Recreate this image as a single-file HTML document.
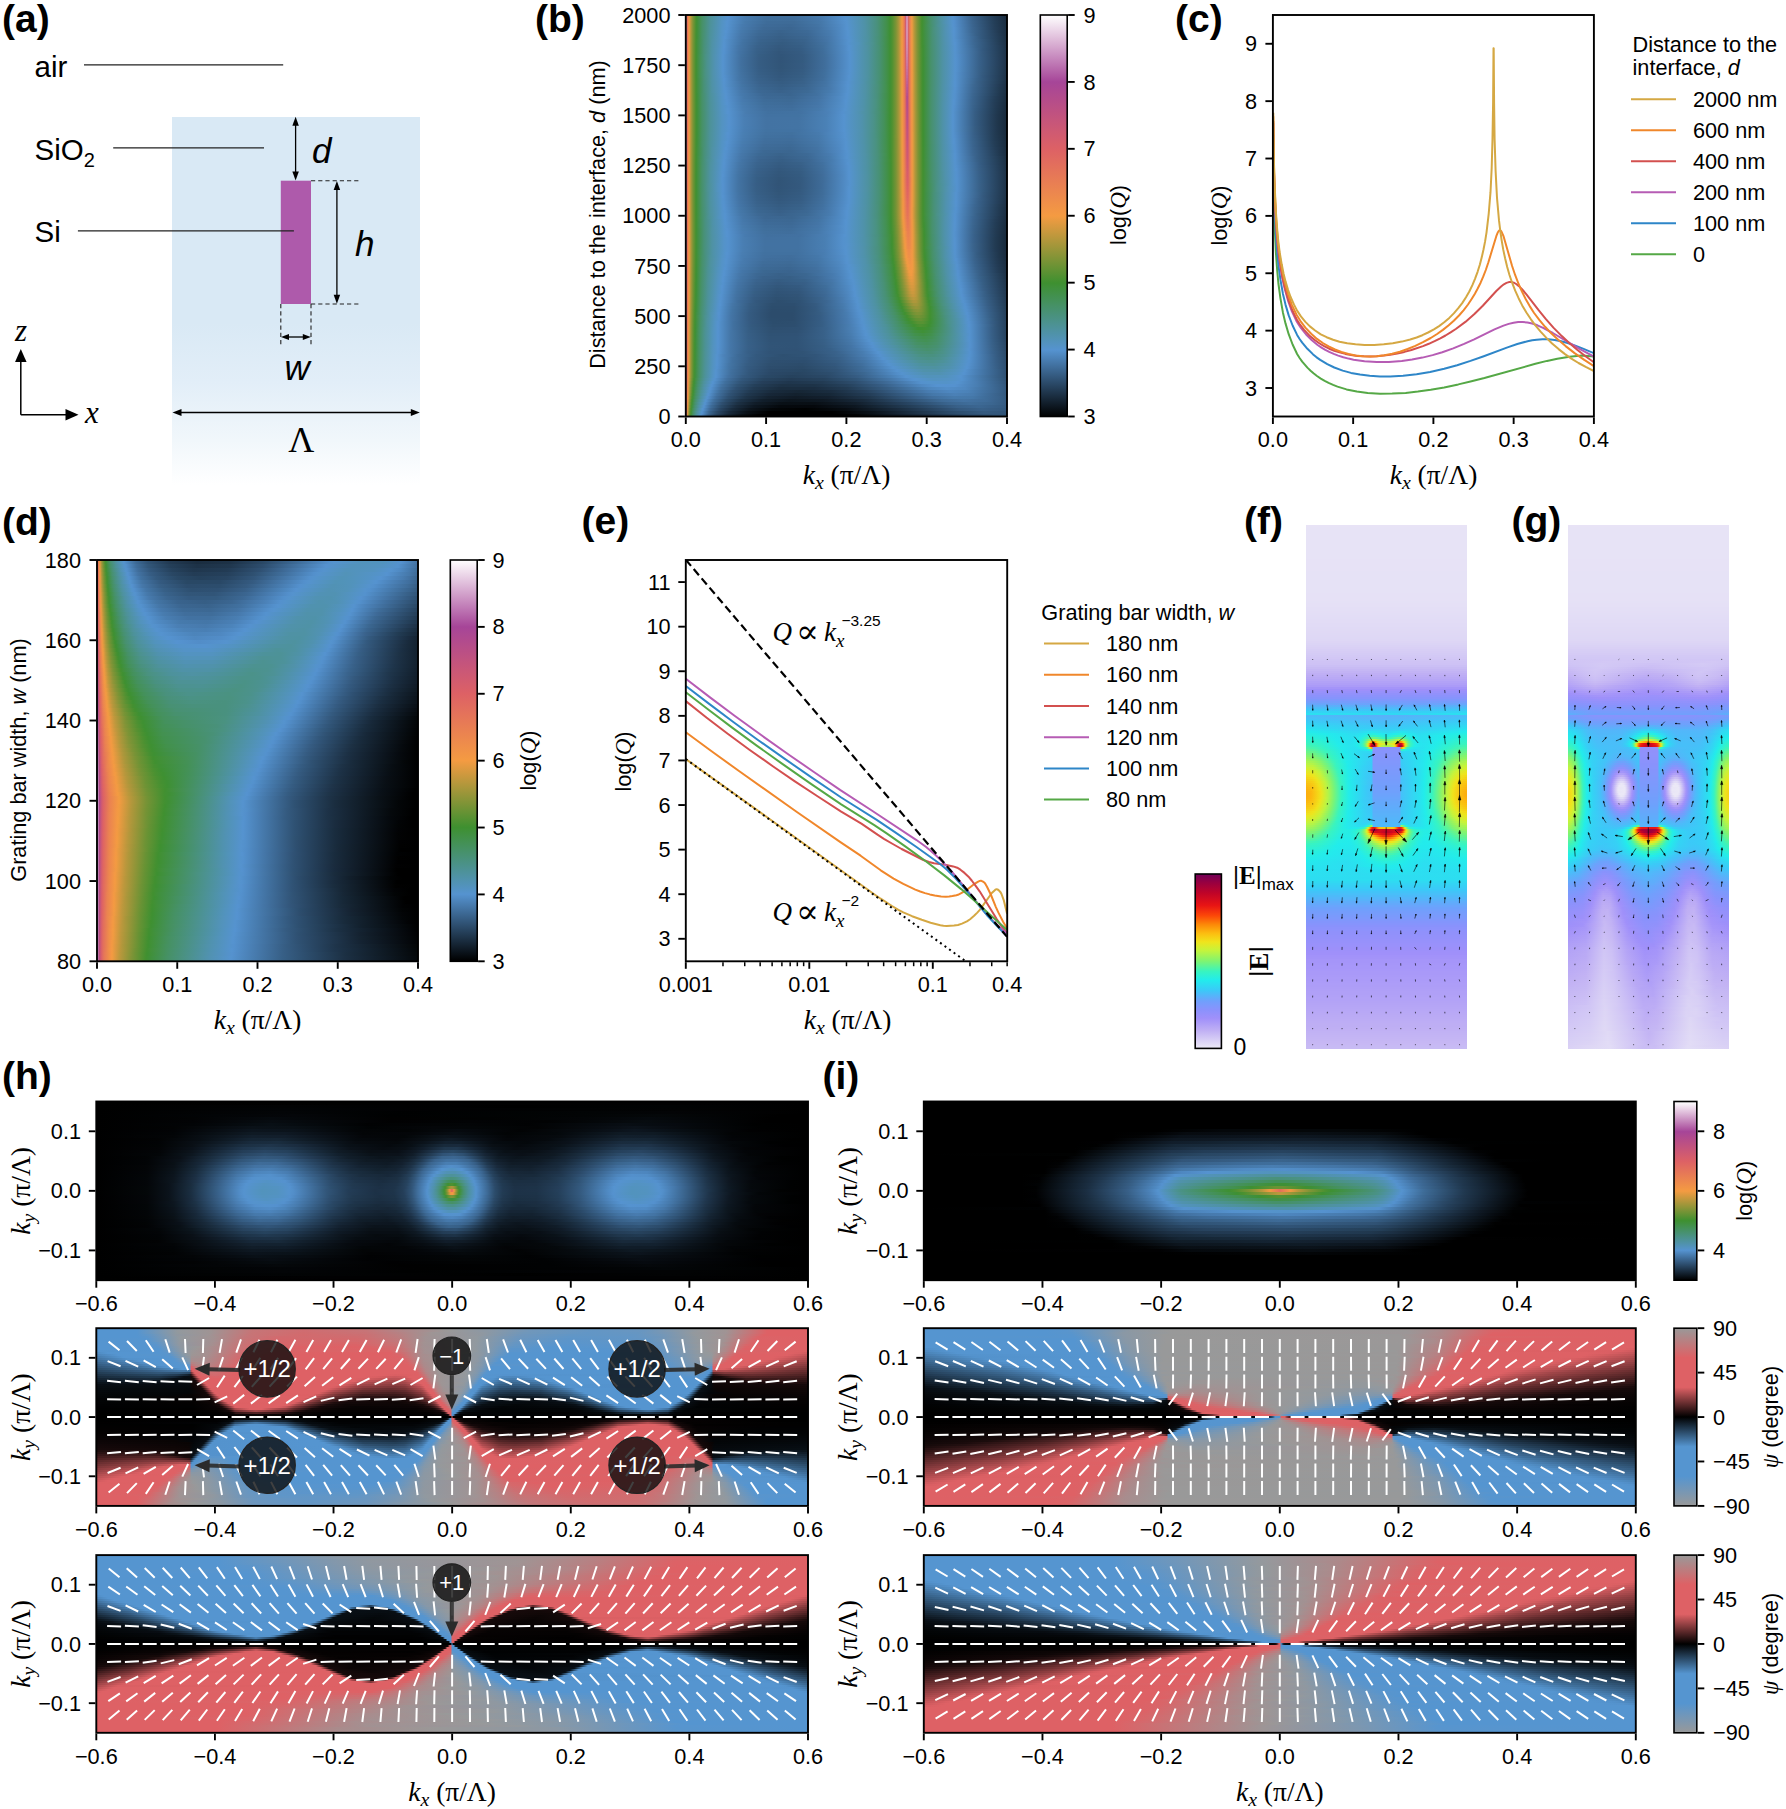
<!DOCTYPE html>
<html><head><meta charset="utf-8"><title>figure</title><style>html,body{margin:0;padding:0;background:#fff}
#p{position:relative;width:1786px;height:1809px;overflow:hidden;background:#fff;font-family:"Liberation Sans",sans-serif}
.hm,.cb{position:absolute}
.hm i{display:block}
svg{position:absolute;left:0;top:0}
</style></head><body><div id="p">
<div style="position:absolute;left:172.3px;top:116.6px;width:247.6px;height:368px;background:linear-gradient(180deg,#d9e9f5 0,#d9e9f5 56%,#e2eef8 72%,#f1f7fb 88%,#fff 100%)"></div>
<div class="hm" style="left:685.8px;top:15px;width:321px"><i style="height:3px;background:linear-gradient(90deg,#dbb3d5 0,#dd6165 1px,#eb8350 2px,#f39744 3px,#b0973b 5px,#7c9436 7px,#479131 10px,#3f9035 11px,#469165 16px,#4d9297 24px,#5393c2 36px,#5593d0 42px,#477bae 60px,#406f9d 82px,#406f9d 109px,#477bae 136px,#5491ce 158px,#5493ca 163px,#4e92a0 181px,#489174 193px,#419048 201px,#3e9033 204px,#599233 207px,#8d9538 211px,#c5983d 214px,#f39943 216px,#e97e53 218px,#e06861 219px,#bf5281 220px,#e1c0dc 221px,#cf5a72 222px,#e3715b 223px,#f19247 225px,#ed9b41 226px,#b9973c 228px,#819437 231px,#4c9131 235px,#409030 236px,#46916b 244px,#4f92a7 256px,#5493cc 266px,#5593d0 267px,#3b6690 285px,#243f59 307px,#192c3e 321px)"></i><i style="height:3px;background:linear-gradient(90deg,#dbb3d5 0,#dd6165 1px,#eb8350 2px,#f39844 3px,#b0973b 5px,#7c9436 7px,#469031 10px,#3f9035 11px,#469166 16px,#4d9298 24px,#5393c2 36px,#5592cf 42px,#487db1 57px,#406f9c 79px,#3f6d9a 106px,#4577a9 133px,#5593cf 160px,#4f92a9 178px,#4a9281 190px,#42914f 200px,#3e9033 204px,#4e9132 206px,#7e9436 210px,#b0973b 213px,#f39943 216px,#e97e53 218px,#e06960 219px,#c05280 220px,#e2c3de 221px,#cf5a72 222px,#e3715b 223px,#f09247 225px,#ee9b41 226px,#b9973c 228px,#819437 231px,#4c9131 235px,#419030 236px,#46916a 244px,#4e929e 254px,#5493cc 266px,#5491cd 268px,#3a648e 286px,#243e58 308px,#1a2c3f 321px)"></i><i style="height:3px;background:linear-gradient(90deg,#dab3d5 0,#dd6165 1px,#eb8350 2px,#f39844 3px,#af973b 5px,#7c9436 7px,#469031 10px,#3f9036 11px,#469166 16px,#4d9298 24px,#5393c3 36px,#5593cf 41px,#467aac 59px,#3e6c99 81px,#3e6b97 108px,#4578a9 135px,#538fca 157px,#5593ce 161px,#4f92a6 179px,#49917d 191px,#429049 201px,#3e9033 204px,#4e9132 206px,#7e9436 210px,#b0973b 213px,#f39943 216px,#e97e53 218px,#e06960 219px,#c0527f 220px,#e3c5df 221px,#ce5973 222px,#e3715c 223px,#f09248 225px,#ee9b41 226px,#ba973c 228px,#829437 231px,#4c9131 235px,#419030 236px,#489176 246px,#5092af 258px,#5493cb 266px,#5491ce 268px,#3b658f 286px,#243f59 308px,#1a2d40 321px)"></i><i style="height:3px;background:linear-gradient(90deg,#dab2d5 0,#dd6165 1px,#eb8350 2px,#f39844 3px,#af973b 5px,#7b9436 7px,#459031 10px,#3f9036 11px,#469167 16px,#4d9299 24px,#5393c4 36px,#5593cf 41px,#477baf 56px,#3e6b98 78px,#3c6894 105px,#4374a4 132px,#508ac3 154px,#5593cf 161px,#4f92a7 179px,#49917d 191px,#429049 201px,#3e9033 204px,#4e9132 206px,#7e9436 210px,#b0973b 213px,#f39943 216px,#e97f53 218px,#e06960 219px,#c1537f 220px,#e4c6df 221px,#ce5973 222px,#e3705c 223px,#f09248 225px,#ef9b41 226px,#ba983c 228px,#829437 231px,#4c9131 235px,#419030 236px,#44915d 242px,#4c9295 252px,#5593ce 267px,#538fcb 269px,#3a648e 287px,#243e58 309px,#1a2e41 321px)"></i><i style="height:3px;background:linear-gradient(90deg,#dab2d4 0,#dd6165 1px,#eb8450 2px,#f39844 3px,#af973b 5px,#7b9436 7px,#459031 10px,#3f9036 11px,#469167 16px,#4d929a 24px,#5393c5 36px,#5492ce 41px,#477aad 56px,#3d6995 78px,#3b6691 105px,#4272a2 132px,#4f89c2 154px,#5593d0 161px,#4f92a7 179px,#49917d 191px,#429049 201px,#3e9033 204px,#4e9132 206px,#7e9436 210px,#af973b 213px,#f39943 216px,#e97f53 218px,#e06a60 219px,#c2537e 220px,#e4c6e0 221px,#cd5974 222px,#e3705c 223px,#f09248 225px,#ef9b42 226px,#bb983c 228px,#829437 231px,#4d9131 235px,#429030 236px,#42914e 240px,#4a9280 248px,#5192b5 260px,#5593cf 268px,#3c6792 286px,#25405b 308px,#1b2e42 321px)"></i><i style="height:3px;background:linear-gradient(90deg,#dab2d4 0,#dd6165 1px,#eb8450 2px,#f39844 3px,#ae973b 5px,#7b9436 7px,#459031 10px,#3f9037 11px,#469167 16px,#4d929a 24px,#5493c6 36px,#5593d0 40px,#467aac 55px,#3d6a96 73px,#39638c 95px,#3d6a96 122px,#487caf 144px,#5593cf 162px,#4f92a5 180px,#499179 192px,#43914f 200px,#3e9033 204px,#4d9132 206px,#7d9436 210px,#af973b 213px,#f39943 216px,#e97f53 218px,#e16a60 219px,#c2547e 220px,#e4c6e0 221px,#cd5974 222px,#e3705c 223px,#f09148 225px,#f09b42 226px,#bb983c 228px,#839437 231px,#4d9131 235px,#429030 236px,#419046 239px,#49917b 247px,#5192b1 259px,#5593cd 267px,#5593d0 268px,#3c6893 286px,#223a52 313px,#1b2f43 321px)"></i><i style="height:3px;background:linear-gradient(90deg,#dab2d4 0,#dd6165 1px,#eb8450 2px,#f39844 3px,#ae973b 5px,#7a9436 7px,#449031 10px,#3f9037 11px,#469168 16px,#4d929b 24px,#5493c7 36px,#5492ce 40px,#4678aa 55px,#3c6893 73px,#386189 95px,#3c6894 122px,#477bae 144px,#5593cf 162px,#4f92a5 180px,#49917a 192px,#43914f 200px,#3e9033 204px,#4d9132 206px,#7d9436 210px,#af973b 213px,#f39943 216px,#e97f53 218px,#e16a5f 219px,#c3547d 220px,#e3c5df 221px,#cc5875 222px,#e36f5c 223px,#f09148 225px,#f09b42 226px,#bb983c 228px,#839437 231px,#4d9132 235px,#429030 236px,#40903e 238px,#489175 246px,#5092ad 258px,#5593cf 268px,#386189 290px,#1f354b 317px,#1c3044 321px)"></i><i style="height:3px;background:linear-gradient(90deg,#dab1d4 0,#dd6165 1px,#eb8450 2px,#f39844 3px,#ae973b 5px,#7a9436 7px,#449031 10px,#3f9037 11px,#469168 16px,#4d929c 24px,#5493c8 36px,#5593d0 39px,#4678aa 54px,#3b6691 72px,#375f86 94px,#3b6690 121px,#4678aa 143px,#5491ce 161px,#5493cc 164px,#4e929f 182px,#479170 194px,#419042 202px,#3e9033 204px,#4d9132 206px,#7d9436 210px,#af973b 213px,#f39943 216px,#e97f53 218px,#e16b5f 219px,#c4547c 220px,#e2c3de 221px,#cc5875 222px,#e36f5c 223px,#f09148 225px,#f19b42 226px,#bc983c 228px,#839437 231px,#4e9132 235px,#439030 236px,#40903e 238px,#489174 246px,#5092ac 258px,#5593ce 268px,#4e87bf 273px,#33597e 295px,#1c3044 321px)"></i><i style="height:3px;background:linear-gradient(90deg,#dab1d4 0,#dd6165 1px,#eb8450 2px,#f39844 3px,#ae973b 5px,#7a9436 7px,#439031 10px,#419043 12px,#489178 18px,#4f92a5 26px,#5593ce 38px,#518cc5 42px,#4273a3 57px,#39638c 75px,#365d83 97px,#39638c 119px,#4475a6 141px,#5593cf 163px,#4e92a3 181px,#489175 193px,#429049 201px,#3f9034 204px,#4d9131 206px,#7d9436 210px,#af973b 213px,#f39a43 216px,#e98053 218px,#e16b5f 219px,#c5557c 220px,#e1c0dc 221px,#cb5875 222px,#e26f5d 223px,#f09148 225px,#f19b42 226px,#bc983c 228px,#849437 231px,#4e9132 235px,#439030 236px,#40903d 238px,#489174 246px,#5092ac 258px,#5593ce 268px,#5390cb 270px,#3c6792 288px,#213a51 315px,#1c3145 321px)"></i><i style="height:3px;background:linear-gradient(90deg,#dab1d4 0,#dd6165 1px,#eb8450 2px,#f39844 3px,#ad973b 5px,#799436 7px,#439031 10px,#419044 12px,#489178 18px,#4f92a6 26px,#5593cf 38px,#4273a3 56px,#38628a 74px,#345b80 96px,#386189 118px,#4273a2 140px,#5492ce 162px,#5293bc 172px,#4c928e 187px,#459161 197px,#3f9034 204px,#4d9131 206px,#7d9436 210px,#ae973b 213px,#f39a43 216px,#e98052 218px,#e16b5f 219px,#c5557b 220px,#dfbcda 221px,#cb5876 222px,#e26f5d 223px,#f09148 225px,#f29b42 226px,#bd983d 228px,#849437 231px,#4e9132 235px,#439031 236px,#40903d 238px,#489174 246px,#5092ab 258px,#5593cd 268px,#5593d0 269px,#3d6a96 287px,#233c55 314px,#1d3246 321px)"></i><i style="height:3px;background:linear-gradient(90deg,#d9b1d4 0,#dd6165 1px,#eb8450 2px,#f39844 3px,#ad973b 5px,#799436 7px,#439030 10px,#419044 12px,#489179 18px,#4f92a6 26px,#5593d0 38px,#4476a7 53px,#39628b 71px,#34597e 93px,#365e85 115px,#406f9c 137px,#518cc6 159px,#5593d0 163px,#4f92a3 181px,#489176 193px,#429049 201px,#3f9034 204px,#4d9131 206px,#7d9436 210px,#ae973b 213px,#f49a43 216px,#e98052 218px,#e16b5f 219px,#c6557a 220px,#ddb8d8 221px,#ca5876 222px,#e26e5d 223px,#f09048 225px,#f29b42 226px,#bd983d 228px,#849437 231px,#4f9132 235px,#439031 236px,#3f9034 237px,#47916e 245px,#4f92a7 257px,#5593cf 269px,#39638c 291px,#1d3247 321px)"></i><i style="height:3px;background:linear-gradient(90deg,#d9b0d3 0,#dd6165 1px,#eb8450 2px,#f39844 3px,#ad973b 5px,#799436 7px,#429030 10px,#419044 12px,#499179 18px,#4f92a7 26px,#5493cb 36px,#5592cf 38px,#4475a6 53px,#386189 71px,#33587c 93px,#355c83 115px,#3f6e9b 137px,#518cc6 159px,#5593d0 163px,#4f92a3 181px,#489176 193px,#42904a 201px,#3f9034 204px,#4d9131 206px,#7c9436 210px,#ae973b 213px,#f49a43 216px,#e98052 218px,#e16c5e 219px,#c6567a 220px,#dbb3d5 221px,#ca5777 222px,#e26e5d 223px,#f09048 225px,#f29b42 226px,#bd983d 228px,#859437 231px,#4f9132 235px,#3f9034 237px,#47916d 245px,#4f92a7 257px,#5593cf 269px,#345a80 296px,#1d3348 321px)"></i><i style="height:3px;background:linear-gradient(90deg,#d9b0d3 0,#dd6265 1px,#eb8450 2px,#f39844 3px,#ad973b 5px,#799436 7px,#429030 10px,#419044 12px,#499179 18px,#4f92a7 26px,#5493cb 36px,#5492cf 38px,#4374a5 53px,#376088 71px,#32567a 93px,#355b81 115px,#3f6d9a 137px,#5593cf 164px,#4e92a0 182px,#479171 194px,#419043 202px,#3f9034 204px,#4d9131 206px,#7c9436 210px,#ae973b 213px,#f49a43 216px,#e98052 218px,#e16c5e 219px,#c75679 220px,#d8aed2 221px,#ca5777 222px,#e26e5d 223px,#f09049 225px,#f39b42 226px,#be983d 228px,#859437 231px,#4f9132 235px,#3f9034 237px,#47916d 245px,#4f92a6 257px,#5593ce 269px,#355b81 296px,#1d3348 321px)"></i><i style="height:3px;background:linear-gradient(90deg,#d9b0d3 0,#dd6265 1px,#eb8450 2px,#f39944 3px,#ac973b 5px,#789436 7px,#429030 10px,#42914f 13px,#4a9281 19px,#5092ac 27px,#5593cf 37px,#4171a0 55px,#365e84 73px,#315579 95px,#355b81 117px,#406f9c 139px,#528eca 161px,#5593cf 164px,#4e92a0 182px,#479171 194px,#419043 202px,#3f9034 204px,#4d9131 206px,#7c9436 210px,#ae973b 213px,#f49a43 216px,#ea8152 218px,#e26c5e 219px,#c85679 220px,#d5a8cf 221px,#c95777 222px,#e26d5e 223px,#f09049 225px,#f39b42 226px,#be983d 228px,#859437 231px,#4f9132 235px,#3f9034 237px,#47916d 245px,#4f92a6 257px,#5593ce 269px,#528dc8 272px,#375f86 294px,#1e3348 321px)"></i><i style="height:3px;background:linear-gradient(90deg,#d9b0d3 0,#dd6265 1px,#eb8450 2px,#f39943 3px,#ac973b 5px,#789436 7px,#429030 10px,#43914f 13px,#4a9281 19px,#5092ac 27px,#5593cf 37px,#41709f 55px,#365d84 73px,#315578 95px,#355b81 117px,#406e9c 139px,#528ec9 161px,#5593cf 164px,#4e92a0 182px,#479171 194px,#419043 202px,#3f9034 204px,#4c9131 206px,#7c9436 210px,#ad973b 213px,#f49a43 216px,#ea8152 218px,#e26d5e 219px,#c85778 220px,#d2a2cb 221px,#c95778 222px,#e26d5e 223px,#f09049 225px,#f49b42 226px,#be983d 228px,#859437 231px,#509132 235px,#3e9033 237px,#47916d 245px,#4f92a6 257px,#5593ce 269px,#5390cb 271px,#386189 293px,#1e3349 321px)"></i><i style="height:3px;background:linear-gradient(90deg,#d9b0d3 0,#dd6265 1px,#eb8450 2px,#f39943 3px,#ac973b 5px,#789436 7px,#429030 10px,#449159 14px,#4b928e 21px,#5192b4 29px,#5593cf 37px,#41709f 55px,#365d83 73px,#315478 95px,#345b80 117px,#406e9c 139px,#528ec9 161px,#5593cf 164px,#4e92a0 182px,#479171 194px,#419043 202px,#3f9034 204px,#4c9131 206px,#7c9436 210px,#ad973b 213px,#f49a42 216px,#ea8152 218px,#e26d5e 219px,#c95777 220px,#cf9bc8 221px,#c85678 222px,#e26d5e 223px,#ef9049 225px,#f49b42 226px,#bf983d 228px,#869437 231px,#509132 235px,#3e9033 237px,#47916d 245px,#4f92a6 257px,#5593ce 269px,#5390cc 271px,#38618a 293px,#1e3349 321px)"></i><i style="height:3px;background:linear-gradient(90deg,#d9b0d3 0,#dd6265 1px,#eb8450 2px,#f39943 3px,#ac973b 5px,#789436 7px,#429030 10px,#449159 14px,#4b928e 21px,#5192b4 29px,#5593cf 37px,#41709f 55px,#365d83 73px,#315578 95px,#355b81 117px,#406e9c 139px,#528ec9 161px,#5593cf 164px,#4e92a0 182px,#479171 194px,#419043 202px,#3f9034 204px,#4c9131 206px,#7c9436 210px,#ad973b 213px,#f49a42 216px,#ea8152 218px,#e26d5e 219px,#ca5777 220px,#cc94c4 221px,#c85679 222px,#e26d5e 223px,#ef8f49 225px,#f49b42 226px,#bf983d 228px,#869437 231px,#509132 235px,#3e9033 237px,#47916d 245px,#4f92a6 257px,#5593ce 269px,#5390cc 271px,#38618a 293px,#1e3349 321px)"></i><i style="height:3px;background:linear-gradient(90deg,#d9b0d3 0,#dd6265 1px,#eb8450 2px,#f39943 3px,#ac973b 5px,#789436 7px,#429030 10px,#449159 14px,#4b928e 21px,#5192b4 29px,#5593cf 37px,#41719f 55px,#365d84 73px,#315578 95px,#355b81 117px,#406e9c 139px,#528ec9 161px,#5593cf 164px,#4e92a0 182px,#479171 194px,#419043 202px,#3f9034 204px,#4c9131 206px,#7c9436 210px,#ad973b 213px,#f49a42 216px,#ea8151 218px,#e26e5d 219px,#ca5876 220px,#c98dc0 221px,#c85679 222px,#e16c5e 223px,#ef8f49 225px,#f49b42 226px,#bf983d 228px,#869437 231px,#509132 235px,#3e9033 237px,#47916c 245px,#4f92a6 257px,#5593ce 269px,#5390cb 271px,#386189 293px,#1e3348 321px)"></i><i style="height:3px;background:linear-gradient(90deg,#d9b0d3 0,#dd6265 1px,#eb8450 2px,#f39943 3px,#ac973b 5px,#789436 7px,#429030 10px,#43914f 13px,#4a9281 19px,#5092ac 27px,#5593cf 37px,#4171a0 55px,#365e85 73px,#325679 95px,#355c82 117px,#406f9d 139px,#528fca 161px,#5593cf 164px,#4e92a0 182px,#479171 194px,#419043 202px,#3f9034 204px,#4c9131 206px,#7c9436 210px,#ad973b 213px,#d9993f 215px,#f49b42 216px,#ea8251 218px,#e26e5d 219px,#cb5876 220px,#c586bc 221px,#c75679 222px,#e16c5e 223px,#ef8f49 225px,#f49a42 226px,#c0983d 228px,#869437 231px,#509132 235px,#3e9033 237px,#47916c 245px,#4f92a6 257px,#5593ce 269px,#5390cb 271px,#386189 293px,#1d3348 321px)"></i><i style="height:3px;background:linear-gradient(90deg,#d9b0d3 0,#dd6265 1px,#eb8450 2px,#f39943 3px,#ac973b 5px,#789436 7px,#429030 10px,#42914f 13px,#4a9281 19px,#5092ac 27px,#5593ce 37px,#4272a1 55px,#375f86 73px,#32577b 95px,#365d83 117px,#40709e 139px,#538fca 161px,#5593ce 164px,#4e92a0 182px,#479171 194px,#419043 202px,#3f9034 204px,#4c9131 206px,#7c9436 210px,#ad973b 213px,#d9993f 215px,#f49b42 216px,#ea8251 218px,#e26e5d 219px,#cc5875 220px,#c27fb8 221px,#c7567a 222px,#e16c5f 223px,#ef8f49 225px,#f49a42 226px,#ab973b 229px,#779336 232px,#459031 236px,#3e9033 237px,#47916c 245px,#4f92a6 257px,#5593ce 269px,#508ac4 273px,#365d83 295px,#1d3348 321px)"></i><i style="height:3px;background:linear-gradient(90deg,#d9b0d3 0,#dd6265 1px,#eb8450 2px,#f39943 3px,#ac973b 5px,#789436 7px,#429030 10px,#42914f 13px,#4a9280 19px,#5092ab 27px,#5593ce 37px,#5390cc 39px,#4374a4 54px,#386189 72px,#33587d 94px,#365e84 116px,#406f9d 138px,#528ec9 160px,#5593d0 163px,#4f92a3 181px,#489176 193px,#42904a 201px,#3f9034 204px,#4c9131 206px,#7c9436 210px,#ad973b 213px,#d9993f 215px,#f49b42 216px,#ea8251 218px,#e26f5d 219px,#cc5974 220px,#be78b4 221px,#c6567a 222px,#e16b5f 223px,#ef8f49 225px,#f49a42 226px,#ab973b 229px,#789336 232px,#459031 236px,#3e9033 237px,#47916c 245px,#4f92a6 257px,#5593cf 269px,#345a80 296px,#1d3247 321px)"></i><i style="height:3px;background:linear-gradient(90deg,#d9b0d3 0,#dd6265 1px,#eb8450 2px,#f39844 3px,#ad973b 5px,#799436 7px,#429030 10px,#419044 12px,#499179 18px,#4f92a7 26px,#5593d0 38px,#4476a7 53px,#39638c 71px,#345a7f 93px,#375f86 115px,#406f9d 137px,#518dc7 159px,#5593cf 163px,#4e92a3 181px,#489176 193px,#42904a 201px,#3f9034 204px,#4c9131 206px,#7c9436 210px,#ac973b 213px,#d9993f 215px,#f49b42 216px,#ea8251 218px,#e26f5d 219px,#cd5974 220px,#bb71b0 221px,#c6557a 222px,#e16b5f 223px,#ef8f49 225px,#f49a43 226px,#ab973b 229px,#789336 232px,#469031 236px,#3e9033 237px,#47916c 245px,#4f92a6 257px,#5593cf 269px,#39638c 291px,#1d3246 321px)"></i><i style="height:3px;background:linear-gradient(90deg,#d9b0d3 0,#dd6265 1px,#eb8450 2px,#f39844 3px,#ad973b 5px,#799436 7px,#439030 10px,#419044 12px,#489179 18px,#4f92a6 26px,#5593cf 38px,#4373a3 56px,#39628b 74px,#355c82 96px,#39628a 118px,#4374a4 140px,#5592cf 162px,#5092ae 177px,#4a9286 189px,#439156 199px,#3f9034 204px,#4c9131 206px,#7c9436 210px,#ac973b 213px,#d8993f 215px,#f49b42 216px,#ea8251 218px,#e36f5c 219px,#ce5973 220px,#b86aac 221px,#c6557a 222px,#e16b5f 223px,#ef8e4a 225px,#f49a43 226px,#ab973b 229px,#789436 232px,#469031 236px,#3e9032 237px,#47916c 245px,#4f92a6 257px,#5593d0 269px,#39628a 291px,#1c3145 321px)"></i><i style="height:3px;background:linear-gradient(90deg,#d9b0d3 0,#dd6165 1px,#eb8450 2px,#f39844 3px,#ad973b 5px,#799436 7px,#439030 10px,#419044 12px,#489178 18px,#4f92a6 26px,#5593ce 38px,#4375a5 56px,#3a648e 74px,#365e85 96px,#3a648d 118px,#4475a5 140px,#5593d0 162px,#4f92a5 180px,#49917a 192px,#439150 200px,#3f9034 204px,#4c9131 206px,#7c9436 210px,#ac973b 213px,#d8993f 215px,#f49b42 216px,#ea8251 218px,#e36f5c 219px,#ce5973 220px,#b462a8 221px,#c6557b 222px,#e16b5f 223px,#ef8e4a 225px,#f49a43 226px,#ac973b 229px,#789436 232px,#469031 236px,#3e9032 237px,#47916c 245px,#4f92a7 257px,#5593d0 269px,#3d6994 287px,#223a53 314px,#1c3044 321px)"></i><i style="height:3px;background:linear-gradient(90deg,#d9b1d4 0,#dd6165 1px,#eb8450 2px,#f39844 3px,#ad973b 5px,#799436 7px,#439031 10px,#419044 12px,#489178 18px,#4f92a5 26px,#5593cd 38px,#5491cd 40px,#4577a9 55px,#3b6791 73px,#376088 95px,#3c6893 122px,#477aad 144px,#5593cf 162px,#4f92a5 180px,#499179 192px,#439150 200px,#3f9034 204px,#4c9131 206px,#7c9436 210px,#ac973b 213px,#d8993f 215px,#f49b42 216px,#ea8351 218px,#e3705c 219px,#cf5a72 220px,#b15ba4 221px,#c5557b 222px,#e16a5f 223px,#ef8e4a 225px,#f39a43 226px,#ac973b 229px,#789436 232px,#469031 236px,#3e9032 237px,#47916d 245px,#4f92a7 257px,#5592cf 269px,#3c6893 287px,#213a51 314px,#1c3043 321px)"></i><i style="height:3px;background:linear-gradient(90deg,#dab1d4 0,#dd6165 1px,#eb8450 2px,#f39844 3px,#ad973b 5px,#7a9436 7px,#439031 10px,#419043 12px,#489178 18px,#4f92a5 26px,#5493cd 38px,#5492ce 40px,#4679ab 55px,#3c6894 73px,#39628b 95px,#3d6a95 122px,#477caf 144px,#5593cf 162px,#4f92a4 180px,#499179 192px,#439150 200px,#3f9034 204px,#4d9131 206px,#7c9436 210px,#ac973b 213px,#d8993f 215px,#f39b42 216px,#ea8351 218px,#e3705c 219px,#d05a71 220px,#ad54a0 221px,#c5557b 222px,#e16a5f 223px,#e97f53 224px,#f39a43 226px,#ac973b 229px,#789436 232px,#469031 236px,#3e9032 237px,#47916d 245px,#4f92a7 257px,#5493cb 267px,#5492ce 269px,#3c6792 287px,#213950 314px,#1b2f42 321px)"></i><i style="height:3px;background:linear-gradient(90deg,#dab1d4 0,#dd6165 1px,#eb8450 2px,#f39844 3px,#ae973b 5px,#7a9436 7px,#449031 10px,#3f9038 11px,#469168 16px,#4d929b 24px,#5493c6 36px,#5593cf 40px,#467aad 55px,#3c6894 77px,#3a658f 104px,#4171a0 131px,#4e88c0 153px,#5593d0 161px,#4f92a7 179px,#49917d 191px,#429049 201px,#3f9034 204px,#4d9131 206px,#7b9436 210px,#ac973b 213px,#d8993f 215px,#f39b42 216px,#ea8350 218px,#e3705c 219px,#d05b71 220px,#aa4d9c 221px,#c5557b 222px,#e16a60 223px,#e97f53 224px,#f39943 226px,#ac973b 229px,#799436 232px,#469031 236px,#3e9032 237px,#47916d 245px,#4f92a8 257px,#5493cc 267px,#5491cd 269px,#3b6690 287px,#20384f 314px,#1b2e41 321px)"></i><i style="height:3px;background:linear-gradient(90deg,#dab1d4 0,#dd6165 1px,#eb8450 2px,#f39844 3px,#ae973b 5px,#7a9436 7px,#449031 10px,#3f9037 11px,#469168 16px,#4d929a 24px,#5393c5 36px,#5593d0 40px,#4578aa 58px,#3d6995 80px,#3c6893 107px,#4475a6 134px,#5593cf 161px,#4f92a7 179px,#49917d 191px,#429049 201px,#3f9034 204px,#4d9131 206px,#7b9436 210px,#ac973b 213px,#d7993f 215px,#f39b42 216px,#eb8350 218px,#e3715b 219px,#d15b70 220px,#a64699 221px,#c5557b 222px,#e06a60 223px,#e97f53 224px,#f39943 226px,#ad973b 229px,#799436 232px,#469031 236px,#3e9032 237px,#47916d 245px,#4f92a8 257px,#5493cc 267px,#5491cd 269px,#3a658f 287px,#243e58 309px,#1a2d40 321px)"></i><i style="height:3px;background:linear-gradient(90deg,#dab1d4 0,#dd6165 1px,#eb8450 2px,#f39844 3px,#ae973b 5px,#7a9436 7px,#449031 10px,#3f9037 11px,#469168 16px,#4d929a 24px,#5393c5 36px,#5592cf 41px,#477baf 56px,#3e6c99 78px,#3d6a95 105px,#4475a6 132px,#508bc4 154px,#5593d0 160px,#4f92a9 178px,#4a9281 190px,#42914f 200px,#3f9034 204px,#4d9131 206px,#7b9436 210px,#ac973b 213px,#d7993f 215px,#f29b42 216px,#eb8350 218px,#e3715b 219px,#d25b70 220px,#a84696 221px,#e06a60 223px,#e97f53 224px,#f39943 226px,#ad973b 229px,#799436 232px,#469031 236px,#3e9032 237px,#47916d 245px,#4f92a8 257px,#5593cd 267px,#5593d0 268px,#3b6691 286px,#243f59 308px,#1a2d3f 321px)"></i><i style="height:3px;background:linear-gradient(90deg,#dab1d4 0,#dd6165 1px,#eb8450 2px,#f39844 3px,#ae973b 5px,#7b9436 7px,#459031 10px,#3f9037 11px,#469167 16px,#4d9299 24px,#5393c4 36px,#5593d0 41px,#487db0 56px,#3f6e9b 78px,#3e6b98 105px,#4476a8 132px,#518cc5 154px,#5593cf 160px,#4f92a9 178px,#4a9281 190px,#42914f 200px,#3f9034 204px,#4d9131 206px,#7b9436 210px,#ac973b 213px,#d7993f 215px,#f29b42 216px,#eb8450 218px,#e4715b 219px,#d25c6f 220px,#aa4794 221px,#c5557b 222px,#e06960 223px,#e97e53 224px,#f39943 226px,#ad973b 229px,#799436 232px,#469131 236px,#3e9032 237px,#47916d 245px,#4f92a9 257px,#5593cd 267px,#5593cf 268px,#3b6690 286px,#243e58 308px,#192c3e 321px)"></i><i style="height:3px;background:linear-gradient(90deg,#dab1d4 0,#dd6165 1px,#eb8450 2px,#f39844 3px,#ae973b 5px,#7b9436 7px,#459031 10px,#3f9037 11px,#469167 16px,#4d9299 24px,#5393c3 36px,#5492ce 42px,#487db1 57px,#406f9d 79px,#3f6d9b 106px,#4678aa 133px,#5593ce 160px,#4f92a8 178px,#4a9281 190px,#42914f 200px,#3f9034 204px,#4d9131 206px,#7b9436 210px,#ab973b 213px,#d7993f 215px,#f29b42 216px,#eb8450 218px,#e4725b 219px,#d35c6e 220px,#ac4893 221px,#c5557b 222px,#e06960 223px,#ef8d4a 225px,#f39943 226px,#ad973b 229px,#799436 232px,#469131 236px,#3e9032 237px,#47916d 245px,#4f92a9 257px,#5593ce 267px,#538fcb 269px,#39638c 287px,#233c55 309px,#192b3d 321px)"></i><i style="height:3px;background:linear-gradient(90deg,#dab2d4 0,#dd6165 1px,#eb8450 2px,#f39844 3px,#af973b 5px,#7b9436 7px,#459031 10px,#3f9036 11px,#469167 16px,#4d9299 24px,#5393c3 36px,#5593cf 42px,#497eb2 57px,#41709f 79px,#406f9d 106px,#467aac 133px,#528ec9 155px,#5593cf 159px,#5092ab 177px,#4a9284 189px,#439155 199px,#3e9033 204px,#4d9131 206px,#7b9436 210px,#ab973b 213px,#d6993f 215px,#f29b42 216px,#eb8450 218px,#e4725b 219px,#d45c6e 220px,#ae4991 221px,#c5557b 222px,#e06960 223px,#ef8d4a 225px,#f39943 226px,#ae973b 229px,#799436 232px,#479131 236px,#3e9032 237px,#47916d 245px,#4f92a9 257px,#5593ce 267px,#518cc6 270px,#376088 288px,#213a52 310px,#192b3d 321px)"></i><i style="height:3px;background:linear-gradient(90deg,#dab2d4 0,#dd6165 1px,#eb8450 2px,#f39844 3px,#af973b 5px,#7b9436 7px,#459031 10px,#3f9036 11px,#469166 16px,#4d9298 24px,#5393c2 36px,#5593d0 42px,#487caf 60px,#4171a0 82px,#4272a2 115px,#4b81b7 142px,#5491ce 157px,#5493c8 163px,#4e929f 181px,#489174 193px,#429049 201px,#3e9033 204px,#4d9131 206px,#7b9436 210px,#ab973b 213px,#d6993f 215px,#f19b42 216px,#eb8450 218px,#e4725a 219px,#d45d6d 220px,#b04a8f 221px,#c5557b 222px,#e06960 223px,#ee8d4a 225px,#f39943 226px,#9b9639 230px,#5e9233 234px,#3e9032 237px,#47916d 245px,#4f92a9 257px,#5593ce 267px,#365d84 289px,#20384f 311px,#192a3c 321px)"></i><i style="height:3px;background:linear-gradient(90deg,#dab2d4 0,#dd6165 1px,#eb8450 2px,#f39844 3px,#af973b 5px,#7b9436 7px,#459031 10px,#3f9036 11px,#469166 16px,#4d9298 24px,#5393c2 36px,#5492ce 43px,#497eb3 58px,#4272a2 80px,#4273a2 113px,#4a80b5 140px,#5593d0 158px,#5092ad 176px,#4b9288 188px,#44915b 198px,#3e9033 204px,#4d9131 206px,#7b9436 210px,#ab973b 213px,#d6993f 215px,#f19b42 216px,#eb8450 218px,#e4735a 219px,#d55d6c 220px,#b24b8d 221px,#c6557b 222px,#e06960 223px,#ee8d4b 225px,#f39943 226px,#9b9639 230px,#5e9233 234px,#3e9032 237px,#47916d 245px,#4f92a9 257px,#5593cf 267px,#365d83 289px,#20374e 311px,#182a3c 321px)"></i><i style="height:3px;background:linear-gradient(90deg,#dab2d4 0,#dd6165 1px,#eb8450 2px,#f39844 3px,#af973b 5px,#7b9436 7px,#459031 10px,#3f9036 11px,#469166 16px,#4d9298 24px,#5393c1 36px,#5492cf 43px,#497fb4 58px,#4373a3 80px,#4373a3 113px,#4a81b6 140px,#5593d0 158px,#5092ad 176px,#4b9288 188px,#44915b 198px,#3e9033 204px,#4d9131 206px,#7b9436 210px,#ab973b 213px,#d6993f 215px,#f19b42 216px,#eb854f 218px,#e4735a 219px,#d65d6c 220px,#b44c8b 221px,#c6557a 222px,#e06960 223px,#ee8d4b 225px,#f39844 226px,#9b9639 230px,#5f9233 234px,#3e9032 237px,#47916d 245px,#4f92a9 257px,#5593cf 267px,#365d83 289px,#20374e 311px,#182a3b 321px)"></i><i style="height:3px;background:linear-gradient(90deg,#dab2d4 0,#dd6165 1px,#eb8450 2px,#f39844 3px,#af973b 5px,#7b9436 7px,#459031 10px,#3f9036 11px,#469166 16px,#4d9298 24px,#5393c1 36px,#5592cf 43px,#4a7fb4 58px,#4373a3 80px,#4374a4 113px,#4a81b6 140px,#5593cf 158px,#5092ac 176px,#4b9288 188px,#44915b 198px,#3e9033 204px,#4d9131 206px,#7b9436 210px,#ab973b 213px,#d5993f 215px,#f09b42 216px,#eb854f 218px,#e4745a 219px,#d75e6b 220px,#b64d89 221px,#c6557a 222px,#e06960 223px,#ee8d4b 225px,#f39844 226px,#9b9639 230px,#5f9233 234px,#3e9031 237px,#47916d 245px,#4f92a9 257px,#5593cf 267px,#355c83 289px,#20374d 311px,#182a3b 321px)"></i><i style="height:3px;background:linear-gradient(90deg,#dab2d4 0,#dd6165 1px,#eb8450 2px,#f39844 3px,#af973b 5px,#7b9436 7px,#459031 10px,#3f9036 11px,#469166 16px,#4d9298 24px,#5393c1 36px,#5592cf 43px,#4a7fb4 58px,#4373a3 80px,#4374a4 113px,#4a81b6 140px,#5593cf 158px,#5092ac 176px,#4b9288 188px,#44915b 198px,#3e9033 204px,#4d9131 206px,#7b9436 210px,#aa973b 213px,#d5993f 215px,#f09b42 216px,#eb854f 218px,#e5745a 219px,#d75e6a 220px,#b84e88 221px,#c7567a 222px,#e06960 223px,#ee8d4b 225px,#f39844 226px,#9c9639 230px,#5f9233 234px,#3e9031 237px,#47916d 245px,#4f92a9 257px,#5593cf 267px,#355c83 289px,#20374d 311px,#182a3b 321px)"></i><i style="height:3px;background:linear-gradient(90deg,#dab2d4 0,#dd6165 1px,#eb8450 2px,#f39844 3px,#af973b 5px,#7b9436 7px,#459031 10px,#3f9036 11px,#469166 16px,#4d9298 24px,#5393c2 36px,#5492cf 43px,#497fb4 58px,#4373a3 80px,#4374a4 113px,#4a81b6 140px,#5593cf 158px,#5092ac 176px,#4b9288 188px,#44915b 198px,#3f9034 204px,#4d9131 206px,#7b9436 210px,#aa973b 213px,#d5993f 215px,#ef9b42 216px,#f19247 217px,#e57459 219px,#d85f69 220px,#ba4f86 221px,#c75679 222px,#e06960 223px,#ee8c4b 225px,#f39844 226px,#9c9639 230px,#5f9233 234px,#3e9031 237px,#47916d 245px,#4f92a9 257px,#5593cf 267px,#365d83 289px,#20374e 311px,#182a3b 321px)"></i><i style="height:3px;background:linear-gradient(90deg,#dab1d4 0,#dd6165 1px,#eb8450 2px,#f39844 3px,#ae973b 5px,#7b9436 7px,#459031 10px,#3f9036 11px,#469166 16px,#4d9298 24px,#5393c2 36px,#5492ce 43px,#497eb3 58px,#4273a2 80px,#4273a3 113px,#4a80b6 140px,#5593d0 158px,#5092ad 176px,#4b9288 188px,#44915b 198px,#3f9034 204px,#4c9131 206px,#7b9436 210px,#aa973b 213px,#d5993f 215px,#ef9b42 216px,#f19247 217px,#e57559 219px,#d95f69 220px,#bc5084 221px,#c85679 222px,#e06960 223px,#ee8c4b 225px,#f39844 226px,#9c9639 230px,#5f9233 234px,#3e9031 237px,#47916c 245px,#4f92a9 257px,#5593ce 267px,#365d83 289px,#20374e 311px,#182a3b 321px)"></i><i style="height:3px;background:linear-gradient(90deg,#dab1d4 0,#dd6165 1px,#eb8450 2px,#f39844 3px,#ae973b 5px,#7b9436 7px,#459031 10px,#3f9036 11px,#469167 16px,#4d9299 24px,#5393c2 36px,#5593d0 42px,#497fb3 57px,#4272a1 79px,#41719f 106px,#477bae 133px,#538fca 155px,#5593cf 159px,#5092aa 177px,#4a9284 189px,#439155 199px,#3f9034 204px,#4c9131 206px,#7b9436 210px,#aa973b 213px,#d4993f 215px,#ef9b41 216px,#f19347 217px,#e57559 219px,#da5f68 220px,#bd5182 221px,#c85778 222px,#e06960 223px,#ee8c4b 225px,#f39844 226px,#df9a40 227px,#b0973b 229px,#7b9436 232px,#489131 236px,#3e9031 237px,#47916c 245px,#4f92a9 257px,#5593ce 267px,#518cc6 270px,#375f87 288px,#213950 310px,#182a3c 321px)"></i><i style="height:3px;background:linear-gradient(90deg,#dab1d4 0,#dd6165 1px,#eb8450 2px,#f39844 3px,#ae973b 5px,#7b9436 7px,#459031 10px,#3f9037 11px,#469167 16px,#4d9299 24px,#5393c3 36px,#5592cf 42px,#497eb2 57px,#41719f 79px,#406f9e 106px,#467aac 133px,#528fca 155px,#5593cf 159px,#5092aa 177px,#4a9284 189px,#439155 199px,#3f9034 204px,#4c9131 206px,#899537 211px,#bd983d 214px,#ee9b41 216px,#f19347 217px,#e57659 219px,#db6067 220px,#bf5281 221px,#c95777 222px,#e06960 223px,#ee8c4b 225px,#f39844 226px,#e09a40 227px,#b0973b 229px,#7c9436 232px,#489131 236px,#3e9030 237px,#47916c 245px,#4f92a8 257px,#5593ce 267px,#538fcb 269px,#39628b 287px,#223b53 309px,#192b3c 321px)"></i><i style="height:3px;background:linear-gradient(90deg,#dab1d4 0,#dd6165 1px,#eb8450 2px,#f39844 3px,#ae973b 5px,#7a9436 7px,#449031 10px,#3f9037 11px,#469167 16px,#4d9299 24px,#5393c3 36px,#5492ce 42px,#487db1 57px,#406f9d 79px,#406e9b 106px,#4679ab 133px,#528ec9 155px,#5593ce 160px,#4f92a8 178px,#4a9281 190px,#42914f 200px,#3f9034 204px,#4c9131 206px,#889437 211px,#bd983d 214px,#ee9b41 216px,#f19347 217px,#e57658 219px,#db6066 220px,#c1537f 221px,#ca5777 222px,#e06960 223px,#ee8c4b 225px,#f39844 226px,#e09a40 227px,#b0973b 229px,#7c9436 232px,#3e9030 237px,#47916c 245px,#4f92a8 257px,#5593cd 267px,#5593cf 268px,#3a658f 286px,#233d56 308px,#192b3d 321px)"></i><i style="height:3px;background:linear-gradient(90deg,#dab1d4 0,#dd6165 1px,#eb8450 2px,#f39844 3px,#ae973b 5px,#7a9436 7px,#449031 10px,#3f9037 11px,#469168 16px,#4d929a 24px,#5393c4 36px,#5593d0 41px,#487db0 56px,#406e9c 78px,#3e6c99 105px,#4577a8 132px,#518cc6 154px,#5593cf 160px,#4f92a8 178px,#4a9281 190px,#42914f 200px,#3f9034 204px,#4c9131 206px,#889437 211px,#bd983d 214px,#ed9b41 216px,#f19347 217px,#e67658 219px,#dc6166 220px,#c3547d 221px,#cb5876 222px,#e06960 223px,#ee8c4b 225px,#f39844 226px,#e09a40 227px,#b1973b 229px,#7c9436 232px,#3e9030 237px,#47916b 245px,#4f92a8 257px,#5593cd 267px,#5593d0 268px,#3b6690 286px,#243e57 308px,#192c3e 321px)"></i><i style="height:3px;background:linear-gradient(90deg,#d9b0d4 0,#dd6165 1px,#eb8450 2px,#f39844 3px,#ad973b 5px,#7a9436 7px,#449031 10px,#3f9038 11px,#469168 16px,#4d929a 24px,#5393c5 36px,#5492cf 41px,#477baf 56px,#3f6c99 78px,#3d6a96 105px,#4476a6 132px,#508bc5 154px,#5593cf 160px,#4f92a9 178px,#4a9281 190px,#43914f 200px,#3f9034 204px,#4c9131 206px,#889437 211px,#bc983d 214px,#ed9b41 216px,#f19347 217px,#e67758 219px,#dd6165 220px,#c5557b 221px,#cc5875 222px,#e06960 223px,#ee8c4b 225px,#f39844 226px,#e19a40 227px,#b1973b 229px,#7c9436 232px,#3e9030 237px,#46916b 245px,#4f92a7 257px,#5493cc 267px,#5491cd 269px,#3a648e 287px,#233d56 309px,#1a2c3e 321px)"></i><i style="height:3px;background:linear-gradient(90deg,#d9b0d3 0,#dd6265 1px,#eb8450 2px,#f39844 3px,#ad973b 5px,#799436 7px,#439031 10px,#419043 12px,#489177 18px,#4f92a4 26px,#5493cb 38px,#5593d0 40px,#477bae 55px,#3e6b97 77px,#3c6893 104px,#4373a3 131px,#4f89c2 153px,#5593d0 160px,#4f92a9 178px,#4a9281 190px,#439150 200px,#3f9034 204px,#4c9131 206px,#889437 211px,#bc983c 214px,#ec9b41 216px,#f19447 217px,#e67757 219px,#dd6264 220px,#c7567a 221px,#cd5974 222px,#e06960 223px,#ee8c4b 225px,#f39744 226px,#e19a40 227px,#b1973b 229px,#7d9436 232px,#3f9030 237px,#46916b 245px,#4f92a7 257px,#5493cb 267px,#5491ce 269px,#3b658f 287px,#243e58 309px,#1a2d3f 321px)"></i><i style="height:3px;background:linear-gradient(90deg,#d9b0d3 0,#dd6265 1px,#eb8450 2px,#f39844 3px,#ad973b 5px,#799436 7px,#439030 10px,#419044 12px,#489178 18px,#4f92a5 26px,#5493cc 38px,#5390cc 41px,#4679ab 56px,#3c6893 78px,#3b6690 105px,#4273a2 132px,#5089c3 154px,#5593cf 161px,#4f92a6 179px,#49917d 191px,#429049 201px,#3f9034 204px,#429030 205px,#7a9436 210px,#a8963b 213px,#d2993f 215px,#ec9b41 216px,#f19446 217px,#e67857 219px,#de6364 220px,#c95778 221px,#ce5973 222px,#e06960 223px,#ee8c4b 225px,#f39744 226px,#e19a40 227px,#b2973b 229px,#7d9436 232px,#3f9030 237px,#46916a 245px,#4f92a6 257px,#5492cf 269px,#3b6691 287px,#20374e 314px,#1a2d40 321px)"></i><i style="height:3px;background:linear-gradient(90deg,#d9b0d3 0,#dd6265 1px,#eb8450 2px,#f39943 3px,#ac973b 5px,#799436 7px,#429030 10px,#419044 12px,#489178 18px,#4f92a5 26px,#5593cd 38px,#5491cd 40px,#4678aa 55px,#3c6994 73px,#39638b 95px,#3d6a96 122px,#487cb0 144px,#5390cc 159px,#5593ce 162px,#4f92a4 180px,#499179 192px,#439150 200px,#3f9034 204px,#429030 205px,#799436 210px,#a8963a 213px,#d2993f 215px,#eb9a41 216px,#f19446 217px,#e67857 219px,#de6463 220px,#cb5876 221px,#cf5a72 222px,#e06a60 223px,#ee8c4b 225px,#f39744 226px,#e19a40 227px,#b2973b 229px,#7d9436 232px,#3f9030 237px,#46916a 245px,#4f92a6 257px,#5593d0 269px,#3c6792 287px,#20384f 314px,#1b2e41 321px)"></i><i style="height:3px;background:linear-gradient(90deg,#d9afd3 0,#dd6265 1px,#eb8450 2px,#f39943 3px,#ac973b 5px,#789436 7px,#429030 10px,#42914f 13px,#499180 19px,#5092aa 27px,#5493cb 37px,#5592cf 39px,#4678aa 54px,#3c6792 72px,#386088 94px,#3c6893 121px,#467aac 143px,#5593cf 161px,#4f92a7 179px,#49917e 191px,#42904a 201px,#3f9035 204px,#429030 205px,#799436 210px,#a8963a 213px,#d1993f 215px,#eb9a41 216px,#f19446 217px,#e67957 219px,#df6563 220px,#cc5974 221px,#d05a71 222px,#e16a60 223px,#ee8c4b 225px,#f39744 226px,#e29a40 227px,#b2973b 229px,#7d9436 232px,#3f9030 237px,#46916a 245px,#4f92a5 257px,#5593d0 269px,#386088 291px,#1b2f42 321px)"></i><i style="height:3px;background:linear-gradient(90deg,#d9afd3 0,#dd6264 1px,#eb8550 2px,#f39943 3px,#ac973b 5px,#789336 7px,#429030 10px,#459162 15px,#4c9293 22px,#5293bd 32px,#5593cf 38px,#4374a5 56px,#3a648e 74px,#365e85 96px,#3c6792 123px,#477bae 145px,#5390cc 160px,#5593cd 163px,#4e92a2 181px,#489175 193px,#42904a 201px,#429030 205px,#799436 210px,#a8963a 213px,#d1993f 215px,#ea9a41 216px,#f19446 217px,#e77956 219px,#df6662 220px,#ce5973 221px,#d15b70 222px,#e16a5f 223px,#ee8c4b 225px,#f39744 226px,#e29a40 227px,#b2973c 229px,#7e9436 232px,#409030 237px,#46916a 245px,#4f92a5 257px,#5593cf 269px,#386189 291px,#1b3043 321px)"></i><i style="height:3px;background:linear-gradient(90deg,#d9afd3 0,#dd6264 1px,#eb854f 2px,#f39943 3px,#ab973b 5px,#789336 7px,#419030 10px,#46916b 16px,#4e929e 24px,#5493ca 36px,#5593d0 38px,#4577a8 53px,#3a648e 71px,#355c82 93px,#386189 115px,#4171a0 137px,#528ec9 159px,#5593d0 162px,#4f92a5 180px,#49917a 192px,#419043 202px,#419030 205px,#799436 210px,#a7963a 213px,#d0993e 215px,#ea9a41 216px,#f19546 217px,#e77a56 219px,#df6761 220px,#d05a71 221px,#d35c6f 222px,#e16b5f 223px,#ee8c4b 225px,#f29744 226px,#e29a40 227px,#b3973c 229px,#7e9436 232px,#409030 237px,#469169 245px,#4f92a4 257px,#5593ce 269px,#518dc7 272px,#355c83 294px,#1c3044 321px)"></i><i style="height:3px;background:linear-gradient(90deg,#d9afd2 0,#dd6264 1px,#eb854f 2px,#f39943 3px,#ab973b 5px,#779336 7px,#419030 10px,#47916b 16px,#4e929f 24px,#5493cb 36px,#5592cf 38px,#4476a7 53px,#39638c 71px,#345a80 93px,#375f87 115px,#41709e 137px,#528dc8 159px,#5593cf 163px,#4e92a2 181px,#489175 193px,#42904a 201px,#419030 205px,#799436 210px,#a7963a 213px,#d0993e 215px,#e99a41 216px,#f29546 217px,#e77b56 219px,#e06861 220px,#d25b6f 221px,#d45c6d 222px,#e87d54 224px,#f29744 226px,#e29a40 227px,#b3973c 229px,#7e9436 232px,#409030 237px,#469169 245px,#4f92a4 257px,#5593ce 269px,#5390cc 271px,#375f87 293px,#1c3145 321px)"></i><i style="height:3px;background:linear-gradient(90deg,#d8aed2 0,#dd6264 1px,#eb854f 2px,#f39943 3px,#ab973b 5px,#779336 7px,#419030 10px,#47916c 16px,#4e929f 24px,#5493cc 36px,#5492ce 38px,#4475a5 53px,#38618a 71px,#33587d 93px,#365e84 115px,#406f9d 137px,#518dc7 159px,#5593cf 163px,#4e92a2 181px,#489175 193px,#42904a 201px,#419030 205px,#789436 210px,#a7963a 213px,#d0993e 215px,#e99a41 216px,#f29546 217px,#e77b55 219px,#d45c6e 221px,#d55d6c 222px,#e87e54 224px,#f29744 226px,#e29a40 227px,#b3973c 229px,#7e9436 232px,#419030 237px,#469169 245px,#4f92a4 257px,#5593cd 269px,#5593d0 270px,#39628a 292px,#1c3146 321px)"></i><i style="height:3px;background:linear-gradient(90deg,#d8aed2 0,#dd6264 1px,#eb854f 2px,#f39943 3px,#ab973b 5px,#779336 7px,#409030 10px,#47916c 16px,#4e92a0 24px,#5593cd 36px,#5491cd 38px,#4374a4 53px,#386088 71px,#32577b 93px,#355c82 115px,#406e9c 137px,#518cc6 159px,#5593d0 163px,#4e92a3 181px,#489176 193px,#42904a 201px,#419030 205px,#789436 210px,#a6963a 213px,#cf993e 215px,#e89a41 216px,#f29545 217px,#e87c55 219px,#d65d6c 221px,#d75e6b 222px,#ee8c4b 225px,#f29744 226px,#e29a40 227px,#b3973c 229px,#7f9436 232px,#419030 237px,#489174 247px,#5092ab 259px,#5493cc 269px,#5491cd 271px,#386089 293px,#1d3246 321px)"></i><i style="height:3px;background:linear-gradient(90deg,#d8aed2 0,#dd6264 1px,#eb854f 2px,#f39943 3px,#aa973b 5px,#769336 7px,#409030 10px,#47916c 16px,#4e92a0 24px,#5593cd 36px,#5593d0 37px,#4375a5 52px,#376088 70px,#32567a 92px,#345b80 114px,#3f6c99 136px,#508ac3 158px,#5593d0 163px,#4f92a3 181px,#489176 193px,#42904a 201px,#419030 205px,#789436 210px,#a6963a 213px,#cf993e 215px,#e79a41 216px,#f29645 217px,#e16b5f 220px,#d75e6a 221px,#d85f69 222px,#ee8c4b 225px,#f29744 226px,#e39a40 227px,#b3973c 229px,#7f9436 232px,#419030 237px,#489174 247px,#5092ab 259px,#5493cc 269px,#5491ce 271px,#386189 293px,#1d3247 321px)"></i><i style="height:3px;background:linear-gradient(90deg,#d8aed2 0,#dd6264 1px,#eb854f 2px,#f39943 3px,#aa973b 5px,#769336 7px,#409030 10px,#47916c 16px,#4e92a0 24px,#5593ce 36px,#5390cc 38px,#4273a2 53px,#365e85 71px,#315578 93px,#345a80 115px,#3f6d9a 137px,#518cc5 159px,#5593d0 163px,#4f92a3 181px,#489176 193px,#42904a 201px,#419030 205px,#789336 210px,#a6963a 213px,#ce993e 215px,#e79a41 216px,#f29645 217px,#d95f68 221px,#da5f68 222px,#f29744 226px,#e39a40 227px,#b3973c 229px,#7f9436 232px,#419030 237px,#489174 247px,#5092aa 259px,#5493cc 269px,#5492ce 271px,#38618a 293px,#1d3247 321px)"></i><i style="height:3px;background:linear-gradient(90deg,#d8aed2 0,#de6264 1px,#eb854f 2px,#f39943 3px,#aa973b 5px,#769336 7px,#409030 10px,#47916c 16px,#4e92a0 24px,#5593ce 36px,#5390cc 38px,#4272a2 53px,#365e85 71px,#315477 93px,#345a7f 115px,#3f6c99 137px,#518bc5 159px,#5593ce 164px,#4e92a0 182px,#479171 194px,#419044 202px,#419030 205px,#789336 210px,#a5963a 213px,#e69a41 216px,#f29645 217px,#db6067 221px,#db6067 222px,#f29744 226px,#e39a40 227px,#a0963a 230px,#649234 234px,#419030 237px,#459162 244px,#4d9296 254px,#5493cc 269px,#5492ce 271px,#38628a 293px,#1d3247 321px)"></i><i style="height:3px;background:linear-gradient(90deg,#d8aed2 0,#de6264 1px,#eb854f 2px,#f39943 3px,#aa973b 5px,#769336 7px,#409030 10px,#459164 15px,#4d9295 22px,#5393c1 32px,#5592cf 37px,#4374a4 52px,#375e86 70px,#315477 92px,#34597e 114px,#3e6b98 136px,#508ac3 158px,#5593ce 164px,#4e92a0 182px,#479171 194px,#419044 202px,#419030 205px,#779336 210px,#a5963a 213px,#e59a41 216px,#f29745 217px,#dd6165 221px,#dd6165 222px,#f39744 226px,#e39a40 227px,#a0963a 230px,#649234 234px,#419030 237px,#439154 242px,#4b928d 252px,#5393c5 267px,#5492ce 271px,#39628a 293px,#1d3247 321px)"></i><i style="height:3px;background:linear-gradient(90deg,#d8aed2 0,#de6264 1px,#eb854f 2px,#f39943 3px,#aa973b 5px,#769336 7px,#409030 10px,#459164 15px,#4d9295 22px,#5393c1 32px,#5592cf 37px,#4374a4 52px,#375f86 70px,#315478 92px,#34597e 114px,#3e6b98 136px,#508ac3 158px,#5593cf 163px,#4f92a3 181px,#489176 193px,#42904b 201px,#409030 205px,#779336 210px,#a5963a 213px,#e59a40 216px,#f29745 217px,#de6364 221px,#de6364 222px,#f39744 226px,#e29a40 227px,#a0963a 230px,#649234 234px,#429030 237px,#42914d 241px,#4b9288 251px,#5293b8 263px,#5492ce 271px,#39628a 293px,#1d3247 321px)"></i><i style="height:3px;background:linear-gradient(90deg,#d8aed2 0,#de6264 1px,#eb854f 2px,#f39943 3px,#aa973b 5px,#769336 7px,#409030 10px,#459164 15px,#4d9295 22px,#5393c1 32px,#5592cf 37px,#4374a4 52px,#375f86 70px,#315578 92px,#345a7f 114px,#3e6c98 136px,#508ac3 158px,#5593d0 163px,#4f92a3 181px,#489176 193px,#42904b 201px,#409030 205px,#779336 210px,#a4963a 213px,#e49a40 216px,#f29744 217px,#df6563 221px,#de6463 222px,#f39744 226px,#e29a40 227px,#a0963a 230px,#649234 234px,#429030 237px,#42914d 241px,#4b9288 251px,#5293b8 263px,#5492ce 271px,#38628a 293px,#1d3247 321px)"></i><i style="height:3px;background:linear-gradient(90deg,#d8aed2 0,#de6264 1px,#eb854f 2px,#f39943 3px,#aa973b 5px,#769336 7px,#409030 10px,#47916c 16px,#4e92a0 24px,#5593cd 36px,#5390cc 38px,#4273a3 53px,#375f86 71px,#325679 93px,#355b81 115px,#3f6d9a 137px,#518cc6 159px,#5593d0 163px,#4e92a3 181px,#489176 193px,#42904b 201px,#409030 205px,#779336 210px,#a4963a 213px,#e39a40 216px,#f39744 217px,#df6762 221px,#df6662 222px,#f39844 226px,#e29a40 227px,#a1963a 230px,#649234 234px,#429030 237px,#419046 240px,#489179 248px,#5092ae 260px,#5593cf 270px,#345a7f 297px,#1d3247 321px)"></i><i style="height:3px;background:linear-gradient(90deg,#d8aed2 0,#de6264 1px,#eb854f 2px,#f39943 3px,#aa973b 5px,#769336 7px,#409030 10px,#47916c 16px,#4e92a0 24px,#5593cd 36px,#5593d0 37px,#4475a6 52px,#386189 70px,#32577b 92px,#355c82 114px,#3f6d9a 136px,#508bc4 158px,#5593d0 163px,#4e92a3 181px,#489176 193px,#42904b 201px,#409030 205px,#779336 210px,#a4963a 213px,#e29a40 216px,#f39844 217px,#e06960 221px,#e06861 222px,#f39844 226px,#e29a40 227px,#a1963a 230px,#649234 234px,#429030 237px,#419046 240px,#489179 248px,#5092ae 260px,#5593cf 270px,#34597e 297px,#1d3246 321px)"></i><i style="height:3px;background:linear-gradient(90deg,#d8aed2 0,#de6264 1px,#eb854f 2px,#f39943 3px,#aa973b 5px,#769336 7px,#409030 10px,#47916c 16px,#4e92a0 24px,#5493cc 36px,#5491cd 38px,#4374a5 53px,#386189 71px,#33587d 93px,#365d84 115px,#406f9d 137px,#518dc7 159px,#5593cf 163px,#4e92a2 181px,#489176 193px,#42904b 201px,#409030 205px,#769336 210px,#a3963a 213px,#f39844 217px,#e16b5f 221px,#e16a60 222px,#f39844 226px,#e29a40 227px,#a0963a 230px,#649234 234px,#429030 237px,#419046 240px,#489179 248px,#5092ae 260px,#5593cf 270px,#39628b 292px,#1c3145 321px)"></i><i style="height:3px;background:linear-gradient(90deg,#d8aed2 0,#dd6264 1px,#eb854f 2px,#f39943 3px,#aa973b 5px,#779336 7px,#409030 10px,#47916c 16px,#4e929f 24px,#5493cc 36px,#5492ce 38px,#4475a6 53px,#39628b 71px,#345a7f 93px,#375f86 115px,#41709e 137px,#528dc8 159px,#5593cf 163px,#4e92a2 181px,#489175 193px,#42904b 201px,#409030 205px,#769336 210px,#a3963a 213px,#f39943 217px,#e26d5e 221px,#e16c5f 222px,#f39844 226px,#e19a40 227px,#a0963a 230px,#649234 234px,#429030 237px,#419046 240px,#489179 248px,#5092af 260px,#5593d0 270px,#38618a 292px,#1c3045 321px)"></i><i style="height:3px;background:linear-gradient(90deg,#d8aed2 0,#dd6264 1px,#eb854f 2px,#f39943 3px,#ab973b 5px,#779336 7px,#409030 10px,#47916b 16px,#4e929f 24px,#5493cb 36px,#5592cf 38px,#4476a8 53px,#3a648d 71px,#355c82 93px,#386189 115px,#4171a0 137px,#528ec9 159px,#5593d0 162px,#4f92a5 180px,#49917a 192px,#419044 202px,#409030 205px,#769336 210px,#a2963a 213px,#f39943 217px,#e26e5d 221px,#e26e5d 222px,#f39844 226px,#e19a40 227px,#a0963a 230px,#649234 234px,#429030 237px,#419046 240px,#499179 248px,#5092af 260px,#5593cf 270px,#3c6894 288px,#213950 315px,#1c3044 321px)"></i><i style="height:3px;background:linear-gradient(90deg,#d8aed2 0,#dd6264 1px,#eb854f 2px,#f39943 3px,#ab973b 5px,#779336 7px,#419030 10px,#46916b 16px,#4e929e 24px,#5493ca 36px,#5593d0 38px,#4578a9 53px,#3b6690 71px,#365e85 93px,#39638b 115px,#4272a2 137px,#538fca 159px,#5593cf 162px,#4f92a4 180px,#49917a 192px,#419044 202px,#409030 205px,#769336 210px,#a2963a 213px,#f39943 217px,#e3705c 221px,#e36f5c 222px,#f39943 226px,#a0963a 230px,#649234 234px,#429030 237px,#419046 240px,#499179 248px,#5092af 260px,#5492cf 270px,#3c6792 288px,#20384f 315px,#1b2f43 321px)"></i><i style="height:3px;background:linear-gradient(90deg,#d8aed2 0,#dd6264 1px,#eb854f 2px,#f39943 3px,#ab973b 5px,#779336 7px,#419030 10px,#46916b 16px,#4e929e 24px,#5493c9 36px,#5492ce 39px,#4578a9 54px,#3b6791 72px,#386088 94px,#3c6893 121px,#477aad 143px,#5593d0 161px,#4f92a7 179px,#49917e 191px,#42904a 201px,#409030 205px,#769335 210px,#b3973c 214px,#f49a43 217px,#e4725b 221px,#e3715b 222px,#f39943 226px,#a0963a 230px,#649234 234px,#429030 237px,#419046 240px,#499179 248px,#5092b0 260px,#5493cb 268px,#5492ce 270px,#3b6791 288px,#20374e 315px,#1b2e42 321px)"></i><i style="height:3px;background:linear-gradient(90deg,#d9afd2 0,#dd6264 1px,#eb854f 2px,#f39943 3px,#ab973b 5px,#789336 7px,#419030 10px,#46916a 16px,#4e929d 24px,#5493c9 36px,#5593cf 39px,#4679ab 54px,#3d6994 72px,#39628b 94px,#3d6a95 121px,#477bae 143px,#5593d0 161px,#4f92a7 179px,#49917d 191px,#42904a 201px,#409030 205px,#759335 210px,#b3973c 214px,#f49a42 217px,#e57459 221px,#e4735a 222px,#f39943 226px,#a0963a 230px,#649234 234px,#429030 237px,#42914d 241px,#4b9289 251px,#5393c6 266px,#5593cf 269px,#376087 291px,#1d3247 318px,#1a2e41 321px)"></i><i style="height:3px;background:linear-gradient(90deg,#d9afd3 0,#dd6264 1px,#eb854f 2px,#f39943 3px,#ab973b 5px,#789336 7px,#429030 10px,#459162 15px,#4c9292 22px,#5293bc 32px,#5593d0 39px,#4577a8 57px,#3c6792 79px,#3b6690 106px,#4373a3 133px,#508bc5 155px,#5593cf 161px,#4f92a7 179px,#49917e 191px,#42914b 201px,#3f9030 205px,#749335 210px,#b1973b 214px,#f39b42 217px,#e67758 221px,#e57559 222px,#f39943 226px,#a1963a 230px,#659234 234px,#429030 237px,#40903e 239px,#489174 247px,#5092ac 259px,#5593d0 269px,#3b6792 287px,#20374e 314px,#1a2d40 321px)"></i><i style="height:3px;background:linear-gradient(90deg,#d9afd3 0,#dd6264 1px,#eb854f 2px,#f39943 3px,#ac973b 5px,#789336 7px,#429030 10px,#42914f 13px,#499180 19px,#4f92a9 27px,#5593cf 39px,#4578aa 57px,#3d6995 79px,#3c6893 106px,#4375a5 133px,#518cc6 155px,#5593d0 160px,#4f92a9 178px,#4a9282 190px,#439152 200px,#3e9030 205px,#739335 210px,#ae973b 214px,#ee9b41 217px,#f19446 218px,#e77957 221px,#e67758 222px,#eb854f 224px,#f39844 226px,#e29a40 227px,#a2963a 230px,#669234 234px,#439031 237px,#40903d 239px,#489173 247px,#5092ac 259px,#5593d0 269px,#3b6691 287px,#243e58 309px,#1a2c3f 321px)"></i><i style="height:3px;background:linear-gradient(90deg,#d9afd3 0,#dd6264 1px,#eb8550 2px,#f39943 3px,#ac973b 5px,#789436 7px,#429030 10px,#42914f 13px,#49917f 19px,#4f92a9 27px,#5593ce 39px,#5491cd 41px,#477aad 56px,#3e6b98 78px,#3d6995 105px,#4475a6 132px,#508bc5 154px,#5593d0 160px,#4f92a9 178px,#4a9282 190px,#439152 200px,#3e9031 205px,#719335 210px,#ac973b 214px,#ea9a41 217px,#f29645 218px,#e87c55 221px,#e67957 222px,#eb854f 224px,#f39844 226px,#e49a40 227px,#a4963a 230px,#679234 234px,#449031 237px,#3f9034 238px,#47916d 246px,#4f92a8 258px,#5593cd 268px,#5593d0 269px,#3b6690 287px,#233d57 309px,#192c3e 321px)"></i><i style="height:3px;background:linear-gradient(90deg,#d9afd3 0,#dd6264 1px,#eb8550 2px,#f39943 3px,#ac973b 5px,#789436 7px,#429030 10px,#42914f 13px,#49917f 19px,#4f92a8 27px,#5593cd 39px,#5390cb 42px,#477bad 57px,#3f6d9a 79px,#3e6b98 106px,#4577a9 133px,#5593cf 160px,#4f92a9 178px,#4a9283 190px,#439153 200px,#3e9032 205px,#649234 209px,#989539 213px,#cf993e 216px,#e69a41 217px,#f39744 218px,#e97e53 221px,#e77b56 222px,#eb854f 224px,#f39744 226px,#e59a41 227px,#a5963a 230px,#689334 234px,#459031 237px,#3e9033 238px,#47916d 246px,#4f92a8 258px,#5593cd 268px,#5593cf 269px,#3a658f 287px,#233d56 309px,#192b3d 321px)"></i><i style="height:3px;background:linear-gradient(90deg,#d9afd3 0,#dd6264 1px,#eb8550 2px,#f39943 3px,#ac973b 5px,#789436 7px,#429030 10px,#419044 12px,#489178 18px,#4f92a4 26px,#5493ca 38px,#5592cf 41px,#487db0 56px,#406f9c 78px,#3f6d9a 105px,#4578a9 132px,#518cc6 154px,#5593cf 160px,#4f92a9 178px,#4a9283 190px,#439154 200px,#3e9033 205px,#579233 208px,#879437 212px,#b8973c 215px,#f39943 218px,#e98052 221px,#e97f53 223px,#f29744 226px,#e79a41 227px,#a7963a 230px,#699334 234px,#3e9032 238px,#47916c 246px,#4f92a8 258px,#5593cd 268px,#5592cf 269px,#3a648e 287px,#233c55 309px,#192b3d 321px)"></i><i style="height:3px;background:linear-gradient(90deg,#d9afd3 0,#dd6264 1px,#eb8550 2px,#f39943 3px,#ac973b 5px,#789436 7px,#429030 10px,#419044 12px,#489178 18px,#4f92a4 26px,#5493ca 38px,#5593d0 41px,#497db2 56px,#41709e 78px,#406e9c 105px,#4679ab 132px,#518cc7 154px,#5593ce 160px,#4f92a9 178px,#4a9283 190px,#439154 200px,#3f9033 205px,#4c9131 207px,#859437 212px,#b5973c 215px,#f49b42 218px,#e97f53 222px,#ec864f 224px,#f29745 226px,#e89a41 227px,#a8963b 230px,#6b9334 234px,#3e9031 238px,#47916c 246px,#4f92a8 258px,#5593cd 268px,#538fcb 270px,#39628a 288px,#223a52 310px,#192b3c 321px)"></i><i style="height:3px;background:linear-gradient(90deg,#d9afd3 0,#dd6264 1px,#eb8550 2px,#f39943 3px,#ac973b 5px,#789436 7px,#439030 10px,#419044 12px,#489178 18px,#4f92a3 26px,#5493c9 38px,#5593d0 41px,#477baf 59px,#41709f 81px,#4271a1 114px,#4a80b5 141px,#5593d0 159px,#5092ac 177px,#49917c 192px,#429049 202px,#429030 206px,#769336 211px,#b2973b 215px,#f09b42 218px,#ea8152 222px,#ec874e 224px,#f29745 226px,#e99a41 227px,#aa973b 230px,#6c9335 234px,#3e9030 238px,#46916b 246px,#4f92a8 258px,#5593cd 268px,#538fcb 270px,#38618a 288px,#213a52 310px,#182a3c 321px)"></i><i style="height:3px;background:linear-gradient(90deg,#d9afd3 0,#dd6264 1px,#eb8550 2px,#f39943 3px,#ac973b 5px,#789436 7px,#439030 10px,#419044 12px,#489178 18px,#4f92a3 26px,#5493c9 38px,#5492ce 42px,#497eb2 57px,#4271a1 79px,#4272a1 112px,#497fb3 139px,#5491cd 157px,#5493cc 161px,#4f92a7 179px,#4a9280 191px,#439150 201px,#409030 206px,#749335 211px,#af973b 215px,#eb9a41 218px,#f29645 219px,#eb8350 222px,#ec884e 224px,#f29745 226px,#ea9a41 227px,#ab973b 230px,#6d9335 234px,#3f9030 238px,#46916a 246px,#4f92a7 258px,#5593cd 268px,#5592cf 269px,#3a638d 287px,#223b53 309px,#182a3c 321px)"></i><i style="height:3px;background:linear-gradient(90deg,#d9afd3 0,#dd6264 1px,#eb8550 2px,#f39943 3px,#ac973b 5px,#789436 7px,#439030 10px,#419044 12px,#489177 18px,#4f92a3 26px,#5493c9 38px,#5492ce 42px,#497eb2 57px,#4272a1 79px,#4272a2 112px,#497fb3 139px,#5491cd 157px,#5493cc 161px,#4f92a7 179px,#4a9281 191px,#439151 201px,#3f9030 206px,#739335 211px,#ac973b 215px,#e69a41 218px,#f39844 219px,#ec864f 222px,#ed894d 224px,#f29745 226px,#ea9a41 227px,#ac973b 230px,#6e9335 234px,#409030 238px,#46916a 246px,#4f92a7 258px,#5593cd 268px,#5593cf 269px,#39638d 287px,#223b53 309px,#182a3b 321px)"></i><i style="height:3px;background:linear-gradient(90deg,#d9afd3 0,#dd6264 1px,#eb8550 2px,#f39943 3px,#ac973b 5px,#789436 7px,#429030 10px,#419044 12px,#489178 18px,#4f92a3 26px,#5493c9 38px,#5492ce 42px,#497eb3 57px,#4272a2 79px,#4272a2 112px,#497fb3 139px,#5491cd 157px,#5593cd 161px,#4f92a8 179px,#4a9281 191px,#439151 201px,#3e9030 206px,#719335 211px,#a9963b 215px,#f49a43 219px,#ec884e 222px,#ed8a4c 224px,#f29745 226px,#eb9a41 227px,#ad973b 230px,#6f9335 234px,#419030 238px,#489175 248px,#5092af 260px,#5593cd 268px,#5593d0 269px,#3a648d 287px,#223b53 309px,#182a3b 321px)"></i><i style="height:3px;background:linear-gradient(90deg,#d9afd3 0,#dd6264 1px,#eb854f 2px,#f39943 3px,#ac973b 5px,#789436 7px,#429030 10px,#419044 12px,#489178 18px,#4f92a3 26px,#5493c9 38px,#5492ce 42px,#497eb2 57px,#4272a1 79px,#4272a2 112px,#497fb3 139px,#5491cc 157px,#5593ce 160px,#5092aa 178px,#49917a 193px,#419046 203px,#3e9031 206px,#6f9335 211px,#a6963a 215px,#f29b42 219px,#ed8a4c 222px,#ee8b4c 224px,#f29744 226px,#eb9a41 227px,#9d9639 231px,#639234 235px,#429030 238px,#42914e 242px,#4b928a 252px,#5493c9 267px,#5593d0 269px,#3a648d 287px,#223b53 309px,#182a3c 321px)"></i><i style="height:3px;background:linear-gradient(90deg,#d8aed2 0,#dd6264 1px,#eb854f 2px,#f39943 3px,#ac973b 5px,#789436 7px,#429030 10px,#42914f 13px,#49917f 19px,#4f92a8 27px,#5493cb 39px,#5492ce 42px,#497eb2 57px,#4272a1 79px,#4272a1 112px,#497eb3 139px,#5390cc 157px,#5593cf 160px,#5092ab 178px,#49917a 193px,#419047 203px,#3e9032 206px,#579232 209px,#949538 214px,#d8993f 218px,#ed9b41 219px,#f29744 220px,#ee8b4c 223px,#f39744 226px,#ea9a41 227px,#9e9639 231px,#649234 235px,#429030 238px,#40903d 240px,#489174 248px,#5092ae 260px,#5493cc 268px,#5593cf 269px,#3a648e 287px,#223b54 309px,#192a3c 321px)"></i><i style="height:3px;background:linear-gradient(90deg,#d8aed2 0,#dd6264 1px,#eb854f 2px,#f39943 3px,#ab973b 5px,#789336 7px,#429030 10px,#42914f 13px,#49917f 19px,#4f92a8 27px,#5493cc 39px,#5593d0 41px,#497eb2 56px,#4171a0 78px,#4171a0 111px,#487db1 138px,#5593cf 160px,#5092ab 178px,#49917b 193px,#419048 203px,#3f9033 206px,#4c9131 208px,#839437 213px,#c1983d 217px,#e79a41 219px,#f39943 220px,#ee8d4b 223px,#f39844 226px,#ea9a41 227px,#9e963a 231px,#599233 236px,#439031 238px,#3f9034 239px,#47916d 247px,#4f92a9 259px,#5593cf 269px,#355c82 291px,#1f364c 313px,#192b3c 321px)"></i><i style="height:3px;background:linear-gradient(90deg,#d8aed2 0,#dd6264 1px,#eb854f 2px,#f39943 3px,#ab973b 5px,#779336 7px,#429030 10px,#46916a 16px,#4d929c 24px,#5393c5 36px,#5592cf 41px,#487db1 56px,#41709f 78px,#406e9c 105px,#4578aa 132px,#518bc5 154px,#5593ce 161px,#4f92a9 179px,#4a9283 191px,#439155 201px,#419030 207px,#749335 212px,#ac973b 216px,#f49b42 220px,#ef8f49 223px,#f39844 226px,#ea9a41 227px,#a0963a 231px,#5b9233 236px,#459031 238px,#3e9033 239px,#47916c 247px,#4f92a9 259px,#5593ce 269px,#518cc6 272px,#375f86 290px,#20384f 312px,#192b3d 321px)"></i><i style="height:3px;background:linear-gradient(90deg,#d8aed2 0,#de6264 1px,#eb854f 2px,#f39943 3px,#ab973b 5px,#779336 7px,#419030 10px,#46916a 16px,#4e929c 24px,#5493c6 36px,#5593cf 40px,#477aad 58px,#406e9c 80px,#3f6d9b 107px,#4578aa 134px,#518dc7 156px,#5593cf 161px,#5092ab 179px,#489179 194px,#419045 204px,#3e9030 207px,#709335 212px,#a6963a 216px,#eb9a41 220px,#f39944 221px,#f09148 224px,#f39844 226px,#ec9a41 227px,#939538 232px,#529132 237px,#3e9031 239px,#46916b 247px,#4f92a7 259px,#5593cd 269px,#5593d0 270px,#3a648e 288px,#233c55 310px,#192c3e 321px)"></i><i style="height:3px;background:linear-gradient(90deg,#d8add2 0,#de6264 1px,#eb854f 2px,#f39943 3px,#aa973b 5px,#779336 7px,#419030 10px,#46916b 16px,#4e929d 24px,#5493c7 36px,#5593cf 40px,#487cb0 55px,#3f6d9a 77px,#3e6b97 104px,#4375a5 131px,#4f88c0 153px,#5592cf 161px,#5092ac 179px,#49917a 194px,#419047 204px,#3e9033 207px,#569132 210px,#919538 215px,#f29b42 221px,#f19347 224px,#f39844 226px,#ed9b41 227px,#889437 233px,#4a9131 238px,#409030 239px,#489175 249px,#5092ae 261px,#5493cb 269px,#5491cd 271px,#39638d 289px,#223b54 311px,#1a2d40 321px)"></i><i style="height:3px;background:linear-gradient(90deg,#d8add1 0,#de6364 1px,#eb854f 2px,#f39943 3px,#aa973b 5px,#769336 7px,#409030 10px,#47916b 16px,#4e929e 24px,#5493c8 36px,#5492ce 40px,#477bae 55px,#3e6b98 77px,#3d6994 104px,#4273a3 131px,#4e87bf 153px,#5593cf 163px,#4f92a8 181px,#4a9280 193px,#439150 203px,#409030 208px,#7f9436 214px,#c8983e 219px,#e99a41 221px,#f49a43 222px,#f29645 225px,#f39943 226px,#ed9b41 227px,#8b9538 233px,#4d9131 238px,#429030 239px,#40903d 241px,#489173 249px,#5092ac 261px,#5593cf 271px,#3a658f 289px,#233c56 311px,#1b2e41 321px)"></i><i style="height:3px;background:linear-gradient(90deg,#d7acd1 0,#de6364 1px,#eb854f 2px,#f39a43 3px,#a9963b 5px,#759335 7px,#3f9030 10px,#459164 15px,#4c9294 22px,#5293bd 32px,#5593d0 39px,#477aad 54px,#3d6a95 76px,#3b6691 103px,#41709f 130px,#4c84bb 152px,#5492ce 162px,#5493c9 167px,#4e929d 185px,#479171 197px,#419046 205px,#3e9031 208px,#6e9335 213px,#b1973b 218px,#ef9b41 222px,#f29744 224px,#f39943 226px,#ed9b41 227px,#809437 234px,#459031 239px,#3e9033 240px,#47916b 248px,#4f92a7 260px,#5493cc 270px,#5491cd 272px,#3a648e 290px,#233c55 312px,#1b2f42 321px)"></i><i style="height:3px;background:linear-gradient(90deg,#d7acd1 0,#de6364 1px,#eb864f 2px,#f49a43 3px,#a9963b 5px,#759335 7px,#3f9030 10px,#469164 15px,#4c9295 22px,#5293be 32px,#5593cf 38px,#4476a8 56px,#3b6791 78px,#3a648e 105px,#41709e 132px,#4d85bc 154px,#5593cf 164px,#4f92a7 182px,#49917f 194px,#42914e 204px,#3f9034 208px,#4b9131 210px,#819437 215px,#f19b42 223px,#f49b42 226px,#de9a40 228px,#759335 235px,#3e9030 240px,#46916a 248px,#4f92a5 260px,#5592cf 272px,#3b6690 290px,#233d57 312px,#1c3044 321px)"></i><i style="height:3px;background:linear-gradient(90deg,#d7abd1 0,#de6364 1px,#ec864f 2px,#f49a43 3px,#cb993e 4px,#a8963a 5px,#749335 7px,#3e9030 10px,#469165 15px,#4d9295 22px,#5393bf 32px,#5593d0 38px,#4678aa 53px,#3c6893 71px,#386189 93px,#3b6791 120px,#477baf 147px,#5593cf 165px,#4f92a6 183px,#49917d 195px,#42904a 205px,#3f9030 209px,#7c9436 215px,#e99a41 223px,#f49b42 225px,#e99a41 227px,#789436 235px,#409030 240px,#489174 250px,#5092ac 262px,#5593cf 272px,#375f86 294px,#1c3145 321px)"></i><i style="height:3px;background:linear-gradient(90deg,#d7abd0 0,#de6364 1px,#ec864f 2px,#f49a43 3px,#ca983e 4px,#a8963a 5px,#749335 7px,#3e9030 10px,#469165 15px,#4d9296 22px,#5393c0 32px,#5593cf 37px,#4374a5 55px,#39628b 77px,#375f86 104px,#3e6b98 131px,#4b81b7 153px,#5593d0 165px,#4f92a7 183px,#49917e 195px,#42914d 205px,#3e9032 209px,#6c9335 214px,#b9973c 220px,#e09a40 223px,#ed9b41 225px,#e69a41 227px,#c1983d 230px,#6e9335 236px,#429030 240px,#40903d 242px,#479172 250px,#5092aa 262px,#5593cd 272px,#5390cb 274px,#3a658e 292px,#1f354b 319px,#1d3247 321px)"></i><i style="height:3px;background:linear-gradient(90deg,#d7aad0 0,#de6364 1px,#ec864f 2px,#f49a42 3px,#ca983e 4px,#a7963a 5px,#739335 7px,#3e9031 10px,#469166 15px,#4d9297 22px,#5393c1 32px,#5593d0 37px,#4577a8 52px,#3a648e 70px,#355c82 92px,#38628a 119px,#4577a9 146px,#5390cb 164px,#5593ce 167px,#4e92a3 185px,#489177 197px,#419042 207px,#419030 210px,#7e9436 216px,#d8993f 223px,#e69a41 225px,#e39a40 227px,#c2983d 230px,#659234 237px,#459031 240px,#3e9033 241px,#46916a 249px,#4f92a5 261px,#5593cf 273px,#376088 295px,#1e3348 321px)"></i><i style="height:3px;background:linear-gradient(90deg,#d6aad0 0,#de6363 1px,#ec864f 2px,#f49a42 3px,#c9983e 4px,#a6963a 5px,#739335 7px,#4c9131 9px,#3e9031 10px,#469167 15px,#4d9298 22px,#5393c2 32px,#5492ce 37px,#4475a6 52px,#39628b 70px,#34597f 92px,#375f87 119px,#4476a6 146px,#528fca 164px,#5593cd 168px,#4e92a1 186px,#489175 198px,#40903e 208px,#3e9030 210px,#799436 216px,#d0993e 223px,#df9a40 225px,#de9a40 227px,#c2983d 230px,#5c9233 238px,#3e9031 241px,#469169 249px,#4f92a3 261px,#5593cd 273px,#5390cc 275px,#365e84 297px,#1e344a 321px)"></i><i style="height:3px;background:linear-gradient(90deg,#d6a9d0 0,#de6463 1px,#ec864e 2px,#f49b42 3px,#c9983e 4px,#a6963a 5px,#729335 7px,#4c9131 9px,#3e9032 10px,#469167 15px,#4d9298 22px,#5393c3 32px,#5593d0 36px,#4475a6 51px,#386189 69px,#32577b 91px,#345a80 113px,#3f6e9b 140px,#508ac3 162px,#5593cf 168px,#4e92a2 186px,#489176 198px,#409041 208px,#3e9033 210px,#4c9131 212px,#8b9538 218px,#d1993f 224px,#da993f 226px,#d4993f 228px,#a7963a 232px,#539132 239px,#3f9030 241px,#489172 251px,#4f92a9 263px,#5493cc 273px,#5491ce 275px,#375f86 297px,#1f354b 321px)"></i><i style="height:3px;background:linear-gradient(90deg,#d6a9cf 0,#de6463 1px,#ec864e 2px,#f49b42 3px,#c8983e 4px,#a5963a 5px,#729335 7px,#4b9131 9px,#3e9032 10px,#469168 15px,#4d9299 22px,#5393c4 32px,#5592cf 36px,#4374a4 51px,#375f87 69px,#315578 91px,#33587d 113px,#3e6c99 140px,#4f89c2 162px,#5593d0 168px,#4f92a4 186px,#489178 198px,#419043 208px,#3f9030 211px,#859437 218px,#c9983e 224px,#d4993f 226px,#d0993e 228px,#b4973c 231px,#559132 239px,#419030 241px,#469165 249px,#4e92a0 261px,#5493ca 273px,#5593d0 275px,#386088 297px,#1f364d 321px)"></i><i style="height:3px;background:linear-gradient(90deg,#d6a9cf 0,#de6463 1px,#ec874e 2px,#f49b42 3px,#c8983e 4px,#a5963a 5px,#719335 7px,#4b9131 9px,#3e9033 10px,#469168 15px,#4d929a 22px,#5393c5 32px,#5492ce 36px,#4273a2 51px,#365e84 69px,#305376 91px,#32567a 113px,#3e6b97 140px,#4f88c0 162px,#5593cf 169px,#4e92a2 187px,#489176 199px,#409040 209px,#3e9032 211px,#6a9334 216px,#c1983d 224px,#cd993e 226px,#cb993e 228px,#b3973c 231px,#579132 239px,#439031 241px,#40903b 243px,#49917a 253px,#5092ae 265px,#5593cf 275px,#33587c 302px,#20374e 321px)"></i><i style="height:3px;background:linear-gradient(90deg,#d5a8cf 0,#de6463 1px,#ec874e 2px,#f49b42 3px,#c7983e 4px,#a5963a 5px,#719335 7px,#4a9131 9px,#3e9033 10px,#469169 15px,#4d929a 22px,#5493c6 32px,#5593cf 35px,#4373a3 50px,#365d84 68px,#2f5274 90px,#315477 112px,#3c6894 139px,#4d85bc 161px,#5593d0 169px,#4f92a3 187px,#489177 199px,#419042 209px,#419030 212px,#859437 219px,#b9973c 224px,#c8983e 227px,#bb983c 230px,#4e9132 240px,#3e9032 242px,#469168 250px,#4e92a1 262px,#5493cb 274px,#5592cf 276px,#386189 298px,#20384f 321px)"></i><i style="height:3px;background:linear-gradient(90deg,#d5a7ce 0,#de6463 1px,#ec874e 2px,#f39b42 3px,#c6983d 4px,#a3963a 5px,#6f9335 7px,#499131 9px,#3f9034 10px,#46916a 15px,#4d929b 22px,#5493c7 32px,#5592cf 35px,#4272a1 50px,#355b81 68px,#2e5071 90px,#305375 112px,#39628a 134px,#487caf 156px,#5390cb 168px,#5593ce 171px,#4e929f 189px,#479172 201px,#419030 213px,#b2973b 225px,#bc983c 228px,#af973b 231px,#4a9131 241px,#419030 242px,#49917a 254px,#5092ad 266px,#5593ce 276px,#5390cb 278px,#375f86 300px,#213951 321px)"></i><i style="height:3px;background:linear-gradient(90deg,#d4a6ce 0,#df6563 1px,#ec884e 2px,#f29b42 3px,#c5983d 4px,#a2963a 5px,#6e9335 7px,#489131 9px,#3f9036 10px,#47916b 15px,#4e929d 22px,#5493c8 32px,#5593cf 34px,#3f6d9b 52px,#33587d 70px,#2d4e6e 92px,#2f5274 114px,#3c6792 141px,#4d85bd 163px,#5593cf 171px,#4e92a2 189px,#489176 201px,#419042 211px,#409030 214px,#9a9639 224px,#ad973b 227px,#ae973b 230px,#939538 234px,#469031 242px,#3e9031 243px,#479171 253px,#4f92a6 265px,#5593ce 277px,#5390cb 279px,#375f86 301px,#223a53 321px)"></i><i style="height:3px;background:linear-gradient(90deg,#d4a4cd 0,#df6562 1px,#ec884e 2px,#f09b42 3px,#c3983d 4px,#a1963a 5px,#6d9335 7px,#469131 9px,#3f9037 10px,#47916c 15px,#4e929e 22px,#5493ca 32px,#5593d0 34px,#4577a8 46px,#365d83 64px,#2d4e6e 86px,#2d4e6f 108px,#355b81 130px,#477bae 157px,#5593cf 172px,#4e92a1 190px,#489176 202px,#419042 212px,#3f9030 215px,#929538 225px,#a2963a 228px,#a1963a 231px,#899537 235px,#429030 243px,#429049 247px,#4a9281 257px,#5293bc 272px,#5492cf 279px,#386088 301px,#223c54 321px)"></i><i style="height:3px;background:linear-gradient(90deg,#d3a3cc 0,#df6662 1px,#ed884d 2px,#ef9b42 3px,#c2983d 4px,#a0963a 5px,#6c9335 7px,#459031 9px,#3f9038 10px,#47916e 15px,#4e929f 22px,#5493cb 32px,#5492ce 34px,#4476a6 46px,#355c82 64px,#2c4d6d 86px,#2d4d6d 108px,#345a80 130px,#467aac 157px,#5592cf 172px,#4f92a4 190px,#47916d 205px,#3f9037 215px,#3e9031 216px,#899537 226px,#989539 230px,#919538 233px,#679234 239px,#3e9031 244px,#47916e 254px,#4f92a4 266px,#5493cc 278px,#5492ce 280px,#386088 302px,#233d56 321px)"></i><i style="height:3px;background:linear-gradient(90deg,#d3a2cc 0,#df6662 1px,#ed894d 2px,#ee9b41 3px,#c1983d 4px,#9e963a 5px,#6a9334 7px,#449031 9px,#3f9039 10px,#47916f 15px,#4e92a0 22px,#5493cc 32px,#5491cd 34px,#4375a5 46px,#355b81 64px,#2c4c6c 86px,#2c4d6d 108px,#345a7f 130px,#4678aa 157px,#5491cd 172px,#5593ce 174px,#4e92a1 192px,#469168 207px,#3e9033 217px,#669234 223px,#849437 228px,#8b9538 232px,#7b9436 236px,#409030 244px,#489175 256px,#5192b3 271px,#5493cc 279px,#5491cd 281px,#375f87 303px,#243e57 321px)"></i><i style="height:3px;background:linear-gradient(90deg,#d2a1cb 0,#df6662 1px,#ed894d 2px,#ed9b41 3px,#c0983d 4px,#9d9639 5px,#699334 7px,#439030 9px,#419047 11px,#489178 16px,#5092ac 24px,#5593cd 32px,#5593d0 33px,#4476a7 45px,#355b81 63px,#2c4c6c 85px,#2c4c6c 107px,#365d83 134px,#487db1 161px,#5491ce 173px,#5493cc 176px,#4e929d 194px,#469164 209px,#3f9030 219px,#719335 227px,#7f9436 231px,#799436 235px,#579132 241px,#419030 244px,#4a9281 259px,#5293ba 274px,#5593d0 281px,#386189 303px,#243f59 321px)"></i><i style="height:3px;background:linear-gradient(90deg,#d1a0ca 0,#df6762 1px,#ed894d 2px,#ec9b41 3px,#bf983d 4px,#9c9639 5px,#689334 7px,#429030 9px,#45915e 13px,#4c928f 19px,#5293bb 27px,#5592cf 33px,#4475a6 45px,#355b81 63px,#2c4c6c 85px,#2c4c6c 107px,#355c83 134px,#487cb0 161px,#5390cc 173px,#5593cd 176px,#4e92a0 194px,#46916a 209px,#419030 221px,#6c9335 229px,#739335 233px,#659234 238px,#419030 244px,#49917e 259px,#5293b8 274px,#5592cf 282px,#376087 304px,#253f5a 321px)"></i><i style="height:3px;background:linear-gradient(90deg,#d19fca 0,#df6761 1px,#ed8a4c 2px,#eb9a41 3px,#be983d 4px,#9b9639 5px,#679234 7px,#419030 9px,#469168 14px,#4e929d 21px,#5393c3 29px,#5492ce 33px,#4475a6 45px,#355b81 63px,#2c4d6d 85px,#2c4c6c 107px,#355c83 134px,#477baf 161px,#5593cf 176px,#4f92a3 194px,#47916f 209px,#3f9037 221px,#419030 223px,#619233 230px,#669234 235px,#509132 241px,#3f9030 244px,#4b9289 262px,#5493c9 280px,#5593cf 282px,#32577a 309px,#25405b 321px)"></i><i style="height:3px;background:linear-gradient(90deg,#d09ec9 0,#e06761 1px,#ed8a4c 2px,#ea9a41 3px,#bd983d 4px,#9a9639 5px,#669234 7px,#409030 9px,#469169 14px,#4e929e 21px,#5393c4 29px,#5593cf 32px,#4171a0 47px,#34597f 65px,#2c4d6d 87px,#2d4e6e 109px,#365e85 136px,#497db2 163px,#5491cd 175px,#5493cc 178px,#4e92a0 196px,#47916c 211px,#3f9037 223px,#449031 226px,#589233 232px,#589233 237px,#3e9032 244px,#4b9288 262px,#5493c8 280px,#5592cf 283px,#375f87 305px,#25415c 321px)"></i><i style="height:3px;background:linear-gradient(90deg,#d09cc8 0,#e06861 1px,#ed8a4c 2px,#e99a41 3px,#bc983c 4px,#999639 5px,#659234 7px,#3f9030 9px,#46916a 14px,#4e929e 21px,#5393c5 29px,#5593cf 32px,#4171a0 47px,#345a7f 65px,#2d4e6e 87px,#2d4e6f 109px,#365e85 136px,#487db0 163px,#538fcb 175px,#5593ce 178px,#4d9298 200px,#439156 218px,#409030 228px,#4e9132 234px,#469031 240px,#3e9032 243px,#4c9293 265px,#5593d0 283px,#325679 310px,#26415c 321px)"></i><i style="height:3px;background:linear-gradient(90deg,#cf9bc8 0,#e06861 1px,#ee8b4c 2px,#e89a41 3px,#bb983c 4px,#989539 5px,#649234 7px,#3e9030 9px,#459161 13px,#4c9292 19px,#5293bd 27px,#5593cf 32px,#4271a0 47px,#345b80 65px,#2e4f70 87px,#2f5173 114px,#39638c 141px,#4c83b9 168px,#5593d0 178px,#4d929c 200px,#42914f 222px,#3e9030 232px,#419030 238px,#3f9039 243px,#4f92a5 270px,#5493cc 282px,#5491cd 284px,#365e85 306px,#26425d 321px)"></i><i style="height:3px;background:linear-gradient(90deg,#cf9ac7 0,#e06861 1px,#ee8b4c 2px,#e79a41 3px,#ba973c 4px,#979539 5px,#639234 7px,#3e9031 9px,#459162 13px,#4c9293 19px,#5293be 27px,#5593d0 32px,#4577a8 44px,#365e85 62px,#2f5172 84px,#2f5173 111px,#386189 138px,#497eb2 165px,#5390cb 177px,#5593ce 180px,#4d929a 202px,#419042 229px,#3f9037 237px,#419046 245px,#5092ac 272px,#5493cc 282px,#5492ce 284px,#375e86 306px,#26425d 321px)"></i><i style="height:3px;background:linear-gradient(90deg,#ce99c7 0,#e06960 1px,#ee8b4b 2px,#e69a41 3px,#b9973c 4px,#969539 5px,#629234 7px,#3e9032 9px,#459163 13px,#4c9294 19px,#5293be 27px,#5593d0 32px,#4577a8 44px,#375f86 62px,#2f5274 84px,#305275 111px,#386189 138px,#487db0 165px,#5593d0 180px,#4e929e 202px,#42914d 229px,#419042 237px,#42914d 245px,#5393bf 278px,#5492ce 284px,#375f86 306px,#26425e 321px)"></i><i style="height:3px;background:linear-gradient(90deg,#ce99c6 0,#e06960 1px,#ee8c4b 2px,#e59a41 3px,#b8973c 4px,#969539 5px,#629234 7px,#3e9032 9px,#459163 13px,#4c9294 19px,#5293be 27px,#5593d0 32px,#4577a8 44px,#375f87 62px,#305375 84px,#305376 111px,#386189 138px,#477bae 165px,#5491cd 180px,#5493cb 184px,#4d9298 206px,#44915a 228px,#42914c 238px,#439156 246px,#4c9291 264px,#5493cb 282px,#5492cf 284px,#375f87 306px,#27435f 321px)"></i><i style="height:3px;background:linear-gradient(90deg,#ce98c6 0,#e06960 1px,#ee8c4b 2px,#e59a40 3px,#b8973c 4px,#959539 5px,#619234 7px,#3e9033 9px,#459163 13px,#4c9294 19px,#5293be 27px,#5593d0 32px,#4577a8 44px,#376087 62px,#305376 84px,#305376 111px,#376087 138px,#4679ab 165px,#5593cf 183px,#4e92a1 205px,#44915b 232px,#439154 240px,#469165 250px,#5593ce 283px,#5390cb 285px,#365e85 307px,#274461 321px)"></i><i style="height:3px;background:linear-gradient(90deg,#ce98c6 0,#e06960 1px,#ee8c4b 2px,#e49a40 3px,#b8973c 4px,#959539 5px,#619233 7px,#4d9131 8px,#3e9033 9px,#459163 13px,#4c9294 19px,#5293be 27px,#5593d0 32px,#4577a9 44px,#376088 62px,#305477 84px,#305376 111px,#375f86 138px,#4577a8 165px,#538fcb 183px,#5593cf 186px,#4c9292 213px,#469165 231px,#44915d 241px,#47916c 251px,#5592cf 284px,#386189 306px,#284663 321px)"></i><i style="height:3px;background:linear-gradient(90deg,#ce98c6 0,#e06960 1px,#ee8c4b 2px,#e49a40 3px,#b7973c 4px,#959539 5px,#619233 7px,#4d9131 8px,#3e9033 9px,#459164 13px,#4c9294 19px,#5393bf 27px,#5593cf 32px,#4577a9 44px,#386088 62px,#315477 84px,#305376 111px,#365e84 138px,#4374a5 165px,#5592cf 187px,#4e92a2 209px,#47916e 231px,#469165 241px,#479171 251px,#5592cf 284px,#39628a 306px,#294764 321px)"></i><i style="height:3px;background:linear-gradient(90deg,#cd97c6 0,#e06960 1px,#ee8c4b 2px,#e49a40 3px,#b7973c 4px,#949539 5px,#619233 7px,#4c9131 8px,#3e9033 9px,#459164 13px,#4c9295 19px,#5393bf 27px,#5592cf 32px,#4577a8 44px,#376088 62px,#305477 84px,#305275 111px,#376088 144px,#4679ab 171px,#5492cf 189px,#5092ad 207px,#49917b 229px,#47916d 241px,#489177 251px,#5192b2 273px,#5593ce 283px,#528dc8 286px,#375f86 308px,#2a4866 321px)"></i><i style="height:3px;background:linear-gradient(90deg,#cd97c5 0,#e06960 1px,#ee8c4b 2px,#e39a40 3px,#b7973c 4px,#949539 5px,#609233 7px,#4c9131 8px,#3f9034 9px,#469164 13px,#4d9295 19px,#5393bf 27px,#5492cf 32px,#4577a8 44px,#375f87 62px,#305376 84px,#305375 117px,#39628b 150px,#487db1 177px,#5593d0 192px,#49917d 233px,#489176 245px,#4b9289 257px,#5492cf 284px,#39638d 306px,#2b4a68 321px)"></i><i style="height:3px;background:linear-gradient(90deg,#cd97c5 0,#e06a60 1px,#ee8c4b 2px,#e39a40 3px,#b6973c 4px,#949538 5px,#609233 7px,#4b9131 8px,#3f9034 9px,#469165 13px,#4d9295 19px,#5393c0 27px,#5593ce 31px,#4d84bb 37px,#3d6a96 52px,#33597e 70px,#2e5071 97px,#315579 130px,#3b6690 157px,#4c83ba 184px,#5592cf 194px,#4a9283 235px,#499180 247px,#4c9292 259px,#5493ca 281px,#5492ce 284px,#355b81 311px,#2b4b6a 321px)"></i><i style="height:3px;background:linear-gradient(90deg,#cd96c5 0,#e06a60 1px,#ee8c4b 2px,#e29a40 3px,#b6973c 4px,#939538 5px,#5f9233 7px,#4b9131 8px,#3f9034 9px,#469165 13px,#4d9296 19px,#5393c0 27px,#5593cf 31px,#4272a1 46px,#355c83 64px,#2f5172 86px,#2e5072 119px,#375f87 152px,#4679ac 179px,#5593cf 197px,#4c9292 230px,#4a9287 242px,#4c928e 254px,#5393bf 276px,#5593d0 283px,#365e85 310px,#2c4c6c 321px)"></i><i style="height:3px;background:linear-gradient(90deg,#cd96c5 0,#e16a60 1px,#ee8d4b 2px,#e29a40 3px,#b5973c 4px,#939538 5px,#5f9233 7px,#4a9131 8px,#3f9035 9px,#469166 13px,#4d9296 19px,#5393c1 27px,#5593cf 31px,#4171a0 46px,#355b81 64px,#2e4f70 86px,#2d4e6f 119px,#365d83 152px,#4476a7 179px,#528ec9 197px,#5593ce 201px,#4d9295 234px,#4c928f 246px,#4d929b 258px,#5493ca 280px,#5492cf 283px,#375e86 310px,#2d4d6d 321px)"></i><i style="height:3px;background:linear-gradient(90deg,#cc95c4 0,#e16a60 1px,#ee8d4b 2px,#e19a40 3px,#b5973c 4px,#929538 5px,#5e9233 7px,#4a9131 8px,#3f9035 9px,#469166 13px,#4d9297 19px,#5393c1 27px,#5593d0 31px,#4476a6 43px,#365d83 61px,#2e4f6f 83px,#2c4c6b 116px,#33587d 149px,#406f9d 176px,#5593cf 203px,#4d929c 236px,#4d9297 248px,#4f92a9 263px,#5593ce 281px,#5491cd 283px,#375f87 310px,#2d4e6f 321px)"></i><i style="height:3px;background:linear-gradient(90deg,#cc94c4 0,#e16a5f 1px,#ee8d4b 2px,#e19a40 3px,#b4973c 4px,#919538 5px,#5e9233 7px,#499131 8px,#3f9036 9px,#469167 13px,#4d9298 19px,#5393c2 27px,#5492cf 31px,#4375a5 43px,#355b81 61px,#2d4d6d 83px,#2b4a68 116px,#325679 149px,#3e6c98 176px,#528ec8 203px,#5593cf 207px,#4f92a6 234px,#4e92a0 249px,#5092af 264px,#5493cc 279px,#5593d0 281px,#34597e 314px,#2e4f70 321px)"></i><i style="height:3px;background:linear-gradient(90deg,#cc94c4 0,#e16a5f 1px,#ee8d4a 2px,#e09a40 3px,#b3973c 4px,#919538 5px,#5d9233 7px,#489131 8px,#3f9037 9px,#469167 13px,#4d9298 19px,#5393c3 27px,#5593ce 30px,#41709e 45px,#33587d 63px,#2b4a69 85px,#294865 118px,#315477 151px,#4171a0 184px,#5593cf 211px,#5092ab 238px,#4f92a9 253px,#5393c0 271px,#5593cf 279px,#497fb4 291px,#2e5071 321px)"></i><i style="height:3px;background:linear-gradient(90deg,#cb93c3 0,#e16b5f 1px,#ef8d4a 2px,#e09a40 3px,#b3973c 4px,#909538 5px,#5c9233 7px,#489131 8px,#3f9037 9px,#469168 13px,#4d9299 19px,#5393c4 27px,#5593cf 30px,#406f9d 45px,#32577b 63px,#2a4867 85px,#284561 112px,#2d4e6e 145px,#3b6791 178px,#528ec9 211px,#5593ce 216px,#5192b4 238px,#5192b1 253px,#5393c4 271px,#5593d0 278px,#2e5072 321px)"></i><i style="height:3px;background:linear-gradient(90deg,#cb92c3 0,#e16b5f 1px,#ef8e4a 2px,#df9a40 3px,#b2973b 4px,#8f9538 5px,#5b9233 7px,#479131 8px,#3f9038 9px,#469169 13px,#4d929a 19px,#5393c5 27px,#5593d0 30px,#4373a3 42px,#355b81 57px,#2a4967 79px,#26425d 106px,#2a4866 139px,#365d84 172px,#4a81b6 205px,#5593cf 220px,#5293ba 242px,#5293bd 260px,#5593cf 275px,#2f5172 321px)"></i><i style="height:3px;background:linear-gradient(90deg,#c88cc0 0,#e26d5e 1px,#ef8f49 2px,#d9993f 3px,#ac973b 4px,#899537 5px,#559132 7px,#419030 8px,#47916e 13px,#4e929f 19px,#5493ca 27px,#5491cd 29px,#41709f 41px,#32577b 56px,#274460 78px,#233c55 105px,#26425d 138px,#315679 171px,#4577a8 204px,#5491cd 226px,#5593ce 230px,#5393c0 248px,#5493c6 266px,#5492ce 276px,#305375 321px)"></i><i style="height:3px;background:linear-gradient(90deg,#c586bc 0,#e26f5d 1px,#f09148 2px,#d3993f 3px,#a6963a 4px,#839437 5px,#4f9132 7px,#3e9033 8px,#469169 12px,#4e929e 18px,#5493cc 26px,#5593d0 27px,#40709e 39px,#315578 54px,#253f5a 76px,#1f364d 103px,#223b53 136px,#2d4d6d 169px,#3f6c99 202px,#5491cd 235px,#5493cc 242px,#5493c8 260px,#5593cf 272px,#4a7fb4 290px,#315578 321px)"></i><i style="height:3px;background:linear-gradient(90deg,#c280b9 0,#e3705c 1px,#f19347 2px,#cd993e 3px,#a0963a 4px,#7d9436 5px,#4a9131 7px,#3f9038 8px,#47916e 12px,#4f92a3 18px,#5593cd 25px,#5492cf 26px,#4272a1 36px,#305476 51px,#243f59 69px,#1d3246 96px,#1d3348 129px,#26425d 162px,#365d84 195px,#4f89c2 236px,#5593d0 251px,#5592cf 269px,#497eb2 291px,#32577b 321px)"></i><i style="height:3px;background:linear-gradient(90deg,#c07bb6 0,#e4725b 1px,#f29546 2px,#9a9639 4px,#789336 5px,#449031 7px,#40903d 8px,#489173 12px,#4f92a8 18px,#5593cd 24px,#5491ce 25px,#41709e 35px,#2e5072 50px,#223b53 68px,#1a2d3f 95px,#1a2d40 128px,#223b53 161px,#365d83 202px,#4d86bd 243px,#528ec9 261px,#4f88c0 279px,#3e6b97 306px,#33587d 321px)"></i><i style="height:3px;background:linear-gradient(90deg,#bd75b2 0,#e57459 1px,#f29745 2px,#959539 4px,#729335 5px,#3e9030 7px,#459160 10px,#4d9296 15px,#5493c7 22px,#5491cd 24px,#3f6e9b 34px,#305274 46px,#213a52 64px,#192b3d 86px,#162635 113px,#1a2d40 146px,#26415c 179px,#487cb0 242px,#4e87c0 264px,#4b82b8 282px,#3c6792 309px,#33597e 321px)"></i><i style="height:3px;background:linear-gradient(90deg,#ba6faf 0,#e57658 1px,#f39943 2px,#bc983c 3px,#8f9538 4px,#6c9335 5px,#509132 6px,#3f9035 7px,#469165 10px,#4d929b 15px,#5593cd 22px,#5491cd 23px,#4272a1 31px,#305376 43px,#20384f 61px,#172738 83px,#13212e 110px,#162737 143px,#243e58 184px,#4578aa 247px,#4b81b7 269px,#477bae 287px,#34597e 321px)"></i><i style="height:3px;background:linear-gradient(90deg,#b768ab 0,#e67857 1px,#f49b42 2px,#b5973c 3px,#889437 4px,#659234 5px,#499131 6px,#40903b 7px,#47916b 10px,#4e92a1 15px,#5593cd 21px,#5490cc 22px,#406f9e 30px,#2e5071 42px,#1e3449 60px,#142230 82px,#101b26 109px,#13202e 142px,#20374d 183px,#406e9c 246px,#467aac 268px,#4578a9 286px,#39628b 313px,#345a7f 321px)"></i><i style="height:3px;background:linear-gradient(90deg,#b25fa6 0,#e77b55 1px,#ec9a41 2px,#ac973b 3px,#7f9436 4px,#5c9233 5px,#409030 6px,#469165 9px,#4d9296 13px,#5493c8 19px,#5593ce 20px,#406f9d 28px,#2c4d6d 40px,#1d3348 55px,#111e2b 77px,#0c151d 104px,#0e1822 137px,#192b3d 178px,#3e6b97 256px,#4373a3 278px,#3f6c99 300px,#355b81 321px)"></i><i style="height:3px;background:linear-gradient(90deg,#ae56a1 0,#e87e54 1px,#e39a40 2px,#a3963a 3px,#769336 4px,#549132 5px,#3f9036 6px,#47916d 9px,#4e929e 13px,#5593d0 19px,#406f9e 26px,#2e4f70 36px,#1d3246 51px,#111d29 69px,#091016 96px,#090f15 129px,#121f2c 170px,#274461 221px,#3a658f 262px,#3f6d9a 284px,#3b6690 306px,#355b81 321px)"></i><i style="height:3px;background:linear-gradient(90deg,#aa4d9d 0,#e98052 1px,#da993f 2px,#9b9639 3px,#6e9335 4px,#4b9131 5px,#40903d 6px,#489174 9px,#4f92a6 13px,#5592cf 18px,#3e6c99 25px,#2b4b6a 35px,#1a2c3e 50px,#0d1721 68px,#05090d 95px,#05080c 128px,#0d1721 169px,#223b53 220px,#386088 271px,#3b6691 293px,#345a80 321px)"></i><i style="height:3px;background:linear-gradient(90deg,#a64598 0,#eb8350 1px,#d2993f 2px,#929538 3px,#659234 4px,#429030 5px,#47916c 8px,#4f92a3 12px,#5493c9 16px,#5492cf 17px,#3d6995 24px,#294664 34px,#192c3e 46px,#0c141c 64px,#030608 86px,#000101 119px,#070c11 160px,#192b3d 211px,#34597e 274px,#386088 296px,#33587d 321px)"></i><i style="height:3px;background:linear-gradient(90deg,#a94695 0,#ec864f 1px,#c9983e 2px,#899537 3px,#5c9233 4px,#3f9034 5px,#459162 7px,#4c9292 10px,#5493c8 15px,#5592cf 16px,#3b6791 23px,#2a4866 31px,#182a3c 43px,#091017 61px,#000 83px,#000 146px,#0b131b 187px,#2b4b6a 265px,#345a7f 298px,#315579 321px)"></i><i style="height:2.5px;background:linear-gradient(90deg,#ab4893 0,#ed894d 1px,#c1983d 2px,#819437 3px,#549132 4px,#40903b 5px,#469169 7px,#4d9299 10px,#5593d0 15px,#3b658f 22px,#2a4866 29px,#172838 41px,#091016 56px,#000 74px,#000 152px,#020405 170px,#1a2c3f 233px,#2d4e6f 284px,#315578 311px,#305375 321px)"></i></div>
<div class="hm" style="left:97px;top:560px;width:321px"><i style="height:4px;background:linear-gradient(90deg,#ca91c2 0,#e06960 1px,#ee8c4b 2px,#e49a40 3px,#b7973c 4px,#949539 5px,#5f9233 7px,#4a9131 8px,#3f9036 9px,#469169 13px,#4e929e 19px,#5593ce 27px,#3d6a96 39px,#2f5274 51px,#223a52 73px,#1a2d40 100px,#1d3247 133px,#2a4866 166px,#3d6a96 199px,#5390cc 232px,#5593ce 237px,#5293bc 264px,#5293be 286px,#5592cf 304px,#4272a1 321px)"></i><i style="height:4px;background:linear-gradient(90deg,#ce98c6 0,#e06861 1px,#ed8a4c 2px,#ea9a41 3px,#bc983c 4px,#999639 5px,#649234 7px,#3e9031 9px,#459164 13px,#4d9299 19px,#5493c9 27px,#5491cd 29px,#406f9d 39px,#32577a 51px,#243f59 73px,#1d3247 100px,#20374e 133px,#2d4d6e 166px,#4d85bc 217px,#5592cf 229px,#5293bc 256px,#5393c0 283px,#5492ce 301px,#4373a3 319px,#406f9d 321px)"></i><i style="height:4px;background:linear-gradient(90deg,#d19eca 0,#df6662 1px,#ed884d 2px,#ef9b41 3px,#c2983d 4px,#9f963a 5px,#6a9334 7px,#429030 9px,#419048 11px,#49917c 16px,#5192b4 24px,#5593cd 29px,#528ec8 31px,#406e9c 41px,#33587d 53px,#26425d 75px,#20374e 97px,#223b54 130px,#2f5072 163px,#487cb0 204px,#5390cc 222px,#5593cd 227px,#5293bb 249px,#5393c0 276px,#5593cf 294px,#4f89c2 304px,#3e6c99 321px)"></i><i style="height:4px;background:linear-gradient(90deg,#d4a5cd 0,#de6463 1px,#ec874e 2px,#f49b42 3px,#c7983e 4px,#a4963a 5px,#6f9335 7px,#489131 9px,#3f9036 10px,#47916e 15px,#4e92a2 22px,#5593cd 30px,#5592cf 31px,#4373a3 41px,#365d84 53px,#294764 75px,#233c55 97px,#25405b 130px,#2f5172 157px,#4272a1 190px,#5390cc 217px,#5593cd 222px,#5293b8 249px,#5493c9 282px,#5593d0 290px,#4679ab 312px,#3d6994 321px)"></i><i style="height:4px;background:linear-gradient(90deg,#d7acd1 0,#de6264 1px,#eb854f 2px,#f39943 3px,#a9963b 5px,#759335 7px,#3e9031 10px,#469169 15px,#4e929d 22px,#5493c8 30px,#5593d0 32px,#4171a0 44px,#345a7f 59px,#294865 81px,#25415c 103px,#284562 130px,#32567a 157px,#4b81b6 198px,#5491cd 213px,#5493cc 218px,#5193b7 245px,#5393c5 272px,#5593d0 284px,#487cb0 306px,#3b658f 321px)"></i><i style="height:4px;background:linear-gradient(90deg,#dab2d5 0,#dd6165 1px,#eb8350 2px,#f39844 3px,#af973b 5px,#7a9436 7px,#439030 10px,#419045 12px,#49917d 18px,#5092af 26px,#5593ce 33px,#4374a4 45px,#345a80 63px,#294865 90px,#294866 123px,#355b81 156px,#5390cc 207px,#5593cd 212px,#5193b6 239px,#5293bc 257px,#5593d0 279px,#406f9e 312px,#38618a 321px)"></i><i style="height:4px;background:linear-gradient(90deg,#deb9d8 0,#db6067 1px,#ea8251 2px,#f29645 3px,#d7993f 4px,#b4973c 5px,#809436 7px,#489131 10px,#3f9034 11px,#469167 16px,#4e929f 24px,#5593cd 34px,#5592cf 35px,#4678aa 45px,#375f86 63px,#2c4c6c 90px,#2c4d6d 123px,#355b81 150px,#4c84bb 191px,#5491ce 203px,#5493cb 209px,#5192b4 236px,#5293bb 254px,#5593cd 272px,#5390cc 277px,#3f6d9a 310px,#365d84 321px)"></i><i style="height:4px;background:linear-gradient(90deg,#e1c0dc 0,#d95f68 1px,#e98052 2px,#f19446 3px,#dc9a40 4px,#b9973c 5px,#859437 7px,#4e9132 10px,#3f9030 11px,#46916b 17px,#4e92a0 25px,#5493cc 35px,#5491cd 37px,#4476a7 49px,#376087 67px,#2e5071 94px,#2f5173 121px,#375f87 148px,#4e88c0 189px,#5592cf 199px,#5192b3 232px,#5293b9 250px,#5593cd 268px,#5390cc 273px,#39638c 314px,#34597e 321px)"></i><i style="height:4px;background:linear-gradient(90deg,#e4c6e0 0,#d85e6a 1px,#e97e53 2px,#f19347 3px,#e29a40 4px,#bf983d 5px,#8b9538 7px,#539132 10px,#449031 11px,#3f9036 12px,#47916d 18px,#4e92a0 26px,#5493ca 36px,#5593cf 38px,#4679ab 50px,#39638c 68px,#325679 90px,#315578 117px,#3b6691 150px,#538fcb 191px,#5593ce 196px,#5192b5 223px,#5192b2 238px,#5493c7 260px,#5492ce 268px,#315578 321px)"></i><i style="height:4px;background:linear-gradient(90deg,#e7cde3 0,#d65e6b 1px,#e87d54 2px,#f09148 3px,#e79a41 4px,#c4983d 5px,#909538 7px,#599233 10px,#3e9031 12px,#469168 18px,#4f92a5 28px,#5493cb 38px,#5492ce 40px,#477aad 52px,#3b6690 70px,#345a80 92px,#345b80 119px,#3c6894 146px,#5390cc 187px,#5593cd 192px,#5192b3 219px,#5092b0 234px,#5393c0 252px,#5592cf 264px,#2e5072 321px)"></i><i style="height:4px;background:linear-gradient(90deg,#ead4e7 0,#d55d6d 1px,#e77b55 2px,#ef8f49 3px,#ec9b41 4px,#ca983e 5px,#959539 7px,#5e9233 10px,#429030 12px,#42904b 15px,#4a9284 23px,#5092ad 31px,#5593cf 41px,#4476a6 59px,#39638d 81px,#365e85 108px,#3b6691 135px,#4b81b7 168px,#5491cd 183px,#5493cb 189px,#5092ae 222px,#5192b4 240px,#5493cc 258px,#5491cd 262px,#406f9e 289px,#2c4c6b 321px)"></i><i style="height:4px;background:linear-gradient(90deg,#eedaeb 0,#d35c6e 1px,#e77956 2px,#ef8e4a 3px,#f29b42 4px,#cf993e 5px,#9b9639 7px,#649234 10px,#489131 12px,#3e9032 13px,#469165 19px,#4e92a0 29px,#5493ca 41px,#5492ce 44px,#4577a8 62px,#3b6691 84px,#39638c 111px,#4171a0 144px,#5390cc 177px,#5593cf 181px,#5092af 214px,#5092ae 229px,#5393c0 247px,#5593cf 257px,#4d85bd 267px,#375f86 300px,#294764 321px)"></i><i style="height:4px;background:linear-gradient(90deg,#f1e1ee 0,#d15b70 1px,#e67857 2px,#f49a43 4px,#b8973c 6px,#7a9436 9px,#419030 13px,#47916d 21px,#4d929a 29px,#5393c5 41px,#5592cf 46px,#4679ac 64px,#3d6a96 86px,#3c6893 113px,#4373a3 140px,#5491cd 173px,#5593ce 177px,#5092ae 210px,#5092ac 225px,#5293be 243px,#5593d0 255px,#3f6d9a 282px,#26425e 321px)"></i><i style="height:4px;background:linear-gradient(90deg,#f4e8f2 0,#d05a71 1px,#e57658 2px,#f39844 4px,#a6963a 7px,#6f9335 10px,#479131 13px,#3e9032 14px,#469168 21px,#4d9295 29px,#5393c0 41px,#5593d0 48px,#487caf 66px,#406e9c 88px,#3f6d9a 115px,#477aad 142px,#5492cf 169px,#5092ab 210px,#5092ac 225px,#5493c7 247px,#5593cf 253px,#3e6a97 280px,#243e57 321px)"></i><i style="height:4px;background:linear-gradient(90deg,#f7eef6 0,#ce5973 1px,#e57459 2px,#f29745 4px,#df9a40 5px,#ab973b 7px,#749335 10px,#419030 14px,#489176 24px,#4e929d 32px,#5393c2 44px,#5593d0 51px,#497eb2 69px,#4272a2 91px,#4272a1 113px,#497eb2 140px,#5390cc 162px,#5593ce 167px,#5092ad 200px,#4f92a9 218px,#5193b6 233px,#5493cc 248px,#5492ce 251px,#3c6893 278px,#213951 321px)"></i><i style="height:4px;background:linear-gradient(90deg,#faf5fa 0,#cc5974 1px,#e4735a 2px,#f29546 4px,#e49a40 5px,#b1973b 7px,#7a9436 10px,#479131 14px,#3e9032 15px,#46916b 23px,#4c9294 31px,#5293bb 43px,#5593ce 53px,#508ac3 61px,#467aac 83px,#4476a7 110px,#4a80b6 137px,#5592cf 159px,#5092aa 200px,#4f92a7 215px,#5192b4 230px,#5592cf 248px,#3c6792 275px,#1e354b 321px)"></i><i style="height:4px;background:linear-gradient(90deg,#fdfcfd 0,#cb5876 1px,#e3715b 2px,#f19347 4px,#ea9a41 5px,#b6973c 7px,#7f9436 10px,#4c9131 14px,#429030 15px,#419044 18px,#4a9281 28px,#5092ae 40px,#5593cd 55px,#5491cd 59px,#4a7fb4 81px,#477aad 108px,#4c84bb 135px,#5592cf 153px,#5092aa 194px,#4f92a6 212px,#5192b3 227px,#5593d0 245px,#3b6791 272px,#213850 313px,#1c3044 321px)"></i><i style="height:4px;background:linear-gradient(90deg,#fff 0,#c95777 1px,#e36f5c 2px,#f09248 4px,#ef9b42 5px,#bb983c 7px,#859437 10px,#529132 14px,#3e9030 16px,#479172 26px,#4e929c 36px,#5293bb 48px,#5593cf 60px,#4b82b7 87px,#497fb4 109px,#508ac3 136px,#5593d0 148px,#5092aa 189px,#4f92a4 207px,#5192b3 225px,#5592cf 243px,#3a658f 270px,#1f364c 311px,#192c3e 321px)"></i><i style="height:4px;background:linear-gradient(90deg,#fff 0,#c85679 1px,#e26e5d 2px,#f09049 4px,#f49b42 5px,#c1983d 7px,#8b9538 10px,#589233 14px,#449031 16px,#3e9033 17px,#479172 27px,#4d929b 37px,#5293be 52px,#5593cf 64px,#4c84ba 97px,#4f88c1 124px,#5593d0 142px,#4f92a4 193px,#4f92a4 208px,#5192b3 223px,#5493cc 238px,#5491ce 241px,#3a638d 268px,#223c54 301px,#172839 321px)"></i><i style="height:4px;background:linear-gradient(90deg,#fff 0,#c6557a 1px,#e16c5e 2px,#ef8e4a 4px,#f39943 5px,#b2973b 8px,#829437 11px,#499131 16px,#409030 17px,#489177 29px,#4e92a2 41px,#5393c4 59px,#5593d0 71px,#4f88c0 98px,#528dc8 125px,#5593cf 137px,#4f92a4 188px,#4e92a2 203px,#5092af 218px,#5593cd 236px,#5490cc 239px,#345a7f 272px,#192b3e 313px,#152433 321px)"></i><i style="height:4px;background:linear-gradient(90deg,#fff 0,#c4547c 1px,#e16a60 2px,#e97e53 3px,#f39744 5px,#e39a40 6px,#a6963a 9px,#6e9335 13px,#3e9030 18px,#47916d 28px,#4d9299 40px,#5293bd 58px,#5593d0 80px,#528dc8 102px,#5593ce 129px,#4f92a5 180px,#4e929f 198px,#5092b0 216px,#5593ce 234px,#5390cb 237px,#33597e 270px,#192b3d 311px,#142230 321px)"></i><i style="height:4px;background:linear-gradient(90deg,#fff 0,#c2537e 1px,#e06861 2px,#e87c54 3px,#f29645 5px,#e99a41 6px,#ac973b 9px,#759335 13px,#459031 18px,#3e9031 19px,#47916b 29px,#4d9296 41px,#5293b8 59px,#5493ca 81px,#5593cf 108px,#5393c2 135px,#4e92a1 176px,#4e929d 194px,#5092ae 212px,#5493cb 230px,#5592cf 233px,#365d83 266px,#1b2e41 307px,#13222f 321px)"></i><i style="height:4px;background:linear-gradient(90deg,#fff 0,#c1537f 1px,#df6662 2px,#e77b56 3px,#f19446 5px,#ef9b42 6px,#b2973b 9px,#7b9436 13px,#439031 19px,#3e9032 20px,#46916a 30px,#4c9292 42px,#5192b3 60px,#5493c7 87px,#5493c7 114px,#5192b1 147px,#4d9299 180px,#4e92a0 198px,#5492ce 231px,#365d84 264px,#1b2f43 305px,#13212f 321px)"></i><i style="height:4px;background:linear-gradient(90deg,#fff 0,#bf5281 1px,#de6463 2px,#e67957 3px,#f49b42 6px,#b8973c 9px,#819437 13px,#4a9131 19px,#3e9032 21px,#469168 31px,#4c928e 43px,#5092ae 61px,#5393c1 88px,#5393c0 115px,#4d929b 166px,#4d9297 184px,#4f92a7 202px,#5493c9 224px,#5593d0 228px,#376087 261px,#1d3246 302px,#13212f 321px)"></i><i style="height:4px;background:linear-gradient(90deg,#fff 0,#bd5183 1px,#de6364 2px,#e67758 3px,#f39943 6px,#ae973b 10px,#7c9436 14px,#429030 21px,#3f9039 23px,#459162 31px,#4b9288 43px,#4f92a7 61px,#5293bb 88px,#5293b9 115px,#4d9295 166px,#4d9297 184px,#5092ab 202px,#5593cd 224px,#5491cd 227px,#375f87 260px,#1d3247 301px,#13212f 321px)"></i><i style="height:4px;background:linear-gradient(90deg,#fff 0,#bb5085 1px,#dd6165 2px,#eb8350 4px,#f29745 6px,#ea9a41 7px,#b5973c 10px,#839437 14px,#499131 21px,#3e9033 23px,#44915c 31px,#4a9282 43px,#4e92a1 61px,#5192b5 88px,#5192b2 115px,#4c9291 166px,#4d929b 188px,#5493cb 221px,#5491cd 225px,#386088 258px,#1e3348 299px,#13212e 321px)"></i><i style="height:4px;background:linear-gradient(90deg,#fff 0,#b94f86 1px,#db6067 2px,#ea8152 4px,#f29546 6px,#f09b42 7px,#bb983c 10px,#899537 14px,#4f9132 21px,#3e9033 24px,#44915a 32px,#49917e 44px,#4e929c 62px,#5092af 89px,#5092ab 116px,#4c9290 157px,#4c9292 175px,#5092aa 197px,#5493cc 219px,#5491cd 223px,#386189 256px,#1e344a 297px,#13202d 321px)"></i><i style="height:4px;background:linear-gradient(90deg,#fff 0,#b74e88 1px,#d95f69 2px,#e97f53 4px,#f49a42 7px,#b3973c 11px,#7c9436 16px,#429030 24px,#419042 28px,#47916e 40px,#4c9291 58px,#4f92a8 85px,#4f92a7 112px,#4b928d 153px,#4c9290 171px,#4f92a8 193px,#5592cf 220px,#39638c 253px,#1f364c 294px,#121f2c 321px)"></i><i style="height:4px;background:linear-gradient(90deg,#fff 0,#b54d8a 1px,#d75e6a 2px,#e87d54 4px,#f39844 7px,#e89a41 8px,#b9973c 11px,#839437 16px,#489131 24px,#3e9032 26px,#44915c 36px,#4a9280 51px,#4d929b 73px,#4f92a4 95px,#4d929b 122px,#4b9289 155px,#4d9296 177px,#5492cf 218px,#39638c 251px,#1f364c 292px,#111e2b 321px)"></i><i style="height:4px;background:linear-gradient(90deg,#fff 0,#b34c8c 1px,#d65d6c 2px,#e26d5d 3px,#ef8f49 6px,#f29745 7px,#ee9b41 8px,#bf983d 11px,#899537 16px,#429030 26px,#3f9036 28px,#459162 40px,#4a9285 58px,#4e929d 85px,#4d929a 112px,#4b9289 145px,#4b928c 163px,#5092aa 190px,#5493cb 212px,#5492ce 216px,#34597e 257px,#1b2f43 298px,#111d29 321px)"></i><i style="height:4px;background:linear-gradient(90deg,#fff 0,#b24b8d 1px,#d45c6e 2px,#e16c5f 3px,#ef8d4a 6px,#f49b42 8px,#c5983d 11px,#909538 16px,#499131 26px,#3e9030 28px,#44915c 40px,#499180 58px,#4d9295 80px,#4d9297 107px,#4a9286 148px,#4c9294 170px,#5593cd 211px,#5491ce 214px,#34597e 255px,#1b2f43 296px,#101b27 321px)"></i><i style="height:4px;background:linear-gradient(90deg,#fff 0,#b04a8f 1px,#d25b6f 2px,#e06a60 3px,#ee8b4b 6px,#f39943 8px,#a9963b 14px,#719335 21px,#3f9030 29px,#449158 41px,#49917b 59px,#4c9290 81px,#4c9293 103px,#4a9284 144px,#4c9292 166px,#5493cb 207px,#5592cf 211px,#345a80 252px,#1c3044 293px,#0f1924 321px)"></i><i style="height:4px;background:linear-gradient(90deg,#fff 0,#ae4991 1px,#d05a71 2px,#e06861 3px,#ed8a4d 6px,#f29744 8px,#ef9b41 9px,#ba973c 13px,#8c9538 18px,#4b9131 28px,#3e9032 31px,#449158 43px,#489178 61px,#4b928c 83px,#4b928d 105px,#4a9282 138px,#4c928e 160px,#5393c5 201px,#5492ce 209px,#345a80 250px,#1b2f43 291px,#0e1821 321px)"></i><i style="height:4px;background:linear-gradient(90deg,#fff 0,#ac4893 1px,#ce5a73 2px,#df6662 3px,#ec884e 6px,#f49b42 9px,#b5973c 14px,#7e9436 21px,#4d9131 29px,#3e9030 32px,#44915b 47px,#49917d 69px,#4b928a 91px,#4a9281 132px,#4b928b 154px,#5393c0 195px,#5593cf 205px,#2e5072 256px,#172838 297px,#0c151e 321px)"></i><i style="height:4px;background:linear-gradient(90deg,#fff 0,#aa4794 1px,#cd5974 2px,#de6463 3px,#ec864f 6px,#f39943 9px,#ec9b41 10px,#bb983c 14px,#849437 21px,#539132 29px,#3e9031 34px,#44915a 49px,#49917a 71px,#4a9285 93px,#4a9280 134px,#4c928f 156px,#5493c6 197px,#5492cf 204px,#345a80 245px,#1b2f42 286px,#0b131b 321px)"></i><i style="height:4px;background:linear-gradient(90deg,#fff 0,#a84696 1px,#cb5876 2px,#dd6264 3px,#eb8450 6px,#f29b42 10px,#c2983d 14px,#8b9538 21px,#5a9233 29px,#3e9032 36px,#449158 51px,#489177 73px,#4a9281 95px,#49917e 128px,#4b928b 150px,#5393c1 191px,#5593d0 201px,#355b81 242px,#1b2f43 283px,#0a1118 321px)"></i><i style="height:4px;background:linear-gradient(90deg,#fff 0,#a64598 1px,#c95778 2px,#dc6166 3px,#ea8251 6px,#f49a43 10px,#b6973c 16px,#719335 26px,#439030 36px,#3f9038 40px,#44915a 55px,#489173 73px,#49917c 95px,#49917e 128px,#4c928e 150px,#5393c5 191px,#5492cf 199px,#345a80 240px,#1b2e41 281px,#080e14 321px)"></i><i style="height:4px;background:linear-gradient(90deg,#fff 0,#a94a9b 1px,#c75679 2px,#db6067 3px,#e98052 6px,#f39844 10px,#f09b42 11px,#bc983c 16px,#6d9335 28px,#429030 38px,#40903b 43px,#45915f 61px,#489173 79px,#49917f 130px,#4d9299 157px,#5493c7 190px,#5491ce 197px,#345a7f 238px,#1a2d40 279px,#070b10 321px)"></i><i style="height:4px;background:linear-gradient(90deg,#fff 0,#ac519e 1px,#c5557b 2px,#d95f69 3px,#e97e53 6px,#f49a42 11px,#ba983c 17px,#799436 27px,#4d9131 37px,#3e9032 42px,#449159 60px,#47916e 78px,#49917f 129px,#4e92a2 162px,#5493c9 189px,#5492cf 194px,#345a7f 235px,#1a2d40 276px,#05090c 321px)"></i><i style="height:4px;background:linear-gradient(90deg,#fff 0,#af57a2 1px,#c4547c 2px,#d75e6a 3px,#e4745a 5px,#f19446 10px,#f09b42 12px,#c1983d 17px,#759335 29px,#459031 41px,#3e9032 44px,#45915e 66px,#47916f 88px,#4a9280 129px,#5192b1 170px,#5493cc 188px,#5491ce 192px,#34597e 233px,#192c3e 274px,#030608 321px)"></i><i style="height:4px;background:linear-gradient(90deg,#fff 0,#b15da5 1px,#c2537e 2px,#d55d6c 3px,#e4725b 5px,#f09247 10px,#f49a42 12px,#bf983d 18px,#809437 28px,#4e9132 40px,#3e9032 46px,#44915d 68px,#47916e 95px,#4a9281 128px,#5192b3 169px,#5593ce 187px,#518cc6 193px,#315578 234px,#172839 275px,#020405 321px)"></i><i style="height:4px;background:linear-gradient(90deg,#fff 0,#b461a8 1px,#c1537f 2px,#d45c6d 3px,#df6662 4px,#ec874e 8px,#f39943 12px,#ef9b42 13px,#c3983d 18px,#849437 28px,#529132 40px,#3e9032 47px,#439156 65px,#469168 87px,#49917a 120px,#5092ac 161px,#5493cc 183px,#5491cd 187px,#33597e 228px,#192c3e 269px,#020304 321px)"></i><i style="height:4px;background:linear-gradient(90deg,#fff 0,#b666aa 1px,#bf5281 2px,#d35c6f 3px,#de6463 4px,#eb854f 8px,#f39b42 13px,#c8983e 18px,#889537 28px,#579132 40px,#3e9031 48px,#439154 66px,#469167 93px,#4a9281 126px,#5493c7 177px,#5592cf 183px,#345b80 224px,#1a2e41 265px,#010203 321px)"></i><i style="height:4px;background:linear-gradient(90deg,#fff 0,#b86bad 1px,#be5182 2px,#d15b70 3px,#de6364 4px,#eb8450 8px,#f49a43 13px,#b7973c 21px,#7e9436 31px,#479131 46px,#3e9032 50px,#439150 65px,#489177 116px,#5293bc 167px,#5593cf 179px,#4f89c2 187px,#305375 228px,#172839 269px,#010202 321px)"></i><i style="height:4px;background:linear-gradient(90deg,#fff 0,#ba70b0 1px,#bc5083 2px,#d05a71 3px,#dd6165 4px,#ea8251 8px,#f29b42 14px,#bb983c 21px,#839437 31px,#4b9131 46px,#3e9031 51px,#42914e 66px,#47916e 107px,#5192b2 158px,#5593ce 176px,#528ec9 181px,#32577b 222px,#192c3e 263px,#010101 321px)"></i><i style="height:4px;background:linear-gradient(90deg,#fff 0,#bd74b2 1px,#bb5085 2px,#ce5a73 3px,#dc6066 4px,#ea8152 8px,#f49a42 14px,#ac973b 24px,#829437 32px,#4c9131 47px,#3e9033 53px,#42914d 68px,#479170 109px,#5493cc 172px,#5491ce 176px,#345a80 217px,#1b2f42 258px,#05080b 309px,#000001 321px)"></i><i style="height:4px;background:linear-gradient(90deg,#fff 0,#bf79b5 1px,#b94f86 2px,#cd5974 3px,#da6067 4px,#e97f53 8px,#f39943 14px,#f19b42 15px,#b7973c 23px,#8b9538 31px,#539132 46px,#3e9032 54px,#42914b 69px,#469168 102px,#5393c4 165px,#5592cf 173px,#355b81 214px,#1c3043 255px,#05090d 306px,#000 321px)"></i><i style="height:4px;background:linear-gradient(90deg,#fff 0,#c17eb7 1px,#b84e87 2px,#cc5875 3px,#d95f69 4px,#e87e54 8px,#f49b42 15px,#af973b 25px,#7e9436 35px,#4a9131 50px,#3e9032 55px,#429049 70px,#469169 103px,#5493ca 166px,#5492ce 171px,#355b81 212px,#1c3044 253px,#060a0e 304px,#000 321px)"></i><i style="height:4px;background:linear-gradient(90deg,#fff 0,#c382ba 1px,#b74d89 2px,#ca5777 3px,#d85e6a 4px,#e57658 7px,#f29645 14px,#f09b42 16px,#ad973b 26px,#779336 38px,#459031 53px,#3e9033 57px,#419047 72px,#459163 99px,#5493c7 162px,#5492ce 169px,#355b81 210px,#1c3044 251px,#060a0f 302px,#000 321px)"></i><i style="height:4px;background:linear-gradient(90deg,#fff 0,#c687bd 1px,#b54d8a 2px,#d65e6b 4px,#e26d5e 6px,#ef8e4a 12px,#f49b42 16px,#b1973b 26px,#7b9436 38px,#419030 56px,#459160 97px,#5493c7 160px,#5593d0 166px,#355c82 207px,#1d3146 248px,#070c11 299px,#000 321px)"></i><i style="height:4px;background:linear-gradient(90deg,#fff 0,#c88cbf 1px,#b44c8b 2px,#d55d6d 4px,#e16c5e 6px,#ee8c4b 12px,#f39943 16px,#e99a41 18px,#aa973b 28px,#6c9335 43px,#409030 58px,#449157 91px,#5393c0 154px,#5593d0 164px,#2f5172 215px,#182a3b 256px,#040709 307px,#000 321px)"></i><i style="height:4px;background:linear-gradient(90deg,#fff 0,#ca91c2 1px,#b24b8d 2px,#d35c6e 4px,#dd6265 5px,#ea8351 10px,#f49b42 17px,#b4973c 27px,#739335 42px,#469031 57px,#3f9034 63px,#439155 90px,#5393c1 153px,#5492cf 163px,#355c82 204px,#1d3246 245px,#070d12 296px,#000 321px)"></i><i style="height:4px;background:linear-gradient(90deg,#fff 0,#cc95c4 1px,#b14b8e 2px,#d25b6f 4px,#dc6166 5px,#ea8152 10px,#f39943 17px,#ea9a41 19px,#ae973b 29px,#709335 44px,#4c9131 56px,#3e9032 64px,#449157 91px,#5493c6 154px,#5592cf 161px,#355c82 202px,#1d3247 243px,#080e13 294px,#000 321px)"></i><i style="height:4px;background:linear-gradient(90deg,#fff 0,#cf9ac7 1px,#b04a8f 2px,#d15b71 4px,#e06861 6px,#ed884d 12px,#f49b42 18px,#b7973c 28px,#779336 43px,#4a9131 58px,#3e9032 66px,#44915b 93px,#5493cc 156px,#5491cd 160px,#355b81 201px,#1d3247 242px,#080e14 293px,#000 321px)"></i><i style="height:4px;background:linear-gradient(90deg,#fff 0,#d19fca 1px,#ae4990 2px,#cf5a72 4px,#df6662 6px,#ec874e 12px,#f29b42 19px,#b6973c 29px,#6d9335 47px,#4c9131 59px,#3e9031 67px,#45915e 94px,#5293bd 145px,#5593d0 157px,#355c83 198px,#1e3348 239px,#090f15 290px,#000 321px)"></i><i style="height:4px;background:linear-gradient(90deg,#fff 0,#d3a3cc 1px,#ad4892 2px,#ce5973 4px,#de6563 6px,#eb864f 12px,#f49a42 19px,#b0973b 31px,#6a9334 49px,#459031 64px,#3e9033 70px,#5393c5 148px,#5492ce 156px,#355c81 197px,#1d3348 238px,#090f15 289px,#000 321px)"></i><i style="height:4px;background:linear-gradient(90deg,#fff 0,#d5a8cf 1px,#ab4893 2px,#cc5974 4px,#de6364 6px,#eb8450 12px,#f39b42 20px,#b9973c 30px,#709335 48px,#499131 63px,#3e9032 70px,#5092ae 133px,#5493cc 151px,#5492cf 154px,#355c82 195px,#1e3348 236px,#091016 287px,#000 321px)"></i><i style="height:4px;background:linear-gradient(90deg,#fff 0,#d8add1 1px,#aa4794 2px,#cb5876 4px,#dd6265 6px,#ea8351 12px,#f49a43 20px,#b4973c 32px,#6d9335 50px,#419030 68px,#469165 95px,#5493c7 146px,#5592cf 152px,#355c82 193px,#1e3349 234px,#091017 285px,#000 318px,#000 321px)"></i><i style="height:4px;background:linear-gradient(90deg,#fff 0,#dab1d4 1px,#a84696 2px,#ca5777 4px,#dc6166 6px,#ea8151 12px,#f39943 20px,#f49b42 21px,#bc983c 31px,#739335 49px,#439031 67px,#3f9035 72px,#5193b7 135px,#5593d0 150px,#355c82 191px,#1e3449 232px,#0a1118 283px,#000 316px,#000 321px)"></i><i style="height:4px;background:linear-gradient(90deg,#fff 0,#dcb6d7 1px,#a74697 2px,#c85678 4px,#db6067 6px,#e98052 12px,#f19b42 22px,#bc983c 32px,#739335 50px,#419030 68px,#419047 80px,#5192b3 131px,#5593cd 146px,#5492ce 149px,#355b81 190px,#1e3348 231px,#0a1117 282px,#000 315px,#000 321px)"></i><i style="height:4px;background:linear-gradient(90deg,#fff 0,#ddb9d8 1px,#a64598 2px,#c75679 4px,#da6068 6px,#eb8350 13px,#f39943 21px,#f49b42 22px,#b5973c 34px,#789336 49px,#439031 67px,#3f9034 71px,#5293ba 134px,#5593cf 146px,#2f5274 197px,#1a2d3f 238px,#030608 301px,#000 319px,#000 321px)"></i><i style="height:4px;background:linear-gradient(90deg,#fff 0,#ddb7d7 1px,#a74597 2px,#c85679 4px,#db6067 6px,#eb8450 13px,#f39943 21px,#ec9b41 23px,#af973b 35px,#739335 50px,#3f9030 68px,#5192b5 131px,#5593cf 146px,#2f5274 197px,#1a2d3f 238px,#030608 301px,#000 319px,#000 321px)"></i><i style="height:4px;background:linear-gradient(90deg,#fff 0,#dcb6d7 1px,#a74697 2px,#c85678 4px,#db6067 6px,#e98052 12px,#f39844 20px,#f19b42 22px,#b2973b 34px,#759335 49px,#409030 67px,#5192b3 130px,#5593cd 145px,#5390cb 149px,#345a7f 190px,#1d3247 231px,#05090c 294px,#000 316px,#000 321px)"></i><i style="height:4px;background:linear-gradient(90deg,#fff 0,#dbb4d6 1px,#a74697 2px,#c95778 4px,#db6066 6px,#ea8152 12px,#f39844 20px,#f09b42 22px,#b1973b 34px,#749335 49px,#3f9030 67px,#5192b4 130px,#5593ce 145px,#538fcb 149px,#345a7f 190px,#1d3247 231px,#05090c 294px,#000 316px,#000 321px)"></i><i style="height:4px;background:linear-gradient(90deg,#fff 0,#dbb3d5 1px,#a84696 2px,#c95777 4px,#dc6066 6px,#ea8152 12px,#f39943 20px,#f49b42 21px,#b4973c 33px,#6c9335 51px,#409030 66px,#5192b2 129px,#5492cf 147px,#355c82 188px,#1e3449 229px,#05090d 292px,#000 314px,#000 321px)"></i><i style="height:4px;background:linear-gradient(90deg,#fff 0,#dab1d4 1px,#a84696 2px,#ca5777 4px,#dc6166 6px,#ea8251 12px,#f39943 20px,#f49b42 21px,#bc983c 31px,#719335 49px,#449031 64px,#3f9034 68px,#5193b6 131px,#5593d0 146px,#2f5274 197px,#1a2c3f 238px,#020406 301px,#000 316px,#000 321px)"></i><i style="height:4px;background:linear-gradient(90deg,#fff 0,#d9b0d3 1px,#a94695 2px,#ca5777 4px,#dd6165 6px,#ea8251 12px,#f39943 20px,#ec9b41 22px,#ad973b 34px,#669234 52px,#439030 64px,#3f9035 68px,#5193b6 131px,#5593d0 146px,#2f5274 197px,#1a2c3f 238px,#020405 301px,#000 316px,#000 321px)"></i><i style="height:4px;background:linear-gradient(90deg,#fff 0,#d8aed2 1px,#a94795 2px,#ca5876 4px,#dd6165 6px,#ea8251 12px,#f49a43 20px,#a8963a 35px,#6b9334 50px,#3f9030 65px,#5192b1 128px,#5593d0 146px,#2f5274 197px,#192c3e 238px,#020305 301px,#000 319px,#000 321px)"></i><i style="height:4px;background:linear-gradient(90deg,#fff 0,#d8add2 1px,#aa4795 2px,#cb5876 4px,#dd6265 6px,#ea8351 12px,#f49a42 20px,#b4973c 32px,#6a9334 50px,#3e9031 65px,#5192b2 128px,#5593d0 146px,#2f5274 197px,#192c3e 238px,#020304 301px,#000 319px,#000 321px)"></i><i style="height:4px;background:linear-gradient(90deg,#fff 0,#d7acd1 1px,#aa4794 2px,#cb5875 4px,#dd6264 6px,#eb8350 12px,#f49b42 20px,#b3973c 32px,#699334 50px,#3e9032 65px,#5192b2 128px,#5593d0 146px,#2f5273 197px,#192c3e 238px,#020304 301px,#000 321px)"></i><i style="height:4px;background:linear-gradient(90deg,#fff 0,#d6aad0 1px,#ab4794 2px,#cc5875 4px,#de6364 6px,#eb8450 12px,#f49b42 20px,#bb983c 30px,#6e9335 48px,#409030 63px,#5092af 126px,#5593cd 144px,#5390cb 148px,#2e4f70 199px,#182a3c 240px,#010102 303px,#000 321px)"></i><i style="height:4px;background:linear-gradient(90deg,#fff 0,#d6a9cf 1px,#ab4893 2px,#cc5875 4px,#de6364 6px,#eb8450 12px,#f29b42 20px,#b9973c 30px,#6d9335 48px,#3e9030 63px,#5092af 126px,#5593ce 144px,#5390cb 148px,#2e4f70 199px,#182a3b 240px,#010101 303px,#000 321px)"></i><i style="height:4px;background:linear-gradient(90deg,#fff 0,#d5a7ce 1px,#ab4893 2px,#cd5974 4px,#de6463 6px,#eb854f 12px,#f39a43 19px,#de9a40 23px,#a1963a 35px,#5b9233 53px,#3e9031 63px,#5092af 126px,#5593ce 144px,#528ec9 149px,#2d4e6f 200px,#18293a 241px,#000 304px,#000 321px)"></i><i style="height:4px;background:linear-gradient(90deg,#fff 0,#d4a6cd 1px,#ac4893 2px,#cd5974 4px,#de6463 6px,#eb854f 12px,#f49a43 19px,#b2973b 31px,#679234 49px,#419030 61px,#439154 79px,#5193b7 130px,#5593d0 145px,#305275 196px,#192c3e 237px,#010203 300px,#000 321px)"></i><i style="height:4px;background:linear-gradient(90deg,#fff 0,#d3a4cd 1px,#ac4892 2px,#cd5973 4px,#de6463 6px,#eb864f 12px,#f49b42 19px,#b1973b 31px,#669234 49px,#409030 61px,#5092ac 124px,#5493cb 142px,#5492ce 146px,#2f5173 197px,#192b3d 238px,#010101 301px,#000 321px)"></i><i style="height:4px;background:linear-gradient(90deg,#fff 0,#d3a3cc 1px,#ad4892 2px,#ce5973 4px,#df6563 6px,#ec864f 12px,#f49b42 19px,#b9973c 29px,#6c9335 47px,#449031 59px,#3e9032 62px,#5092af 125px,#5593cd 143px,#5491ce 146px,#2f5173 197px,#192b3d 238px,#000001 301px,#000 321px)"></i><i style="height:4px;background:linear-gradient(90deg,#fff 0,#d2a1cb 1px,#ad4991 2px,#ce5a73 4px,#df6562 6px,#ec864e 12px,#f39b42 19px,#b8973c 29px,#6a9334 47px,#439030 59px,#3f9036 63px,#5192b1 126px,#5593cf 144px,#305376 195px,#1a2c3f 236px,#010102 299px,#000 321px)"></i><i style="height:4px;background:linear-gradient(90deg,#fff 0,#d1a0ca 1px,#ae4991 2px,#cf5a72 4px,#df6662 6px,#ec874e 12px,#f19b42 19px,#b7973c 29px,#699334 47px,#419030 59px,#42914e 74px,#5393c4 137px,#5592cf 145px,#2f5274 196px,#192b3e 237px,#000 300px,#000 321px)"></i><i style="height:4px;background:linear-gradient(90deg,#fff 0,#d19ec9 1px,#ae4990 2px,#cf5a72 4px,#df6662 6px,#ec874e 12px,#f49a43 18px,#b1973b 30px,#649234 48px,#3e9031 60px,#4a9283 101px,#5493cc 142px,#5491cd 146px,#2f5172 197px,#192b3c 238px,#000 301px,#000 321px)"></i><i style="height:4px;background:linear-gradient(90deg,#fff 0,#d09dc9 1px,#af4990 2px,#d05a71 4px,#df6762 6px,#ec884e 12px,#f49a42 18px,#b9973c 28px,#6a9334 46px,#419030 58px,#419045 68px,#5293bb 131px,#5593ce 143px,#508bc5 150px,#2c4c6c 201px,#121f2c 252px,#020405 293px,#000 305px,#000 321px)"></i><i style="height:4px;background:linear-gradient(90deg,#fff 0,#cf9bc8 1px,#af4a90 2px,#d05a71 4px,#df6761 6px,#ed884d 12px,#f49b42 18px,#b8973c 28px,#699334 46px,#409030 58px,#4c9293 109px,#5593cd 142px,#5492ce 145px,#2f5274 196px,#192b3d 237px,#000 300px,#000 321px)"></i><i style="height:4px;background:linear-gradient(90deg,#fff 0,#cf9ac7 1px,#af4a8f 2px,#d15b71 4px,#e06861 6px,#ed894d 12px,#f39b42 18px,#c1983d 26px,#6f9335 44px,#449031 56px,#3e9032 59px,#46916a 86px,#5493c6 137px,#5592cf 144px,#305376 195px,#1a2d3f 236px,#010101 299px,#000 321px)"></i><i style="height:4px;background:linear-gradient(90deg,#fff 0,#ce99c6 1px,#b04a8f 2px,#d15b70 4px,#e06861 6px,#ed894d 12px,#f29b42 18px,#bf983d 26px,#6e9335 44px,#439030 56px,#3f9036 60px,#489178 93px,#5393c2 134px,#5492ce 144px,#305376 195px,#162635 246px,#020305 297px,#000 312px,#000 321px)"></i><i style="height:4px;background:linear-gradient(90deg,#fff 0,#cd97c6 1px,#b04a8f 2px,#d15b70 4px,#dc6066 5px,#ea8152 10px,#f39a43 17px,#e29a40 20px,#aa973b 30px,#5d9233 48px,#419030 56px,#40903f 63px,#5193b6 126px,#5593cd 141px,#5390cc 145px,#305375 196px,#162635 247px,#020405 298px,#000 313px,#000 321px)"></i><i style="height:4px;background:linear-gradient(90deg,#fff 0,#cd96c5 1px,#b14a8e 2px,#d25b6f 4px,#dc6166 5px,#ea8151 10px,#f49a43 17px,#ad973b 29px,#5f9233 47px,#3e9031 57px,#459161 79px,#5293bd 130px,#5593d0 142px,#32567a 193px,#172939 244px,#000 307px,#000 321px)"></i><i style="height:4px;background:linear-gradient(90deg,#fff 0,#cc95c4 1px,#b14b8e 2px,#d25b6f 4px,#dd6165 5px,#ea8251 10px,#f49a42 17px,#b6973c 27px,#669234 45px,#429030 55px,#40903f 62px,#4e92a1 113px,#5593cd 140px,#5390cc 144px,#315477 195px,#172838 246px,#000 309px,#000 321px)"></i><i style="height:4px;background:linear-gradient(90deg,#fff 0,#cb93c3 1px,#b14b8d 2px,#d35c6f 4px,#dd6165 5px,#ea8251 10px,#f49b42 17px,#bf983d 25px,#6c9335 43px,#409030 55px,#469169 82px,#5393c4 133px,#5593d0 141px,#33577c 192px,#192b3c 243px,#010203 306px,#000 321px)"></i><i style="height:4px;background:linear-gradient(90deg,#fff 0,#cb92c3 1px,#b24b8d 2px,#d35c6e 4px,#dd6165 5px,#ea8351 10px,#f39b42 17px,#be983d 25px,#6b9334 43px,#3f9030 55px,#459161 77px,#5293bd 128px,#5593cf 140px,#2c4d6d 203px,#152332 254px,#020405 305px,#000 321px)"></i><i style="height:4px;background:linear-gradient(90deg,#fff 0,#ca91c2 1px,#b24b8d 2px,#d35c6e 4px,#dd6264 5px,#eb8350 10px,#f19b42 17px,#bd983d 25px,#699334 43px,#3e9031 55px,#459163 77px,#5293be 128px,#5593d0 140px,#2d4d6d 203px,#152433 254px,#030507 305px,#000 321px)"></i><i style="height:4px;background:linear-gradient(90deg,#fff 0,#ca8fc1 1px,#b34b8c 2px,#d45c6e 4px,#de6264 5px,#eb8450 10px,#f39a43 16px,#e19a40 19px,#a6963a 29px,#589233 47px,#3e9032 55px,#469164 77px,#5393bf 128px,#5593d0 140px,#33597e 191px,#1a2e40 242px,#030608 305px,#000 321px)"></i><i style="height:4px;background:linear-gradient(90deg,#fff 0,#c98ec0 1px,#b34c8c 2px,#d45d6d 4px,#e16c5f 6px,#ee8d4b 12px,#f49a43 16px,#b4973c 26px,#629234 44px,#3e9030 54px,#44915c 72px,#5293b8 123px,#5593ce 138px,#508bc4 146px,#305376 197px,#182a3b 248px,#020305 311px,#000 321px)"></i><i style="height:4px;background:linear-gradient(90deg,#fff 0,#c88dc0 1px,#b34c8c 2px,#d55d6d 4px,#e16c5e 6px,#ee8d4a 12px,#f49a42 16px,#be983d 24px,#699334 42px,#3e9032 54px,#45915d 72px,#5293b9 123px,#5593cf 138px,#2e5071 201px,#12202d 264px,#000 321px)"></i><i style="height:4px;background:linear-gradient(90deg,#fff 0,#c88bbf 1px,#b44c8b 2px,#d55d6c 4px,#e26c5e 6px,#ef8e4a 12px,#f49b42 16px,#bd983d 24px,#689334 42px,#419030 52px,#40903c 57px,#47916c 79px,#5393c5 130px,#5593d0 138px,#355b81 189px,#1c3145 240px,#000001 321px)"></i><i style="height:4px;background:linear-gradient(90deg,#fff 0,#c78abe 1px,#b44c8b 2px,#d55d6c 4px,#e26d5e 6px,#ef8e4a 12px,#f39b42 16px,#bb983c 24px,#669234 42px,#409030 52px,#459164 74px,#5293be 125px,#5593cf 137px,#2f5173 200px,#142230 263px,#010102 321px)"></i><i style="height:4px;background:linear-gradient(90deg,#fff 0,#c689be 1px,#b54c8a 2px,#d65d6c 4px,#e26d5e 6px,#ef8e4a 12px,#f29b42 16px,#ba973c 24px,#659234 42px,#3e9030 52px,#45915e 70px,#5293b9 121px,#5593cf 136px,#305275 199px,#152432 262px,#010203 321px)"></i><i style="height:4px;background:linear-gradient(90deg,#fff 0,#c687bd 1px,#b54d8a 2px,#d65e6b 4px,#e26e5d 6px,#ef8f49 12px,#f39943 15px,#e89a41 17px,#b3973c 25px,#5f9233 43px,#409030 51px,#469165 73px,#5092af 114px,#5593d0 136px,#305375 199px,#152434 262px,#020305 321px)"></i><i style="height:4px;background:linear-gradient(90deg,#fff 0,#c586bc 1px,#b54d8a 2px,#d75e6b 4px,#e26e5d 6px,#ef8f49 12px,#f39a43 15px,#b1973b 25px,#5e9233 43px,#3f9030 51px,#45915e 69px,#5092aa 110px,#5493cb 132px,#5491ce 137px,#365d83 188px,#1e344a 239px,#030506 321px)"></i><i style="height:4px;background:linear-gradient(90deg,#fff 0,#c585bb 1px,#b64d89 2px,#d75e6a 4px,#e26f5d 6px,#f09049 12px,#f49a43 15px,#bc983c 23px,#729335 38px,#419030 50px,#469166 72px,#5092b0 113px,#5593d0 135px,#375f86 186px,#1f364d 237px,#030608 321px)"></i><i style="height:4px;background:linear-gradient(90deg,#fff 0,#c484bb 1px,#b64d89 2px,#d75e6a 4px,#e67758 7px,#f39744 14px,#f49b42 15px,#ba983c 23px,#709335 38px,#3f9030 50px,#469167 72px,#5192b1 113px,#5592cf 135px,#375f86 186px,#1b2f42 249px,#040709 321px)"></i><i style="height:4px;background:linear-gradient(90deg,#fff 0,#c382ba 1px,#b74d89 2px,#d85e6a 4px,#e67758 7px,#f39844 14px,#f49b42 15px,#bf983d 22px,#819437 34px,#429030 49px,#3f903a 53px,#469167 71px,#5192b1 112px,#5593cf 134px,#376087 185px,#1c3044 248px,#04080b 321px)"></i><i style="height:1.3px;background:linear-gradient(90deg,#fff 0,#c381b9 1px,#b74e88 2px,#d85f69 4px,#e67758 7px,#f39844 14px,#f39b42 15px,#be983d 22px,#809437 34px,#419030 49px,#469167 71px,#5192b2 112px,#5492cf 134px,#376087 185px,#1c3145 248px,#05080c 321px)"></i></div>
<div class="hm" style="left:96.3px;top:1101.5px;width:712px"><i style="height:3px;background:linear-gradient(90deg,#000 0,#010101 235px,#010102 601px,#000 712px)"></i><i style="height:3px;background:linear-gradient(90deg,#000 0,#020304 188px,#000 423px,#010304 574px,#000 712px)"></i><i style="height:3px;background:linear-gradient(90deg,#000 0,#020406 188px,#010102 339px,#010203 490px,#020304 587px,#000 712px)"></i><i style="height:3px;background:linear-gradient(90deg,#000 0,#030507 188px,#000101 309px,#020405 497px,#030406 575px,#000 712px)"></i><i style="height:3px;background:linear-gradient(90deg,#000 0,#020406 121px,#040609 199px,#000101 296px,#020405 484px,#040709 562px,#000 683px,#000 712px)"></i><i style="height:3px;background:linear-gradient(90deg,#000 0,#020304 97px,#05090d 175px,#010101 296px,#010202 393px,#030507 490px,#05090d 553px,#000 674px,#000 712px)"></i><i style="height:3px;background:linear-gradient(90deg,#000 0,#020305 97px,#070c11 175px,#010102 296px,#020305 374px,#010203 452px,#070c10 549px,#000 670px,#000 712px)"></i><i style="height:3px;background:linear-gradient(90deg,#000 0,#020406 97px,#080f15 175px,#010203 272px,#030507 369px,#010203 432px,#080e14 529px,#060a0f 580px,#000101 658px,#000 712px)"></i><i style="height:3px;background:linear-gradient(90deg,#000 0,#020304 78px,#0a1118 156px,#091016 197px,#010304 275px,#040609 338px,#030608 379px,#020304 442px,#0b121a 539px,#05080b 602px,#000101 665px,#000 712px)"></i><i style="height:3px;background:linear-gradient(90deg,#000 0,#020305 78px,#0c151e 156px,#0b131b 197px,#030507 260px,#020405 311px,#060a0f 362px,#020304 425px,#070c11 488px,#0d1620 539px,#070d12 590px,#010102 653px,#000 712px)"></i><i style="height:3px;background:linear-gradient(90deg,#000 0,#020406 78px,#0f1a24 156px,#0f1924 189px,#030507 267px,#040609 318px,#080e14 359px,#020405 410px,#04080b 461px,#0f1a24 524px,#0f1a24 557px,#020405 635px,#000 712px)"></i><i style="height:3px;background:linear-gradient(90deg,#000 0,#030507 78px,#121f2c 156px,#121e2b 189px,#040609 267px,#030608 308px,#0b131b 349px,#091017 371px,#030507 412px,#060a0e 463px,#121f2c 526px,#111e2b 559px,#020406 637px,#000 712px)"></i><i style="height:3px;background:linear-gradient(90deg,#000 0,#020304 63px,#080e14 104px,#152534 155px,#162635 182px,#05090d 260px,#040609 301px,#090f15 328px,#0f1a25 355px,#0b121a 377px,#040609 410px,#05090d 451px,#162635 529px,#152534 556px,#030508 634px,#000 697px,#000 712px)"></i><i style="height:3px;background:linear-gradient(90deg,#000 0,#020305 63px,#0a1118 104px,#192b3d 155px,#1a2d3f 182px,#070b10 260px,#05080b 301px,#0b131b 328px,#13212f 350px,#12202d 365px,#060b10 398px,#04080b 431px,#0b121a 472px,#192b3d 523px,#1a2d3f 550px,#121f2b 583px,#060a0e 624px,#000101 675px,#000 712px)"></i><i style="height:3px;background:linear-gradient(90deg,#000 0,#020405 63px,#090f15 96px,#1b2f42 147px,#1f354b 174px,#1a2c3f 201px,#091017 252px,#05090d 293px,#080f15 315px,#182a3b 348px,#192a3c 363px,#090f15 396px,#05090d 423px,#0a1219 464px,#1e3349 527px,#1e3349 554px,#101c27 595px,#04070a 636px,#000001 687px,#000 712px)"></i><i style="height:3px;background:linear-gradient(90deg,#000 0,#030406 63px,#0a1119 96px,#1f364d 147px,#243e57 169px,#213950 191px,#0b121a 254px,#070b10 287px,#090f15 309px,#111d2a 327px,#20374d 349px,#20384f 361px,#152434 379px,#0a121a 397px,#070b10 419px,#091017 452px,#162737 493px,#223b53 526px,#233d56 548px,#1b2f43 575px,#0a1118 616px,#030406 649px,#000 712px)"></i><i style="height:3px;background:linear-gradient(90deg,#000 0,#030507 63px,#0c141c 96px,#243e58 147px,#294664 169px,#25415c 191px,#101c27 242px,#090f15 275px,#090f16 302px,#101b27 320px,#27435f 347px,#294865 357px,#243e57 369px,#101c28 391px,#091016 409px,#090f15 436px,#101b27 469px,#25405b 520px,#294664 542px,#243e58 564px,#0c141d 615px,#030508 648px,#000 712px)"></i><i style="height:3px;background:linear-gradient(90deg,#000 0,#030608 63px,#0d1720 96px,#294663 147px,#2e5071 169px,#2a4968 191px,#12202d 242px,#0a1219 275px,#0b121a 302px,#111d29 317px,#20374d 332px,#305376 347px,#34597e 357px,#2e5071 367px,#162535 389px,#0c151e 404px,#0a1017 426px,#0f1a24 459px,#1d3246 492px,#2c4c6b 525px,#2e4f70 547px,#27435f 569px,#0b141c 620px,#030507 653px,#000 712px)"></i><i style="height:3px;background:linear-gradient(90deg,#000 0,#020405 51px,#0a1017 84px,#1b2f42 117px,#2f5173 150px,#34597e 168px,#315579 186px,#213850 219px,#111e2a 252px,#0b141c 285px,#0e1923 307px,#162636 319px,#294765 334px,#39638c 346px,#3c6792 358px,#375f87 368px,#192b3c 390px,#0f1b26 402px,#0b141c 420px,#0f1a25 453px,#1a2c3f 480px,#305275 521px,#34597f 539px,#315477 557px,#223b54 584px,#0e1822 617px,#05080c 644px,#000101 685px,#000 712px)"></i><i style="height:3px;background:linear-gradient(90deg,#000 0,#020406 51px,#0b121a 84px,#1a2d3f 111px,#315578 144px,#38628a 162px,#38628a 180px,#2f5173 202px,#172838 243px,#0f1a24 270px,#0e1822 297px,#142230 312px,#20384f 324px,#3a648e 339px,#4272a1 351px,#4271a1 361px,#3a648d 373px,#20374e 388px,#13212f 400px,#0e1822 415px,#0f1a24 442px,#172839 469px,#345b80 520px,#39638c 538px,#375e86 556px,#2a4967 578px,#0f1924 619px,#05080c 646px,#000101 687px,#000 712px)"></i><i style="height:3px;background:linear-gradient(90deg,#000 0,#020406 51px,#091016 78px,#18293b 105px,#375f87 146px,#3f6c99 164px,#3e6a97 182px,#32577b 204px,#1d3146 237px,#121f2c 264px,#0f1a25 291px,#13202e 306px,#1d3246 318px,#2d4e6f 328px,#3b6690 335px,#497eb2 350px,#497fb3 360px,#406f9d 372px,#375f87 379px,#20384f 391px,#162535 401px,#101b26 416px,#111d2a 443px,#1a2d40 470px,#3a658e 521px,#3f6d9a 539px,#3c6792 557px,#2e4f70 579px,#142332 612px,#070d12 639px,#010203 672px,#000 712px)"></i><i style="height:3px;background:linear-gradient(90deg,#000 0,#030507 51px,#0a1118 78px,#162737 100px,#38628a 141px,#4373a3 159px,#4476a7 177px,#3d6995 195px,#20374e 236px,#142332 263px,#111e2a 290px,#152433 305px,#1d3247 315px,#2d4f6f 325px,#3c6893 332px,#4e87c0 347px,#538fca 355px,#508ac3 363px,#3b658f 381px,#25405b 391px,#192a3c 401px,#12202d 413px,#121f2c 435px,#192b3d 462px,#294664 489px,#406e9c 522px,#4577a8 540px,#406f9e 558px,#315578 580px,#152535 613px,#091017 635px,#030406 662px,#000 712px)"></i><i style="height:3px;background:linear-gradient(90deg,#000 0,#030507 51px,#0b131a 78px,#182a3b 100px,#3d6995 141px,#487cb0 159px,#4a80b5 174px,#4375a5 192px,#243f59 233px,#192b3d 255px,#13222f 282px,#152433 300px,#1d3246 312px,#294663 320px,#3b6691 328px,#5593cf 346px,#5393c3 356px,#5593d0 366px,#3a658f 384px,#284562 392px,#1c3146 400px,#152433 412px,#142230 434px,#1b2e41 461px,#2b4b6a 488px,#4476a7 521px,#4a80b5 539px,#477caf 554px,#3c6792 572px,#172839 613px,#0a1219 635px,#030507 662px,#000 712px)"></i><i style="height:3px;background:linear-gradient(90deg,#000 0,#030508 51px,#0b141c 78px,#1a2d3f 100px,#41719f 141px,#4d85bc 159px,#4f89c1 174px,#487cb0 192px,#27435f 233px,#1b2f42 255px,#152534 282px,#172839 300px,#1e3348 310px,#294764 318px,#3c6792 326px,#5593cf 341px,#5192b4 351px,#5192b1 359px,#5493c9 369px,#5593d0 371px,#3b6691 386px,#284663 394px,#1d3348 402px,#172737 414px,#162636 436px,#1e3349 463px,#2c4b6b 485px,#477aad 518px,#4f88c1 536px,#4d86be 551px,#4373a3 569px,#1b2f43 610px,#0c151e 632px,#030608 659px,#000 712px)"></i><i style="height:3px;background:linear-gradient(90deg,#000 0,#030608 51px,#0c151e 78px,#1b2f43 100px,#4577a8 141px,#518dc7 159px,#5491cc 174px,#4e87bf 189px,#386088 216px,#233c55 243px,#1a2d3f 265px,#172839 292px,#1b2f43 304px,#25415b 314px,#365e84 322px,#3f6d9a 326px,#528ec9 336px,#5593ce 338px,#4e92a1 350px,#4d9298 356px,#4f92a5 363px,#5493cb 373px,#5593cf 374px,#386189 389px,#26435e 397px,#1d3247 405px,#18293a 417px,#182a3b 439px,#213951 466px,#315477 488px,#4d85bc 521px,#5390cc 536px,#528ec8 551px,#467aac 569px,#1d3246 610px,#0d1720 632px,#040609 659px,#000 712px)"></i><i style="height:3px;background:linear-gradient(90deg,#000 0,#030609 51px,#0d161f 78px,#1d3146 100px,#487db0 141px,#5491cd 156px,#5593cd 163px,#5491cd 185px,#4374a3 207px,#2b4a68 234px,#1e344a 256px,#192b3d 283px,#1c3043 301px,#243e57 311px,#32577b 319px,#3f6c99 324px,#528fca 334px,#5593cf 335px,#4b9288 350px,#49917b 355px,#4a9282 360px,#5493c9 375px,#5491ce 377px,#406e9c 387px,#375f86 391px,#26425d 399px,#1c3145 409px,#192b3d 424px,#1d3246 451px,#274460 473px,#3e6c98 500px,#518cc7 522px,#5593cf 530px,#5593cd 548px,#5491ce 555px,#4679ab 573px,#1b2e41 614px,#0c141c 636px,#030508 663px,#000 712px)"></i><i style="height:3px;background:linear-gradient(90deg,#000 0,#040609 51px,#0d1720 78px,#1e3349 100px,#4b81b7 141px,#5593d0 153px,#5393c5 171px,#5592cf 189px,#3c6893 216px,#294765 238px,#1e344a 260px,#1a2d40 287px,#1e3348 302px,#274460 312px,#355c82 319px,#3f6d9b 323px,#4f89c1 331px,#5491cd 333px,#5493c9 335px,#4b928d 345px,#45915f 352px,#439155 356px,#459161 360px,#5393c0 375px,#5593cf 378px,#3d6995 390px,#2c4b6b 397px,#213950 405px,#1b2f42 417px,#1b2f43 439px,#223b53 461px,#305476 483px,#508ac3 516px,#5593cf 524px,#5393c5 542px,#5491ce 560px,#4374a4 578px,#1e344a 611px,#0e1721 633px,#05080c 655px,#000101 696px,#000 712px)"></i><i style="height:3px;background:linear-gradient(90deg,#000 0,#040609 51px,#0b131b 73px,#1a2d3f 95px,#375f87 122px,#508ac3 144px,#5593d0 150px,#5393c0 168px,#5493c9 186px,#5491ce 193px,#2d4e6f 234px,#213950 256px,#1b2f43 283px,#1e344a 301px,#274460 311px,#355b81 318px,#3f6d9b 322px,#4f89c2 330px,#5492ce 332px,#5092b1 338px,#49917b 345px,#3f9035 352px,#499131 354px,#4f9132 356px,#3f9030 359px,#4c928f 369px,#5393c4 377px,#5593ce 379px,#518cc6 381px,#3c6994 391px,#2c4b6b 398px,#213a52 406px,#1c3044 418px,#1d3146 440px,#233d57 462px,#33587c 484px,#538fca 517px,#5593cf 521px,#5393c0 539px,#5493c6 554px,#5593cf 562px,#3e6b98 584px,#1f364c 611px,#0e1822 633px,#05090c 655px,#000101 696px,#000 712px)"></i><i style="height:3px;background:linear-gradient(90deg,#000 0,#040709 51px,#0b131b 73px,#1a2e40 95px,#386189 122px,#518cc7 144px,#5593cf 149px,#5293be 167px,#5393c2 182px,#5592cf 194px,#2d4f6f 235px,#213951 257px,#1c3045 284px,#1e344a 299px,#26415c 309px,#315579 316px,#406f9d 322px,#518cc6 330px,#5593ce 332px,#4f92a3 339px,#47916c 345px,#3f9035 349px,#4b9131 350px,#9c9639 354px,#a9963b 355px,#ac973b 356px,#a6963a 357px,#839437 359px,#459031 362px,#3f903a 363px,#47916f 367px,#4f92a5 373px,#5593cf 380px,#3b6691 392px,#2b4a69 399px,#213a52 407px,#1d3146 419px,#1d3348 441px,#253f5a 463px,#345b80 485px,#5593d0 518px,#5293be 536px,#5393c1 551px,#5593cf 563px,#4679ac 578px,#20374e 611px,#0e1923 633px,#05090c 655px,#000101 696px,#000 712px)"></i><i style="height:3px;background:linear-gradient(90deg,#000 0,#040709 51px,#0b131b 73px,#1b2e41 95px,#38628a 122px,#528ec8 144px,#5593cf 148px,#5293bc 166px,#5393c0 181px,#5593ce 193px,#538fca 197px,#32567a 230px,#233d57 252px,#1d3146 279px,#1e3449 297px,#243e58 307px,#305375 315px,#41709e 322px,#528dc8 330px,#5492cf 331px,#5092af 337px,#49917b 343px,#419047 347px,#3f9036 348px,#4d9131 349px,#849437 351px,#a8963a 352px,#d5993f 353px,#f09248 354px,#e67857 355px,#e06960 356px,#f39844 358px,#9c9639 360px,#5e9233 362px,#469031 363px,#40903b 364px,#489174 368px,#4e92a2 373px,#5593ce 380px,#518cc6 382px,#3c6792 392px,#2b4b6a 399px,#223a53 407px,#1d3247 419px,#1e3349 441px,#25405b 463px,#355b81 485px,#508bc4 512px,#5593cf 518px,#5293bd 536px,#5393c0 551px,#5593ce 563px,#538fca 567px,#233d56 608px,#101c28 630px,#060a0f 652px,#010202 685px,#000 712px)"></i><i style="height:3px;background:linear-gradient(90deg,#000 0,#040709 51px,#0b131b 73px,#1a2e41 95px,#38618a 122px,#528dc8 144px,#5593cf 148px,#5293bd 166px,#5393c0 181px,#5593ce 193px,#528dc8 198px,#315578 231px,#233c55 253px,#1c3146 280px,#1e344a 298px,#253f5a 308px,#32567a 316px,#41709e 322px,#518dc7 330px,#5492ce 331px,#5393c2 334px,#4c9290 341px,#449159 346px,#40903a 348px,#479131 349px,#789336 351px,#b8973c 353px,#dd9a40 354px,#f39844 355px,#f19446 356px,#f49b42 357px,#8d9538 360px,#569132 362px,#409030 363px,#46916a 367px,#4d929b 372px,#5493c9 379px,#5593ce 380px,#4e87bf 383px,#3e6c99 391px,#2d4e6e 398px,#223c54 406px,#1d3247 418px,#1d3348 440px,#243f59 462px,#345a7f 484px,#5592cf 517px,#5293bd 535px,#5393bf 550px,#5492ce 565px,#365d83 592px,#1d3247 614px,#0d161f 636px,#030608 663px,#000 712px)"></i><i style="height:3px;background:linear-gradient(90deg,#000 0,#040609 51px,#0b131b 73px,#1a2d40 95px,#386088 122px,#518cc5 144px,#5593d0 149px,#5393bf 167px,#5393c3 182px,#5491ce 194px,#2d4e6e 235px,#213950 257px,#1c3044 284px,#1e3449 299px,#25405b 309px,#315578 316px,#406e9c 322px,#5593cf 332px,#4e929e 340px,#469167 346px,#3f9034 350px,#679334 353px,#7b9436 355px,#7d9436 356px,#709335 358px,#449031 361px,#3f9038 362px,#489175 367px,#4f92a8 373px,#5593cf 380px,#4373a3 388px,#3b658f 392px,#2b4a68 399px,#213951 407px,#1c3145 419px,#1d3247 441px,#243f59 463px,#345a7f 485px,#5492ce 518px,#5293be 540px,#5493c6 555px,#5593d0 563px,#3d6a96 585px,#1f354b 612px,#0e1721 634px,#05080c 656px,#000101 697px,#000 712px)"></i><i style="height:3px;background:linear-gradient(90deg,#000 0,#040609 51px,#0b131a 73px,#1a2c3f 95px,#375e85 122px,#4f89c1 144px,#5593cf 152px,#5393c2 170px,#5593cd 188px,#5491cd 192px,#2e4f70 233px,#213950 255px,#1b2f42 282px,#1d3348 300px,#25405b 310px,#325679 317px,#406f9d 323px,#5593cf 333px,#4e92a1 341px,#419042 353px,#3f903a 356px,#419044 359px,#4e92a3 371px,#5593d0 379px,#4374a4 387px,#3b6792 391px,#2b4a69 398px,#213950 406px,#1b3043 418px,#1c3145 440px,#233d56 462px,#32577b 484px,#528dc8 517px,#5593cf 522px,#5393c2 540px,#5491cd 562px,#3d6a96 584px,#1f354c 611px,#0e1822 633px,#05090c 655px,#000101 696px,#000 712px)"></i><i style="height:3px;background:linear-gradient(90deg,#000 0,#040609 51px,#0d1620 78px,#1d3348 100px,#4a7fb4 141px,#5491cd 153px,#5593cd 158px,#5493c8 176px,#5491ce 188px,#4171a0 210px,#294765 237px,#1e344a 259px,#1a2c3f 286px,#1c3146 301px,#25405a 311px,#345a7f 319px,#3e6c98 323px,#528eca 333px,#5593d0 334px,#4d929b 344px,#47916f 352px,#469167 356px,#489174 361px,#5493c9 376px,#5491ce 378px,#3f6e9b 388px,#294764 398px,#1f364d 406px,#1a2d40 418px,#1b2e42 440px,#223a53 462px,#315477 484px,#4f89c2 517px,#5593d0 525px,#5493c7 543px,#5491ce 558px,#4476a7 576px,#20374e 609px,#0f1924 631px,#05090d 653px,#000101 694px,#000 712px)"></i><i style="height:3px;background:linear-gradient(90deg,#000 0,#030608 51px,#0c161f 78px,#1c3145 100px,#477aad 141px,#5490cc 159px,#5593ce 169px,#5491ce 181px,#497eb2 199px,#2b4b6a 232px,#1e354a 254px,#182a3b 281px,#1a2d3f 299px,#20384f 309px,#2c4d6d 317px,#3f6d9a 325px,#538fca 335px,#5593d0 336px,#4c9290 351px,#4b9289 357px,#4e929c 364px,#5492ce 376px,#406f9d 386px,#386088 390px,#26435e 398px,#1c3145 408px,#182a3b 423px,#1c3044 450px,#26415c 472px,#3c6893 499px,#4f89c1 521px,#5593d0 533px,#5492ce 551px,#487db1 569px,#1e3348 610px,#0d1721 632px,#040609 659px,#000 712px)"></i><i style="height:3px;background:linear-gradient(90deg,#000 0,#030608 51px,#0c141d 78px,#1b2e41 100px,#4374a5 141px,#4f89c2 159px,#528dc8 174px,#4c84ba 189px,#365e85 216px,#223b53 243px,#192b3d 265px,#172737 292px,#1a2d40 304px,#243e58 314px,#345a80 322px,#3e6b97 326px,#5491cd 338px,#5493cb 340px,#4f92a6 352px,#4f92a5 359px,#5393c1 369px,#5593d0 373px,#39628b 388px,#27435f 396px,#1d3247 404px,#172839 416px,#172839 438px,#20374e 465px,#2f5172 487px,#4b81b6 520px,#518cc7 535px,#508bc5 550px,#4678aa 568px,#1d3247 609px,#0d1720 631px,#040609 658px,#000 712px)"></i><i style="height:3px;background:linear-gradient(90deg,#000 0,#030507 51px,#0b131b 78px,#192b3d 100px,#3f6d9b 141px,#4b81b7 159px,#4d85bc 174px,#4679ab 192px,#26415d 233px,#1a2d40 255px,#152332 282px,#162737 300px,#1e354b 312px,#2b4a69 320px,#3d6a96 328px,#518cc6 340px,#5593cf 343px,#5293ba 353px,#5293bd 361px,#5593cf 369px,#3d6995 384px,#27435f 394px,#1c3145 402px,#162535 414px,#152534 436px,#1d3247 463px,#2a4968 485px,#4577a9 518px,#4d85bc 536px,#4b82b8 551px,#41709e 569px,#1a2e41 610px,#0c151d 632px,#030608 659px,#000 712px)"></i><i style="height:3px;background:linear-gradient(90deg,#000 0,#030507 51px,#0a1219 78px,#172839 100px,#3b6690 141px,#4679ab 159px,#487caf 174px,#4171a0 192px,#233d56 233px,#162737 260px,#12202d 287px,#162636 305px,#1f354c 315px,#2c4d6d 323px,#3c6893 330px,#5491ce 348px,#5593cd 360px,#5491cd 364px,#3c6792 382px,#26425d 392px,#192c3e 402px,#132230 414px,#13212f 436px,#1b2e41 463px,#2b4b6a 490px,#4374a4 523px,#487cb0 541px,#4374a4 559px,#32577b 581px,#162635 614px,#091017 636px,#030406 663px,#000 712px)"></i><i style="height:3px;background:linear-gradient(90deg,#000 0,#030506 51px,#0a1117 78px,#192c3e 105px,#3a648e 146px,#4272a1 164px,#41709e 182px,#355b81 204px,#1e344a 237px,#13212f 264px,#101c28 291px,#142331 306px,#1c3146 316px,#2d4e6e 326px,#3b6791 333px,#4c83b9 348px,#4f88c1 356px,#4a80b5 366px,#3c6893 378px,#355c82 382px,#223a52 392px,#162737 402px,#111d29 417px,#12202d 444px,#1c3145 471px,#3e6a97 522px,#4273a2 540px,#3e6c98 558px,#2f5274 580px,#152433 613px,#070d12 640px,#010203 673px,#000 712px)"></i><i style="height:3px;background:linear-gradient(90deg,#000 0,#020406 51px,#090f15 78px,#172838 105px,#355c82 146px,#3c6893 164px,#3b6691 182px,#305476 204px,#1b2f43 237px,#111e2a 264px,#0e1923 291px,#13212f 309px,#1f354c 321px,#3a648e 336px,#4679ab 351px,#4678aa 361px,#3a648d 376px,#233c55 388px,#172737 398px,#101c27 410px,#0f1924 432px,#142332 459px,#223b53 486px,#375f86 519px,#3d6994 537px,#3a648e 555px,#2d4e6f 577px,#101c27 618px,#05090d 645px,#010101 686px,#000 712px)"></i><i style="height:3px;background:linear-gradient(90deg,#000 0,#020405 51px,#0a1119 84px,#192b3c 111px,#2f5173 144px,#365d84 162px,#365d84 180px,#2d4e6e 202px,#162636 243px,#0e1822 270px,#0d1620 297px,#12202d 312px,#1e344a 324px,#3a648e 342px,#3f6e9b 354px,#3c6894 366px,#376087 372px,#1b2f43 390px,#111d29 402px,#0c151e 420px,#0f1a25 447px,#182a3b 474px,#345a80 525px,#375f86 543px,#32577b 561px,#121f2b 612px,#060b0f 639px,#010102 680px,#000 712px)"></i><i style="height:3px;background:linear-gradient(90deg,#000 0,#020305 51px,#091016 84px,#1a2d3f 117px,#2d4d6d 150px,#315579 172px,#2c4c6c 194px,#13202e 245px,#0b131b 278px,#0b141c 300px,#111e2a 315px,#1d3246 327px,#345a7f 345px,#39638c 353px,#376087 363px,#2a4866 375px,#172838 390px,#0d1720 405px,#0b121a 427px,#101c28 460px,#1f364d 493px,#2f5173 526px,#315578 544px,#2b4a69 566px,#0d1721 617px,#05080b 644px,#000001 695px,#000 712px)"></i><i style="height:3px;background:linear-gradient(90deg,#000 0,#030608 63px,#0c161e 96px,#27435e 147px,#2c4c6b 169px,#284662 191px,#111e2b 242px,#0a1117 275px,#0a1118 302px,#101b26 317px,#20384f 335px,#2e4f70 350px,#2e5071 360px,#25415b 372px,#13212e 390px,#0b131b 405px,#091016 432px,#101b27 465px,#27435e 516px,#2c4c6b 538px,#284663 560px,#0a1117 623px,#020405 656px,#000 712px)"></i><i style="height:3px;background:linear-gradient(90deg,#000 0,#030507 63px,#0b131b 96px,#223b53 147px,#26435e 169px,#233d57 191px,#0f1a25 242px,#080e14 275px,#080e14 302px,#0e1923 320px,#233d56 347px,#25405b 359px,#1f354b 371px,#0e1822 393px,#080e14 411px,#090f16 444px,#121f2b 477px,#233c55 518px,#27435e 540px,#233c55 562px,#080e13 625px,#010203 666px,#000 712px)"></i><i style="height:3px;background:linear-gradient(90deg,#000 0,#020406 63px,#0a1017 96px,#1d3348 147px,#213a52 169px,#1d3348 196px,#0c141c 247px,#060b0f 280px,#070d12 307px,#0e1923 325px,#1c3044 347px,#1d3348 359px,#142332 377px,#090f16 399px,#060a0f 426px,#0a1219 459px,#1f364c 522px,#213a52 544px,#1b2f43 571px,#080d13 622px,#010203 663px,#000 712px)"></i><i style="height:3px;background:linear-gradient(90deg,#000 0,#020405 63px,#0b121a 104px,#1b2f43 155px,#1c3145 182px,#070d12 260px,#05090d 301px,#0a1219 323px,#162636 350px,#152534 365px,#070d12 398px,#05080c 425px,#0a1119 466px,#1c3145 529px,#1b2f43 556px,#070d12 619px,#010203 660px,#000 712px)"></i><i style="height:3px;background:linear-gradient(90deg,#000 0,#020304 63px,#091016 104px,#172839 155px,#182a3b 182px,#060a0f 260px,#04070a 301px,#0a1118 328px,#111d2a 350px,#101b26 368px,#05090d 401px,#04070a 434px,#0a121a 475px,#18293a 526px,#18293a 553px,#04070a 631px,#000 694px,#000 712px)"></i><i style="height:3px;background:linear-gradient(90deg,#000 0,#030507 78px,#142230 156px,#132230 189px,#060a0f 252px,#030507 293px,#070c11 326px,#0d1720 353px,#0a1118 375px,#030608 408px,#05080b 449px,#142331 527px,#13212f 560px,#05080b 623px,#000101 674px,#000 712px)"></i><i style="height:3px;background:linear-gradient(90deg,#000 0,#020406 78px,#111d29 156px,#101c28 189px,#030608 267px,#030507 308px,#0a1118 359px,#030406 410px,#05090c 461px,#101c28 524px,#101c28 557px,#020406 635px,#000 712px)"></i><i style="height:3px;background:linear-gradient(90deg,#000 0,#020405 78px,#0e1822 156px,#0d1721 189px,#030506 267px,#030508 318px,#070d12 359px,#020304 422px,#060a0e 473px,#0e1923 536px,#0b131a 577px,#020304 640px,#000 712px)"></i><i style="height:3px;background:linear-gradient(90deg,#000 0,#020304 78px,#0b131c 156px,#0a1219 197px,#020304 275px,#030508 326px,#05090c 367px,#020304 430px,#070d12 493px,#0c141d 544px,#010203 641px,#000 712px)"></i><i style="height:3px;background:linear-gradient(90deg,#000 0,#030507 97px,#091017 160px,#070c11 211px,#010203 274px,#030608 371px,#010203 434px,#091017 531px,#070b10 582px,#000101 660px,#000 712px)"></i><i style="height:3px;background:linear-gradient(90deg,#000 0,#020406 97px,#080d13 175px,#010203 272px,#030506 369px,#010203 447px,#080d13 544px,#000001 665px,#000 712px)"></i><i style="height:3px;background:linear-gradient(90deg,#000 0,#020304 97px,#060b0f 175px,#010102 296px,#020304 374px,#010203 452px,#060a0f 549px,#000 670px,#000 712px)"></i><i style="height:3px;background:linear-gradient(90deg,#000 0,#030507 121px,#05080b 184px,#010101 305px,#010203 456px,#05080b 553px,#000 674px,#000 712px)"></i><i style="height:3px;background:linear-gradient(90deg,#000 0,#020405 121px,#030508 199px,#010101 320px,#010203 471px,#030608 568px,#000 712px)"></i><i style="height:3px;background:linear-gradient(90deg,#000 0,#030507 188px,#000101 309px,#020305 497px,#020304 594px,#000 712px)"></i><i style="height:3px;background:linear-gradient(90deg,#000 0,#020405 188px,#000 423px,#020304 574px,#000 712px)"></i><i style="height:3px;background:linear-gradient(90deg,#000 0,#010102 235px,#010102 601px,#000 712px)"></i><i style="height:1.7px;background:linear-gradient(90deg,#000 0,#010101 235px,#000 712px)"></i></div>
<div class="hm" style="left:923.8px;top:1101.5px;width:712px"><i style="height:3px;background:linear-gradient(90deg,#000 0,#000 712px)"></i><i style="height:3px;background:linear-gradient(90deg,#000 0,#000 712px)"></i><i style="height:3px;background:linear-gradient(90deg,#000 0,#000 712px)"></i><i style="height:3px;background:linear-gradient(90deg,#000 0,#000 712px)"></i><i style="height:3px;background:linear-gradient(90deg,#000 0,#000 712px)"></i><i style="height:3px;background:linear-gradient(90deg,#000 0,#000 712px)"></i><i style="height:3px;background:linear-gradient(90deg,#000 0,#000 712px)"></i><i style="height:3px;background:linear-gradient(90deg,#000 0,#000 712px)"></i><i style="height:3px;background:linear-gradient(90deg,#000 0,#000 712px)"></i><i style="height:3px;background:linear-gradient(90deg,#000 0,#000 235px,#04070a 298px,#040709 419px,#000 497px,#000 712px)"></i><i style="height:3px;background:linear-gradient(90deg,#000 0,#000 188px,#010203 229px,#070b10 262px,#090f15 383px,#060a0d 461px,#000 494px,#000 712px)"></i><i style="height:3px;background:linear-gradient(90deg,#000 0,#000 188px,#020304 215px,#0a1119 256px,#0d1620 377px,#0a1219 455px,#000 506px,#000 712px)"></i><i style="height:3px;background:linear-gradient(90deg,#000 0,#000 188px,#0e1721 251px,#121e2b 372px,#0f1a24 450px,#010204 513px,#000 546px,#000 712px)"></i><i style="height:3px;background:linear-gradient(90deg,#000 0,#000 151px,#010102 184px,#111d2a 247px,#152534 310px,#162636 388px,#13212f 451px,#000101 529px,#000 712px)"></i><i style="height:3px;background:linear-gradient(90deg,#000 0,#000 151px,#000101 173px,#162737 251px,#1c3044 348px,#182a3c 445px,#13212f 472px,#020304 535px,#000 562px,#000 712px)"></i><i style="height:3px;background:linear-gradient(90deg,#000 0,#000 151px,#010202 166px,#192b3d 244px,#1e3348 271px,#213951 368px,#1d3347 446px,#172839 473px,#000 551px,#000 712px)"></i><i style="height:3px;background:linear-gradient(90deg,#000 0,#000 151px,#0a1118 184px,#1f354c 247px,#233d57 280px,#27435f 358px,#213a52 455px,#020304 552px,#000 574px,#000 712px)"></i><i style="height:3px;background:linear-gradient(90deg,#000 0,#010202 151px,#243f58 248px,#294764 281px,#2d4e6e 359px,#26425e 456px,#040609 553px,#000 568px,#000 712px)"></i><i style="height:3px;background:linear-gradient(90deg,#000 0,#000 121px,#000 143px,#26415c 240px,#2d4d6d 262px,#33587d 359px,#2c4c6b 456px,#060a0f 553px,#000 571px,#000 712px)"></i><i style="height:3px;background:linear-gradient(90deg,#000 0,#000 121px,#010101 139px,#284662 236px,#32567a 258px,#3a648d 355px,#32577a 452px,#294765 474px,#010203 571px,#000 622px,#000 712px)"></i><i style="height:3px;background:linear-gradient(90deg,#000 0,#000 121px,#010203 136px,#2b4b6a 233px,#375f86 255px,#3e6c99 318px,#406f9d 369px,#39628b 447px,#33597d 465px,#152433 528px,#000 579px,#000 712px)"></i><i style="height:3px;background:linear-gradient(90deg,#000 0,#000 121px,#020304 133px,#25405a 211px,#3c6792 252px,#4273a3 285px,#497eb2 348px,#4476a7 411px,#3f6c99 452px,#365d84 470px,#1b2f42 521px,#000 584px,#000 712px)"></i><i style="height:3px;background:linear-gradient(90deg,#000 0,#000 121px,#080d13 143px,#26425d 206px,#3a648d 239px,#4578a9 257px,#508ac3 320px,#538fca 361px,#497eb2 439px,#4273a2 461px,#2d4d6d 494px,#0d1620 557px,#000 590px,#000 712px)"></i><i style="height:3px;background:linear-gradient(90deg,#000 0,#000 121px,#1e3449 184px,#3d6a95 235px,#4e87c0 257px,#5593d0 284px,#5293bd 347px,#5393c3 388px,#5593d0 429px,#4e87be 456px,#355b81 489px,#121f2b 552px,#000 593px,#000 712px)"></i><i style="height:3px;background:linear-gradient(90deg,#000 0,#000 97px,#010202 119px,#20374e 182px,#3a658f 223px,#4a80b5 241px,#5492cf 251px,#5293b8 284px,#4e929d 347px,#4e92a0 374px,#5493c6 452px,#5593cf 460px,#3c6792 487px,#1b2f43 538px,#030507 589px,#000 599px,#000 712px)"></i><i style="height:3px;background:linear-gradient(90deg,#000 0,#000 97px,#000001 115px,#20374e 178px,#3b6791 219px,#4c83b9 237px,#5593cf 245px,#5193b7 257px,#4e929f 290px,#49917a 353px,#4b9288 386px,#5192b1 449px,#5393c2 461px,#5593cf 467px,#4272a2 485px,#25405a 526px,#091017 577px,#000 599px,#000 712px)"></i><i style="height:3px;background:linear-gradient(90deg,#000 0,#000 97px,#010202 115px,#1a2d40 166px,#355c82 207px,#4c84bb 234px,#5593d0 241px,#5092ab 256px,#4b928c 289px,#44915a 352px,#459161 370px,#4e92a1 448px,#5192b3 460px,#5593cd 470px,#5491cd 472px,#41709f 490px,#233d56 531px,#080e13 582px,#000 600px,#000 712px)"></i><i style="height:3px;background:linear-gradient(90deg,#000 0,#000 97px,#010304 115px,#1b2f43 166px,#375f86 207px,#4f89c2 234px,#5592cf 238px,#4e929f 256px,#49917f 283px,#439154 324px,#3f9036 351px,#3f9036 361px,#49917a 424px,#4d9297 451px,#5092b1 463px,#5593ce 473px,#528ec8 476px,#3c6894 498px,#1f364d 539px,#05080c 590px,#000 602px,#000 712px)"></i><i style="height:3px;background:linear-gradient(90deg,#000 0,#000 97px,#000101 112px,#1a2d40 163px,#365d84 204px,#4e88c0 231px,#5593ce 237px,#4d9298 255px,#479171 282px,#439151 309px,#3e9033 327px,#489131 334px,#6a9334 352px,#6b9334 359px,#429030 381px,#3f9037 387px,#459160 414px,#4a9286 447px,#4e929d 459px,#5493cc 474px,#5492cf 476px,#3e6b97 498px,#20384f 539px,#05090d 590px,#000 602px,#000 712px)"></i><i style="height:3px;background:linear-gradient(90deg,#000 0,#000 97px,#010202 112px,#1b2f43 163px,#386088 204px,#4c83ba 226px,#5593cf 234px,#4a9287 256px,#449157 283px,#3e9033 305px,#4b9131 311px,#7f9436 326px,#ba973c 338px,#e69a41 344px,#f39943 346px,#e3705c 356px,#f39943 366px,#e69a41 368px,#ba973c 374px,#7f9436 386px,#4b9131 401px,#3e9033 407px,#489176 448px,#4c9293 460px,#5593cf 478px,#3e6c98 500px,#20374e 541px,#05080c 592px,#000 604px,#000 712px)"></i><i style="height:3px;background:linear-gradient(90deg,#000 0,#000 97px,#010102 112px,#1b2e42 163px,#375f86 204px,#4b81b7 226px,#5491cd 234px,#5593cd 236px,#4b9288 258px,#449158 291px,#3e9033 313px,#4c9131 320px,#8f9538 342px,#ba983c 354px,#ba983c 358px,#6f9335 380px,#3e9031 398px,#449156 420px,#4a9286 453px,#4f92a9 465px,#5593d0 477px,#3e6c98 499px,#20384f 540px,#05090c 591px,#000 603px,#000 712px)"></i><i style="height:3px;background:linear-gradient(90deg,#000 0,#000 97px,#000101 112px,#1a2d40 163px,#355c82 204px,#4e86be 231px,#5593d0 237px,#4d929b 255px,#489177 282px,#439151 315px,#3e9032 337px,#569132 355px,#499131 367px,#3e9032 375px,#469169 416px,#4b928e 449px,#4f92a6 461px,#5493cb 473px,#5593d0 475px,#3e6b98 497px,#213850 538px,#05090d 589px,#000 604px,#000 712px)"></i><i style="height:3px;background:linear-gradient(90deg,#000 0,#000 97px,#010203 115px,#1b2f42 166px,#365d84 207px,#4e87bf 234px,#5592cf 239px,#4e92a2 257px,#4a9281 290px,#419045 353px,#42914d 368px,#4d9297 446px,#4f92a8 458px,#5592cf 473px,#4171a0 491px,#233d56 532px,#080d13 583px,#000 601px,#000 712px)"></i><i style="height:3px;background:linear-gradient(90deg,#000 0,#000 97px,#010102 115px,#213950 178px,#3d6a96 219px,#4e87bf 237px,#5593ce 243px,#5092ae 258px,#4b928e 299px,#469169 350px,#46916b 365px,#4e92a3 443px,#5192b4 458px,#5492cf 470px,#4476a6 485px,#2b4a69 518px,#0e1822 569px,#010203 596px,#000 712px)"></i><i style="height:3px;background:linear-gradient(90deg,#000 0,#000 97px,#000 115px,#1f364c 178px,#3a648e 219px,#4e87bf 241px,#5593d0 247px,#5293bc 259px,#4d9296 322px,#4b9288 355px,#4f92a6 418px,#5293ba 451px,#5493cc 463px,#5593d0 465px,#4272a1 483px,#25405b 524px,#0a1118 575px,#000 597px,#000 712px)"></i><i style="height:3px;background:linear-gradient(90deg,#000 0,#010203 121px,#20374e 184px,#39638c 225px,#518cc6 252px,#5593cf 260px,#5092ae 338px,#5092ab 365px,#5493c9 443px,#5492ce 455px,#4577a8 473px,#2d4e6e 506px,#111d29 557px,#020304 590px,#000 608px,#000 712px)"></i><i style="height:3px;background:linear-gradient(90deg,#000 0,#000 121px,#1c3146 184px,#3a658e 235px,#4a80b5 257px,#5491cd 308px,#5593cd 326px,#5493c9 367px,#5592cf 400px,#4b82b8 451px,#4374a4 466px,#305375 493px,#0f1924 556px,#000101 589px,#000 712px)"></i><i style="height:3px;background:linear-gradient(90deg,#000 0,#000 121px,#030507 133px,#27435f 211px,#406e9c 252px,#4679ac 279px,#4e87c0 357px,#4679ab 435px,#41719f 457px,#233d57 508px,#060a0f 571px,#000 589px,#000 712px)"></i><i style="height:3px;background:linear-gradient(90deg,#000 0,#000 121px,#010203 133px,#233d56 211px,#39638c 252px,#3f6d9b 285px,#4577a9 363px,#3e6a97 441px,#386088 463px,#1d3247 514px,#020304 577px,#000 592px,#000 712px)"></i><i style="height:3px;background:linear-gradient(90deg,#000 0,#000 121px,#020304 139px,#2b4a69 236px,#355c82 258px,#3e6b97 355px,#355c82 452px,#2e5071 470px,#04070a 567px,#000 579px,#000 712px)"></i><i style="height:3px;background:linear-gradient(90deg,#000 0,#000 121px,#010203 143px,#284662 240px,#2f5274 258px,#375f86 355px,#305274 452px,#274460 474px,#010101 571px,#000 712px)"></i><i style="height:3px;background:linear-gradient(90deg,#000 0,#000 121px,#010203 148px,#26415c 245px,#2b4a69 267px,#305376 364px,#2b4b6a 442px,#27435f 464px,#020405 561px,#000 573px,#000 712px)"></i><i style="height:3px;background:linear-gradient(90deg,#000 0,#000 151px,#223b53 248px,#27435f 281px,#2a4967 359px,#243f58 456px,#030506 553px,#000 568px,#000 712px)"></i><i style="height:3px;background:linear-gradient(90deg,#000 0,#000 151px,#020406 166px,#1c3044 244px,#213850 271px,#243e58 368px,#20384f 446px,#1c3044 468px,#020406 546px,#000 561px,#000 712px)"></i><i style="height:3px;background:linear-gradient(90deg,#000 0,#000 151px,#010102 169px,#182a3b 247px,#1c3145 288px,#1f354b 366px,#1b2f43 444px,#162636 471px,#000 549px,#000 712px)"></i><i style="height:3px;background:linear-gradient(90deg,#000 0,#000 151px,#010101 178px,#152534 256px,#192c3e 353px,#162636 450px,#0a1118 501px,#010101 534px,#000 712px)"></i><i style="height:3px;background:linear-gradient(90deg,#000 0,#000101 188px,#101c27 251px,#142332 348px,#121e2b 445px,#0c141d 478px,#000 529px,#000 712px)"></i><i style="height:3px;background:linear-gradient(90deg,#000 0,#000 188px,#020304 206px,#0d161f 257px,#0f1b26 378px,#0c151e 456px,#000 519px,#000 712px)"></i><i style="height:3px;background:linear-gradient(90deg,#000 0,#000 188px,#020304 221px,#090f15 262px,#0b131b 383px,#080d13 461px,#000 502px,#000 712px)"></i><i style="height:3px;background:linear-gradient(90deg,#000 0,#010102 235px,#05090d 268px,#070c11 389px,#030507 467px,#000 489px,#000 712px)"></i><i style="height:3px;background:linear-gradient(90deg,#000 0,#000 235px,#030507 386px,#000 507px,#000 712px)"></i><i style="height:3px;background:linear-gradient(90deg,#000 0,#000 712px)"></i><i style="height:3px;background:linear-gradient(90deg,#000 0,#000 712px)"></i><i style="height:3px;background:linear-gradient(90deg,#000 0,#000 712px)"></i><i style="height:3px;background:linear-gradient(90deg,#000 0,#000 712px)"></i><i style="height:3px;background:linear-gradient(90deg,#000 0,#000 712px)"></i><i style="height:3px;background:linear-gradient(90deg,#000 0,#000 712px)"></i><i style="height:3px;background:linear-gradient(90deg,#000 0,#000 712px)"></i><i style="height:3px;background:linear-gradient(90deg,#000 0,#000 712px)"></i><i style="height:1.7px;background:linear-gradient(90deg,#000 0,#000 712px)"></i></div>
<div class="hm" style="left:96.3px;top:1328.2px;width:712px"><i style="height:2px;background:linear-gradient(90deg,#5595d0 0,#5895ce 41px,#8b98a4 74px,#999 96px,#a58f90 123px,#c47678 156px,#cf6d71 207px,#c47678 270px,#9b9898 348px,#8798a8 399px,#6c96be 450px,#6696c3 528px,#7297b8 561px,#92999e 594px,#9d9696 627px,#b28586 645px,#dd6165 672px,#de6165 712px)"></i><i style="height:2px;background:linear-gradient(90deg,#5595d0 0,#5595d0 41px,#93999e 82px,#9f9494 115px,#c67577 156px,#d06c70 207px,#c77477 270px,#ae888a 311px,#9a9898 352px,#8b98a5 393px,#7097bb 434px,#6396c5 497px,#6996c0 548px,#8498aa 581px,#96999c 603px,#a09494 630px,#de6165 671px,#de6165 712px)"></i><i style="height:2px;background:linear-gradient(90deg,#5595d0 0,#5595d0 41px,#92999e 82px,#9f9494 115px,#c77476 156px,#d16b6e 207px,#c97275 270px,#b68183 303px,#9e9595 336px,#8f98a1 387px,#7097ba 428px,#6296c6 491px,#6696c2 542px,#7c97b1 575px,#93999e 597px,#a09394 630px,#de6165 671px,#de6165 712px)"></i><i style="height:2px;background:linear-gradient(90deg,#5595d0 0,#5595d0 41px,#6196c6 53px,#8f98a1 80px,#9f9495 113px,#c77476 154px,#d36a6d 205px,#cc6f72 268px,#bb7e80 301px,#9f9494 334px,#9098a0 385px,#6e96bc 426px,#6196c6 477px,#6496c4 540px,#7397b8 567px,#94999d 600px,#9e9595 627px,#de6165 668px,#de6165 712px)"></i><i style="height:2px;background:linear-gradient(90deg,#5595d0 0,#5595d0 41px,#5b95cb 51px,#93999e 84px,#a29292 117px,#c57578 150px,#d26a6e 183px,#d06c6f 261px,#bc7d7f 302px,#a19293 329px,#92999f 380px,#6e96bc 421px,#5f96c8 472px,#6296c6 535px,#6d96bc 562px,#95999c 603px,#a29293 630px,#dc6367 663px,#de6165 712px)"></i><i style="height:2px;background:linear-gradient(90deg,#5595d0 0,#5795ce 51px,#93999e 84px,#a39192 117px,#c77476 150px,#d4696d 183px,#d36a6d 261px,#bf7b7d 302px,#a19293 329px,#92999f 380px,#6b96be 421px,#5d95c9 472px,#6496c4 550px,#8298ac 583px,#96999b 605px,#9f9495 627px,#db6468 660px,#de6165 712px)"></i><i style="height:2px;background:linear-gradient(90deg,#5595d0 0,#5595d0 51px,#7c97b0 73px,#93999e 85px,#a49091 118px,#c97275 151px,#d7676a 192px,#d4696d 270px,#c0797c 303px,#a19293 330px,#91999f 381px,#6896c1 422px,#5b95cb 473px,#6296c5 551px,#8298ac 584px,#96999b 606px,#a19393 628px,#d7676a 655px,#de6165 665px,#de6165 712px)"></i><i style="height:2px;background:linear-gradient(90deg,#5595d0 0,#5595d0 51px,#5f96c8 61px,#9098a1 83px,#a49091 116px,#c97275 149px,#d7676b 182px,#d86669 260px,#c67577 301px,#a29292 328px,#92999f 379px,#7b97b1 401px,#6696c2 419px,#5a95cc 460px,#5e96c9 538px,#6b96be 565px,#9098a0 598px,#9f9494 625px,#c37779 643px,#de6165 658px,#de6165 712px)"></i><i style="height:2px;background:linear-gradient(90deg,#5595d0 0,#5595d0 51px,#5b95cc 61px,#8e98a2 83px,#a59090 116px,#cb7073 149px,#d86669 182px,#db6367 260px,#c97275 301px,#a29192 328px,#92999f 379px,#7f97ae 397px,#6396c5 419px,#5895ce 460px,#5d95ca 538px,#6a96bf 565px,#96999c 606px,#a39191 628px,#d7676a 650px,#de6165 658px,#de6165 712px)"></i><i style="height:2px;background:linear-gradient(90deg,#5595d0 0,#5595d0 51px,#5a95cc 63px,#8f98a1 85px,#9c9797 103px,#b28587 125px,#cf6d70 152px,#dd6266 203px,#de6165 266px,#cf6d70 299px,#a49091 326px,#93999e 377px,#8598a9 392px,#6296c5 414px,#5595d0 455px,#5e96c9 552px,#7697b5 579px,#95999c 606px,#a09394 624px,#b08687 632px,#dc6366 650px,#de6165 712px)"></i><i style="height:2px;background:linear-gradient(90deg,#5595d0 0,#5595d0 63px,#8c98a3 85px,#9b9797 100px,#af8789 122px,#ce6e71 149px,#db6367 182px,#dd6266 279px,#d06c6f 301px,#a39192 328px,#92999f 379px,#8098ad 394px,#5c95ca 416px,#5595d0 457px,#5995cd 535px,#6496c4 562px,#93999e 603px,#9e9595 621px,#b18687 631px,#de6165 649px,#de6165 712px)"></i><i style="height:2px;background:linear-gradient(90deg,#5493cd 0,#5595d0 63px,#5c95ca 69px,#8898a7 84px,#9b9798 96px,#a68e8f 114px,#cf6d71 147px,#db6367 174px,#db6467 295px,#b68283 317px,#a39192 329px,#91999f 380px,#8298ac 392px,#5a95cc 414px,#5595d0 455px,#5795cf 533px,#6196c7 560px,#7e97af 587px,#95999c 609px,#9d9696 619px,#ad898a 629px,#da6468 644px,#db6063 712px)"></i><i style="height:2px;background:linear-gradient(90deg,#4f8bc2 0,#5595d0 12px,#5595d0 63px,#5b95cb 71px,#8898a7 86px,#9c9797 96px,#a88d8e 114px,#d06c6f 147px,#dd6266 174px,#de6165 295px,#c77376 310px,#a49091 328px,#96999b 369px,#8a98a5 387px,#5695cf 414px,#5595d0 535px,#6096c7 562px,#7f97ae 589px,#94999d 607px,#96999b 615px,#b68283 630px,#dc6367 642px,#de6165 693px,#d85f62 705px,#cf5a5e 712px)"></i><i style="height:2px;background:linear-gradient(90deg,#4b83b7 0,#5595d0 22px,#5895cd 73px,#8198ac 85px,#92999f 93px,#93999e 94px,#9d9696 95px,#a59090 110px,#cf6d70 143px,#de6165 170px,#de6165 291px,#da6468 303px,#a98c8d 325px,#9a9898 352px,#8d98a3 385px,#5595d0 412px,#5595d0 533px,#5d95ca 560px,#7a97b2 587px,#93999e 609px,#95999c 616px,#9f9494 618px,#bc7d7f 630px,#de6165 640px,#de6165 691px,#c35559 712px)"></i><i style="height:2px;background:linear-gradient(90deg,#467bac 0,#5595d0 27px,#5595d0 68px,#5995cd 76px,#7997b3 84px,#9098a0 94px,#a09394 95px,#a68e8f 110px,#d16b6f 143px,#de6165 165px,#de6165 286px,#dd6266 304px,#a88d8e 326px,#9a9999 353px,#9098a0 380px,#8098ad 390px,#5595d0 408px,#5595d0 529px,#5895cd 556px,#7297b8 583px,#9199a0 605px,#92999e 615px,#92999e 616px,#a09394 617px,#be7b7d 629px,#de6165 637px,#de6165 678px,#d85e62 688px,#b75053 712px)"></i><i style="height:2px;background:linear-gradient(90deg,#4273a1 0,#5392cc 33px,#5595d0 74px,#5a95cc 79px,#7397b8 85px,#8998a6 93px,#8c98a4 94px,#a49091 95px,#a98c8d 110px,#d36a6d 143px,#de6165 165px,#de6165 286px,#da6468 308px,#a98c8d 326px,#9a9999 353px,#9098a1 380px,#7d97af 390px,#5695cf 405px,#5695cf 556px,#7097ba 583px,#8f98a1 605px,#8f98a1 615px,#8f98a1 616px,#a59090 617px,#c77476 629px,#de6165 635px,#de6165 676px,#ab4b4e 712px)"></i><i style="height:2px;background:linear-gradient(90deg,#3d6b96 0,#4d88bd 33px,#5595d0 45px,#5595d0 78px,#5d95ca 82px,#8498aa 94px,#ab8b8c 95px,#a68e8f 107px,#d36a6d 140px,#de6165 162px,#de6165 283px,#db6367 310px,#a88d8e 328px,#999 355px,#8d98a3 382px,#7497b7 392px,#5595d0 404px,#5595d0 555px,#6c96bd 582px,#8b98a5 604px,#8998a6 616px,#ac8a8b 617px,#de6165 632px,#de6165 665px,#d05b5f 675px,#a04649 712px)"></i><i style="height:2px;background:linear-gradient(90deg,#39638b 0,#4c86bb 41px,#5595d0 53px,#5595d0 80px,#5d95ca 86px,#7997b3 94px,#b68283 95px,#a98c8d 105px,#da6468 146px,#de6165 297px,#dc6367 312px,#ab8a8b 327px,#9b9797 345px,#9098a0 378px,#7d97af 388px,#5695cf 400px,#5595d0 551px,#5f96c8 573px,#8998a6 606px,#7f97ae 616px,#b78182 617px,#de6165 629px,#de6165 656px,#d45d60 664px,#a3474a 697px,#944143 712px)"></i><i style="height:2px;background:linear-gradient(90deg,#345b80 0,#467aaa 41px,#5595d0 63px,#5695cf 90px,#6696c2 94px,#c77476 95px,#b38485 100px,#af8788 108px,#d86669 141px,#de6165 168px,#de6165 289px,#de6165 311px,#d6686b 316px,#ab8a8b 328px,#9b9797 346px,#94999d 373px,#8498aa 385px,#5995cd 397px,#5595d0 548px,#5a95cc 570px,#8298ab 603px,#8098ad 611px,#7097ba 616px,#c97275 617px,#de6165 623px,#de6165 650px,#ad4c4f 677px,#883b3e 712px)"></i><i style="height:2px;background:linear-gradient(90deg,#305375 0,#3f6f9a 41px,#5290c9 68px,#5595d0 74px,#5595d0 92px,#5595d0 94px,#de6165 95px,#be7b7d 100px,#b28586 107px,#da6468 140px,#de6165 291px,#de6165 313px,#d5686c 318px,#ae8889 328px,#9c9697 343px,#9098a0 376px,#7e97af 386px,#5595d0 396px,#5595d0 547px,#5795cf 569px,#7c97b0 602px,#7d97b0 608px,#6a96bf 614px,#5995cd 616px,#de6165 617px,#de6165 639px,#a3474a 672px,#7c3638 712px)"></i><i style="height:2px;background:linear-gradient(90deg,#2b4c69 0,#3d6c96 51px,#4f8ac0 78px,#5595d0 86px,#5595d0 94px,#de6165 95px,#dd6266 98px,#c47679 102px,#ba7e80 108px,#dd6265 141px,#de6165 292px,#de6165 314px,#d96569 319px,#af8789 329px,#9c9797 344px,#94999d 371px,#8398ab 383px,#5595d0 395px,#5595d0 546px,#5795ce 573px,#7597b6 600px,#7797b5 607px,#6496c4 612px,#5595d0 614px,#5595d0 616px,#de6165 617px,#da5f63 629px,#b04d50 651px,#873b3d 684px,#703133 712px)"></i><i style="height:2px;background:linear-gradient(90deg,#27445e 0,#365e84 51px,#4375a3 84px,#4173a0 94px,#ae4c4f 95px,#d05b5f 96px,#de6165 97px,#da6468 101px,#c2777a 106px,#ce6e71 124px,#de6165 142px,#de6165 293px,#dd6266 320px,#b08788 330px,#9d9696 342px,#9098a1 375px,#7897b4 385px,#5595d0 392px,#5595d0 543px,#5895ce 576px,#6e96bc 598px,#6f97bb 606px,#5595d0 612px,#5595d0 615px,#4c85b9 616px,#aa4a4d 617px,#ae4c4f 629px,#723234 692px,#652c2e 712px)"></i><i style="height:2px;background:linear-gradient(90deg,#223c53 0,#325779 63px,#305576 85px,#2a4966 93px,#284763 94px,#6b2f31 95px,#d05b5f 98px,#de6165 99px,#de6165 103px,#cb7073 107px,#d06c70 122px,#de6165 140px,#de6165 291px,#de6165 318px,#dc6266 322px,#b48385 330px,#9e9596 342px,#95999c 369px,#8198ad 381px,#5a95cc 389px,#5595d0 393px,#5595d0 544px,#5695d0 577px,#6896c0 599px,#6396c4 606px,#5595d0 610px,#5595d0 613px,#4c85ba 614px,#32587b 616px,#672d2f 617px,#81383b 629px,#7d3739 656px,#592728 712px)"></i><i style="height:2px;background:linear-gradient(90deg,#1e3448 0,#284762 63px,#223b52 81px,#152634 91px,#101b26 94px,#271112 95px,#b24e51 99px,#d15b5f 100px,#de6165 101px,#d86669 107px,#d16b6f 119px,#de6165 137px,#de6165 288px,#da5f63 300px,#de6165 322px,#d5686c 325px,#b28586 332px,#9c9696 344px,#93999e 371px,#7c97b0 381px,#5695cf 388px,#5493ce 410px,#5493cd 418px,#5595d0 569px,#5a95cc 584px,#6196c6 599px,#5595d0 609px,#5595d0 611px,#4d86bb 612px,#192c3d 616px,#241011 617px,#4f2324 627px,#662c2e 642px,#672d2f 657px,#4d2223 712px)"></i><i style="height:2px;background:linear-gradient(90deg,#192c3d 0,#1f374c 51px,#1f364b 63px,#152534 78px,#080f15 88px,#080e13 94px,#150909 95px,#160a0a 96px,#301516 97px,#b44f52 101px,#d15c5f 102px,#de6165 103px,#d96569 121px,#de6165 148px,#de6165 269px,#d95f62 281px,#ca585c 299px,#d35c60 309px,#de6165 313px,#de6165 325px,#b38486 333px,#9e9595 343px,#93999e 370px,#7b97b2 380px,#5595d0 387px,#5595d0 399px,#4f8ac1 407px,#4d87bd 417px,#5595d0 439px,#5595d0 560px,#5895ce 587px,#5a95cc 597px,#5595d0 609px,#4d87bc 610px,#1c3144 614px,#0e1923 615px,#080e14 616px,#150909 617px,#170a0a 625px,#3b1a1b 635px,#522425 650px,#411c1e 712px)"></i><i style="height:2px;background:linear-gradient(90deg,#142432 0,#18293a 51px,#152634 63px,#080f15 78px,#070d12 93px,#070d11 94px,#130808 95px,#160a0a 98px,#b64f53 103px,#d25c5f 104px,#de6165 105px,#de6165 256px,#da5f63 266px,#bb5255 293px,#bd5256 303px,#c7575b 310px,#de6165 317px,#de6165 327px,#b48385 334px,#9d9696 344px,#9098a0 371px,#7997b3 379px,#5595d0 385px,#5392cc 397px,#4981b4 405px,#477cad 417px,#5595d0 450px,#5595d0 601px,#5595d0 607px,#4274a2 609px,#111f2b 613px,#080f14 614px,#070d12 616px,#130808 617px,#170a0a 635px,#3a191a 650px,#3b1a1b 691px,#351718 712px)"></i><i style="height:2px;background:linear-gradient(90deg,#101c27 0,#111e2a 41px,#0f1a25 59px,#080f14 69px,#070c10 91px,#060b10 94px,#110708 95px,#15090a 99px,#1e0d0e 100px,#b75053 105px,#d25c60 106px,#de6165 107px,#de6165 258px,#c15458 270px,#a8494c 297px,#b34e51 309px,#db6064 319px,#dc6367 329px,#b58284 335px,#9f9494 343px,#9199a0 370px,#7797b5 378px,#5595d0 383px,#5392cc 393px,#4477a7 403px,#41729f 418px,#4b84b9 445px,#5595d0 455px,#5595d0 576px,#5595d0 603px,#5595d0 605px,#4375a4 607px,#080f15 612px,#070c10 616px,#110708 617px,#160a0a 644px,#281112 654px,#2c1314 695px,#2a1213 712px)"></i><i style="height:2px;background:linear-gradient(90deg,#0b141c 0,#0a121a 41px,#060a0e 92px,#060a0e 94px,#0f0707 95px,#15090a 101px,#261111 102px,#b95154 107px,#d35c60 108px,#de6165 109px,#de6165 230px,#dc6064 252px,#b14d51 267px,#994346 294px,#a3474a 309px,#de6165 324px,#de6165 330px,#b28486 337px,#9e9595 345px,#94999d 367px,#7f97ae 375px,#5595d0 382px,#5392cc 389px,#3d6c96 404px,#3a668e 416px,#4376a4 443px,#5595d0 461px,#5595d0 582px,#5595d0 600px,#5595d0 603px,#4477a6 605px,#0b131a 610px,#070c11 613px,#060a0f 616px,#0f0607 617px,#1f0d0e 695px,#1e0d0e 712px)"></i><i style="height:2px;background:linear-gradient(90deg,#080e14 0,#060a0f 78px,#05090d 93px,#05090c 94px,#0e0606 96px,#160a0a 103px,#4c2122 105px,#d35c60 110px,#de6165 111px,#de6165 232px,#de6165 244px,#a04649 266px,#893c3e 299px,#934043 309px,#cd5a5d 324px,#de6165 327px,#de6165 332px,#b48385 338px,#9e9595 346px,#91999f 368px,#7897b4 375px,#5595d0 380px,#5494cf 385px,#40709c 397px,#376086 405px,#345c80 417px,#3c6993 444px,#5493cd 466px,#5595d0 587px,#5595d0 599px,#5595d0 601px,#4477a7 603px,#0e1822 608px,#080e14 609px,#05090d 616px,#0d0606 618px,#15090a 712px)"></i><i style="height:2px;background:linear-gradient(90deg,#070d11 0,#05090d 78px,#04080b 93px,#0e0606 98px,#160a0a 105px,#a14649 110px,#d35c60 112px,#de6165 113px,#de6165 234px,#da5f63 239px,#8d3d40 266px,#793537 299px,#83393b 309px,#ba5155 324px,#cc595d 327px,#de6165 329px,#d96568 334px,#b08687 340px,#9f9495 347px,#8c98a3 369px,#6f97bb 375px,#5795cf 378px,#5595d0 383px,#4a82b5 386px,#315678 404px,#2e5172 419px,#365f84 446px,#5493ce 473px,#5595d0 594px,#5595d0 599px,#4478a8 601px,#111d29 606px,#080f14 607px,#05090c 615px,#0c0505 619px,#130808 712px)"></i><i style="height:2px;background:linear-gradient(90deg,#060b0f 0,#05080b 78px,#04070a 93px,#0d0606 99px,#15090a 106px,#1d0d0d 107px,#d35c60 114px,#de6165 115px,#de6165 212px,#de6165 230px,#d85e62 234px,#ad4b4f 246px,#773436 268px,#682d2f 295px,#763335 310px,#ab4b4e 325px,#c35559 328px,#db6063 330px,#de6165 335px,#b18587 341px,#a09393 347px,#91999f 365px,#7f97ae 371px,#5595d0 377px,#5595d0 381px,#4375a3 386px,#2b4b69 404px,#284662 419px,#2f5272 446px,#4b83b7 473px,#5595d0 480px,#5595d0 577px,#5595d0 595px,#5595d0 597px,#4579a8 599px,#080f15 605px,#04070a 615px,#0a0505 621px,#100707 712px)"></i><i style="height:2px;background:linear-gradient(90deg,#05090d 0,#04070a 78px,#030608 93px,#0e0607 103px,#15090a 108px,#220f10 109px,#d35c60 116px,#de6165 117px,#de6165 214px,#de6165 226px,#d85e62 229px,#ab4b4e 239px,#662d2e 266px,#592729 299px,#622b2d 309px,#944144 324px,#a4484b 327px,#de6165 332px,#da6468 337px,#b38486 342px,#a19293 348px,#8d98a3 366px,#7897b4 371px,#5595d0 375px,#5492cc 380px,#3e6c97 385px,#25415b 403px,#223b53 418px,#26435e 445px,#41719e 472px,#5595d0 484px,#5595d0 581px,#5595d0 593px,#5595d0 595px,#3c6993 598px,#0a1118 603px,#040609 615px,#090404 623px,#0e0606 712px)"></i><i style="height:2px;background:linear-gradient(90deg,#05080b 0,#030608 78px,#030507 93px,#120808 108px,#15090a 110px,#271112 111px,#d45c60 118px,#de6165 119px,#de6165 216px,#dd6164 223px,#964244 238px,#542526 265px,#482021 298px,#552527 310px,#853a3d 325px,#a3474a 329px,#de6165 334px,#de6165 338px,#af8789 344px,#97999a 356px,#8998a6 366px,#7597b6 370px,#5595d0 374px,#5595d0 378px,#3d6b96 383px,#33597c 387px,#20384f 402px,#1b3043 417px,#1f364b 444px,#376085 471px,#4980b3 483px,#5595d0 489px,#5595d0 586px,#5595d0 593px,#3c6a94 596px,#0c151d 601px,#070d12 603px,#030508 615px,#090404 637px,#0c0505 712px)"></i><i style="height:2px;background:linear-gradient(90deg,#040709 0,#030507 78px,#070303 96px,#140909 111px,#160a0a 112px,#bb5255 119px,#de6165 121px,#dd6064 218px,#924042 233px,#6c2f31 245px,#3d1b1c 267px,#3a191a 300px,#451e1f 310px,#723234 325px,#8d3e40 329px,#c7575b 334px,#d75e62 335px,#de6165 337px,#db6467 340px,#b68183 344px,#9f9494 352px,#8a98a5 364px,#7397b8 369px,#5595d0 372px,#5595d0 376px,#38638a 382px,#2d4e6d 386px,#182b3c 404px,#162635 422px,#172939 444px,#2e506f 471px,#3f6f9a 483px,#5391cb 493px,#5595d0 498px,#5595d0 576px,#5392cc 591px,#3d6b95 594px,#0d1821 599px,#080e14 600px,#060303 618px,#0a0405 712px)"></i><i style="height:2px;background:linear-gradient(90deg,#030608 0,#060303 97px,#120808 112px,#160a0a 114px,#8e3e41 119px,#d65d61 123px,#de6165 124px,#de6165 202px,#de6165 212px,#853a3c 230px,#612a2c 240px,#2a1213 267px,#2a1213 300px,#39191a 312px,#692e30 327px,#9e4548 333px,#dc6064 337px,#de6165 341px,#ba7e80 345px,#a09394 353px,#9d9696 355px,#94999d 357px,#8198ad 365px,#6696c2 369px,#5595d0 371px,#5595d0 374px,#5290c8 375px,#3b6891 379px,#274560 385px,#13212e 403px,#0f1a25 421px,#101c27 443px,#243e57 470px,#335a7e 482px,#508dc5 497px,#5595d0 500px,#5595d0 578px,#5595d0 588px,#345c80 593px,#0f1b25 597px,#080e14 598px,#050202 620px,#080404 712px)"></i><i style="height:2px;background:linear-gradient(90deg,#030406 0,#050202 97px,#140909 115px,#1a0b0c 116px,#612a2c 119px,#de6165 126px,#de6165 204px,#dd6064 208px,#893c3e 223px,#4e2224 238px,#1a0b0c 265px,#180a0b 298px,#241010 310px,#4c2123 325px,#713133 331px,#a94a4d 336px,#de6165 339px,#db6467 343px,#b97f81 347px,#9f9494 355px,#94999d 356px,#7d97b0 364px,#6196c6 368px,#5595d0 369px,#5493cd 373px,#3f6f9b 376px,#2a4a68 381px,#1d3347 387px,#0c151d 405px,#090f15 423px,#091016 445px,#1c3246 472px,#325779 487px,#508dc4 502px,#5595d0 505px,#5595d0 583px,#5392cc 586px,#233e56 593px,#080f14 596px,#020405 611px,#070303 712px)"></i><i style="height:2px;background:linear-gradient(90deg,#020405 0,#040202 97px,#100707 115px,#140909 117px,#1e0d0e 118px,#d25c60 128px,#de6165 129px,#de6165 192px,#de6165 202px,#c8575b 206px,#763436 221px,#3c1a1b 236px,#180a0b 254px,#120808 287px,#150909 309px,#361819 324px,#522425 330px,#7e3739 335px,#a8494c 338px,#d05b5f 340px,#de6165 341px,#de6165 344px,#b38486 350px,#a29292 355px,#92999f 356px,#7997b3 363px,#5595d0 368px,#5595d0 371px,#3e6d98 374px,#2b4b69 378px,#182a3b 385px,#091016 400px,#070c11 441px,#0a1118 459px,#192b3c 477px,#355d82 495px,#508cc3 507px,#5595d0 509px,#5595d0 572px,#5595d0 582px,#5595cf 583px,#1e354a 591px,#121f2c 593px,#090f16 594px,#030406 606px,#050202 657px,#050202 712px)"></i><i style="height:2px;background:linear-gradient(90deg,#020304 0,#030101 97px,#0c0505 115px,#160a0a 120px,#dd6064 132px,#de6165 195px,#dc6064 198px,#994346 208px,#512425 223px,#1f0d0e 238px,#130809 250px,#0e0606 301px,#170a0a 319px,#361819 329px,#602a2c 335px,#924043 339px,#bb5255 341px,#d65d61 342px,#de6165 343px,#de6165 346px,#b18587 352px,#a68f8f 355px,#8e98a1 356px,#7497b7 362px,#5595d0 366px,#5595d0 369px,#365f85 373px,#243e57 377px,#12202d 384px,#080e14 394px,#05090d 435px,#080e14 468px,#101d28 478px,#2b4c6a 496px,#4c86bb 511px,#5595d0 514px,#5595d0 577px,#5391ca 580px,#2d4e6d 586px,#0c161e 591px,#080e14 592px,#020406 604px,#040202 712px)"></i><i style="height:2px;background:linear-gradient(90deg,#010203 0,#020101 97px,#090404 115px,#160a0a 123px,#964244 131px,#d75e62 135px,#de6165 137px,#de6165 188px,#dc6064 193px,#9e4548 201px,#512425 216px,#1a0b0c 231px,#0e0606 249px,#0d0606 312px,#190b0b 327px,#3b1a1b 334px,#5e292b 338px,#8b3d3f 341px,#bc5256 343px,#de6165 344px,#de6165 348px,#b58284 353px,#ab8a8b 355px,#8a98a5 356px,#6e96bc 361px,#5595d0 364px,#5595d0 367px,#518ec6 368px,#3b6790 370px,#274560 373px,#162635 378px,#080f14 386px,#040709 419px,#060b0f 470px,#091017 480px,#233e56 498px,#4274a3 513px,#5595d0 519px,#5595d0 570px,#5595d0 576px,#192d3e 586px,#080e14 589px,#020304 604px,#030101 712px)"></i><i style="height:2px;background:linear-gradient(90deg,#010102 0,#010101 97px,#0a0405 119px,#160a0a 126px,#ae4c4f 136px,#de6165 139px,#de6165 180px,#d75e62 185px,#c7575a 190px,#893c3e 198px,#3f1c1d 213px,#15090a 225px,#080404 258px,#0c0506 321px,#1a0b0c 333px,#3a191a 338px,#5c282a 341px,#81383b 343px,#ba5154 345px,#de6165 346px,#de6165 350px,#b38485 355px,#8398ab 356px,#5595d0 362px,#5595d0 365px,#518dc5 366px,#386289 368px,#274560 370px,#152534 374px,#080e14 380px,#030507 407px,#04080b 470px,#090f16 488px,#25415a 506px,#3a668f 516px,#4d87bc 522px,#5595d0 530px,#5595d0 571px,#5594cf 573px,#233d56 581px,#080e14 586px,#010304 601px,#020101 712px)"></i><i style="height:2px;background:linear-gradient(90deg,#000101 0,#010000 97px,#0b0505 124px,#150909 129px,#291213 131px,#a6484b 139px,#b44f52 142px,#de6165 154px,#de6165 166px,#a3474a 184px,#934043 190px,#5f2a2b 198px,#16090a 216px,#070303 243px,#080304 321px,#130808 336px,#1b0c0c 339px,#381819 342px,#572628 344px,#8d3e40 346px,#b14d51 347px,#de6165 348px,#dd6266 352px,#bf7a7c 355px,#7997b3 356px,#5595d0 360px,#5595d0 363px,#508bc3 364px,#32587c 366px,#1f374c 368px,#101c27 371px,#080e14 374px,#020406 396px,#030507 474px,#080f15 496px,#25415b 514px,#39648c 522px,#4d86bc 540px,#5595d0 546px,#5595d0 558px,#4578a8 570px,#4274a2 572px,#091016 582px,#030506 592px,#010101 655px,#010101 712px)"></i><i style="height:2px;background:linear-gradient(90deg,#000001 0,#040202 121px,#140909 133px,#2a1313 135px,#692e30 139px,#743335 142px,#a84a4d 160px,#763436 178px,#602a2c 190px,#2e1415 200px,#120808 210px,#050202 237px,#030202 315px,#0b0505 337px,#16090a 344px,#3c1a1b 346px,#793537 348px,#a4484b 349px,#de6165 350px,#dc6367 354px,#d06d70 355px,#6a96bf 356px,#5595d0 358px,#5595d0 361px,#4e88be 362px,#39658c 363px,#2a4a67 364px,#142432 366px,#0c161e 367px,#080e14 368px,#020405 386px,#020406 483px,#091016 505px,#1a2e41 517px,#26425d 523px,#386289 545px,#40709d 552px,#2c4e6c 570px,#2b4b68 572px,#091016 578px,#020405 588px,#010000 685px,#010000 712px)"></i><i style="height:2px;background:linear-gradient(90deg,#000 0,#020101 121px,#090404 133px,#130809 137px,#321617 140px,#502324 158px,#532426 161px,#2f1415 188px,#1f0d0e 193px,#0e0606 201px,#020101 234px,#030101 331px,#0e0606 346px,#15090a 348px,#2f1516 349px,#562527 350px,#8c3d40 351px,#de6165 352px,#de6165 355px,#5595d0 356px,#5595d0 359px,#4a82b5 360px,#2f5272 361px,#1c3144 362px,#0e1923 363px,#080d13 364px,#020406 372px,#010102 469px,#05090d 510px,#0b131a 518px,#121f2b 523px,#1f374c 550px,#1e3448 555px,#142331 570px,#13212f 572px,#091016 574px,#030507 580px,#000 631px,#000 712px)"></i><i style="height:2px;background:linear-gradient(90deg,#000 0,#000 121px,#0d0606 162px,#000 240px,#010001 337px,#060303 349px,#150909 352px,#522425 353px,#de6165 354px,#de6165 355px,#5595d0 356px,#5595d0 357px,#40709c 358px,#162736 359px,#070c11 360px,#010203 365px,#020305 516px,#05080b 557px,#000 598px,#000 712px)"></i><i style="height:2px;background:linear-gradient(90deg,#000 0,#000 293px,#000 344px,#000001 354px,#010203 355px,#de6165 356px,#020101 357px,#000 712px)"></i><i style="height:2px;background:linear-gradient(90deg,#000 0,#000001 121px,#020304 136px,#05090d 148px,#060a0e 175px,#000101 226px,#020405 347px,#070c10 351px,#121f2b 352px,#305374 353px,#5595d0 354px,#5595d0 355px,#de6165 356px,#de6165 358px,#5f2a2b 359px,#1e0d0e 360px,#100707 361px,#030101 368px,#010001 489px,#120808 552px,#070303 574px,#000 607px,#000 712px)"></i><i style="height:2px;background:linear-gradient(90deg,#000 0,#010102 121px,#040709 133px,#090f15 137px,#142331 139px,#192c3d 144px,#243f58 159px,#162635 186px,#121f2c 191px,#070d12 199px,#010203 226px,#010202 323px,#05090c 345px,#070d12 347px,#0d1720 348px,#192b3d 349px,#294764 350px,#5595d0 352px,#5595d0 355px,#da6468 356px,#de6165 360px,#913f42 361px,#5c282a 362px,#371819 363px,#1a0b0c 364px,#0b0505 368px,#010101 401px,#070303 498px,#130809 513px,#361819 523px,#532426 545px,#602a2c 552px,#3e1b1c 570px,#3b1a1b 572px,#150909 575px,#060203 583px,#000 680px,#000 712px)"></i><i style="height:2px;background:linear-gradient(90deg,#010000 0,#020305 121px,#090f15 133px,#2c4c6b 139px,#32587a 144px,#4477a6 159px,#4477a7 161px,#305475 179px,#294763 189px,#12202d 201px,#070c11 211px,#020304 244px,#020305 322px,#060b0f 340px,#080e14 343px,#0c141c 344px,#1c3044 346px,#345b7f 348px,#5595d0 350px,#5595d0 353px,#6696c2 355px,#c67577 356px,#dc6366 358px,#de6165 362px,#a7494c 363px,#7c3639 364px,#411c1d 366px,#1a0c0c 368px,#0b0505 376px,#030101 427px,#0a0404 490px,#140909 502px,#3d1b1c 514px,#692e30 522px,#8f3e41 540px,#b44f52 552px,#7d3739 570px,#793537 572px,#15090a 579px,#050202 591px,#000101 712px)"></i><i style="height:2px;background:linear-gradient(90deg,#010101 0,#000101 97px,#04080b 124px,#090f15 129px,#365e84 137px,#4375a4 139px,#4b83b8 144px,#5595d0 152px,#5595d0 167px,#528fc8 171px,#3d6a95 189px,#213a51 201px,#0a1118 216px,#030608 238px,#030507 316px,#070c10 334px,#0a1219 338px,#182b3b 342px,#25415b 344px,#3b6790 346px,#5595d0 348px,#5995cd 352px,#7697b6 355px,#b88082 356px,#de6165 360px,#de6165 364px,#b34e51 365px,#733234 367px,#4a2021 369px,#271112 372px,#15090a 375px,#070303 397px,#090404 475px,#140909 493px,#2e1415 501px,#733234 516px,#9d4547 522px,#de6165 544px,#de6165 559px,#d15b5f 564px,#b65053 572px,#200e0e 582px,#130809 584px,#030101 599px,#010101 712px)"></i><i style="height:2px;background:linear-gradient(90deg,#020101 0,#010101 97px,#04070a 119px,#080e13 125px,#0b131b 126px,#467bab 136px,#5392cc 138px,#5595d0 153px,#5494cf 186px,#4f8bc2 190px,#376086 198px,#1a2e40 213px,#090f15 225px,#030608 258px,#05090c 321px,#080f14 331px,#152533 337px,#26425d 341px,#355c81 343px,#5595d0 346px,#5895ce 350px,#8198ad 355px,#ae8889 356px,#d36a6d 361px,#de6165 362px,#de6165 366px,#9c4447 368px,#6f3032 370px,#461f20 373px,#210f0f 378px,#130809 383px,#070303 416px,#0b0505 467px,#150909 485px,#3d1b1c 497px,#853a3c 512px,#bf5357 520px,#d15b5f 522px,#de6165 528px,#de6165 569px,#de6165 573px,#c35559 575px,#291213 585px,#180a0b 586px,#060203 598px,#010102 676px,#010102 712px)"></i><i style="height:2px;background:linear-gradient(90deg,#030101 0,#010102 97px,#040609 115px,#080e13 122px,#0b131b 123px,#3d6a94 131px,#5595d0 135px,#5595d0 186px,#5392cc 194px,#386289 204px,#172939 222px,#080f14 234px,#04070a 285px,#060b10 318px,#091117 326px,#182a3b 334px,#2b4c6a 339px,#41719e 342px,#5595d0 344px,#5695cf 348px,#7f97ae 353px,#8898a7 355px,#a88d8e 356px,#c2777a 361px,#de6165 364px,#dd6165 368px,#a2474a 370px,#6d2f31 373px,#3d1b1c 378px,#180a0b 386px,#0b0505 413px,#0f0707 464px,#190b0b 479px,#5c282a 497px,#ad4b4f 512px,#dc6064 518px,#de6165 569px,#da5f63 577px,#5c282a 585px,#180a0b 589px,#060303 601px,#010203 664px,#010203 712px)"></i><i style="height:2px;background:linear-gradient(90deg,#040202 0,#010203 97px,#05080c 115px,#0b131a 120px,#4b84b8 130px,#5595d0 132px,#5595d0 195px,#5492cc 199px,#365f85 211px,#182a3b 229px,#0b131a 241px,#060a0e 263px,#070d12 314px,#0f1a24 324px,#1a2e40 331px,#2a4a68 336px,#3a668f 339px,#4a82b6 341px,#5595d0 342px,#5595d0 346px,#7d97af 351px,#8d98a3 355px,#a39191 356px,#bd7c7e 362px,#de6165 366px,#de6165 369px,#d55d61 370px,#a5484b 372px,#773436 375px,#492021 380px,#281212 387px,#140909 397px,#0e0606 438px,#15090a 465px,#2c1314 477px,#713133 495px,#c6565a 510px,#dd6064 513px,#de6165 576px,#de6165 580px,#8f3f41 585px,#180a0b 592px,#070303 602px,#010203 635px,#020304 712px)"></i><i style="height:2px;background:linear-gradient(90deg,#050202 0,#010304 97px,#060b0f 115px,#080e14 117px,#4d86bc 127px,#5492cc 128px,#5595d0 191px,#5595d0 203px,#2f5273 221px,#152534 239px,#080f15 257px,#080e14 308px,#182a3b 326px,#2a4966 333px,#3c6993 337px,#5290c9 340px,#5595d0 342px,#5595d0 344px,#7c97b0 349px,#9199a0 355px,#a09394 356px,#b88082 363px,#de6165 368px,#de6165 371px,#984245 375px,#622b2d 380px,#3e1b1c 386px,#180a0b 401px,#120808 442px,#1a0b0c 457px,#3e1b1c 475px,#853a3d 493px,#c8575b 505px,#dd6064 508px,#de6165 571px,#de6165 583px,#d65d61 584px,#562527 591px,#361718 593px,#1e0d0e 594px,#120808 596px,#010203 618px,#020405 712px)"></i><i style="height:2px;background:linear-gradient(90deg,#070303 0,#020304 97px,#080e13 115px,#0d161f 116px,#284661 119px,#518ec6 125px,#5595d0 126px,#5595d0 204px,#5493cd 209px,#345c80 224px,#1e354b 239px,#0a121a 266px,#0a121a 299px,#101b26 311px,#20374d 326px,#305476 332px,#4375a3 336px,#5595d0 339px,#5595d0 342px,#7b97b1 347px,#93999e 355px,#9e9595 356px,#b48385 364px,#cf6d70 368px,#dc6367 369px,#de6165 373px,#9c4447 377px,#6a2e30 382px,#4e2224 387px,#210f0f 405px,#190b0c 423px,#1a0b0c 445px,#4e2223 472px,#853a3d 487px,#d65e62 502px,#de6165 505px,#de6165 583px,#de6165 586px,#632b2d 593px,#190b0c 596px,#0a0405 604px,#020304 626px,#030506 712px)"></i><i style="height:2px;background:linear-gradient(90deg,#080404 0,#020406 97px,#070c11 112px,#0b131b 114px,#39648b 119px,#5594cf 123px,#5595d0 201px,#5595d0 213px,#33597c 231px,#243f58 243px,#13202d 265px,#101d28 298px,#152533 310px,#26425c 325px,#32587b 330px,#497fb2 335px,#5595d0 337px,#5595d0 341px,#7a97b2 345px,#92999e 353px,#a98c8d 363px,#c1787b 368px,#de6165 371px,#db6064 375px,#9f4548 379px,#6a2e30 385px,#341717 403px,#2a1213 421px,#2d1414 443px,#552527 465px,#763336 477px,#ba5155 492px,#dd6165 498px,#de6165 576px,#de6165 588px,#d75e62 589px,#903f41 593px,#160a0a 598px,#070303 613px,#030406 640px,#030608 712px)"></i><i style="height:2px;background:linear-gradient(90deg,#0a0405 0,#030507 97px,#091016 112px,#4274a2 118px,#518ec7 120px,#5595d0 121px,#5595d0 218px,#345c80 236px,#1b3043 263px,#182a3a 275px,#162736 297px,#1a2e40 309px,#2b4c6a 324px,#345b7f 328px,#487fb1 333px,#5493ce 335px,#5595d0 339px,#8298ac 345px,#a09494 360px,#b78183 368px,#dc6367 372px,#de6165 376px,#d65e62 377px,#a14649 381px,#783436 386px,#421d1e 404px,#3a191a 419px,#431d1e 446px,#80383a 473px,#c15558 488px,#de6165 494px,#de6165 591px,#a6494c 594px,#16090a 600px,#020406 618px,#04070a 712px)"></i><i style="height:2px;background:linear-gradient(90deg,#0c0506 0,#090404 78px,#030508 96px,#070c11 108px,#080f15 110px,#5493cd 118px,#5595d0 215px,#5595d0 223px,#3b6790 238px,#213b52 265px,#1d3246 298px,#213b52 310px,#345b80 325px,#406f9b 329px,#5291ca 333px,#5595d0 335px,#5595d0 338px,#7f97ae 343px,#93999e 351px,#a88c8d 366px,#c37779 371px,#de6165 374px,#de6165 378px,#9a4346 384px,#83393c 388px,#542526 403px,#4a2022 418px,#542526 445px,#954144 472px,#c8575b 484px,#de6165 489px,#de6165 586px,#de6165 593px,#d45c60 594px,#261111 601px,#15090a 602px,#030507 617px,#05080b 712px)"></i><i style="height:2px;background:linear-gradient(90deg,#0e0607 0,#0a0505 78px,#090404 93px,#04070a 98px,#080f14 108px,#1a2e41 110px,#5493cd 116px,#5595d0 213px,#5595d0 228px,#4273a1 240px,#274560 267px,#233e56 300px,#284661 310px,#3b6891 325px,#487eb0 329px,#5595d0 332px,#5595d0 336px,#8598a9 343px,#96999b 353px,#aa8b8c 368px,#d16c6f 374px,#de6165 376px,#de6165 380px,#a5484b 385px,#6d3031 400px,#5f2a2b 408px,#5b282a 420px,#6c2f31 447px,#b34e51 474px,#de6165 484px,#de6165 581px,#de6165 593px,#de6165 595px,#d35c60 596px,#220f0f 603px,#15090a 604px,#090404 616px,#030608 619px,#050a0d 712px)"></i><i style="height:2px;background:linear-gradient(90deg,#110708 0,#0c0506 78px,#0a0505 93px,#04080b 97px,#080d12 105px,#080e14 106px,#0e1923 107px,#5493cd 114px,#5595d0 211px,#5595d0 233px,#3e6c97 251px,#2e5171 269px,#294763 296px,#2c4d6c 308px,#4478a7 326px,#5595d0 330px,#5695cf 335px,#7d97b0 340px,#9199a0 346px,#9f9494 364px,#ad888a 370px,#d6686b 376px,#de6165 377px,#da5f63 382px,#b14d51 386px,#733234 404px,#6b2f31 419px,#7d3739 446px,#c7575b 473px,#de6165 479px,#de6165 576px,#de6165 594px,#de6165 597px,#d35c60 598px,#1d0d0d 605px,#130809 607px,#0b0505 615px,#04070a 619px,#060b10 712px)"></i><i style="height:2px;background:linear-gradient(90deg,#130809 0,#0e0606 78px,#0c0505 93px,#05090c 97px,#080e14 104px,#0c141c 105px,#41719e 110px,#5493cd 112px,#5595d0 233px,#5493cd 240px,#365f85 267px,#2f5373 294px,#33597d 309px,#487fb1 324px,#4f8bc2 327px,#5595d0 329px,#5595d0 333px,#8398ab 340px,#93999d 347px,#9f9495 365px,#b18687 372px,#de6165 379px,#de6165 383px,#c05457 387px,#873b3e 402px,#7b3638 417px,#8d3e40 444px,#c7575b 466px,#de6165 474px,#de6165 595px,#de6165 599px,#d35c60 600px,#331617 606px,#160a0a 607px,#0d0606 615px,#05080b 618px,#070d12 712px)"></i><i style="height:2px;background:linear-gradient(90deg,#16090a 0,#100707 78px,#0e0606 93px,#0d0606 94px,#05090d 95px,#080f15 103px,#40709d 108px,#5493cd 110px,#5595d0 231px,#5594cf 246px,#3d6b96 268px,#355d82 295px,#3a668f 310px,#5595d0 328px,#5895ce 332px,#8098ae 338px,#94999d 346px,#a19393 368px,#b97f81 375px,#de6165 380px,#de6165 385px,#9e4548 400px,#913f42 406px,#8c3d3f 418px,#a14649 445px,#de6165 467px,#de6165 588px,#de6165 600px,#de6165 601px,#d35c60 602px,#4b2122 607px,#2c1314 608px,#16090a 609px,#0e0606 616px,#05090d 617px,#080f14 712px)"></i><i style="height:2px;background:linear-gradient(90deg,#200e0e 0,#1e0d0e 41px,#0f0707 92px,#0f0707 94px,#060a0e 95px,#080f14 101px,#2a4966 104px,#5492cc 108px,#5595d0 229px,#5595d0 251px,#4477a7 269px,#3b6790 296px,#3e6d99 308px,#5595d0 323px,#5595d0 330px,#8198ad 337px,#94999d 345px,#9e9595 367px,#b38485 375px,#de6165 382px,#dc6064 389px,#a3474a 404px,#9a4346 416px,#b24e51 443px,#de6165 461px,#de6165 582px,#de6165 600px,#de6165 603px,#d35c60 604px,#451e1f 609px,#251011 610px,#15090a 611px,#100707 616px,#060a0e 617px,#0d161f 695px,#0c151d 712px)"></i><i style="height:2px;background:linear-gradient(90deg,#2b1314 0,#2f1515 41px,#2a1313 59px,#16090a 71px,#110808 93px,#110708 94px,#060b10 95px,#080e14 99px,#0f1a24 100px,#4980b3 105px,#5492cc 106px,#5595d0 257px,#4f8bc2 264px,#467bab 282px,#41729f 297px,#457aaa 309px,#5595d0 319px,#5995cd 329px,#7e97af 335px,#93999e 343px,#a19293 370px,#bb7e80 378px,#dd6266 383px,#dc6064 393px,#b44f52 403px,#ac4b4e 418px,#c8575b 445px,#de6165 453px,#de6165 604px,#de6165 605px,#d25c60 606px,#3e1b1c 611px,#1c0c0d 612px,#140909 614px,#120808 616px,#060b10 617px,#091016 644px,#101d28 654px,#121f2b 695px,#111d29 712px)"></i><i style="height:2px;background:linear-gradient(90deg,#371819 0,#411c1d 51px,#3c1a1b 63px,#210f0f 75px,#160a0a 80px,#130809 92px,#130809 94px,#070d12 95px,#080e14 97px,#0c141c 98px,#3e6c97 102px,#5492cc 104px,#5595d0 255px,#5493cd 267px,#487eb0 294px,#4c85b9 309px,#5595d0 316px,#5595d0 326px,#5e96c9 328px,#8398ab 335px,#95999c 345px,#a39191 372px,#be7b7d 380px,#de6165 385px,#dd6064 397px,#c35559 404px,#bb5255 416px,#de6165 449px,#de6165 600px,#de6165 607px,#d25c5f 608px,#592728 612px,#160a0a 614px,#140909 616px,#070d12 617px,#080f14 632px,#18293a 650px,#172939 691px,#152534 712px)"></i><i style="height:2px;background:linear-gradient(90deg,#431d1e 0,#542526 51px,#542526 63px,#3d1b1c 78px,#180a0b 88px,#15090a 94px,#080e14 95px,#080f15 96px,#487fb1 101px,#5392cc 102px,#5995cd 112px,#5a95cc 122px,#5595d0 149px,#5595d0 270px,#5290c9 285px,#4d88be 297px,#528fc8 309px,#5595d0 313px,#5595d0 325px,#8098ad 333px,#94999d 343px,#9f9494 370px,#b78182 380px,#de6165 387px,#de6165 399px,#cf5a5e 409px,#cc595d 417px,#de6165 435px,#db6367 586px,#d86669 598px,#de6165 608px,#de6165 609px,#d15b5f 610px,#522425 614px,#2f1415 615px,#160a0a 616px,#080e14 617px,#0a1118 624px,#18293a 634px,#213a52 652px,#1a2d3f 712px)"></i><i style="height:2px;background:linear-gradient(90deg,#4f2224 0,#6d3031 63px,#5e292b 81px,#411c1d 91px,#321617 94px,#13212e 95px,#487eaf 99px,#5392cc 100px,#5895cd 106px,#6296c5 114px,#5595d0 136px,#5595d0 287px,#5595d0 320px,#5995cd 324px,#8198ac 332px,#96999c 344px,#9f9494 371px,#b68284 381px,#de6165 389px,#de6165 577px,#d06c70 595px,#d7676a 605px,#de6165 609px,#de6165 611px,#d15b5f 612px,#4c2122 616px,#121f2c 617px,#213a51 627px,#294865 645px,#274560 663px,#1e354a 712px)"></i><i style="height:2px;background:linear-gradient(90deg,#5b2829 0,#853a3d 63px,#853a3d 85px,#763436 93px,#733234 94px,#2d4e6d 95px,#5392cc 98px,#5795cf 103px,#6996c0 107px,#6396c4 122px,#5595d0 140px,#5595d0 291px,#5595d0 318px,#5895ce 322px,#7f97ae 330px,#95999d 342px,#9d9696 369px,#b18687 381px,#de6165 391px,#db6367 579px,#ca7174 597px,#ca7274 605px,#de6165 609px,#de6165 613px,#d05b5f 614px,#8e3e40 616px,#2b4c6a 617px,#345b7f 629px,#315678 656px,#233d55 712px)"></i><i style="height:2px;background:linear-gradient(90deg,#672d2f 0,#8f3f41 51px,#b54f52 84px,#b44f52 94px,#467bac 95px,#5392cc 96px,#5595d0 100px,#6f97bb 105px,#7097ba 112px,#5595d0 139px,#5595d0 290px,#5595d0 317px,#5c95ca 321px,#8098ad 329px,#94999d 341px,#a19293 374px,#b68183 384px,#dd6266 392px,#de6165 543px,#db6367 576px,#c47679 598px,#c2787a 606px,#de6165 612px,#de6165 615px,#d05b5f 616px,#4579a9 617px,#4376a5 632px,#2f5373 683px,#274560 712px)"></i><i style="height:2px;background:linear-gradient(90deg,#723234 0,#964244 41px,#ca585c 74px,#de6165 84px,#de6165 94px,#5595d0 95px,#5a95cc 98px,#7197b9 102px,#7a97b2 108px,#5695cf 141px,#5595d0 292px,#5595d0 314px,#5b95cb 319px,#8498aa 329px,#96999b 344px,#9e9595 371px,#af8788 383px,#de6165 395px,#de6165 546px,#db6367 573px,#bd7c7e 600px,#bb7e80 607px,#cc6f72 612px,#dc6266 614px,#de6165 616px,#5595d0 617px,#5595d0 629px,#3e6c97 662px,#2c4d6b 712px)"></i><i style="height:2px;background:linear-gradient(90deg,#7e3739 0,#a7494c 41px,#db6063 68px,#de6165 90px,#de6165 94px,#5595d0 95px,#6e96bc 98px,#8098ad 105px,#5595d0 146px,#5595d0 297px,#5595d0 315px,#8298ab 327px,#95999c 342px,#a19393 375px,#b18687 385px,#de6165 397px,#de6165 548px,#db6367 570px,#b48385 603px,#b88082 610px,#cd6f72 615px,#d6676b 616px,#5595d0 617px,#5392cc 644px,#40709c 671px,#305576 712px)"></i><i style="height:2px;background:linear-gradient(90deg,#8a3c3f 0,#b95154 41px,#dd6165 59px,#de6165 86px,#d6686b 91px,#c97275 94px,#6f97bb 95px,#8298ac 101px,#8298ab 109px,#5a95cc 142px,#5595d0 175px,#5595d0 296px,#5895ce 314px,#8998a6 329px,#98999a 351px,#a39192 378px,#b18687 386px,#dc6266 398px,#de6165 549px,#d8666a 571px,#ae8889 604px,#b28486 612px,#c07a7c 616px,#6d96bd 617px,#5595d0 624px,#5595d0 651px,#4375a3 678px,#355c81 712px)"></i><i style="height:2px;background:linear-gradient(90deg,#964144 0,#bd5256 33px,#de6165 51px,#de6165 78px,#d96568 84px,#b88082 94px,#7f97ae 95px,#8a98a5 105px,#5995cd 146px,#5595d0 243px,#5595d0 306px,#5b95cb 313px,#8998a6 328px,#98999a 350px,#a19293 377px,#b18587 387px,#de6165 402px,#de6165 553px,#d26b6e 575px,#ad898a 602px,#aa8b8c 610px,#b28587 616px,#7e97af 617px,#5595d0 629px,#5493cd 662px,#4375a3 689px,#39648c 712px)"></i><i style="height:2px;background:linear-gradient(90deg,#a2474a 0,#cc595d 33px,#de6165 45px,#de6165 78px,#da6568 81px,#c47679 87px,#ad898a 94px,#8998a6 95px,#8c98a3 107px,#6096c7 140px,#5595d0 162px,#5595d0 283px,#5995cd 310px,#8b98a4 328px,#999 355px,#a58f90 382px,#be7b7d 392px,#de6165 404px,#de6165 555px,#c67477 582px,#a78e8e 604px,#a98c8d 616px,#8898a7 617px,#5595d0 632px,#5595d0 665px,#5290c9 673px,#3e6c97 712px)"></i><i style="height:2px;background:linear-gradient(90deg,#ae4c4f 0,#dc6064 33px,#de6165 74px,#d8666a 79px,#bf7a7d 85px,#a98c8d 93px,#a68f8f 94px,#8f98a1 95px,#8a98a5 110px,#6096c7 143px,#5595d0 165px,#5595d0 286px,#5595d0 304px,#6e96bc 316px,#8c98a3 328px,#9a9898 361px,#a58f90 383px,#dc6266 405px,#dc6266 556px,#c2777a 583px,#a39191 605px,#a39192 615px,#a39192 616px,#8e98a2 617px,#6d96bc 629px,#5595d0 635px,#5595d0 676px,#4274a2 712px)"></i><i style="height:2px;background:linear-gradient(90deg,#b95154 0,#de6165 27px,#de6165 68px,#d96569 76px,#b97f81 84px,#a19293 94px,#93999e 95px,#8c98a3 110px,#6296c6 143px,#5595d0 165px,#5595d0 286px,#5795cf 304px,#8b98a4 326px,#9a9999 359px,#a88d8e 386px,#dd6266 408px,#de6165 529px,#da6468 556px,#c0797c 583px,#a19293 605px,#9f9494 615px,#9f9494 616px,#92999e 617px,#7697b6 629px,#5695cf 637px,#5493cd 688px,#477cad 712px)"></i><i style="height:2px;background:linear-gradient(90deg,#c5565a 0,#de6165 18px,#de6165 69px,#d16c6f 76px,#b28486 84px,#9e9595 94px,#95999c 95px,#8e98a2 110px,#6496c4 143px,#5595d0 170px,#5595d0 291px,#5a95cc 303px,#8a98a5 325px,#98999a 352px,#a58f90 385px,#de6165 412px,#de6165 533px,#d6686b 560px,#b88082 587px,#9f9495 609px,#9d9696 616px,#93999e 618px,#7897b4 630px,#5695cf 640px,#5595d0 691px,#4b84b8 712px)"></i><i style="height:2px;background:linear-gradient(90deg,#d15b5f 0,#de6165 12px,#de6165 63px,#da6468 70px,#ac8a8b 85px,#96999b 97px,#8a98a5 115px,#6296c6 148px,#5695cf 175px,#5595d0 296px,#8f98a1 329px,#a19293 380px,#b28586 392px,#dc6266 414px,#dd6165 535px,#d26b6e 562px,#b38485 589px,#9e9595 607px,#9c9797 615px,#7d97af 630px,#5895cd 642px,#5493cd 705px,#508cc3 712px)"></i><i style="height:2px;background:linear-gradient(90deg,#dd6164 0,#de6165 63px,#d36a6d 70px,#a88d8e 85px,#97999b 97px,#8b98a4 115px,#6496c4 148px,#5695cf 181px,#5595d0 278px,#5e96c9 300px,#8e98a2 327px,#a09394 378px,#ac898a 390px,#d5686b 412px,#de6165 439px,#dc6367 536px,#d06d70 563px,#9f9494 604px,#95999c 619px,#8698a9 629px,#5a95cc 644px,#5595d0 656px,#5494cf 712px)"></i><i style="height:2px;background:linear-gradient(90deg,#de6165 0,#de6165 63px,#a58f90 85px,#97999b 100px,#8498aa 122px,#6596c3 149px,#5895ce 182px,#5795cf 279px,#6396c4 301px,#8f98a1 328px,#a09394 379px,#b28586 394px,#d6686b 416px,#de6165 457px,#da6468 535px,#cf6d71 562px,#9f9494 603px,#94999d 621px,#8298ab 631px,#5595d0 649px,#5595d0 712px)"></i><i style="height:2px;background:linear-gradient(90deg,#de6165 0,#de6165 51px,#dd6266 61px,#a68f8f 83px,#97999b 101px,#8498aa 123px,#6696c3 150px,#5895ce 191px,#5695cf 269px,#6196c6 296px,#9098a0 329px,#a19393 380px,#b78182 398px,#d26b6e 416px,#de6165 457px,#d86669 535px,#cd6f72 562px,#9f9495 603px,#9199a0 625px,#5595d0 652px,#5595d0 712px)"></i><i style="height:2px;background:linear-gradient(90deg,#de6165 0,#de6165 51px,#d8666a 61px,#a49091 83px,#97999b 101px,#8598a9 123px,#6796c1 150px,#5b95cb 183px,#5895cd 261px,#6496c4 294px,#8f98a1 327px,#a09494 378px,#b28586 396px,#cf6d70 418px,#db6367 459px,#d6676b 537px,#ca7274 564px,#9d9696 605px,#9098a0 627px,#5595d0 654px,#5595d0 712px)"></i><i style="height:2px;background:linear-gradient(90deg,#de6165 0,#de6165 51px,#d36a6d 61px,#a29292 83px,#96999b 105px,#8198ac 127px,#6196c6 160px,#5995cd 238px,#6096c7 279px,#6e96bc 301px,#9098a0 328px,#a09394 379px,#b78182 401px,#cc6f72 419px,#d86669 460px,#d5696c 538px,#c77376 565px,#a29293 598px,#93999e 625px,#5595d0 658px,#5595d0 712px)"></i><i style="height:2px;background:linear-gradient(90deg,#de6165 0,#de6165 51px,#a09394 84px,#93999e 111px,#6996c0 152px,#5c95cb 203px,#5e96c8 266px,#6e96bc 299px,#8f98a1 326px,#9f9494 377px,#b28486 399px,#ca7174 421px,#d6676b 462px,#d36a6e 540px,#c47679 567px,#9f9494 600px,#92999e 627px,#5595d0 660px,#5595d0 712px)"></i><i style="height:2px;background:linear-gradient(90deg,#de6165 0,#db6367 51px,#9f9494 84px,#9098a0 117px,#6c96bd 150px,#5f96c8 183px,#6096c7 261px,#7497b7 302px,#9199a0 329px,#a09394 380px,#c77476 421px,#d5686c 472px,#cf6d70 550px,#b18687 583px,#9c9797 605px,#93999e 627px,#5995cd 660px,#5595d0 712px)"></i><i style="height:2px;background:linear-gradient(90deg,#de6165 0,#de6165 41px,#d8666a 51px,#9f9495 84px,#9098a0 117px,#6d96bc 150px,#6196c7 183px,#6396c5 261px,#7797b5 302px,#9199a0 329px,#a09394 380px,#c47678 421px,#d36a6d 472px,#d16c6f 535px,#c57578 562px,#9d9696 603px,#9199a0 630px,#5895ce 663px,#5595d0 712px)"></i><i style="height:2px;background:linear-gradient(90deg,#de6165 0,#de6165 41px,#d16b6f 53px,#a39191 80px,#96999b 107px,#8498aa 129px,#6796c2 162px,#6196c7 225px,#6a96bf 276px,#7a97b2 303px,#94999d 336px,#a49091 387px,#c1787b 420px,#d16c6f 471px,#d06d70 534px,#c47678 561px,#9d9696 602px,#93999e 629px,#5d95ca 662px,#5595d0 672px,#5595d0 712px)"></i><i style="height:2px;background:linear-gradient(90deg,#de6165 0,#de6165 41px,#a09494 82px,#8c98a4 123px,#6c96be 156px,#6296c6 207px,#6a96bf 270px,#7c97b0 303px,#94999d 336px,#a39191 387px,#c2777a 428px,#d16c6f 491px,#cc6f72 542px,#bd7c7e 569px,#a09494 596px,#93999e 629px,#5595d0 670px,#5595d0 712px)"></i><i style="height:2px;background:linear-gradient(90deg,#de6165 0,#de6165 41px,#a88d8d 74px,#999 96px,#8d98a3 123px,#6d96bd 156px,#6396c5 207px,#6c96bd 270px,#8598a9 311px,#98999a 352px,#a88d8e 393px,#c3777a 434px,#cf6d70 497px,#ca7274 548px,#ae8889 581px,#9c9697 603px,#93999e 630px,#5595d0 671px,#5595d0 712px)"></i><i style="height:1.7px;background:linear-gradient(90deg,#de6165 0,#db6367 41px,#a78e8e 74px,#999 96px,#8d98a2 123px,#6e96bc 156px,#6496c4 207px,#6e96bb 270px,#97999a 348px,#ab8a8b 399px,#c77476 450px,#cd6f72 528px,#c0797b 561px,#a09494 594px,#8e98a2 635px,#5c95ca 668px,#5595d0 680px,#5595d0 712px)"></i></div>
<div class="hm" style="left:96.3px;top:1555.1px;width:712px"><i style="height:2px;background:linear-gradient(90deg,#5595d0 0,#5595d0 121px,#8a98a5 242px,#999 363px,#a68f8f 460px,#d96569 581px,#de6165 644px,#de6165 712px)"></i><i style="height:2px;background:linear-gradient(90deg,#5595d0 0,#5595d0 121px,#8998a6 242px,#98999a 339px,#a68e8f 460px,#db6468 581px,#de6165 712px)"></i><i style="height:2px;background:linear-gradient(90deg,#5595d0 0,#5595d0 121px,#9098a0 272px,#9f9494 423px,#b88082 501px,#db6367 579px,#de6165 712px)"></i><i style="height:2px;background:linear-gradient(90deg,#5595d0 0,#5595d0 121px,#9098a1 272px,#a09494 423px,#b97f81 501px,#dd6266 579px,#de6165 712px)"></i><i style="height:2px;background:linear-gradient(90deg,#5595d0 0,#5595d0 121px,#6696c2 172px,#8e98a2 269px,#a09494 420px,#b97f81 498px,#dd6266 576px,#de6165 712px)"></i><i style="height:2px;background:linear-gradient(90deg,#5595d0 0,#5595d0 121px,#5c95ca 154px,#8f98a1 275px,#a19293 426px,#be7b7d 504px,#de6165 582px,#de6165 712px)"></i><i style="height:2px;background:linear-gradient(90deg,#5595d0 0,#5595d0 121px,#5b95cb 154px,#8e98a2 275px,#9c9696 396px,#b18687 474px,#de6165 571px,#de6165 712px)"></i><i style="height:2px;background:linear-gradient(90deg,#5595d0 0,#5895cd 151px,#8c98a4 272px,#9c9697 393px,#b28587 471px,#de6165 568px,#de6165 712px)"></i><i style="height:2px;background:linear-gradient(90deg,#5595d0 0,#5795cf 151px,#8a98a5 272px,#9a9898 369px,#ab8b8c 447px,#de6165 568px,#de6165 712px)"></i><i style="height:2px;background:linear-gradient(90deg,#5595d0 0,#5595d0 151px,#8898a6 272px,#999 350px,#a68f8f 428px,#d96569 549px,#de6165 612px,#de6165 712px)"></i><i style="height:2px;background:linear-gradient(90deg,#5595d0 0,#5595d0 151px,#9199a0 302px,#9e9595 399px,#cf6d70 520px,#de6165 561px,#de6165 712px)"></i><i style="height:2px;background:linear-gradient(90deg,#5595d0 0,#5595d0 151px,#9098a0 302px,#9f9494 399px,#dd6266 550px,#de6165 712px)"></i><i style="height:2px;background:linear-gradient(90deg,#5595d0 0,#5595d0 151px,#6496c3 202px,#95999c 323px,#a09393 401px,#de6165 552px,#de6165 712px)"></i><i style="height:2px;background:linear-gradient(90deg,#5595d0 0,#5595d0 151px,#5e96c9 192px,#92999f 313px,#9e9595 391px,#de6165 542px,#de6165 712px)"></i><i style="height:2px;background:linear-gradient(90deg,#5595d0 0,#5595d0 151px,#5c95cb 192px,#8498aa 289px,#97999a 340px,#a39091 403px,#c77376 481px,#de6165 544px,#de6165 712px)"></i><i style="height:2px;background:linear-gradient(90deg,#5595d0 0,#5895ce 188px,#7e97af 285px,#97999b 336px,#a39191 399px,#c07a7c 450px,#dd6266 528px,#de6165 712px)"></i><i style="height:2px;background:linear-gradient(90deg,#5595d0 0,#5695cf 188px,#7a97b2 285px,#94999d 326px,#a09494 389px,#c2787a 440px,#de6165 537px,#de6165 712px)"></i><i style="height:2px;background:linear-gradient(90deg,#5595d0 0,#5595d0 188px,#6a96bf 266px,#8098ad 299px,#95999c 332px,#a49091 395px,#c67577 436px,#de6165 533px,#de6165 712px)"></i><i style="height:2px;background:linear-gradient(90deg,#5595d0 0,#5595d0 188px,#6396c5 266px,#7197b9 288px,#93999e 329px,#a49091 392px,#cf6d70 443px,#de6165 521px,#de6165 712px)"></i><i style="height:2px;background:linear-gradient(90deg,#5595d0 0,#5595d0 188px,#5b95cb 266px,#6396c5 281px,#8e98a2 322px,#a19293 385px,#d6686b 436px,#de6165 557px,#de6165 712px)"></i><i style="height:2px;background:linear-gradient(90deg,#518ec6 0,#5595d0 8px,#5695cf 243px,#5595d0 276px,#8f98a1 327px,#9f9494 378px,#b78182 405px,#db6468 432px,#de6165 667px,#dc6064 708px,#d35c60 712px)"></i><i style="height:2px;background:linear-gradient(90deg,#4b84b8 0,#5595d0 12px,#5595d0 247px,#5895cd 288px,#8898a7 321px,#98999a 354px,#a78e8f 387px,#de6165 428px,#de6165 663px,#de6165 696px,#d85e62 703px,#c35559 712px)"></i><i style="height:2px;background:linear-gradient(90deg,#4579a9 0,#5595d0 18px,#5595d0 253px,#5595d0 294px,#8598aa 321px,#96999b 348px,#a49091 381px,#ca7274 408px,#de6165 418px,#de6165 653px,#de6165 694px,#b44f52 712px)"></i><i style="height:2px;background:linear-gradient(90deg,#3f6e9a 0,#5391ca 22px,#5595d0 30px,#5595d0 265px,#5595d0 298px,#8698a8 325px,#9b9898 358px,#aa8b8c 385px,#d16c6f 407px,#de6165 414px,#de6165 649px,#de6165 682px,#d95f63 689px,#a4484b 712px)"></i><i style="height:2px;background:linear-gradient(90deg,#39648c 0,#5595d0 33px,#5595d0 268px,#5595d0 301px,#5b95cc 306px,#8698a8 328px,#9f9494 369px,#b18687 387px,#de6165 409px,#de6165 644px,#de6165 677px,#d75e62 683px,#944144 712px)"></i><i style="height:2px;background:linear-gradient(90deg,#33597d 0,#508cc3 33px,#5595d0 40px,#5595d0 228px,#5595d0 261px,#5595d0 263px,#355c81 271px,#26435e 274px,#26425c 275px,#5391cb 283px,#5595d0 287px,#5795ce 309px,#8798a8 331px,#9e9595 364px,#b48385 386px,#de6165 404px,#de6165 426px,#de6165 428px,#8a3c3f 434px,#5e292b 437px,#d05b5e 447px,#de6165 449px,#de6165 637px,#de6165 670px,#d85e62 676px,#8a3c3f 709px,#853a3c 712px)"></i><i style="height:2px;background:linear-gradient(90deg,#2d4f6e 0,#497fb2 33px,#5595d0 45px,#5595d0 233px,#5595d0 251px,#5392cc 253px,#3f6e99 255px,#0b141c 267px,#080f15 269px,#080f15 281px,#4b83b7 293px,#5595d0 295px,#5695cf 313px,#8298ab 331px,#9f9495 364px,#b28586 382px,#de6165 400px,#de6165 415px,#dd6164 417px,#2b1314 429px,#1d0c0d 430px,#160a0a 432px,#160a0a 444px,#9c4447 456px,#ac4b4e 457px,#de6165 459px,#de6165 647px,#de6165 665px,#d05b5f 672px,#82393b 705px,#753335 712px)"></i><i style="height:2px;background:linear-gradient(90deg,#27445f 0,#4173a0 33px,#5595cf 51px,#5595d0 239px,#5595d0 247px,#5392cc 248px,#0b131b 255px,#080f15 257px,#080e14 290px,#0a1219 293px,#1b3043 296px,#25405a 297px,#4e88be 300px,#5595d0 301px,#5595d0 316px,#8398ab 334px,#94999d 352px,#96999c 355px,#9c9696 357px,#ab8a8b 375px,#ce6e71 390px,#de6165 396px,#de6165 411px,#9d4447 413px,#552527 415px,#170a0a 419px,#15090a 452px,#160a0a 456px,#261011 457px,#c8575b 463px,#de6165 464px,#de6165 652px,#d95f63 662px,#934043 689px,#652c2e 712px)"></i><i style="height:2px;background:linear-gradient(90deg,#213a51 0,#3a668f 33px,#518fc7 55px,#5595d0 60px,#5595d0 211px,#5595d0 238px,#5392cc 243px,#0f1a24 250px,#080f15 251px,#070d12 292px,#080f14 299px,#0d1720 300px,#528fc8 305px,#5595d0 307px,#5595d0 319px,#5e96c9 323px,#8098ad 335px,#94999d 353px,#95999c 355px,#9d9596 357px,#b08788 375px,#ce6e71 387px,#de6165 392px,#de6165 404px,#de6165 406px,#cb595c 407px,#180a0b 412px,#120808 445px,#16090a 460px,#160a0a 461px,#c9585b 468px,#de6165 469px,#de6165 620px,#de6165 653px,#873b3e 686px,#562527 712px)"></i><i style="height:2px;background:linear-gradient(90deg,#1b2f42 0,#33597d 33px,#5595d0 66px,#5595d0 217px,#5595d0 235px,#5392cc 238px,#080f15 246px,#060b0f 287px,#080e13 302px,#080f15 304px,#111e2a 305px,#5595d0 310px,#5595d0 322px,#5a95cc 325px,#7e97af 337px,#94999d 355px,#9e9595 356px,#b38486 374px,#de6165 389px,#de6165 401px,#d55d61 402px,#220f10 407px,#160a0a 408px,#100707 449px,#15090a 464px,#1e0d0e 466px,#ca585c 473px,#de6165 474px,#de6165 625px,#de6165 647px,#903f42 674px,#461f20 712px)"></i><i style="height:2px;background:linear-gradient(90deg,#152533 0,#2c4d6b 33px,#477cad 60px,#5595d0 72px,#5595d0 223px,#5595d0 233px,#0c151d 241px,#080f14 242px,#05090d 283px,#080d12 305px,#080f15 309px,#4c85ba 314px,#5595d0 315px,#5595d0 327px,#7d97b0 339px,#92999f 354px,#93999e 355px,#9f9494 356px,#b28586 371px,#de6165 386px,#de6165 396px,#de6165 397px,#2d1314 402px,#160a0a 403px,#0d0606 444px,#130909 466px,#160a0a 470px,#401c1d 472px,#d15b5f 478px,#de6165 479px,#de6165 630px,#de6165 640px,#8e3e41 667px,#4a2021 700px,#361819 712px)"></i><i style="height:2px;background:linear-gradient(90deg,#0f1a25 0,#2b4c6a 41px,#487eaf 68px,#5595cf 78px,#5595d0 199px,#5595d0 226px,#5595d0 228px,#518ec6 229px,#080f15 237px,#04080a 278px,#080e13 311px,#080f14 313px,#0b141c 314px,#508cc4 319px,#5595d0 320px,#5595d0 330px,#7e97af 342px,#9098a0 354px,#9199a0 355px,#a19393 356px,#b88082 371px,#de6165 383px,#de6165 391px,#de6165 392px,#c6575a 393px,#160a0a 398px,#0b0505 439px,#140909 472px,#180b0b 475px,#da5f63 483px,#dc6064 634px,#893c3e 661px,#431d1e 694px,#271112 712px)"></i><i style="height:2px;background:linear-gradient(90deg,#091016 0,#243f57 41px,#3f6e99 68px,#5595d0 86px,#5595d0 207px,#5595d0 222px,#5494ce 224px,#0d1720 232px,#080f14 233px,#040609 274px,#080d12 315px,#080f14 318px,#0f1b26 319px,#1d3347 320px,#4477a7 322px,#5595d0 323px,#5595d0 333px,#7f97ae 345px,#8f98a1 355px,#a39192 356px,#b68183 368px,#de6165 380px,#de6165 388px,#d75e62 389px,#6d2f31 391px,#1d0d0d 393px,#150909 395px,#090404 436px,#140909 477px,#160a0a 479px,#cd595d 487px,#de6165 488px,#de6165 609px,#de6165 627px,#944143 649px,#522425 676px,#170a0a 712px)"></i><i style="height:2px;background:linear-gradient(90deg,#070d12 0,#0b131b 15px,#223c53 48px,#3e6d98 75px,#5392cc 90px,#5595d0 211px,#5595d0 219px,#477dae 221px,#0a1219 228px,#060b0f 236px,#030608 287px,#080d12 320px,#080f15 322px,#182a3b 323px,#5595d0 326px,#5595d0 336px,#7c97b1 346px,#8b98a4 354px,#8c98a3 355px,#a58f90 356px,#bd7c7e 368px,#de6165 376px,#de6165 384px,#de6165 385px,#cf5a5e 386px,#2f1415 389px,#16090a 390px,#080404 431px,#0e0607 472px,#150909 482px,#16090a 483px,#220f10 484px,#d55d61 492px,#de6165 493px,#de6165 614px,#d95f63 622px,#984245 640px,#512425 667px,#180a0b 700px,#130809 712px)"></i><i style="height:2px;background:linear-gradient(90deg,#060a0f 0,#080f15 22px,#20384f 55px,#3d6b96 82px,#5594cf 97px,#5595d0 194px,#5595d0 212px,#5595d0 214px,#223b53 221px,#080f15 224px,#030507 257px,#04070a 308px,#070d12 323px,#080f14 325px,#152433 326px,#5290c8 329px,#5595d0 331px,#5695cf 339px,#7897b4 347px,#8998a6 355px,#a88d8e 356px,#c67477 368px,#de6165 374px,#de6165 382px,#c6575a 383px,#261111 386px,#15090a 387px,#080303 420px,#0c0505 471px,#140909 486px,#1b0c0c 488px,#883b3e 493px,#d25c5f 497px,#de6165 498px,#de6165 595px,#de6165 613px,#d25c60 617px,#8f3e41 635px,#481f21 662px,#170a0a 689px,#100707 712px)"></i><i style="height:2px;background:linear-gradient(90deg,#05080c 0,#080f14 33px,#1c3246 60px,#39658d 87px,#5290c9 102px,#5595d0 106px,#5595d0 203px,#5492cc 209px,#0d1720 219px,#080f14 220px,#030406 253px,#04080b 316px,#080e14 328px,#111e2a 329px,#4f8ac0 332px,#5595d0 333px,#5595d0 341px,#7c97b0 351px,#8598a9 355px,#ac8a8b 356px,#c87375 366px,#de6165 371px,#de6165 379px,#bd5356 380px,#1d0d0d 383px,#140909 385px,#060303 418px,#090404 469px,#15090a 491px,#160a0a 492px,#cd5a5d 502px,#de6165 503px,#de6165 600px,#de6165 608px,#9c4447 623px,#4e2224 650px,#170a0b 677px,#0d0506 712px)"></i><i style="height:2px;background:linear-gradient(90deg,#040709 0,#080d13 41px,#0e1923 53px,#2e5070 86px,#4375a4 101px,#5392cc 109px,#5595d0 121px,#5595d0 199px,#5595d0 203px,#5290c8 204px,#0b141c 214px,#080e13 216px,#020405 249px,#030507 312px,#070d12 330px,#080e14 331px,#0e1922 332px,#4b84b8 335px,#5595d0 336px,#5695cf 344px,#7897b4 352px,#8098ad 355px,#b18687 356px,#d4696d 366px,#de6165 369px,#de6165 376px,#b54f52 377px,#160a0a 380px,#080404 398px,#050202 461px,#130809 494px,#160a0a 497px,#6d3032 502px,#db6064 508px,#de6165 586px,#de6165 601px,#d25c5f 604px,#984345 616px,#562527 638px,#190b0b 665px,#0a0405 712px)"></i><i style="height:2px;background:linear-gradient(90deg,#030507 0,#070d12 51px,#0c161e 61px,#2c4d6c 94px,#4478a7 109px,#5595d0 116px,#5595d0 194px,#5595cf 198px,#345b7f 203px,#0a1118 209px,#030507 231px,#020405 309px,#060b0f 331px,#080e13 334px,#0b131a 335px,#487eb0 338px,#5595d0 339px,#5995cd 347px,#7a97b2 355px,#b68183 356px,#de6165 366px,#de6165 373px,#411d1e 376px,#160a0a 377px,#070303 395px,#060303 473px,#130809 500px,#16090a 502px,#1f0e0e 503px,#d45d60 513px,#de6165 514px,#de6165 592px,#dc6064 596px,#984345 608px,#642c2d 623px,#160a0a 656px,#080303 712px)"></i><i style="height:2px;background:linear-gradient(90deg,#020405 0,#080d13 63px,#101b26 75px,#243f58 97px,#3b6790 112px,#4c85ba 120px,#5595d0 127px,#5595d0 190px,#5493cd 191px,#2b4b68 199px,#080f15 204px,#020304 237px,#020305 315px,#05090d 333px,#080f15 338px,#1e3549 339px,#376188 340px,#5494cf 341px,#5695cf 349px,#7297b8 355px,#be7b7d 356px,#de6165 363px,#de6165 370px,#c5565a 371px,#7c3638 372px,#3c1a1b 373px,#15090a 374px,#060303 392px,#040202 470px,#110708 503px,#1b0c0c 508px,#733234 513px,#de6165 521px,#de6165 584px,#cd595d 590px,#b54f52 595px,#783537 607px,#431d1e 625px,#150909 647px,#060203 710px,#060203 712px)"></i><i style="height:2px;background:linear-gradient(90deg,#010304 0,#05090d 63px,#0b141b 81px,#1e354a 103px,#305576 115px,#3d6a95 123px,#5392cc 138px,#5595d0 171px,#5595d0 183px,#4d87bc 185px,#0f1a25 197px,#080e14 199px,#020305 226px,#020304 323px,#060a0e 338px,#080f15 341px,#233d55 342px,#4274a2 343px,#5595d0 344px,#5995cd 352px,#6896c0 355px,#c77476 356px,#de6165 361px,#de6165 368px,#441e1f 370px,#15090a 371px,#060203 386px,#040202 483px,#120808 510px,#160a0a 513px,#783537 521px,#dc6064 528px,#de6165 569px,#d85e62 574px,#9e4548 589px,#873b3d 595px,#542526 607px,#271112 625px,#120808 640px,#040202 703px,#040202 712px)"></i><i style="height:2px;background:linear-gradient(90deg,#010202 0,#060a0d 78px,#0b131a 96px,#1e3449 114px,#2a4a67 124px,#4273a1 142px,#5595d0 152px,#5493cd 174px,#4b84b8 178px,#0a1219 190px,#060a0d 198px,#010102 239px,#010202 317px,#04070a 339px,#080f15 344px,#2a4966 345px,#5493cd 346px,#5695cf 354px,#5c95ca 355px,#d36a6d 356px,#de6165 359px,#de6165 365px,#b85054 366px,#502324 367px,#15090a 368px,#050202 380px,#020101 477px,#0b0505 510px,#140909 520px,#1f0e0e 522px,#c6575a 534px,#de6165 539px,#de6165 557px,#de6165 560px,#a24749 572px,#682e30 590px,#2d1415 608px,#15090a 620px,#050202 671px,#020101 712px)"></i><i style="height:2px;background:linear-gradient(90deg,#010101 0,#030507 78px,#070c11 105px,#0c151d 113px,#25425c 140px,#3d6b95 155px,#487fb1 160px,#284662 175px,#20384e 178px,#0a121a 182px,#060a0e 188px,#010101 229px,#010102 326px,#05080b 344px,#080f15 347px,#365f84 348px,#5595d0 349px,#5595d0 355px,#de6165 356px,#de6165 363px,#642c2e 364px,#140909 365px,#060303 373px,#010000 470px,#070303 511px,#16090a 529px,#562627 534px,#b14d50 549px,#bb5255 552px,#7d3739 564px,#471f20 582px,#241010 597px,#140909 605px,#040202 656px,#010101 712px)"></i><i style="height:2px;background:linear-gradient(90deg,#000001 0,#020406 97px,#080d12 130px,#111e29 145px,#243e57 160px,#080e14 172px,#020304 194px,#000 315px,#010304 342px,#060b0f 349px,#080f14 350px,#5290c9 351px,#5595d0 353px,#5595d0 355px,#de6165 356px,#de6165 360px,#913f42 361px,#140909 362px,#050202 368px,#010000 489px,#0a0405 530px,#16090a 540px,#542526 550px,#5c282a 552px,#2b1314 567px,#15090a 579px,#040202 630px,#010000 712px)"></i><i style="height:2px;background:linear-gradient(90deg,#000 0,#010203 121px,#04070a 162px,#000001 203px,#000 324px,#030507 351px,#080e14 353px,#5595d0 354px,#5595d0 355px,#de6165 356px,#de6165 358px,#110808 359px,#030102 363px,#010000 514px,#0c0505 555px,#000 652px,#000 712px)"></i><i style="height:2px;background:linear-gradient(90deg,#000 0,#000 293px,#000 344px,#000 354px,#020101 355px,#5595d0 356px,#000101 357px,#000 712px)"></i><i style="height:2px;background:linear-gradient(90deg,#000 0,#050202 121px,#0f0707 162px,#020101 189px,#010000 340px,#070303 350px,#100707 352px,#9b4447 353px,#de6165 354px,#de6165 355px,#5595d0 356px,#5595d0 358px,#12202c 359px,#05090d 360px,#010102 367px,#010101 518px,#040709 545px,#060a0f 555px,#010102 618px,#000 712px)"></i><i style="height:2px;background:linear-gradient(90deg,#010000 0,#070303 97px,#180a0b 130px,#3f1b1d 148px,#6b2f31 160px,#210e0f 172px,#140909 175px,#040202 197px,#010000 318px,#070303 345px,#120808 349px,#582628 350px,#de6165 351px,#de6165 355px,#5595d0 356px,#5595d0 361px,#0e1821 362px,#060b10 363px,#010304 371px,#000101 492px,#030507 525px,#080e13 537px,#101c27 541px,#284662 551px,#243e57 555px,#121f2c 570px,#080e14 585px,#010203 636px,#000001 712px)"></i><i style="height:2px;background:linear-gradient(90deg,#010101 0,#090404 78px,#150909 105px,#652c2e 138px,#a14649 153px,#cb595d 160px,#793537 175px,#642c2e 178px,#1e0d0e 183px,#140909 185px,#040202 212px,#040202 333px,#100707 345px,#140909 346px,#421d1e 347px,#c7575a 348px,#de6165 349px,#de6165 355px,#5595d0 356px,#5595d0 363px,#3c6892 364px,#0c151e 365px,#070c11 366px,#020304 378px,#010203 499px,#070d12 526px,#080f15 528px,#274561 534px,#4980b3 549px,#4d87bd 552px,#345b80 564px,#1e354a 582px,#101d28 597px,#080e13 607px,#020304 658px,#010101 712px)"></i><i style="height:2px;background:linear-gradient(90deg,#030101 0,#090404 63px,#160a0a 90px,#3f1c1d 108px,#733234 123px,#b14d50 141px,#da5f63 149px,#de6165 161px,#de6165 176px,#d55d61 178px,#2b1313 190px,#16090a 192px,#050202 219px,#020101 316px,#0a0505 338px,#140909 343px,#371819 344px,#964244 345px,#de6165 346px,#da6468 354px,#d5696c 355px,#6296c6 356px,#5595d0 359px,#5595d0 366px,#2e5070 367px,#0b141c 368px,#060b10 370px,#010203 388px,#010203 485px,#05090d 512px,#080f15 520px,#3c6993 530px,#5290ca 534px,#5595d0 539px,#5595d0 561px,#4e89c0 565px,#365f84 580px,#254059 595px,#111f2b 610px,#080d13 625px,#020304 676px,#010202 712px)"></i><i style="height:2px;background:linear-gradient(90deg,#040202 0,#0e0607 63px,#1b0c0c 78px,#4b2122 100px,#763436 112px,#9d4447 120px,#de6165 138px,#de6165 179px,#de6165 184px,#d85f62 185px,#361819 197px,#15090a 200px,#050202 227px,#050202 324px,#120808 339px,#150909 340px,#311516 341px,#7b3638 342px,#d05b5f 343px,#de6165 344px,#de6165 351px,#c97275 355px,#6d96bd 356px,#5595d0 362px,#5595d0 368px,#457aaa 369px,#26435d 370px,#0b131b 371px,#070c10 373px,#010304 395px,#030507 492px,#070d12 510px,#080f14 512px,#4477a6 524px,#5594cf 527px,#5595d0 568px,#5494cf 575px,#3b678f 593px,#25415b 605px,#12202c 623px,#080e13 638px,#020405 689px,#020304 712px)"></i><i style="height:2px;background:linear-gradient(90deg,#060303 0,#150909 63px,#5f2a2b 96px,#9b4446 111px,#d15c5f 121px,#de6165 125px,#de6165 188px,#dc6064 192px,#6d3032 200px,#160a0a 205px,#060303 232px,#040202 310px,#0d0606 332px,#15090a 337px,#2d1414 338px,#ad4c4f 340px,#de6165 341px,#db6467 349px,#bf7a7c 355px,#7697b5 356px,#5595d0 364px,#5595d0 371px,#213a51 373px,#0b131b 374px,#070c11 376px,#020305 398px,#020305 476px,#070c10 503px,#090f15 507px,#32577a 513px,#5595d0 520px,#5595d0 583px,#5391ca 589px,#487eb0 595px,#305576 607px,#1b3042 625px,#080f14 647px,#020405 712px)"></i><i style="height:2px;background:linear-gradient(90deg,#080304 0,#140909 51px,#281112 63px,#6c2f31 90px,#a4474a 105px,#dd6165 115px,#de6165 193px,#de6165 199px,#281112 209px,#160a0a 210px,#050202 243px,#090404 321px,#140909 333px,#15090a 334px,#351718 335px,#d55d61 338px,#de6165 339px,#de6165 346px,#ba7e80 354px,#b78082 355px,#7d97b0 356px,#5595d0 366px,#5595d0 373px,#4c84b9 374px,#0e1923 377px,#080e14 378px,#020406 400px,#030507 478px,#080e13 500px,#0a1219 502px,#518ec6 512px,#5595d0 513px,#5595d0 591px,#5493cd 597px,#3b678f 609px,#243e57 627px,#0b131b 654px,#060a0f 672px,#030507 712px)"></i><i style="height:2px;background:linear-gradient(90deg,#0a0505 0,#150909 41px,#351718 59px,#8f3f41 92px,#c35559 104px,#de6165 109px,#de6165 187px,#de6165 202px,#de6165 204px,#bf5457 206px,#2c1314 214px,#1a0b0c 215px,#0a0405 233px,#050202 296px,#0d0606 323px,#160a0a 331px,#3e1b1c 332px,#de6165 335px,#de6165 343px,#b68183 353px,#b18587 355px,#8398ab 356px,#6196c6 366px,#5595d0 369px,#5595d0 376px,#4f8ac1 377px,#121f2b 380px,#080e14 381px,#030507 403px,#030406 466px,#070d12 493px,#080f14 496px,#0c151d 497px,#5291ca 507px,#5595d0 509px,#5595d0 587px,#5595d0 602px,#365f85 620px,#142331 653px,#080e13 671px,#04070a 712px)"></i><i style="height:2px;background:linear-gradient(90deg,#0d0606 0,#170a0b 33px,#5d282a 66px,#9e4548 88px,#de6165 103px,#de6165 200px,#de6165 208px,#d65e61 210px,#1c0c0d 220px,#130809 223px,#060303 264px,#0b0505 315px,#150909 327px,#160a0a 328px,#b14d51 331px,#de6165 332px,#de6165 340px,#ce6e71 344px,#ae8889 354px,#ac898a 355px,#8798a7 356px,#6c96bd 366px,#5595d0 372px,#5595d0 379px,#5290c9 380px,#152533 383px,#080f14 384px,#030507 411px,#04070a 474px,#080d12 489px,#080f14 491px,#1c3144 494px,#5493ce 502px,#5595d0 599px,#5595d0 609px,#3c6993 624px,#1e354a 651px,#091017 678px,#05090c 712px)"></i><i style="height:2px;background:linear-gradient(90deg,#100707 0,#180b0b 22px,#572628 55px,#a4484b 82px,#de6165 97px,#de6165 194px,#de6165 212px,#db6063 215px,#672d2f 221px,#230f10 224px,#160a0a 225px,#080303 258px,#0c0505 309px,#15090a 324px,#1a0b0c 325px,#ba5155 328px,#de6165 329px,#db6367 339px,#ba7f80 347px,#a98c8d 355px,#8b98a5 356px,#6e96bc 368px,#5595d0 374px,#5595d0 382px,#5595d0 383px,#182a3b 386px,#080f15 387px,#030507 420px,#05080b 471px,#080e14 486px,#080f15 487px,#3a658d 493px,#5595d0 497px,#5595d0 594px,#5493ce 616px,#39658c 634px,#1e3448 661px,#0a1219 688px,#060b0f 712px)"></i><i style="height:2px;background:linear-gradient(90deg,#130809 0,#1a0c0c 12px,#552527 45px,#9c4447 72px,#de6165 90px,#de6165 211px,#de6165 219px,#de6165 220px,#2a1313 228px,#160a0a 229px,#090404 262px,#100707 313px,#15090a 321px,#230f10 322px,#c35559 325px,#de6165 326px,#dc6367 336px,#b68283 346px,#a78e8f 354px,#a58f90 355px,#8e98a2 356px,#7697b5 368px,#5695d0 376px,#5595d0 386px,#4478a7 387px,#080f15 390px,#030608 431px,#060a0e 472px,#080e14 482px,#0a1118 483px,#4f8bc2 491px,#5595d0 492px,#5595d0 613px,#5595d0 621px,#32587b 648px,#162635 681px,#080f15 703px,#070d12 712px)"></i><i style="height:2px;background:linear-gradient(90deg,#1a0b0c 0,#502324 33px,#903f41 60px,#d75e62 82px,#de6165 86px,#de6165 207px,#de6165 222px,#de6165 224px,#d55d61 225px,#190b0c 233px,#0b0505 255px,#0f0707 306px,#150909 316px,#1e0d0d 318px,#652c2e 320px,#cb595c 322px,#de6165 323px,#dc6367 333px,#b28586 345px,#a39192 355px,#9098a0 356px,#7d97b0 368px,#5595d0 380px,#5595d0 388px,#5595d0 389px,#487eaf 390px,#335a7d 391px,#152533 393px,#080f15 394px,#040609 435px,#080e13 476px,#080f14 478px,#0d161f 479px,#5494ce 487px,#5595d0 608px,#5595d0 626px,#5290c9 630px,#325779 657px,#172837 690px,#0a1118 712px)"></i><i style="height:2px;background:linear-gradient(90deg,#291213 0,#622b2d 33px,#a6484b 60px,#de6165 78px,#de6165 229px,#9e4548 232px,#210f0f 237px,#160a0a 238px,#0b0505 271px,#15090a 312px,#160a0a 313px,#c6575a 318px,#de6165 319px,#de6165 329px,#af8788 344px,#a29292 354px,#a19393 355px,#92999f 356px,#7c97b1 371px,#5595d0 383px,#5595d0 393px,#111e2a 398px,#080f15 399px,#04080b 440px,#080e14 473px,#080f15 474px,#1a2d3e 476px,#518ec6 482px,#5595d0 483px,#5595d0 634px,#305475 667px,#172838 700px,#101c27 712px)"></i><i style="height:2px;background:linear-gradient(90deg,#39191a 0,#753335 33px,#bc5255 60px,#dc6064 70px,#de6165 221px,#de6165 233px,#da5f63 234px,#180a0b 242px,#0d0606 275px,#160a0a 308px,#2d1414 309px,#de6165 314px,#de6165 326px,#b08687 341px,#a19393 353px,#9f9494 355px,#93999e 356px,#8198ac 371px,#5595d0 386px,#5595d0 396px,#5595d0 397px,#528fc8 398px,#0d1720 403px,#080f14 404px,#05090d 445px,#080e13 467px,#080f14 469px,#0c151d 470px,#5595d0 478px,#5595d0 629px,#5595d0 641px,#315678 674px,#162635 712px)"></i><i style="height:2px;background:linear-gradient(90deg,#492021 0,#883b3e 33px,#d25c60 60px,#de6165 65px,#de6165 216px,#de6165 238px,#d45d61 239px,#281212 246px,#160a0a 247px,#110708 288px,#160a0a 303px,#220f10 304px,#d55d61 309px,#de6165 310px,#de6165 322px,#ae888a 340px,#9e9595 355px,#94999d 356px,#8098ad 374px,#5595d0 389px,#5595d0 401px,#5595d0 402px,#4e88be 403px,#091016 408px,#060b0f 449px,#080e14 464px,#080f15 465px,#5493cd 473px,#5595d0 624px,#5595d0 646px,#518ec7 651px,#355c81 678px,#1c3144 712px)"></i><i style="height:2px;background:linear-gradient(90deg,#592728 0,#9b4446 33px,#d85e62 55px,#de6165 60px,#de6165 211px,#de6165 238px,#de6165 243px,#d45d60 244px,#1f0d0e 251px,#160a0a 252px,#130808 285px,#15090a 297px,#180b0b 299px,#cb595c 304px,#de6165 305px,#de6165 320px,#b88082 332px,#a09394 350px,#9d9696 355px,#95999c 357px,#8498aa 375px,#6696c2 387px,#5595d0 392px,#5595d0 407px,#2e5171 410px,#13212e 412px,#080f15 413px,#080d12 454px,#080f15 460px,#0f1a24 461px,#5493cd 468px,#5392cc 656px,#376188 683px,#223b53 712px)"></i><i style="height:2px;background:linear-gradient(90deg,#682e2f 0,#ae4c4f 33px,#de6165 51px,#de6165 239px,#de6165 247px,#de6165 248px,#d35c60 249px,#311516 255px,#1a0b0c 257px,#150909 284px,#170a0a 291px,#612a2c 296px,#793537 297px,#c15458 299px,#de6165 300px,#de6165 315px,#b08687 333px,#94999d 360px,#8398ab 378px,#5595d0 396px,#5595d0 411px,#5392cc 412px,#2a4a67 415px,#080f15 421px,#080f15 454px,#101b26 456px,#162736 457px,#5493cd 463px,#5595d0 651px,#5392cc 663px,#335a7e 696px,#284661 712px)"></i><i style="height:2px;background:linear-gradient(90deg,#783437 0,#c15458 33px,#de6165 45px,#de6165 233px,#de6165 251px,#de6165 253px,#d35c60 254px,#b85054 255px,#4d2223 265px,#1b0c0c 269px,#15090a 275px,#160a0a 279px,#1d0d0d 280px,#ce5a5e 292px,#dd6165 293px,#de6165 311px,#ac898b 333px,#95999c 360px,#8198ac 382px,#5595d0 400px,#5595d0 418px,#5391cb 419px,#0f1a25 431px,#091017 432px,#080f15 442px,#4a81b4 457px,#5493cd 458px,#5595d0 646px,#5595d0 668px,#365e84 701px,#2e5070 712px)"></i><i style="height:2px;background:linear-gradient(90deg,#883b3e 0,#d35c60 33px,#de6165 39px,#de6165 227px,#de6165 260px,#de6165 265px,#c35559 268px,#7d3739 274px,#7b3638 275px,#d45d61 281px,#de6165 282px,#da6468 309px,#ab8a8b 331px,#94999d 364px,#7f97ae 386px,#5595d0 404px,#5595d0 426px,#5595d0 430px,#2e506f 437px,#508dc4 445px,#5595d0 447px,#5595d0 635px,#5493cd 676px,#345b7f 712px)"></i><i style="height:2px;background:linear-gradient(90deg,#974245 0,#d65d61 27px,#de6165 33px,#de6165 268px,#de6165 301px,#ca7174 311px,#a68f8f 333px,#95999d 366px,#8198ad 388px,#5595d0 410px,#5595d0 645px,#5595d0 678px,#518fc7 685px,#3a658d 712px)"></i><i style="height:2px;background:linear-gradient(90deg,#a7494c 0,#da5f63 22px,#de6165 257px,#de6165 298px,#ac8a8b 325px,#97999a 358px,#8998a6 385px,#6396c4 407px,#5595d0 415px,#5595d0 650px,#5595d0 683px,#5392cc 690px,#40709c 712px)"></i><i style="height:2px;background:linear-gradient(90deg,#b75053 0,#de6165 18px,#de6165 253px,#dc6266 294px,#ad898a 321px,#9c9797 348px,#8f98a1 381px,#6a96bf 408px,#5595d0 420px,#5595d0 655px,#5493ce 696px,#467aab 712px)"></i><i style="height:2px;background:linear-gradient(90deg,#c6575a 0,#de6165 12px,#de6165 247px,#de6165 280px,#d06c6f 295px,#a98c8d 322px,#97999b 363px,#8998a6 390px,#5b95cb 423px,#5595d0 438px,#5595d0 673px,#5595d0 700px,#4c85b9 712px)"></i><i style="height:2px;background:linear-gradient(90deg,#d65e61 0,#de6165 7px,#dc6367 242px,#de6165 275px,#a39191 326px,#94999d 377px,#7e97af 404px,#5595d0 437px,#5595d0 672px,#5595d0 705px,#528fc8 712px)"></i><i style="height:2px;background:linear-gradient(90deg,#de6165 0,#de6165 188px,#d6676b 266px,#cf6d71 281px,#a49091 322px,#96999c 373px,#8098ad 406px,#5d95c9 439px,#5895ce 490px,#5595d0 712px)"></i><i style="height:2px;background:linear-gradient(90deg,#de6165 0,#de6165 188px,#cf6d71 266px,#c1797b 288px,#9f9495 329px,#8e98a2 392px,#6596c3 443px,#5595d0 521px,#5595d0 712px)"></i><i style="height:2px;background:linear-gradient(90deg,#de6165 0,#de6165 188px,#c87375 266px,#9e9595 329px,#9098a0 392px,#6b96be 443px,#5595d0 521px,#5595d0 712px)"></i><i style="height:2px;background:linear-gradient(90deg,#de6165 0,#dd6266 188px,#b88082 285px,#9e9595 326px,#93999e 389px,#7297b9 440px,#5595d0 537px,#5595d0 712px)"></i><i style="height:2px;background:linear-gradient(90deg,#de6165 0,#db6468 188px,#b48385 285px,#9b9797 336px,#8f98a1 399px,#7397b7 450px,#5795cf 528px,#5595d0 712px)"></i><i style="height:2px;background:linear-gradient(90deg,#de6165 0,#de6165 151px,#d7676a 192px,#ae8889 289px,#9b9898 340px,#8f98a1 403px,#6496c4 500px,#5595d0 551px,#5595d0 712px)"></i><i style="height:2px;background:linear-gradient(90deg,#de6165 0,#de6165 151px,#d5696c 192px,#a09393 313px,#8d98a3 410px,#5a95cc 531px,#5595d0 594px,#5595d0 712px)"></i><i style="height:2px;background:linear-gradient(90deg,#de6165 0,#de6165 151px,#c97275 214px,#a09394 311px,#8f98a1 408px,#5d95ca 529px,#5595d0 570px,#5595d0 712px)"></i><i style="height:2px;background:linear-gradient(90deg,#de6165 0,#de6165 151px,#a29292 302px,#93999e 399px,#5695cf 550px,#5595d0 712px)"></i><i style="height:2px;background:linear-gradient(90deg,#de6165 0,#de6165 151px,#a19293 302px,#94999d 399px,#6496c4 520px,#5595d0 561px,#5595d0 712px)"></i><i style="height:2px;background:linear-gradient(90deg,#de6165 0,#de6165 151px,#a98c8d 272px,#999 350px,#8d98a3 428px,#5a95cc 549px,#5595d0 600px,#5595d0 712px)"></i><i style="height:2px;background:linear-gradient(90deg,#de6165 0,#dc6266 151px,#a88d8e 272px,#98999a 369px,#8198ac 466px,#5695cf 563px,#5595d0 712px)"></i><i style="height:2px;background:linear-gradient(90deg,#de6165 0,#db6468 151px,#a68e8f 272px,#98999a 369px,#8398ab 466px,#5795ce 563px,#5595d0 712px)"></i><i style="height:2px;background:linear-gradient(90deg,#de6165 0,#de6165 121px,#d8666a 154px,#a49091 275px,#96999c 396px,#8298ac 474px,#5695cf 571px,#5595d0 712px)"></i><i style="height:2px;background:linear-gradient(90deg,#de6165 0,#de6165 121px,#d36a6e 162px,#a88d8e 259px,#97999a 380px,#8998a6 458px,#5595d0 579px,#5595d0 712px)"></i><i style="height:2px;background:linear-gradient(90deg,#de6165 0,#de6165 121px,#cc6f72 172px,#a49091 269px,#97999b 390px,#8698a8 468px,#5595d0 589px,#5595d0 712px)"></i><i style="height:2px;background:linear-gradient(90deg,#de6165 0,#de6165 121px,#a29192 272px,#93999e 423px,#7997b3 501px,#5795cf 579px,#5595d0 712px)"></i><i style="height:2px;background:linear-gradient(90deg,#de6165 0,#de6165 121px,#aa8b8c 242px,#9a9898 339px,#8b98a4 460px,#5795ce 581px,#5595d0 712px)"></i><i style="height:2px;background:linear-gradient(90deg,#de6165 0,#de6165 121px,#a98c8d 242px,#9a9898 339px,#8c98a4 460px,#5895cd 581px,#5595d0 712px)"></i><i style="height:1.7px;background:linear-gradient(90deg,#de6165 0,#dd6165 121px,#a88d8e 242px,#999 363px,#8d98a3 460px,#5a95cc 581px,#5595d0 644px,#5595d0 712px)"></i></div>
<div class="hm" style="left:923.8px;top:1328.2px;width:712px"><i style="height:2px;background:linear-gradient(90deg,#5595d0 0,#5595d0 121px,#5a95cc 143px,#8e98a2 206px,#999 257px,#999 445px,#a09393 496px,#b18587 523px,#dd6266 574px,#de6165 712px)"></i><i style="height:2px;background:linear-gradient(90deg,#5595d0 0,#5595d0 121px,#5895ce 143px,#8d98a2 206px,#999 247px,#9b9797 482px,#aa8b8c 515px,#d96569 566px,#de6165 593px,#de6165 712px)"></i><i style="height:2px;background:linear-gradient(90deg,#5595d0 0,#5595d0 121px,#5995cc 148px,#8a98a5 199px,#999 250px,#9c9697 485px,#ae8889 518px,#dd6266 569px,#de6165 712px)"></i><i style="height:2px;background:linear-gradient(90deg,#5595d0 0,#5595d0 121px,#5795ce 148px,#8998a6 199px,#989999 240px,#9a9898 475px,#ad898a 516px,#de6165 567px,#de6165 712px)"></i><i style="height:2px;background:linear-gradient(90deg,#5595d0 0,#5795ce 151px,#8a98a5 202px,#999 243px,#9b9898 478px,#b18587 519px,#db6467 560px,#de6165 712px)"></i><i style="height:2px;background:linear-gradient(90deg,#5595d0 0,#5595d0 151px,#8998a6 202px,#999 243px,#9b9898 478px,#aa8b8c 511px,#de6165 562px,#de6165 712px)"></i><i style="height:2px;background:linear-gradient(90deg,#5595d0 0,#5595d0 151px,#8898a7 202px,#999 243px,#9b9898 478px,#ab8b8c 511px,#d96569 552px,#de6165 574px,#de6165 712px)"></i><i style="height:2px;background:linear-gradient(90deg,#5595d0 0,#5595d0 151px,#6196c6 169px,#8798a7 202px,#999 243px,#9b9898 478px,#ac8a8b 511px,#db6367 552px,#de6165 712px)"></i><i style="height:2px;background:linear-gradient(90deg,#5595d0 0,#5595d0 151px,#5c95cb 166px,#8998a6 207px,#989999 240px,#9a9898 475px,#b38486 516px,#da6468 549px,#de6165 712px)"></i><i style="height:2px;background:linear-gradient(90deg,#5595d0 0,#5595d0 151px,#5995cd 166px,#8898a7 207px,#989999 240px,#9a9898 475px,#b48384 516px,#dd6266 549px,#de6165 712px)"></i><i style="height:2px;background:linear-gradient(90deg,#5290c9 0,#5595d0 18px,#5595d0 139px,#5695cf 166px,#8798a7 207px,#989999 240px,#9a9898 475px,#b68183 516px,#de6165 549px,#de6165 700px,#d75e62 712px)"></i><i style="height:2px;background:linear-gradient(90deg,#4e89c0 0,#5595d0 27px,#5595d0 148px,#5895ce 170px,#8398ab 203px,#98999a 236px,#999 471px,#b28586 512px,#de6165 545px,#da5f63 696px,#cd595d 712px)"></i><i style="height:2px;background:linear-gradient(90deg,#4a83b6 0,#5595d0 33px,#5595d0 154px,#5795ce 172px,#8398ab 205px,#98999a 238px,#9a9898 473px,#b68183 514px,#dd6266 541px,#de6165 662px,#da5f63 684px,#c35559 712px)"></i><i style="height:2px;background:linear-gradient(90deg,#477cad 0,#5493cd 41px,#5595d0 162px,#5a95cc 177px,#8098ad 204px,#98999a 237px,#9a9999 472px,#b78183 513px,#de6165 540px,#de6165 661px,#d45d60 679px,#b85154 712px)"></i><i style="height:2px;background:linear-gradient(90deg,#4375a3 0,#5392cc 51px,#5595d0 172px,#6996c0 190px,#8298ac 208px,#999 241px,#9a9898 476px,#b58284 509px,#dd6265 536px,#dd6165 657px,#ae4c4f 712px)"></i><i style="height:2px;background:linear-gradient(90deg,#3f6e9a 0,#5493cd 63px,#5595d0 160px,#5595d0 178px,#7d97b0 205px,#98999a 238px,#9a9898 473px,#be7b7d 514px,#de6165 536px,#de6165 633px,#d85e62 651px,#a4484b 712px)"></i><i style="height:2px;background:linear-gradient(90deg,#3b6891 0,#5595d0 78px,#5595d0 175px,#5b95cb 185px,#7d97b0 207px,#989999 240px,#9a9898 475px,#c57578 516px,#de6165 531px,#de6165 628px,#d95f63 640px,#9a4346 712px)"></i><i style="height:2px;background:linear-gradient(90deg,#376187 0,#518ec7 78px,#5595d0 93px,#5595d0 171px,#5995cd 186px,#7797b5 204px,#98999a 237px,#9a9999 472px,#c2787a 513px,#dd6165 528px,#de6165 625px,#a2474a 688px,#903f42 712px)"></i><i style="height:2px;background:linear-gradient(90deg,#335a7e 0,#4d86bc 78px,#5595d0 100px,#5595d0 178px,#5895ce 188px,#7697b5 206px,#98999a 239px,#9a9898 474px,#ca7174 515px,#de6165 527px,#de6165 605px,#d95f63 620px,#a5484b 671px,#863b3d 712px)"></i><i style="height:2px;background:linear-gradient(90deg,#305374 0,#487eb1 78px,#5494ce 105px,#5595d0 183px,#5995cd 191px,#7697b5 209px,#97999b 236px,#999 471px,#b68183 498px,#d06c70 516px,#de6165 524px,#de6165 602px,#9f4548 665px,#7c3638 712px)"></i><i style="height:2px;background:linear-gradient(90deg,#2c4d6b 0,#4477a5 78px,#5595d0 119px,#5595d0 182px,#5a95cc 194px,#7c97b1 216px,#98999a 238px,#9a9898 473px,#d06c70 514px,#de6165 522px,#de6165 585px,#d85e62 600px,#964144 663px,#723234 712px)"></i><i style="height:2px;background:linear-gradient(90deg,#284661 0,#3f6f9a 78px,#518ec7 119px,#5595d0 129px,#5595d0 192px,#92999f 233px,#999 251px,#98999a 439px,#9a9898 472px,#d26b6e 513px,#de6165 520px,#de6165 583px,#d45d61 593px,#903f42 656px,#682d2f 712px)"></i><i style="height:2px;background:linear-gradient(90deg,#243f58 0,#3b678f 78px,#4c85ba 119px,#5595d0 134px,#5695cf 197px,#97999b 238px,#9a9898 473px,#da6468 514px,#de6165 577px,#9f4548 628px,#622b2c 706px,#5e292b 712px)"></i><i style="height:2px;background:linear-gradient(90deg,#20384f 0,#365f84 78px,#477cad 119px,#5595d0 141px,#5595d0 192px,#5a95cc 202px,#92999f 235px,#999 253px,#97999b 441px,#9c9797 474px,#de6165 515px,#de6165 566px,#da5f63 574px,#b04d50 601px,#743335 664px,#542526 712px)"></i><i style="height:2px;background:linear-gradient(90deg,#1c3145 0,#315779 78px,#4273a1 119px,#5392cc 146px,#5595d0 197px,#5b95cb 207px,#98999a 240px,#999 391px,#999 469px,#ab8a8b 481px,#dc6266 508px,#de6165 559px,#d85e62 567px,#a3474a 600px,#6a2e30 663px,#4a2022 712px)"></i><i style="height:2px;background:linear-gradient(90deg,#182b3c 0,#2d4f6e 78px,#4274a2 129px,#5595d0 156px,#5595d0 207px,#97999b 240px,#9a9898 303px,#97999b 454px,#9b9797 472px,#de6165 505px,#de6165 556px,#a4484b 589px,#662d2f 652px,#401c1d 712px)"></i><i style="height:2px;background:linear-gradient(90deg,#152432 0,#284763 78px,#3d6a95 129px,#5492cc 162px,#5795ce 213px,#96999b 240px,#9d9696 281px,#95999c 432px,#9e9595 473px,#d4696c 495px,#de6165 503px,#de6165 544px,#d65e61 552px,#9c4447 585px,#682d2f 636px,#361718 712px)"></i><i style="height:2px;background:linear-gradient(90deg,#111d29 0,#243f58 78px,#376187 129px,#5392cc 170px,#5595d0 203px,#5895cd 218px,#7f97ae 233px,#999 243px,#9d9696 294px,#94999d 445px,#9e9596 472px,#d26b6e 490px,#de6165 498px,#de6165 539px,#954144 580px,#682e2f 621px,#2c1314 712px)"></i><i style="height:2px;background:linear-gradient(90deg,#0d161f 0,#1f374c 78px,#32577a 129px,#4c85ba 170px,#5595d0 182px,#5595d0 215px,#5a95cc 223px,#7f97ae 235px,#989999 243px,#a09494 276px,#93999e 427px,#96999b 460px,#9b9797 470px,#d6676b 488px,#de6165 495px,#de6165 528px,#d65e61 535px,#8c3d40 576px,#5f2a2b 617px,#2b1313 695px,#210f0f 712px)"></i><i style="height:2px;background:linear-gradient(90deg,#091016 0,#20394f 97px,#315677 138px,#4c85ba 179px,#5595d0 191px,#5595d0 224px,#7297b8 234px,#9a9898 244px,#a29293 271px,#98999a 392px,#92999f 455px,#9d9696 470px,#d96569 485px,#de6165 492px,#da5f63 525px,#984245 558px,#622b2d 599px,#2a1213 677px,#170a0b 712px)"></i><i style="height:2px;background:linear-gradient(90deg,#080d12 0,#0d1721 41px,#233d55 119px,#376188 160px,#4b84b8 187px,#5595d0 199px,#5595d0 226px,#5b95cb 231px,#96999c 243px,#9e9595 249px,#a49091 271px,#999 368px,#8e98a2 446px,#97999b 468px,#d4696c 480px,#de6165 485px,#de6165 512px,#d65e61 518px,#9c4447 545px,#622b2d 586px,#301516 649px,#15090a 700px,#140909 712px)"></i><i style="height:2px;background:linear-gradient(90deg,#060b10 0,#0b141c 51px,#213b52 129px,#376086 170px,#4c85ba 197px,#5595d0 207px,#5895ce 234px,#8a98a5 242px,#9e9595 244px,#a88d8e 266px,#999 344px,#93999e 407px,#8a98a5 448px,#93999e 466px,#94999d 468px,#b08688 471px,#db6367 478px,#de6165 505px,#964144 538px,#5c282a 579px,#291213 642px,#150909 683px,#110708 712px)"></i><i style="height:2px;background:linear-gradient(90deg,#060a0d 0,#0a1118 63px,#1b2f42 126px,#345b7f 177px,#4f8bc2 210px,#5595d0 216px,#5995cd 238px,#8598a9 243px,#a49091 244px,#ac8a8b 266px,#999 344px,#91999f 407px,#8598a9 448px,#8c98a4 466px,#8e98a2 468px,#ad888a 469px,#da6468 474px,#de6165 496px,#924042 529px,#572628 570px,#2b1313 621px,#150909 662px,#0e0607 712px)"></i><i style="height:2px;background:linear-gradient(90deg,#05080b 0,#090f15 78px,#1b2f42 141px,#2f5374 182px,#4980b3 215px,#5595d0 225px,#5595d0 240px,#5b95cb 242px,#6896c1 243px,#b48385 244px,#b28586 266px,#999 344px,#94999d 395px,#7e97af 458px,#7f97ae 468px,#cb7174 469px,#de6165 471px,#da5f63 489px,#ad4c4f 504px,#713133 537px,#361819 588px,#15090a 639px,#0c0505 712px)"></i><i style="height:2px;background:linear-gradient(90deg,#040709 0,#080f15 97px,#182a3a 148px,#2c4c6b 189px,#3e6c97 216px,#4e89bf 231px,#5595d0 241px,#5595d0 243px,#d96569 244px,#c47678 252px,#ac8a8b 293px,#999 344px,#92999f 395px,#7097ba 458px,#6396c5 466px,#5a95cc 468px,#de6165 469px,#d85e62 474px,#c6565a 484px,#9b4446 499px,#592729 540px,#261111 591px,#140909 624px,#0a0405 712px)"></i><i style="height:2px;background:linear-gradient(90deg,#030508 0,#091017 121px,#213950 184px,#32577a 217px,#3c6993 229px,#32587b 237px,#294864 240px,#1c3144 242px,#101c28 243px,#a8494c 244px,#de6165 245px,#d96568 253px,#ba7e80 275px,#9a9898 338px,#92999f 389px,#7697b5 440px,#5595d0 462px,#5595d0 467px,#40719d 468px,#2a1213 469px,#492021 470px,#6b2f30 472px,#893c3e 476px,#9d4547 483px,#793537 501px,#3b1a1b 552px,#170a0a 593px,#080404 712px)"></i><i style="height:2px;background:linear-gradient(90deg,#020406 0,#070c11 121px,#0c141c 148px,#1b2f42 189px,#233e56 211px,#2b4b69 229px,#1c3145 235px,#080f14 239px,#070c11 243px,#130809 244px,#160a0a 246px,#672d2f 247px,#a04649 248px,#cb595c 249px,#de6165 250px,#dd6165 260px,#c2787a 275px,#9b9798 338px,#95999c 379px,#6a96bf 442px,#5595d0 454px,#5595d0 462px,#4e88be 463px,#3d6b96 464px,#274560 465px,#080f15 466px,#070d12 468px,#120808 469px,#160a0a 473px,#4a2021 477px,#703133 483px,#451e1f 524px,#160a0a 575px,#060303 712px)"></i><i style="height:2px;background:linear-gradient(90deg,#020305 0,#080e13 151px,#172939 202px,#1a2d3f 229px,#080f15 234px,#050a0d 242px,#05090d 243px,#100707 245px,#140909 248px,#1e0d0e 249px,#753335 251px,#de6165 254px,#de6165 266px,#c67577 281px,#9a9898 344px,#94999d 377px,#6f97bb 428px,#5b95cb 443px,#5595d0 451px,#5595d0 458px,#2d4f6e 461px,#0b141c 463px,#070c11 465px,#050a0d 468px,#0e0607 470px,#160a0a 478px,#431d1f 483px,#38191a 516px,#15090a 557px,#060303 678px,#050202 712px)"></i><i style="height:2px;background:linear-gradient(90deg,#010203 0,#060a0e 151px,#0b141b 192px,#0d1821 204px,#05090d 237px,#040709 243px,#0c0506 246px,#15090a 252px,#2d1414 253px,#974245 256px,#d25c60 258px,#de6165 259px,#dc6367 274px,#ca7174 289px,#9d9696 340px,#94999d 373px,#5c95cb 436px,#5595d0 443px,#5595d0 453px,#518dc5 454px,#20374d 458px,#111e2a 459px,#080e14 460px,#04070a 468px,#0b0505 471px,#220f0f 504px,#210e0f 516px,#140909 538px,#050202 659px,#040202 712px)"></i><i style="height:2px;background:linear-gradient(90deg,#010202 0,#04070a 151px,#070b10 214px,#030507 241px,#100707 253px,#160a0a 256px,#934043 260px,#dc6064 263px,#da6468 285px,#9a9898 348px,#93999e 370px,#5e96c8 421px,#5595d0 439px,#5493ce 449px,#38638a 452px,#080f15 456px,#030507 468px,#100707 490px,#0f0607 531px,#020101 712px)"></i><i style="height:2px;background:linear-gradient(90deg,#010101 0,#04070a 188px,#020405 239px,#100707 257px,#140909 259px,#1f0e0e 260px,#3e1b1c 261px,#a7494c 266px,#db6064 268px,#da6468 301px,#b18587 334px,#9a9898 352px,#92999f 367px,#6496c4 400px,#5595d0 418px,#5595d0 440px,#5493cd 444px,#2f5272 448px,#182a3a 451px,#0c151d 452px,#080e13 453px,#050202 471px,#0b0505 522px,#020101 712px)"></i><i style="height:2px;background:linear-gradient(90deg,#000101 0,#010203 235px,#090404 257px,#16090a 265px,#39191a 267px,#9c4447 271px,#da5f63 273px,#de6165 314px,#bc7c7e 336px,#9a9898 354px,#8c98a4 366px,#6196c7 388px,#5595d0 400px,#5595d0 433px,#5392cc 439px,#315678 442px,#0e1922 446px,#080f14 447px,#020304 462px,#040202 559px,#010000 712px)"></i><i style="height:2px;background:linear-gradient(90deg,#000 0,#010102 235px,#070303 262px,#180a0b 272px,#6b2f31 275px,#d95f63 278px,#de6165 281px,#dd6266 332px,#9f9495 354px,#7197b9 369px,#5595d0 381px,#5595d0 432px,#5391cb 434px,#294864 437px,#091016 440px,#030507 450px,#020101 491px,#000 712px)"></i><i style="height:2px;background:linear-gradient(90deg,#000 0,#000 235px,#030101 268px,#0b0505 276px,#120808 278px,#733234 288px,#cf5a5e 295px,#de6165 296px,#dd6266 347px,#b18687 355px,#aa8b8c 356px,#8198ac 357px,#5695cf 365px,#5595d0 416px,#305576 423px,#12202c 431px,#05090d 435px,#010102 447px,#000 712px)"></i><i style="height:2px;background:linear-gradient(90deg,#000 0,#000001 293px,#04070a 334px,#090f15 341px,#162737 345px,#2a4a67 348px,#345c80 349px,#4274a2 350px,#5595d0 351px,#5595d0 356px,#de6165 357px,#de6165 361px,#ac4b4e 362px,#893c3e 363px,#592729 365px,#2f1516 368px,#160a0a 371px,#070303 383px,#000 480px,#000 712px)"></i><i style="height:2px;background:linear-gradient(90deg,#000 0,#000 235px,#020304 268px,#060a0e 276px,#070d12 277px,#0d1720 278px,#192c3d 279px,#376086 287px,#5595d0 293px,#5595d0 344px,#7697b5 352px,#8d98a3 356px,#ab8a8c 357px,#dc6366 367px,#de6165 418px,#de6165 419px,#843a3c 426px,#411d1e 433px,#220f10 434px,#130809 435px,#050202 443px,#000 678px,#000 712px)"></i><i style="height:2px;background:linear-gradient(90deg,#000 0,#020101 235px,#030608 262px,#070d12 270px,#091016 271px,#274561 274px,#4f8bc2 277px,#5595d0 278px,#5595d0 329px,#8198ac 347px,#9c9797 357px,#d7676b 379px,#de6165 387px,#de6165 428px,#de6165 434px,#cf5a5e 435px,#672d2f 438px,#180a0b 441px,#070303 451px,#010203 484px,#000 712px)"></i><i style="height:2px;background:linear-gradient(90deg,#010000 0,#040202 235px,#040609 257px,#080f14 264px,#1e3449 267px,#4578a8 271px,#508dc5 272px,#5595d0 273px,#5795ce 314px,#7997b3 336px,#98999a 354px,#a58f90 366px,#d6686b 393px,#de6165 405px,#de6165 438px,#de6165 439px,#d25c60 440px,#7d3739 443px,#241010 447px,#16090a 448px,#040202 463px,#020304 560px,#000101 712px)"></i><i style="height:2px;background:linear-gradient(90deg,#020101 0,#0b0505 188px,#060303 239px,#05080b 254px,#080f14 259px,#1e354a 261px,#477daf 266px,#518fc7 267px,#5595d0 268px,#5695cf 295px,#7997b3 328px,#97999a 350px,#a09393 368px,#ce6e71 401px,#de6165 423px,#de6165 441px,#de6165 444px,#d45d61 445px,#773436 449px,#4f2224 451px,#16090a 453px,#050202 468px,#05080b 501px,#010102 712px)"></i><i style="height:2px;background:linear-gradient(90deg,#030101 0,#0b0505 151px,#120808 214px,#080404 241px,#05080b 249px,#080e14 255px,#0f1a25 256px,#3f6e9a 260px,#5290c8 262px,#5595d0 264px,#5895cd 282px,#96999b 345px,#a09394 372px,#d4696c 423px,#de6165 441px,#de6165 449px,#d65d61 450px,#883b3e 453px,#271112 456px,#15090a 457px,#030507 469px,#070c11 502px,#010203 690px,#010202 712px)"></i><i style="height:2px;background:linear-gradient(90deg,#040202 0,#0f0707 151px,#1a0b0c 184px,#281112 202px,#1d0d0d 229px,#130809 232px,#0b0505 242px,#05090c 246px,#0a1219 252px,#355d81 255px,#4d87bc 257px,#5595d0 258px,#5795ce 273px,#6796c1 285px,#999 348px,#9f9494 375px,#cb7174 426px,#de6165 441px,#de6165 453px,#de6165 454px,#c8585b 455px,#682d2f 458px,#1b0c0c 460px,#0e0606 465px,#0b0505 468px,#04070a 470px,#080f14 482px,#0b141c 484px,#0f1b25 511px,#080e13 538px,#020405 659px,#010304 712px)"></i><i style="height:2px;background:linear-gradient(90deg,#050202 0,#0e0607 121px,#1c0c0d 162px,#411c1e 203px,#481f21 225px,#4a2022 229px,#16090a 235px,#0e0606 243px,#060a0e 244px,#080e14 248px,#152534 249px,#365f84 251px,#518ec7 253px,#5595d0 254px,#5695cf 266px,#6e96bb 281px,#98999a 344px,#9e9595 377px,#c2787a 428px,#d5686c 443px,#de6165 450px,#de6165 458px,#d45d61 459px,#652c2e 462px,#381819 463px,#15090a 464px,#0f0707 468px,#050a0d 469px,#080f14 477px,#1c3245 483px,#172838 516px,#090f15 557px,#020406 678px,#020305 712px)"></i><i style="height:2px;background:linear-gradient(90deg,#070303 0,#130809 121px,#210e0f 148px,#4a2021 189px,#602a2c 211px,#773436 229px,#542526 235px,#301516 238px,#1e0d0e 239px,#140909 241px,#130808 243px,#070d12 244px,#080e14 245px,#182a3b 246px,#355c81 247px,#4980b2 248px,#5595d0 249px,#5695cf 259px,#7197b9 274px,#97999b 337px,#9c9697 378px,#c57578 441px,#de6165 456px,#de6165 463px,#be5356 464px,#8a3c3f 465px,#3f1c1d 466px,#15090a 467px,#130809 468px,#070c11 469px,#080e14 472px,#0c141c 473px,#1c3245 476px,#2a4a67 481px,#2d4f6e 484px,#0d1720 562px,#070d12 589px,#030406 712px)"></i><i style="height:2px;background:linear-gradient(90deg,#080404 0,#120808 97px,#1d0c0d 124px,#4d2223 175px,#853a3d 216px,#a14649 228px,#9d4547 233px,#843a3c 239px,#713133 241px,#612b2c 242px,#4a2021 243px,#5595d0 244px,#5795cf 251px,#6d96bc 263px,#8198ac 290px,#999 341px,#9d9696 382px,#c0797c 445px,#de6165 463px,#de6165 468px,#1c3145 469px,#2b4c6a 471px,#376187 475px,#3f6e9a 483px,#305476 501px,#172939 552px,#0a1117 593px,#030608 712px)"></i><i style="height:2px;background:linear-gradient(90deg,#0a0405 0,#180a0b 97px,#411c1d 148px,#753335 189px,#a6484b 216px,#d35c60 231px,#de6165 239px,#de6165 243px,#6296c5 244px,#7497b7 256px,#98999a 334px,#a19393 397px,#c1787b 460px,#d16c6f 468px,#5595d0 469px,#5493cd 477px,#4d86bc 485px,#3c6993 500px,#233d55 541px,#0f1a25 592px,#080e13 625px,#04070a 712px)"></i><i style="height:2px;background:linear-gradient(90deg,#0c0506 0,#180b0b 78px,#492021 141px,#7f373a 182px,#c35559 215px,#de6165 223px,#dd6266 241px,#c47678 243px,#8298ac 244px,#8298ac 266px,#999 344px,#9e9595 395px,#b38486 458px,#b08687 468px,#6e96bc 469px,#5695cf 471px,#5595d0 489px,#4173a0 507px,#2b4b68 540px,#152432 591px,#080e14 642px,#05080c 712px)"></i><i style="height:2px;background:linear-gradient(90deg,#0f0607 0,#1b0c0c 63px,#482021 126px,#7b3638 167px,#ac4b4e 194px,#d95f63 212px,#de6165 222px,#dd6266 237px,#ab8b8c 243px,#8f98a1 244px,#8798a8 266px,#999 344px,#a09393 407px,#ac8a8b 448px,#a58f90 466px,#a39192 468px,#8798a7 469px,#5695cf 475px,#5595d0 497px,#38638a 530px,#1e3448 581px,#0b141c 644px,#060b10 695px,#060a0e 712px)"></i><i style="height:2px;background:linear-gradient(90deg,#110808 0,#1a0b0c 41px,#4f2324 119px,#82393b 160px,#b24e51 187px,#de6165 205px,#de6165 232px,#c37779 238px,#95999c 244px,#8b98a4 266px,#999 344px,#9f9495 407px,#a88d8e 448px,#9f9495 466px,#9d9696 468px,#6a96bf 475px,#5595d0 480px,#5595d0 507px,#39648c 540px,#233d56 581px,#101c27 644px,#080e14 685px,#070c10 712px)"></i><i style="height:2px;background:linear-gradient(90deg,#140909 0,#241011 41px,#5d282a 119px,#934043 160px,#c8575b 187px,#de6165 197px,#de6165 224px,#da6568 230px,#a09394 242px,#96999b 246px,#8e98a2 268px,#999 365px,#a49091 443px,#9c9696 465px,#96999b 469px,#5d95ca 481px,#5595d0 486px,#5595d0 513px,#518ec7 520px,#3c6892 547px,#26425c 588px,#0f1a25 666px,#080d13 712px)"></i><i style="height:2px;background:linear-gradient(90deg,#190b0b 0,#481f21 78px,#763436 129px,#b75053 170px,#de6165 188px,#de6165 221px,#d7676a 227px,#9d9696 242px,#9199a0 269px,#9f9495 420px,#a19393 453px,#9a9898 468px,#7497b7 478px,#5595d0 488px,#5595d0 521px,#528fc8 528px,#39648c 561px,#25425c 602px,#101c27 680px,#0a1117 712px)"></i><i style="height:2px;background:linear-gradient(90deg,#230f10 0,#532426 78px,#843a3c 129px,#ca585c 170px,#de6165 180px,#dc6367 221px,#ba7e80 233px,#9a9999 243px,#93999e 276px,#9f9495 427px,#999 468px,#8498aa 476px,#5e96c9 488px,#5595d0 495px,#5595d0 528px,#5392cb 535px,#365f85 576px,#25415b 617px,#0d1721 712px)"></i><i style="height:2px;background:linear-gradient(90deg,#2d1414 0,#5f2a2b 78px,#924043 129px,#cb595c 162px,#de6165 172px,#de6165 213px,#d36a6d 221px,#a09494 239px,#98999a 251px,#98999a 314px,#9e9595 435px,#999 468px,#8998a6 476px,#6096c7 491px,#5595d0 499px,#5595d0 540px,#39648c 581px,#25415b 632px,#111e2a 712px)"></i><i style="height:2px;background:linear-gradient(90deg,#371819 0,#6b2f31 78px,#a14649 129px,#dd6064 162px,#db6467 213px,#9c9797 240px,#96999b 291px,#9d9696 442px,#999 469px,#8598a9 479px,#5595d0 501px,#5595d0 542px,#5391cb 552px,#3c6a94 585px,#25405a 648px,#152534 712px)"></i><i style="height:2px;background:linear-gradient(90deg,#411c1e 0,#773436 78px,#a04649 119px,#d85f62 152px,#de6165 162px,#de6165 203px,#d36a6d 213px,#9b9798 240px,#98999a 303px,#9b9798 454px,#97999b 472px,#5595d0 505px,#5595d0 556px,#3c6892 597px,#26425c 660px,#192c3d 712px)"></i><i style="height:2px;background:linear-gradient(90deg,#4b2122 0,#83393c 78px,#ae4c4f 119px,#dc6064 146px,#de6165 197px,#d7676a 207px,#9a9898 240px,#999 391px,#999 469px,#8898a7 481px,#5795ce 508px,#5595d0 559px,#5492cc 567px,#3f6f9b 600px,#294864 663px,#1d3246 712px)"></i><i style="height:2px;background:linear-gradient(90deg,#552527 0,#8f3e41 78px,#bb5255 119px,#de6165 141px,#de6165 192px,#d8666a 202px,#a09394 235px,#999 253px,#9b9798 441px,#96999b 474px,#5595d0 515px,#5595d0 566px,#5391cb 576px,#4376a4 603px,#2c4e6d 666px,#213950 712px)"></i><i style="height:2px;background:linear-gradient(90deg,#5f2a2b 0,#9b4446 78px,#c9585b 119px,#de6165 134px,#dc6367 197px,#9b9797 238px,#98999a 473px,#5a95cc 514px,#5595d0 529px,#5595d0 580px,#40719d 621px,#2c4c6b 684px,#254059 712px)"></i><i style="height:2px;background:linear-gradient(90deg,#692e30 0,#a6494c 78px,#d65e61 119px,#de6165 129px,#de6165 192px,#a09394 233px,#999 251px,#9a9898 439px,#98999a 472px,#6196c6 513px,#5595d0 521px,#5595d0 584px,#508dc5 596px,#376086 659px,#284763 712px)"></i><i style="height:2px;background:linear-gradient(90deg,#743235 0,#b24e51 78px,#d95f63 111px,#de6165 129px,#dc6266 192px,#be7b7d 210px,#9b9797 237px,#98999a 472px,#6696c2 513px,#5595d0 523px,#5595d0 586px,#5392cb 601px,#3a658d 664px,#2c4e6c 712px)"></i><i style="height:2px;background:linear-gradient(90deg,#7e3739 0,#be5357 78px,#de6165 105px,#de6165 183px,#da6568 191px,#bc7d7f 209px,#9b9797 236px,#999 471px,#7d97b0 498px,#6396c4 516px,#5595d0 526px,#5595d0 604px,#3d6b95 667px,#305476 712px)"></i><i style="height:2px;background:linear-gradient(90deg,#883b3e 0,#ba5155 63px,#de6165 96px,#de6165 174px,#d96569 189px,#bb7d7f 207px,#9a9999 240px,#98999a 475px,#6796c1 516px,#5595d0 528px,#5595d0 606px,#5392cc 621px,#406f9b 672px,#345b7f 712px)"></i><i style="height:2px;background:linear-gradient(90deg,#924042 0,#c5565a 63px,#de6165 85px,#de6165 182px,#b68283 209px,#9b9898 236px,#999 471px,#7b97b1 504px,#6096c7 522px,#5595d0 532px,#5494ce 629px,#3e6c97 692px,#386289 712px)"></i><i style="height:2px;background:linear-gradient(90deg,#9c4447 0,#de6165 78px,#de6165 175px,#d8666a 185px,#b58284 207px,#9a9999 240px,#98999a 475px,#6e96bc 516px,#5595d0 534px,#5595d0 631px,#518ec7 646px,#3c6992 712px)"></i><i style="height:2px;background:linear-gradient(90deg,#a6484b 0,#dc6064 63px,#de6165 160px,#de6165 178px,#b58284 205px,#9a9898 238px,#98999a 473px,#7597b6 514px,#5595d0 536px,#5595d0 633px,#5392cc 651px,#406f9b 712px)"></i><i style="height:2px;background:linear-gradient(90deg,#b04d50 0,#db6064 51px,#de6165 172px,#c2787a 194px,#a98c8d 216px,#999 243px,#97999b 478px,#7c97b0 511px,#5595d0 538px,#5594cf 659px,#4376a5 712px)"></i><i style="height:2px;background:linear-gradient(90deg,#ba5155 0,#dd6165 41px,#de6165 162px,#d86669 177px,#b28586 204px,#9a9898 237px,#989999 472px,#7c97b0 513px,#5595d0 540px,#5595d0 661px,#528fc8 679px,#477dae 712px)"></i><i style="height:2px;background:linear-gradient(90deg,#c45659 0,#de6165 33px,#de6165 154px,#db6367 172px,#af8788 205px,#9a9898 238px,#98999a 473px,#7c97b0 514px,#5795cf 541px,#5595d0 662px,#5494ce 684px,#4b84b8 712px)"></i><i style="height:2px;background:linear-gradient(90deg,#ce5a5e 0,#de6165 22px,#de6165 143px,#db6468 170px,#af8788 203px,#9a9898 236px,#999 471px,#8198ac 512px,#5595d0 545px,#5493ce 696px,#4f8ac1 712px)"></i><i style="height:2px;background:linear-gradient(90deg,#d85e62 0,#de6165 22px,#de6165 143px,#dd6266 165px,#ac8a8b 206px,#9a9898 239px,#98999a 474px,#7e97af 515px,#5595d0 548px,#5595d0 699px,#5391cb 712px)"></i><i style="height:2px;background:linear-gradient(90deg,#de6165 0,#de6165 151px,#da6568 166px,#aa8b8c 207px,#9a9999 240px,#98999a 475px,#7e97af 516px,#5695cf 549px,#5595d0 712px)"></i><i style="height:2px;background:linear-gradient(90deg,#de6165 0,#de6165 151px,#d7676a 166px,#a98c8d 207px,#9a9999 240px,#98999a 475px,#8098ad 516px,#5995cd 549px,#5595d0 712px)"></i><i style="height:2px;background:linear-gradient(90deg,#de6165 0,#de6165 151px,#cd6f72 173px,#a88c8d 206px,#999 247px,#96999b 482px,#8398ab 515px,#5595d0 556px,#5595d0 712px)"></i><i style="height:2px;background:linear-gradient(90deg,#de6165 0,#de6165 151px,#aa8b8c 202px,#999 243px,#97999a 478px,#8898a7 511px,#5b95cb 552px,#5595d0 574px,#5595d0 712px)"></i><i style="height:2px;background:linear-gradient(90deg,#de6165 0,#de6165 151px,#a98c8d 202px,#999 243px,#97999a 478px,#8998a6 511px,#5595d0 562px,#5595d0 712px)"></i><i style="height:2px;background:linear-gradient(90deg,#de6165 0,#db6367 151px,#a88d8e 202px,#999 243px,#97999a 478px,#8198ac 519px,#5895cd 560px,#5595d0 712px)"></i><i style="height:2px;background:linear-gradient(90deg,#de6165 0,#de6165 121px,#db6367 148px,#a98c8d 199px,#9a9999 240px,#98999a 475px,#8698a9 516px,#5595d0 567px,#5595d0 712px)"></i><i style="height:2px;background:linear-gradient(90deg,#de6165 0,#de6165 121px,#d96569 148px,#a98c8d 199px,#999 250px,#96999c 485px,#8498aa 518px,#5695cf 569px,#5595d0 712px)"></i><i style="height:2px;background:linear-gradient(90deg,#de6165 0,#de6165 121px,#db6467 143px,#a58f90 206px,#999 247px,#97999b 482px,#8898a6 515px,#5a95cc 566px,#5595d0 593px,#5595d0 712px)"></i><i style="height:1.7px;background:linear-gradient(90deg,#de6165 0,#de6165 121px,#d96569 143px,#a49090 206px,#999 257px,#999 445px,#92999f 496px,#8198ac 523px,#5795cf 574px,#5595d0 712px)"></i></div>
<div class="hm" style="left:923.8px;top:1555.1px;width:712px"><i style="height:2px;background:linear-gradient(90deg,#5595d0 0,#5595d0 188px,#95999d 339px,#ad898a 417px,#d96569 514px,#de6165 555px,#de6165 712px)"></i><i style="height:2px;background:linear-gradient(90deg,#5595d0 0,#5595d0 188px,#95999d 339px,#ad898a 417px,#da6468 514px,#de6165 712px)"></i><i style="height:2px;background:linear-gradient(90deg,#5595d0 0,#5595d0 188px,#95999d 339px,#ad898a 417px,#db6367 514px,#de6165 712px)"></i><i style="height:2px;background:linear-gradient(90deg,#5595d0 0,#5595d0 188px,#95999d 339px,#ae8889 417px,#dd6266 514px,#de6165 712px)"></i><i style="height:2px;background:linear-gradient(90deg,#5595d0 0,#5595d0 188px,#6996c0 239px,#94999d 336px,#a68e8f 399px,#de6165 520px,#de6165 712px)"></i><i style="height:2px;background:linear-gradient(90deg,#5595d0 0,#5595d0 188px,#5f96c8 221px,#95999c 342px,#a98c8d 405px,#d96568 502px,#de6165 580px,#de6165 712px)"></i><i style="height:2px;background:linear-gradient(90deg,#5595d0 0,#5595d0 188px,#5e96c9 221px,#95999c 342px,#a98c8d 405px,#db6467 502px,#de6165 712px)"></i><i style="height:2px;background:linear-gradient(90deg,#5595d0 0,#5595d0 188px,#5c95ca 221px,#95999c 342px,#aa8c8d 405px,#dc6266 502px,#de6165 712px)"></i><i style="height:2px;background:linear-gradient(90deg,#5595d0 0,#5595d0 188px,#5b95cb 221px,#95999c 342px,#aa8b8c 405px,#de6165 502px,#de6165 712px)"></i><i style="height:2px;background:linear-gradient(90deg,#5595d0 0,#5595d0 188px,#5995cd 221px,#95999c 342px,#aa8b8c 405px,#de6165 502px,#de6165 712px)"></i><i style="height:2px;background:linear-gradient(90deg,#5595d0 0,#5595d0 188px,#5895ce 221px,#95999c 342px,#ab8b8c 405px,#de6165 502px,#de6165 712px)"></i><i style="height:2px;background:linear-gradient(90deg,#5595d0 0,#5595d0 188px,#5a95cc 229px,#9098a0 326px,#9f9495 377px,#de6165 498px,#de6165 712px)"></i><i style="height:2px;background:linear-gradient(90deg,#5595d0 0,#5595d0 188px,#5995cd 229px,#9098a0 326px,#9f9495 377px,#d5686c 474px,#de6165 501px,#de6165 712px)"></i><i style="height:2px;background:linear-gradient(90deg,#5290c9 0,#5595d0 15px,#5595d0 203px,#5b95cb 236px,#93999e 333px,#a19293 384px,#db6367 481px,#de6165 669px,#de6165 702px,#d65e61 712px)"></i><i style="height:2px;background:linear-gradient(90deg,#4e89bf 0,#5595d0 22px,#5595d0 210px,#5995cc 237px,#93999e 334px,#a29292 385px,#de6165 482px,#de6165 670px,#db6063 697px,#cc595d 712px)"></i><i style="height:2px;background:linear-gradient(90deg,#4a82b6 0,#5595d0 33px,#5595d0 221px,#5e96c9 248px,#8f98a1 326px,#9f9495 377px,#db6467 474px,#de6165 662px,#dd6165 684px,#c25558 712px)"></i><i style="height:2px;background:linear-gradient(90deg,#467cac 0,#5595d0 41px,#5595d0 229px,#7897b3 292px,#96999c 343px,#a88d8e 394px,#dc6367 472px,#de6165 660px,#d95f63 678px,#b85054 712px)"></i><i style="height:2px;background:linear-gradient(90deg,#4375a3 0,#5595d0 51px,#5595d0 239px,#94999d 336px,#a49091 387px,#d96569 465px,#de6165 516px,#de6165 637px,#dc6064 664px,#ae4c4f 712px)"></i><i style="height:2px;background:linear-gradient(90deg,#3f6e9a 0,#5595d0 63px,#5595d0 214px,#5795ce 247px,#8e98a2 325px,#9f9595 376px,#de6165 473px,#de6165 624px,#de6165 651px,#a4484b 712px)"></i><i style="height:2px;background:linear-gradient(90deg,#3b6790 0,#528fc8 63px,#5595d0 75px,#5595d0 226px,#5995cd 253px,#91999f 331px,#a29293 382px,#db6468 460px,#de6165 611px,#dc6064 644px,#9a4346 712px)"></i><i style="height:2px;background:linear-gradient(90deg,#376187 0,#4d87bd 63px,#5595d0 85px,#5595d0 236px,#5a95cc 258px,#93999e 336px,#9f9494 377px,#da6468 455px,#de6165 606px,#dc6064 633px,#9d4447 696px,#903f41 712px)"></i><i style="height:2px;background:linear-gradient(90deg,#335a7d 0,#4f8ac1 78px,#5595d0 93px,#5595d0 244px,#5c95ca 266px,#8f98a1 329px,#a19393 380px,#de6165 458px,#de6165 609px,#da5f63 624px,#994346 687px,#863a3d 712px)"></i><i style="height:2px;background:linear-gradient(90deg,#2f5374 0,#4a82b5 78px,#5595d0 100px,#5595d0 251px,#6296c5 278px,#95999c 341px,#a39192 382px,#d86669 445px,#de6165 472px,#de6165 593px,#da5f63 615px,#a14649 666px,#7c3638 712px)"></i><i style="height:2px;background:linear-gradient(90deg,#2b4c6a 0,#4579a9 78px,#5595d0 111px,#5595d0 262px,#95999d 340px,#a29192 381px,#da6468 444px,#de6165 595px,#d85f62 607px,#a6494c 648px,#723234 712px)"></i><i style="height:2px;background:linear-gradient(90deg,#284561 0,#40719d 78px,#5595d0 119px,#5795ce 270px,#9199a0 333px,#9e9595 374px,#d86669 437px,#de6165 459px,#de6165 580px,#dd6165 595px,#a6494c 636px,#682d2f 712px)"></i><i style="height:2px;background:linear-gradient(90deg,#243f58 0,#3b6892 78px,#5595d0 129px,#5595d0 250px,#5995cc 277px,#94999d 340px,#a49091 381px,#d7676a 432px,#de6165 450px,#de6165 571px,#dd6164 586px,#a2474a 627px,#622b2d 705px,#5d292b 712px)"></i><i style="height:2px;background:linear-gradient(90deg,#20384e 0,#376086 78px,#4a82b6 119px,#5595d0 137px,#5595d0 258px,#5995cd 280px,#8e98a2 331px,#9e9595 372px,#dd6266 435px,#de6165 556px,#db6064 578px,#9e4548 619px,#672d2f 682px,#532426 712px)"></i><i style="height:2px;background:linear-gradient(90deg,#1c3145 0,#32577a 78px,#4478a7 119px,#5595d0 146px,#5595d0 267px,#5a95cc 285px,#91999f 336px,#a19293 377px,#da6468 428px,#de6165 549px,#de6165 567px,#9e4548 608px,#6d3031 659px,#492021 712px)"></i><i style="height:2px;background:linear-gradient(90deg,#182a3b 0,#2d4f6e 78px,#4477a7 129px,#5595d0 156px,#5595d0 277px,#5d95ca 292px,#8e98a2 333px,#a09494 374px,#db6367 425px,#de6165 546px,#dc6064 558px,#9b4447 599px,#682d2f 650px,#3f1c1d 712px)"></i><i style="height:2px;background:linear-gradient(90deg,#142432 0,#284662 78px,#3e6d98 129px,#5391cb 162px,#5595d0 172px,#5595d0 269px,#5895ce 291px,#94999d 342px,#a19293 375px,#de6165 426px,#de6165 547px,#8e3e40 598px,#5d282a 649px,#351718 712px)"></i><i style="height:2px;background:linear-gradient(90deg,#111d28 0,#233e56 78px,#386289 129px,#518ec7 170px,#5595d0 178px,#5595d0 275px,#5695cf 293px,#8c98a3 334px,#9d9596 367px,#b08688 385px,#dc6367 418px,#de6165 515px,#de6165 537px,#994346 578px,#602a2c 629px,#2b1314 712px)"></i><i style="height:2px;background:linear-gradient(90deg,#0d161f 0,#1e354a 78px,#32577a 129px,#4981b4 170px,#5595d0 185px,#5595d0 282px,#5995cc 300px,#92999f 341px,#a29292 374px,#dd6266 415px,#de6165 512px,#de6165 527px,#a2474a 560px,#622b2d 611px,#2c1314 689px,#210e0f 712px)"></i><i style="height:2px;background:linear-gradient(90deg,#090f16 0,#192c3e 78px,#2c4c6b 129px,#4273a1 170px,#5595d0 197px,#5595d0 294px,#5c95ca 306px,#8f98a1 339px,#a29292 372px,#de6165 413px,#de6165 510px,#dc6064 518px,#9d4547 551px,#5d292a 602px,#2f1415 665px,#170a0a 712px)"></i><i style="height:2px;background:linear-gradient(90deg,#070d12 0,#0c151e 41px,#1c3144 104px,#325779 155px,#467bac 188px,#5595d0 206px,#5595d0 303px,#7e97af 330px,#9098a0 342px,#a29293 369px,#b88081 384px,#dc6266 406px,#de6165 503px,#d55d61 510px,#964144 543px,#562627 594px,#271112 657px,#130809 708px,#130809 712px)"></i><i style="height:2px;background:linear-gradient(90deg,#060a0f 0,#0a1118 51px,#1a2d3f 114px,#2f5374 165px,#4579a9 198px,#5595d0 216px,#5595d0 294px,#5995cd 312px,#8b98a4 339px,#9e9596 361px,#ac8a8b 376px,#de6165 403px,#de6165 481px,#de6165 496px,#984245 529px,#602a2c 570px,#311516 621px,#15090a 672px,#100707 712px)"></i><i style="height:2px;background:linear-gradient(90deg,#05080c 0,#0b131a 78px,#1e3449 141px,#315678 182px,#4980b2 215px,#5595d0 227px,#5595d0 305px,#5b95cb 317px,#8898a7 339px,#95999c 354px,#b08688 376px,#dd6266 398px,#de6165 476px,#dc6064 486px,#9d4548 513px,#602a2c 554px,#261111 617px,#140909 658px,#0d0606 712px)"></i><i style="height:2px;background:linear-gradient(90deg,#040709 0,#0a1218 97px,#1e354a 160px,#345b7f 201px,#4a82b5 228px,#5595d0 238px,#5595d0 316px,#7097ba 331px,#8698a8 341px,#95999c 356px,#9f9495 358px,#b58284 376px,#de6165 394px,#de6165 472px,#d65e61 477px,#9e4548 499px,#5d292a 540px,#220f0f 603px,#130809 636px,#0a0405 712px)"></i><i style="height:2px;background:linear-gradient(90deg,#030507 0,#070c11 97px,#0d1720 130px,#20384e 181px,#38638a 222px,#4f8bc2 244px,#5595d0 249px,#5595d0 312px,#5895cd 324px,#8298ab 342px,#9199a0 354px,#93999e 356px,#a09394 357px,#b97f81 375px,#de6165 390px,#de6165 453px,#da5f63 465px,#a3474a 483px,#703133 510px,#3d1b1c 551px,#15090a 602px,#080303 712px)"></i><i style="height:2px;background:linear-gradient(90deg,#020405 0,#070c11 121px,#0e1822 154px,#233d55 205px,#345c80 232px,#528fc8 259px,#5595d0 265px,#5895ce 328px,#7897b3 340px,#8e98a2 355px,#9098a1 356px,#a49091 357px,#c1787b 375px,#de6165 385px,#de6165 448px,#d65d61 453px,#893c3e 480px,#5b2829 507px,#241010 558px,#120808 591px,#060203 712px)"></i><i style="height:2px;background:linear-gradient(90deg,#010304 0,#05080c 121px,#091016 162px,#1c3245 213px,#2e5070 240px,#4980b3 267px,#5494cf 275px,#5595d0 326px,#5a95cc 333px,#7497b7 343px,#8998a6 355px,#8a98a5 356px,#aa8b8c 357px,#cc7073 375px,#de6165 382px,#de6165 433px,#d85f62 438px,#9f4548 456px,#612b2c 483px,#2f1415 524px,#140909 557px,#050202 678px,#040202 712px)"></i><i style="height:2px;background:linear-gradient(90deg,#010202 0,#05080b 151px,#0b121a 192px,#1b2f42 233px,#345b80 266px,#4b84b8 284px,#5595d0 290px,#5595d0 331px,#5995cd 337px,#8098ad 355px,#8298ac 356px,#b38486 357px,#da6468 375px,#de6165 416px,#dd6064 423px,#9f4648 438px,#692e30 460px,#3b1a1b 487px,#15090a 528px,#050202 625px,#020101 712px)"></i><i style="height:2px;background:linear-gradient(90deg,#010101 0,#030506 151px,#080e13 214px,#152533 247px,#274560 274px,#39638b 289px,#5595d0 304px,#5595d0 337px,#5a95cc 345px,#7297b9 355px,#7497b7 356px,#c1797b 357px,#de6165 369px,#de6165 402px,#dd6064 409px,#9c4447 421px,#6b2f31 436px,#411c1d 458px,#180b0b 491px,#060303 569px,#010101 712px)"></i><i style="height:2px;background:linear-gradient(90deg,#000001 0,#020405 188px,#080d13 251px,#142331 278px,#25415a 296px,#3d6a95 311px,#5595d0 321px,#5595d0 348px,#5a95cc 354px,#6096c7 356px,#d6676b 357px,#de6165 363px,#de6165 390px,#db5f63 392px,#a4484b 400px,#5a2729 418px,#301516 436px,#15090a 458px,#060303 521px,#010000 712px)"></i><i style="height:2px;background:linear-gradient(90deg,#000 0,#010203 235px,#05080b 286px,#0b131a 304px,#1a2d3e 319px,#284763 327px,#3c6992 333px,#5595d0 338px,#5595d0 356px,#de6165 357px,#de6165 372px,#de6165 374px,#924042 380px,#5e292b 387px,#351718 397px,#15090a 412px,#060203 453px,#000 712px)"></i><i style="height:2px;background:linear-gradient(90deg,#000 0,#000 293px,#030101 344px,#0d0506 350px,#120808 351px,#230f10 352px,#482021 353px,#de6165 355px,#de6165 356px,#5595d0 357px,#1c3144 359px,#0d1721 360px,#070c11 361px,#010303 367px,#000 712px)"></i><i style="height:2px;background:linear-gradient(90deg,#000 0,#040202 235px,#100707 286px,#1e0d0d 298px,#4c2123 316px,#723234 324px,#aa4a4d 331px,#de6165 335px,#de6165 353px,#de6165 356px,#5595d0 357px,#5595d0 375px,#5595d0 377px,#3d6b96 382px,#294865 389px,#172838 401px,#080e14 419px,#020305 470px,#000 712px)"></i><i style="height:2px;background:linear-gradient(90deg,#010000 0,#060303 188px,#110808 239px,#230f10 261px,#471f20 283px,#743335 298px,#bc5255 313px,#de6165 318px,#de6165 351px,#cf6d70 356px,#6196c7 357px,#5595d0 363px,#5595d0 390px,#5595d0 394px,#3d6b96 404px,#26425c 419px,#152534 437px,#080e14 464px,#020304 542px,#000001 712px)"></i><i style="height:2px;background:linear-gradient(90deg,#010101 0,#070303 151px,#170a0a 214px,#3d1b1c 247px,#6f3032 274px,#9f4548 289px,#de6165 301px,#dd6266 342px,#c1797b 354px,#bc7d7f 356px,#7497b7 357px,#5595d0 372px,#5595d0 405px,#5595d0 411px,#3d6b95 423px,#284561 441px,#12202c 474px,#070d12 507px,#020304 604px,#010101 712px)"></i><i style="height:2px;background:linear-gradient(90deg,#030101 0,#0d0606 151px,#180a0b 184px,#401c1d 225px,#703133 252px,#a8494c 274px,#d85e62 286px,#de6165 292px,#de6165 333px,#d8666a 337px,#b18587 355px,#af8788 356px,#8198ac 357px,#5b95cb 375px,#5595d0 380px,#5595d0 421px,#5391cb 426px,#3d6a94 441px,#244059 468px,#12202d 501px,#080e13 534px,#020405 631px,#010202 712px)"></i><i style="height:2px;background:linear-gradient(90deg,#040202 0,#0d0606 121px,#1a0b0c 162px,#4e2224 213px,#7d3739 240px,#c6575a 267px,#de6165 274px,#de6165 325px,#da6468 332px,#bf7a7c 342px,#aa8b8c 354px,#a78e8e 356px,#8a98a5 357px,#6996c0 375px,#5595d0 383px,#5595d0 434px,#5392cb 440px,#3d6c96 458px,#26425d 485px,#12202d 526px,#080e14 559px,#020405 680px,#020304 712px)"></i><i style="height:2px;background:linear-gradient(90deg,#060303 0,#130809 121px,#271112 154px,#5e292b 205px,#8e3e41 232px,#dd6064 259px,#de6165 322px,#d7676a 329px,#b78082 341px,#a29292 356px,#8f98a1 357px,#7397b8 375px,#5595d0 387px,#5595d0 450px,#518dc6 456px,#345b7f 483px,#20384e 516px,#0c151e 567px,#060b10 600px,#020405 712px)"></i><i style="height:2px;background:linear-gradient(90deg,#080304 0,#130809 97px,#251011 130px,#562627 181px,#883b3e 214px,#bb5255 236px,#dc6064 246px,#de6165 309px,#d96569 324px,#af8788 342px,#a19393 354px,#9f9495 356px,#92999e 357px,#7b97b2 375px,#5695cf 390px,#5595d0 453px,#5595d0 465px,#3d6a94 487px,#27445f 520px,#121f2b 571px,#080d12 612px,#030507 712px)"></i><i style="height:2px;background:linear-gradient(90deg,#0a0505 0,#140909 78px,#341718 129px,#6b2f30 180px,#a2474a 213px,#db6064 235px,#de6165 313px,#d7676a 321px,#ae8889 339px,#9e9595 354px,#9d9696 356px,#94999d 358px,#7e97af 376px,#5695cf 394px,#5595d0 472px,#5391ca 478px,#3d6b96 500px,#244059 541px,#0e1821 604px,#070d12 637px,#04070a 712px)"></i><i style="height:2px;background:linear-gradient(90deg,#0d0606 0,#160a0a 63px,#411c1e 126px,#7c3638 177px,#b75053 210px,#dd6165 225px,#de6165 303px,#db6468 315px,#a78e8f 342px,#9d9696 354px,#8398ab 376px,#5795cf 398px,#5595d0 476px,#5493cd 488px,#3c6a93 515px,#25415a 556px,#0f1a25 619px,#080d13 660px,#05090c 712px)"></i><i style="height:2px;background:linear-gradient(90deg,#100707 0,#1b0c0c 51px,#461e20 114px,#7f373a 165px,#b85054 198px,#de6165 216px,#de6165 294px,#dd6266 309px,#a49091 342px,#93999e 364px,#8798a8 376px,#5695cf 403px,#5595d0 481px,#5392cc 499px,#39648c 532px,#20384f 583px,#0e1821 646px,#070d12 687px,#060b0f 712px)"></i><i style="height:2px;background:linear-gradient(90deg,#130809 0,#220f0f 41px,#4b2122 104px,#843a3c 155px,#bb5255 188px,#de6165 206px,#de6165 303px,#b48385 330px,#a29292 342px,#9199a0 369px,#7597b6 387px,#5595d0 409px,#5595d0 506px,#386289 547px,#20394f 598px,#0f1a24 661px,#070d12 712px)"></i><i style="height:2px;background:linear-gradient(90deg,#180b0b 0,#441e1f 78px,#743335 129px,#ae4c4f 170px,#da5f63 192px,#de6165 289px,#d96569 304px,#a58f90 337px,#92999f 370px,#5795cf 411px,#5595d0 508px,#5493cd 520px,#3c6993 553px,#243f57 604px,#12202c 667px,#091017 712px)"></i><i style="height:2px;background:linear-gradient(90deg,#230f10 0,#512325 78px,#843a3c 129px,#c35559 170px,#de6165 185px,#de6165 282px,#d96569 300px,#a09394 341px,#9098a0 374px,#5795cf 415px,#5595d0 512px,#5493cd 530px,#39648c 571px,#233d55 622px,#0d1720 712px)"></i><i style="height:2px;background:linear-gradient(90deg,#2d1414 0,#5e292b 78px,#944143 129px,#d75e62 170px,#de6165 178px,#de6165 275px,#dc6266 293px,#a68f8f 334px,#95999c 367px,#8398ab 385px,#5895ce 418px,#5594cf 539px,#3a668f 580px,#25405a 631px,#111e2a 712px)"></i><i style="height:2px;background:linear-gradient(90deg,#371819 0,#6a2e30 78px,#964244 119px,#d75e62 160px,#de6165 170px,#da6468 291px,#9e9595 342px,#91999f 375px,#5595d0 426px,#5595d0 547px,#376187 598px,#243f58 649px,#152533 712px)"></i><i style="height:2px;background:linear-gradient(90deg,#411c1d 0,#773436 78px,#a6484b 119px,#db6064 152px,#de6165 273px,#d96568 288px,#9f9495 339px,#8d98a3 380px,#5595d0 431px,#5595d0 552px,#5391ca 562px,#3a668f 603px,#274560 654px,#192b3d 712px)"></i><i style="height:2px;background:linear-gradient(90deg,#4b2122 0,#843a3c 78px,#b54f52 119px,#de6165 146px,#de6165 267px,#d96569 285px,#a19393 336px,#9199a0 377px,#5995cd 428px,#5595d0 506px,#5595cf 569px,#3c6a94 610px,#26435e 673px,#1d3246 712px)"></i><i style="height:2px;background:linear-gradient(90deg,#552527 0,#903f42 78px,#c45659 119px,#de6165 137px,#de6165 258px,#da6468 280px,#a49090 331px,#94999d 372px,#5795cf 435px,#5595d0 556px,#5595cf 578px,#3d6c96 619px,#284662 682px,#213950 712px)"></i><i style="height:2px;background:linear-gradient(90deg,#5f2a2b 0,#9d4548 78px,#d35c60 119px,#de6165 129px,#de6165 250px,#d96569 277px,#9e9595 340px,#8f98a1 381px,#5c95ca 432px,#5595d0 454px,#5595d0 575px,#5391cb 590px,#3d6c96 631px,#244059 712px)"></i><i style="height:2px;background:linear-gradient(90deg,#692e30 0,#aa4a4d 78px,#de6165 119px,#db6367 270px,#a19293 333px,#94999d 374px,#5b95cb 437px,#5595d0 459px,#5595d0 580px,#5492cc 598px,#3f6f9a 639px,#284762 712px)"></i><i style="height:2px;background:linear-gradient(90deg,#733234 0,#b75053 78px,#da5f63 105px,#de6165 256px,#c97275 289px,#9d9596 340px,#9098a0 381px,#5995cd 444px,#5595d0 595px,#5493cd 607px,#40719d 648px,#2c4d6c 712px)"></i><i style="height:2px;background:linear-gradient(90deg,#7d3739 0,#b34e52 63px,#db6063 96px,#de6165 247px,#d7676b 269px,#a19293 332px,#8f98a1 383px,#5a95cc 446px,#5595d0 479px,#5595d0 600px,#5494ce 615px,#3e6d98 666px,#305475 712px)"></i><i style="height:2px;background:linear-gradient(90deg,#873b3e 0,#bf5457 63px,#de6165 90px,#de6165 241px,#d86669 263px,#9d9696 341px,#9098a0 382px,#5595d0 460px,#5595d0 611px,#5392cc 626px,#3b6790 689px,#345b7f 712px)"></i><i style="height:2px;background:linear-gradient(90deg,#913f42 0,#cb595d 63px,#de6165 81px,#de6165 232px,#d86669 259px,#9e9595 337px,#8c98a3 388px,#5c95ca 451px,#5595d0 478px,#5595d0 629px,#386288 712px)"></i><i style="height:2px;background:linear-gradient(90deg,#9b4447 0,#d85e62 63px,#de6165 78px,#de6165 229px,#d8666a 256px,#9f9494 334px,#8f98a1 385px,#5795ce 463px,#5595d0 614px,#5392cc 647px,#3b6892 712px)"></i><i style="height:2px;background:linear-gradient(90deg,#a5484b 0,#d65d61 51px,#de6165 63px,#de6165 214px,#db6367 247px,#a49091 325px,#94999d 376px,#5595d0 473px,#5595d0 624px,#5493cd 657px,#3f6f9b 712px)"></i><i style="height:2px;background:linear-gradient(90deg,#b04d50 0,#de6165 51px,#de6165 239px,#9e9595 336px,#8e98a2 387px,#5a95cc 465px,#5595d0 506px,#5595d0 657px,#528fc8 672px,#4376a4 712px)"></i><i style="height:2px;background:linear-gradient(90deg,#ba5154 0,#de6165 41px,#de6165 229px,#af8789 307px,#989999 358px,#8198ad 409px,#5895ce 472px,#5595d0 660px,#5493cd 678px,#477dae 712px)"></i><i style="height:2px;background:linear-gradient(90deg,#c45559 0,#de6165 27px,#de6165 215px,#d86669 242px,#9d9596 339px,#8698a8 402px,#5595d0 480px,#5595d0 668px,#5391cb 690px,#4b83b7 712px)"></i><i style="height:2px;background:linear-gradient(90deg,#ce5a5e 0,#de6165 22px,#de6165 210px,#d96569 237px,#9f9494 334px,#8a98a5 397px,#5a95cc 475px,#5595d0 526px,#5595d0 677px,#5492cc 699px,#4f8ac1 712px)"></i><i style="height:2px;background:linear-gradient(90deg,#d85e62 0,#de6165 18px,#de6165 206px,#da6468 233px,#a19393 330px,#8c98a3 393px,#5595d0 490px,#5595d0 678px,#5595d0 705px,#5391ca 712px)"></i><i style="height:2px;background:linear-gradient(90deg,#de6165 0,#de6165 188px,#da6468 229px,#a29292 326px,#93999e 377px,#5e96c9 474px,#5595d0 501px,#5595d0 712px)"></i><i style="height:2px;background:linear-gradient(90deg,#de6165 0,#de6165 188px,#dd6266 221px,#9d9696 342px,#8798a8 405px,#5a95cc 483px,#5595d0 516px,#5595d0 712px)"></i><i style="height:2px;background:linear-gradient(90deg,#de6165 0,#de6165 188px,#db6367 221px,#9d9696 342px,#8798a7 405px,#5595d0 502px,#5595d0 712px)"></i><i style="height:2px;background:linear-gradient(90deg,#de6165 0,#de6165 188px,#d96568 221px,#9d9696 342px,#8098ad 420px,#5695cf 498px,#5595d0 712px)"></i><i style="height:2px;background:linear-gradient(90deg,#de6165 0,#de6165 188px,#d8666a 221px,#a58f90 318px,#96999c 369px,#6896c0 466px,#5595d0 507px,#5595d0 712px)"></i><i style="height:2px;background:linear-gradient(90deg,#de6165 0,#de6165 188px,#da6568 215px,#9e9595 336px,#8498aa 414px,#5595d0 511px,#5595d0 712px)"></i><i style="height:2px;background:linear-gradient(90deg,#de6165 0,#de6165 188px,#d86669 215px,#9e9595 336px,#8598a9 414px,#5595d0 511px,#5595d0 712px)"></i><i style="height:2px;background:linear-gradient(90deg,#de6165 0,#de6165 188px,#d4696d 221px,#9d9696 342px,#8298ab 420px,#5595d0 517px,#5595d0 712px)"></i><i style="height:2px;background:linear-gradient(90deg,#de6165 0,#de6165 188px,#c37779 251px,#9b9797 348px,#7797b5 445px,#5595d0 523px,#5595d0 712px)"></i><i style="height:2px;background:linear-gradient(90deg,#de6165 0,#de6165 188px,#9d9596 339px,#7c97b1 436px,#5795cf 514px,#5595d0 712px)"></i><i style="height:2px;background:linear-gradient(90deg,#de6165 0,#de6165 188px,#9d9596 339px,#7c97b0 436px,#5895ce 514px,#5595d0 712px)"></i><i style="height:2px;background:linear-gradient(90deg,#de6165 0,#de6165 188px,#9d9596 339px,#7d97b0 436px,#5995cd 514px,#5595d0 712px)"></i><i style="height:1.7px;background:linear-gradient(90deg,#de6165 0,#de6165 188px,#9d9596 339px,#7e97af 436px,#5595d0 533px,#5595d0 712px)"></i></div>
<div class="hm" style="left:1305.8px;top:525px;width:161px"><i style="height:2px;background:linear-gradient(90deg,#e8e3f6 0,#e8e3f6 161px)"></i><i style="height:2px;background:linear-gradient(90deg,#e7e3f6 0,#e7e3f6 161px)"></i><i style="height:2px;background:linear-gradient(90deg,#e7e3f6 0,#e7e3f6 161px)"></i><i style="height:2px;background:linear-gradient(90deg,#e7e3f6 0,#e7e3f6 161px)"></i><i style="height:2px;background:linear-gradient(90deg,#e7e3f6 0,#e7e3f6 161px)"></i><i style="height:2px;background:linear-gradient(90deg,#e7e3f6 0,#e7e3f6 161px)"></i><i style="height:2px;background:linear-gradient(90deg,#e7e3f6 0,#e7e3f6 161px)"></i><i style="height:2px;background:linear-gradient(90deg,#e7e3f6 0,#e7e3f6 161px)"></i><i style="height:2px;background:linear-gradient(90deg,#e7e3f6 0,#e7e3f6 161px)"></i><i style="height:2px;background:linear-gradient(90deg,#e7e3f6 0,#e7e3f6 161px)"></i><i style="height:2px;background:linear-gradient(90deg,#e7e3f6 0,#e7e3f6 161px)"></i><i style="height:2px;background:linear-gradient(90deg,#e7e3f6 0,#e7e3f6 161px)"></i><i style="height:2px;background:linear-gradient(90deg,#e7e3f6 0,#e7e3f6 161px)"></i><i style="height:2px;background:linear-gradient(90deg,#e7e3f6 0,#e7e3f6 161px)"></i><i style="height:2px;background:linear-gradient(90deg,#e7e3f6 0,#e7e3f6 161px)"></i><i style="height:2px;background:linear-gradient(90deg,#e7e3f6 0,#e7e3f6 161px)"></i><i style="height:2px;background:linear-gradient(90deg,#e7e3f6 0,#e7e3f6 161px)"></i><i style="height:2px;background:linear-gradient(90deg,#e7e2f6 0,#e7e2f6 161px)"></i><i style="height:2px;background:linear-gradient(90deg,#e7e2f6 0,#e7e2f6 161px)"></i><i style="height:2px;background:linear-gradient(90deg,#e7e2f6 0,#e7e2f6 161px)"></i><i style="height:2px;background:linear-gradient(90deg,#e7e2f6 0,#e7e2f6 161px)"></i><i style="height:2px;background:linear-gradient(90deg,#e7e2f6 0,#e7e2f6 161px)"></i><i style="height:2px;background:linear-gradient(90deg,#e7e2f6 0,#e7e2f6 161px)"></i><i style="height:2px;background:linear-gradient(90deg,#e6e2f6 0,#e6e2f6 161px)"></i><i style="height:2px;background:linear-gradient(90deg,#e6e2f6 0,#e6e2f6 161px)"></i><i style="height:2px;background:linear-gradient(90deg,#e6e2f6 0,#e6e2f6 161px)"></i><i style="height:2px;background:linear-gradient(90deg,#e6e2f6 0,#e6e2f6 161px)"></i><i style="height:2px;background:linear-gradient(90deg,#e6e2f6 0,#e6e2f6 161px)"></i><i style="height:2px;background:linear-gradient(90deg,#e6e2f6 0,#e6e2f6 161px)"></i><i style="height:2px;background:linear-gradient(90deg,#e6e2f6 0,#e6e2f6 161px)"></i><i style="height:2px;background:linear-gradient(90deg,#e6e2f6 0,#e6e2f6 161px)"></i><i style="height:2px;background:linear-gradient(90deg,#e6e2f6 0,#e6e2f6 161px)"></i><i style="height:2px;background:linear-gradient(90deg,#e6e2f6 0,#e6e2f6 161px)"></i><i style="height:2px;background:linear-gradient(90deg,#e6e2f6 0,#e6e2f6 161px)"></i><i style="height:2px;background:linear-gradient(90deg,#e6e1f6 0,#e6e1f6 161px)"></i><i style="height:2px;background:linear-gradient(90deg,#e6e1f6 0,#e6e1f6 161px)"></i><i style="height:2px;background:linear-gradient(90deg,#e6e1f6 0,#e6e1f6 161px)"></i><i style="height:2px;background:linear-gradient(90deg,#e6e1f6 0,#e6e1f6 161px)"></i><i style="height:2px;background:linear-gradient(90deg,#e5e1f6 0,#e5e1f6 161px)"></i><i style="height:2px;background:linear-gradient(90deg,#e5e0f6 0,#e5e0f6 161px)"></i><i style="height:2px;background:linear-gradient(90deg,#e5e0f6 0,#e5e0f6 161px)"></i><i style="height:2px;background:linear-gradient(90deg,#e4dff6 0,#e4dff6 161px)"></i><i style="height:2px;background:linear-gradient(90deg,#e4dff6 0,#e4dff6 161px)"></i><i style="height:2px;background:linear-gradient(90deg,#e4def6 0,#e4def6 161px)"></i><i style="height:2px;background:linear-gradient(90deg,#e3def6 0,#e3def6 161px)"></i><i style="height:2px;background:linear-gradient(90deg,#e3ddf6 0,#e3ddf6 161px)"></i><i style="height:2px;background:linear-gradient(90deg,#e2ddf6 0,#e2ddf6 161px)"></i><i style="height:2px;background:linear-gradient(90deg,#e2dcf6 0,#e2dcf6 161px)"></i><i style="height:2px;background:linear-gradient(90deg,#e2dcf6 0,#e2dcf6 161px)"></i><i style="height:2px;background:linear-gradient(90deg,#e1dbf6 0,#e1dbf6 161px)"></i><i style="height:2px;background:linear-gradient(90deg,#e1dbf6 0,#e1dbf6 161px)"></i><i style="height:2px;background:linear-gradient(90deg,#e0daf6 0,#e0daf6 161px)"></i><i style="height:2px;background:linear-gradient(90deg,#e0daf5 0,#e0daf5 161px)"></i><i style="height:2px;background:linear-gradient(90deg,#e0d9f5 0,#e0d9f5 161px)"></i><i style="height:2px;background:linear-gradient(90deg,#dfd9f5 0,#dfd9f5 161px)"></i><i style="height:2px;background:linear-gradient(90deg,#dfd8f5 0,#dfd8f5 161px)"></i><i style="height:2px;background:linear-gradient(90deg,#ded8f5 0,#ded8f5 161px)"></i><i style="height:2px;background:linear-gradient(90deg,#ded7f5 0,#ded7f5 161px)"></i><i style="height:2px;background:linear-gradient(90deg,#ddd5f5 0,#ddd5f5 161px)"></i><i style="height:2px;background:linear-gradient(90deg,#dbd4f5 0,#dbd4f5 161px)"></i><i style="height:2px;background:linear-gradient(90deg,#dad2f5 0,#dad2f5 161px)"></i><i style="height:2px;background:linear-gradient(90deg,#d9d0f5 0,#d9d0f5 161px)"></i><i style="height:2px;background:linear-gradient(90deg,#d7cef5 0,#d7cef5 161px)"></i><i style="height:2px;background:linear-gradient(90deg,#d6ccf5 0,#d6ccf5 161px)"></i><i style="height:2px;background:linear-gradient(90deg,#d4cbf5 0,#d4cbf5 161px)"></i><i style="height:2px;background:linear-gradient(90deg,#d3c9f5 0,#d3c9f5 161px)"></i><i style="height:2px;background:linear-gradient(90deg,#d2c7f5 0,#d2c7f5 161px)"></i><i style="height:2px;background:linear-gradient(90deg,#d0c5f5 0,#d0c5f5 161px)"></i><i style="height:2px;background:linear-gradient(90deg,#cfc3f5 0,#cfc3f5 161px)"></i><i style="height:2px;background:linear-gradient(90deg,#cec2f5 0,#cec2f5 161px)"></i><i style="height:2px;background:linear-gradient(90deg,#cbbff5 0,#cbbff5 161px)"></i><i style="height:2px;background:linear-gradient(90deg,#c8bbf4 0,#c8bbf4 161px)"></i><i style="height:2px;background:linear-gradient(90deg,#c5b7f4 0,#c5b7f4 161px)"></i><i style="height:2px;background:linear-gradient(90deg,#c2b3f4 0,#c2b3f4 161px)"></i><i style="height:2px;background:linear-gradient(90deg,#bfaff4 0,#bfaff4 161px)"></i><i style="height:2px;background:linear-gradient(90deg,#bcacf5 0,#bcacf5 161px)"></i><i style="height:2px;background:linear-gradient(90deg,#b9a9f5 0,#b9a9f5 161px)"></i><i style="height:2px;background:linear-gradient(90deg,#b6a6f6 0,#b6a6f6 161px)"></i><i style="height:2px;background:linear-gradient(90deg,#b2a2f7 0,#b2a2f7 161px)"></i><i style="height:2px;background:linear-gradient(90deg,#af9ff7 0,#af9ff7 161px)"></i><i style="height:2px;background:linear-gradient(90deg,#ab9bf8 0,#ab9bf8 161px)"></i><i style="height:2px;background:linear-gradient(90deg,#a494f9 0,#a494f9 161px)"></i><i style="height:2px;background:linear-gradient(90deg,#9e90fa 0,#9e90fa 161px)"></i><i style="height:2px;background:linear-gradient(90deg,#9891fb 0,#9891fb 161px)"></i><i style="height:2px;background:linear-gradient(90deg,#9291fb 0,#9291fb 161px)"></i><i style="height:2px;background:linear-gradient(90deg,#8c92fc 0,#8c92fc 161px)"></i><i style="height:2px;background:linear-gradient(90deg,#8694fc 0,#8694fc 161px)"></i><i style="height:2px;background:linear-gradient(90deg,#7e98fc 0,#7e98fc 161px)"></i><i style="height:2px;background:linear-gradient(90deg,#759dfc 0,#769cfc 121px,#759dfc 161px)"></i><i style="height:2px;background:linear-gradient(90deg,#69a5fb 0,#6ea1fc 97px,#69a5fb 161px)"></i><i style="height:2px;background:linear-gradient(90deg,#59b1fa 0,#5facfb 97px,#59b1fa 161px)"></i><i style="height:2px;background:linear-gradient(90deg,#4abdf9 0,#51b8fa 97px,#4abdf9 161px)"></i><i style="height:2px;background:linear-gradient(90deg,#3bc9f8 0,#43c3f9 97px,#3bc9f8 161px)"></i><i style="height:2px;background:linear-gradient(90deg,#33d4f4 0,#38cdf6 97px,#33d4f4 161px)"></i><i style="height:2px;background:linear-gradient(90deg,#2be0f0 0,#31d7f3 97px,#2be0f0 161px)"></i><i style="height:2px;background:linear-gradient(90deg,#4bbcf9 0,#5ab0fa 78px,#4bbcf9 161px)"></i><i style="height:2px;background:linear-gradient(90deg,#44c2f9 0,#55b4fa 78px,#44c2f9 161px)"></i><i style="height:2px;background:linear-gradient(90deg,#3cc8f8 0,#50b8fa 78px,#3cc8f8 161px)"></i><i style="height:2px;background:linear-gradient(90deg,#38cdf6 0,#4bbcf9 78px,#38cdf6 161px)"></i><i style="height:2px;background:linear-gradient(90deg,#34d3f4 0,#46c0f9 78px,#34d3f4 161px)"></i><i style="height:2px;background:linear-gradient(90deg,#30d9f2 0,#40c5f8 78px,#36d0f5 129px,#30d9f2 161px)"></i><i style="height:2px;background:linear-gradient(90deg,#2bdff0 0,#38cef6 51px,#39ccf7 73px,#39ccf7 88px,#33d4f4 129px,#2bdff0 161px)"></i><i style="height:2px;background:linear-gradient(90deg,#26e6ee 0,#34d2f5 51px,#32d7f3 69px,#36d0f5 84px,#31d7f3 99px,#33d4f4 117px,#26e6ee 161px)"></i><i style="height:2px;background:linear-gradient(90deg,#22eceb 0,#31d7f3 51px,#28e4ef 66px,#32d6f3 81px,#28e4ef 96px,#31d7f3 111px,#22eceb 161px)"></i><i style="height:2px;background:linear-gradient(90deg,#28eee1 0,#23eaed 22px,#2edcf1 49px,#24e9ed 59px,#28eee0 67px,#24eaed 74px,#2ae1f0 82px,#23ecea 89px,#28eee0 95px,#24eaed 102px,#2ddcf1 112px,#23ece9 145px,#28eee1 161px)"></i><i style="height:2px;background:linear-gradient(90deg,#2cf0d9 0,#26ede4 18px,#24e9ed 28px,#2cdff0 46px,#27e6ee 54px,#23ede9 57px,#36f3c5 65px,#36f3c4 69px,#25ede6 79px,#27eee2 84px,#36f3c4 92px,#36f3c4 96px,#27eee2 103px,#24e9ed 106px,#2cdff0 114px,#22ecec 136px,#2befd9 158px,#2cf0d9 161px)"></i><i style="height:2px;background:linear-gradient(90deg,#2ff1d3 0,#28eee0 18px,#24e9ed 30px,#2be0f0 48px,#24ede8 55px,#3cf4bb 61px,#64f48f 65px,#6df485 67px,#66f48d 70px,#38f4c0 77px,#34f3c8 81px,#3bf4bd 85px,#69f48a 92px,#6df485 94px,#66f48d 96px,#37f4c2 101px,#22ecec 107px,#2be0f0 114px,#23ecea 136px,#2ef0d3 158px,#2ff1d3 161px)"></i><i style="height:2px;background:linear-gradient(90deg,#32f2cc 0,#2cf0d7 15px,#23ebec 30px,#2ae1f0 45px,#24e9ed 52px,#25ede6 54px,#36f3c3 58px,#52f4a3 60px,#8bf467 63px,#b2f44a 65px,#c0f43f 66px,#c7f33a 67px,#c0f43f 69px,#8af469 74px,#70f482 78px,#69f489 81px,#72f480 84px,#98f45e 89px,#c4f43c 93px,#c3f43c 95px,#a7f452 97px,#7ff472 99px,#48f4ae 102px,#39f4bf 103px,#27eee3 107px,#25e7ee 110px,#2ae1f0 118px,#23eceb 133px,#31f1cf 155px,#32f2cc 161px)"></i><i style="height:2px;background:linear-gradient(90deg,#35f3c6 0,#2ff1d2 15px,#23eaed 33px,#2ae1f0 45px,#24e9ed 51px,#25ede6 53px,#38f4c1 57px,#5cf498 59px,#8ff464 61px,#b1f44a 62px,#d6ed2f 63px,#f3db19 64px,#fcba10 65px,#fc9b0b 66px,#fc8c09 67px,#fc920a 68px,#fca80d 69px,#f3db19 71px,#e4e825 72px,#c9f239 74px,#adf44e 78px,#a7f452 81px,#b4f448 85px,#cef035 88px,#efe41d 90px,#fcb50f 92px,#fc9a0b 93px,#fc8d09 94px,#fc940a 95px,#fcad0e 96px,#f7ce15 97px,#e3e925 98px,#c0f43f 99px,#9bf45b 100px,#64f48f 102px,#3df4ba 104px,#2aefdb 107px,#23eaed 110px,#29e2ef 117px,#23ede9 132px,#34f2c9 154px,#35f3c6 161px)"></i><i style="height:2px;background:linear-gradient(90deg,#3bf4bd 0,#32f2cc 15px,#22ecec 33px,#29e2ef 45px,#23ece9 52px,#35f3c6 56px,#41f4b6 57px,#6ef484 59px,#8cf467 60px,#b4f448 61px,#e3e925 62px,#fcbc10 63px,#fc6808 64px,#ec1d12 65px,#ce0a21 66px,#c10428 67px,#ca0823 68px,#e41216 69px,#fa4309 70px,#fc8b09 71px,#fcbd10 72px,#f4d718 73px,#ece51f 74px,#daec2c 76px,#cdf135 80px,#d2ef32 84px,#e6e823 87px,#f1e01b 88px,#f8ca14 89px,#fca30c 90px,#fc6208 91px,#ee2410 92px,#d30c1e 93px,#c30527 94px,#c70724 95px,#e01118 96px,#fa4409 97px,#fc9f0c 98px,#f2dd1a 99px,#c7f33a 100px,#9af45c 101px,#78f479 102px,#49f4ae 104px,#37f4c1 105px,#25ede7 109px,#26e6ee 112px,#28e4ef 120px,#23ece9 130px,#36f3c4 152px,#3bf4bd 161px)"></i><i style="height:2px;background:linear-gradient(90deg,#45f4b1 0,#3bf4bc 10px,#24ede8 32px,#29e3ef 47px,#22eceb 52px,#33f2cb 56px,#39f4bf 57px,#64f48f 59px,#84f46d 60px,#b0f44b 61px,#e6e723 62px,#fcac0e 63px,#fa4309 64px,#d30c1e 65px,#aa0235 66px,#99003f 67px,#a80236 68px,#cf0a21 69px,#f4330d 70px,#fc8c09 71px,#f8c814 72px,#e9e621 73px,#d2ef32 74px,#b9f444 76px,#a9f451 79px,#a7f452 82px,#b5f448 85px,#cbf237 87px,#ddeb2a 88px,#f3d919 89px,#fca90d 90px,#fc5508 91px,#e11117 92px,#b7032d 93px,#9c003d 94px,#a0013b 95px,#c20527 96px,#ee2310 97px,#fc8808 98px,#f4d718 99px,#c6f33b 100px,#93f461 101px,#6ff483 102px,#54f4a0 103px,#40f4b7 104px,#2ff1d1 106px,#24ede9 109px,#29e3ef 116px,#23ecea 128px,#39f4bf 150px,#45f4b1 160px,#45f4b1 161px)"></i><i style="height:2px;background:linear-gradient(90deg,#51f4a4 0,#46f4b1 10px,#35f3c6 18px,#23ebec 36px,#2ae1f0 48px,#22ecec 55px,#2ff1d2 59px,#36f3c5 60px,#4cf4a9 61px,#74f47d 62px,#a9f451 63px,#dfea28 64px,#f8c814 65px,#fca30c 66px,#8992fc 67px,#8992fc 94px,#fc9a0b 95px,#fcb90f 96px,#f1e11b 97px,#c1f43e 98px,#88f46a 99px,#5bf49a 100px,#3bf4bd 101px,#31f2cd 102px,#25ede5 105px,#25e7ee 108px,#29e2ef 116px,#24ede8 128px,#39f4bf 146px,#4ef4a8 156px,#51f4a4 161px)"></i><i style="height:2px;background:linear-gradient(90deg,#5df497 0,#55f4a0 8px,#36f3c4 20px,#23eaed 38px,#2cdef1 53px,#27e5ee 60px,#23ecea 62px,#3af4be 66px,#8893fc 67px,#8893fc 94px,#3df4bb 95px,#25ede6 99px,#26e6ee 101px,#2cdef1 109px,#23ebec 124px,#37f4c2 142px,#57f49e 154px,#5df497 161px)"></i><i style="height:2px;background:linear-gradient(90deg,#6af488 0,#61f492 8px,#3bf4bd 20px,#22ebec 38px,#30d9f2 56px,#30d8f3 66px,#8794fc 67px,#8794fc 94px,#30d8f3 95px,#2edcf1 110px,#24ede9 125px,#37f4c1 140px,#5ef495 152px,#6af488 161px)"></i><i style="height:2px;background:linear-gradient(90deg,#78f479 0,#6ef484 8px,#4cf4aa 18px,#36f3c4 24px,#23ebec 39px,#34d3f4 61px,#37cff6 66px,#8694fc 67px,#8694fc 94px,#37cff6 95px,#28e4ef 117px,#24ede9 124px,#3bf4bd 139px,#68f48b 151px,#77f47a 159px,#78f479 161px)"></i><i style="height:2px;background:linear-gradient(90deg,#86f46c 0,#7bf476 8px,#56f49e 18px,#37f4c1 25px,#23ebec 40px,#36d1f5 62px,#38cef6 66px,#8595fc 67px,#8595fc 94px,#38cef6 95px,#27e5ee 117px,#23ede9 123px,#35f3c5 135px,#48f4af 140px,#78f479 152px,#85f46c 159px,#86f46c 161px)"></i><i style="height:2px;background:linear-gradient(90deg,#93f461 0,#88f46a 8px,#73f47e 14px,#39f4bf 26px,#25ede6 38px,#25e7ee 43px,#38cef6 65px,#38cdf6 66px,#8395fc 67px,#8395fc 94px,#38cdf6 95px,#23ece9 122px,#36f3c4 134px,#7af476 149px,#90f464 157px,#93f461 161px)"></i><i style="height:2px;background:linear-gradient(90deg,#a2f456 0,#96f460 8px,#7af476 15px,#3bf4bd 27px,#25ede7 39px,#26e7ee 44px,#39cdf6 66px,#8296fc 67px,#8296fc 94px,#39ccf7 95px,#26e6ee 117px,#24ede7 122px,#3af4be 134px,#7af477 146px,#98f45e 154px,#a2f456 161px)"></i><i style="height:2px;background:linear-gradient(90deg,#aff44c 0,#a5f454 7px,#85f46c 15px,#41f4b7 27px,#33f2ca 31px,#22eceb 41px,#38cef6 63px,#3acbf7 66px,#8197fc 67px,#8197fc 94px,#3acbf7 95px,#26e6ee 117px,#23ede9 121px,#3af4be 133px,#7ff471 145px,#a1f457 153px,#aef44c 160px,#aff44c 161px)"></i><i style="height:2px;background:linear-gradient(90deg,#bcf442 0,#b1f44a 7px,#8ff464 15px,#72f47f 20px,#37f4c3 30px,#23ebec 42px,#39ccf7 64px,#3acaf7 66px,#8097fc 67px,#8097fc 94px,#3bcaf7 95px,#26e7ee 117px,#24ede8 121px,#36f3c3 131px,#71f481 141px,#8ef465 146px,#b1f44b 154px,#bcf442 161px)"></i><i style="height:2px;background:linear-gradient(90deg,#c8f239 0,#bef440 7px,#9af45c 15px,#7bf475 20px,#39f4bf 30px,#22ebec 42px,#37cff6 60px,#3bc9f8 66px,#7e98fc 67px,#7e98fc 94px,#3bc9f8 95px,#26e7ee 117px,#24ede7 121px,#38f4c0 131px,#87f46b 143px,#b2f44a 151px,#c6f33a 158px,#c8f239 161px)"></i><i style="height:2px;background:linear-gradient(90deg,#d3ef31 0,#c7f33a 8px,#9ef459 16px,#76f47b 22px,#3ef4b9 30px,#31f1ce 34px,#22ecec 42px,#38cef6 60px,#3cc8f8 66px,#7d99fc 67px,#7d99fc 94px,#3cc8f8 95px,#2be0f0 113px,#23ece9 120px,#37f4c1 130px,#89f469 142px,#c2f43d 152px,#d2ef32 159px,#d3ef31 161px)"></i><i style="height:2px;background:linear-gradient(90deg,#ddeb2a 0,#d3ef31 7px,#baf443 13px,#85f46c 21px,#3cf4bc 31px,#24ede8 41px,#31d7f3 53px,#3cc8f8 65px,#3ec7f8 66px,#7c99fc 67px,#7c99fc 94px,#3ec7f8 95px,#2bdff0 113px,#24ede8 120px,#3bf4bd 130px,#84f46d 140px,#c4f43c 150px,#dbec2b 158px,#ddeb2a 161px)"></i><i style="height:2px;background:linear-gradient(90deg,#e7e722 0,#ddeb2a 7px,#bff440 14px,#85f46c 22px,#39f4bf 32px,#23eceb 42px,#39cdf6 60px,#3fc6f8 66px,#7b9afc 67px,#7b9afc 94px,#3fc5f8 95px,#2bdff0 113px,#24ede8 120px,#35f3c5 128px,#3ff4b9 130px,#7cf475 138px,#c4f43c 148px,#e1e927 156px,#e7e722 161px)"></i><i style="height:2px;background:linear-gradient(90deg,#f0e31c 0,#e9e721 6px,#c8f339 14px,#7cf474 24px,#3df4bb 32px,#27eee2 40px,#24e9ed 44px,#3bc9f8 62px,#40c5f8 66px,#7a9afc 67px,#7a9afc 94px,#40c5f8 95px,#2bdff0 113px,#23eceb 119px,#3bf4bc 129px,#8bf468 139px,#c7f33a 147px,#e8e722 155px,#f0e31c 161px)"></i><i style="height:2px;background:linear-gradient(90deg,#f3db19 0,#eee51d 7px,#c9f238 15px,#7af477 25px,#39f4bf 33px,#22ebec 43px,#3bcaf7 61px,#41c4f8 66px,#789bfc 67px,#789bfc 94px,#42c4f8 95px,#2bdff0 113px,#23ecea 119px,#35f3c6 127px,#3ff4b8 129px,#81f46f 137px,#c2f43e 145px,#eae620 153px,#f2dd1a 158px,#f3db19 161px)"></i><i style="height:2px;background:linear-gradient(90deg,#f5d317 0,#f2de1a 7px,#ebe620 10px,#bbf443 18px,#76f47b 26px,#37f4c3 34px,#24ede8 42px,#3acbf7 60px,#42c3f8 66px,#779cfc 67px,#779cfc 94px,#43c3f9 95px,#2bdff0 113px,#23ede9 119px,#36f3c4 127px,#5bf49a 132px,#86f46b 137px,#c9f239 145px,#eee51d 152px,#f5d317 160px,#f5d317 161px)"></i><i style="height:2px;background:linear-gradient(90deg,#f7cc15 0,#f4d718 7px,#ede51e 11px,#baf444 19px,#7bf475 26px,#38f4c1 34px,#24ede8 42px,#27e4ef 46px,#40c5f8 64px,#43c2f9 66px,#769cfc 67px,#769cfc 94px,#43c2f9 95px,#2bdff0 113px,#24ede8 119px,#37f4c2 127px,#8bf467 137px,#cff034 145px,#f0e31c 151px,#f7ce15 158px,#f7cc15 161px)"></i><i style="height:2px;background:linear-gradient(90deg,#f9c513 0,#f6d116 7px,#eee51e 12px,#c0f43f 19px,#80f470 26px,#39f4be 34px,#24ede7 42px,#27e5ee 46px,#41c4f8 64px,#44c2f9 66px,#759dfc 67px,#759dfc 94px,#44c2f9 95px,#2bdff0 113px,#22ecec 118px,#35f3c6 126px,#40f4b7 128px,#87f46b 136px,#cdf135 144px,#f1e21b 150px,#f8c914 157px,#f9c513 161px)"></i><i style="height:2px;background:linear-gradient(90deg,#fbbf11 0,#f7cb15 7px,#ede51e 13px,#bcf442 20px,#7af477 27px,#3bf4bc 34px,#25ede7 42px,#27e5ee 46px,#41c4f8 64px,#44c1f9 66px,#749efc 67px,#749efc 94px,#45c1f9 95px,#2bdff0 113px,#22ecec 118px,#36f3c4 126px,#4af4ac 129px,#8bf468 136px,#cbf237 143px,#f1e21b 149px,#f9c613 156px,#fbbf11 161px)"></i><i style="height:2px;background:linear-gradient(90deg,#fcba10 0,#f9c713 7px,#f0e31c 13px,#c0f43f 20px,#7df474 27px,#37f4c2 35px,#23ecea 43px,#3cc8f8 61px,#45c1f9 66px,#729efc 67px,#729efc 94px,#45c1f9 95px,#2bdff0 113px,#22eceb 118px,#36f3c3 126px,#5ef495 131px,#8ef465 136px,#cef035 143px,#f0e41c 148px,#fac412 155px,#fcba10 161px)"></i><i style="height:2px;background:linear-gradient(90deg,#fcb50f 0,#fac312 7px,#efe41d 14px,#baf444 21px,#7ff471 27px,#37f4c1 35px,#23ecea 43px,#3cc8f8 61px,#45c1f9 66px,#719ffc 67px,#719ffc 94px,#45c1f9 95px,#2be0f0 113px,#23eceb 118px,#37f4c2 126px,#73f47e 133px,#aef44d 139px,#d8ed2d 144px,#f1e01b 148px,#fbc111 155px,#fcb50f 161px)"></i><i style="height:2px;background:linear-gradient(90deg,#fcb10e 0,#fcbd10 6px,#f0e31c 14px,#bcf442 21px,#77f47a 28px,#38f4c1 35px,#23ecea 43px,#3cc8f8 61px,#45c1f9 66px,#70a0fc 67px,#70a0fc 94px,#45c1f9 95px,#2be0f0 113px,#23eceb 118px,#37f4c2 126px,#7ff471 134px,#ccf136 142px,#f0e41c 147px,#fbbe11 155px,#fcb10e 161px)"></i><i style="height:2px;background:linear-gradient(90deg,#fcaf0e 0,#fcb70f 5px,#f3db19 13px,#e5e824 16px,#b3f449 22px,#78f479 28px,#38f4c0 35px,#23ecea 43px,#3cc8f8 61px,#45c1f9 66px,#6fa0fc 67px,#6fa0fc 94px,#45c1f9 95px,#2be0f0 113px,#23eceb 118px,#37f4c1 126px,#80f470 134px,#cdf135 142px,#f0e31c 147px,#fcbc10 155px,#fcaf0e 160px,#fcaf0e 161px)"></i><i style="height:2px;background:linear-gradient(90deg,#fcae0e 0,#fcb60f 5px,#f3db19 13px,#e6e824 16px,#b4f448 22px,#78f479 28px,#38f4c0 35px,#23ecea 43px,#3cc8f8 61px,#45c1f9 66px,#6da2fc 67px,#6da2fc 94px,#45c1f9 95px,#2be0f0 113px,#23eceb 118px,#37f4c1 126px,#80f470 134px,#cdf135 142px,#f1e21b 147px,#fcbb10 155px,#fcae0e 160px,#fcae0e 161px)"></i><i style="height:2px;background:linear-gradient(90deg,#fcae0e 0,#fcb70f 5px,#f3db19 13px,#e5e824 16px,#b4f448 22px,#78f479 28px,#38f4c0 35px,#23ecea 43px,#3cc8f8 61px,#44c1f9 66px,#6ba3fc 67px,#6ba3fc 94px,#45c1f9 95px,#2be0f0 113px,#23eceb 118px,#37f4c2 126px,#80f470 134px,#cdf135 142px,#f1e21b 147px,#fcbb10 155px,#fcae0e 160px,#fcae0e 161px)"></i><i style="height:2px;background:linear-gradient(90deg,#fcb00e 0,#fcb80f 5px,#f2dc1a 13px,#e4e825 16px,#bdf442 21px,#77f47a 28px,#38f4c1 35px,#23ecea 43px,#39cdf6 58px,#44c2f9 66px,#69a5fc 67px,#69a5fc 94px,#44c1f9 95px,#2be0f0 113px,#23eceb 118px,#37f4c2 126px,#75f47c 133px,#b1f44b 139px,#d4ee31 143px,#f0e31c 147px,#fcbd10 155px,#fcb00e 161px)"></i><i style="height:2px;background:linear-gradient(90deg,#fcb30f 0,#fbbe11 6px,#f0e41c 14px,#baf443 21px,#7ff471 27px,#37f4c1 35px,#23ecea 43px,#38cdf6 58px,#43c2f9 66px,#67a6fb 67px,#67a6fb 94px,#44c2f9 95px,#2be0f0 113px,#22eceb 118px,#37f4c3 126px,#73f47e 133px,#aef44c 139px,#d2ef32 143px,#efe51d 147px,#fbbf11 155px,#fcb30f 161px)"></i><i style="height:2px;background:linear-gradient(90deg,#fcb70f 0,#f9c513 7px,#ede51e 14px,#b7f446 21px,#7df473 27px,#3df4bb 34px,#27eee2 41px,#23eaed 44px,#39ccf7 59px,#43c3f9 66px,#65a8fb 67px,#65a8fb 94px,#43c3f9 95px,#2be0f0 113px,#22eceb 118px,#36f3c4 126px,#55f4a0 130px,#85f46c 135px,#c8f339 142px,#f1e21b 148px,#fac212 155px,#fcb70f 161px)"></i><i style="height:2px;background:linear-gradient(90deg,#fcbd10 0,#f8c914 7px,#efe41d 13px,#bdf441 20px,#7af477 27px,#3bf4bd 34px,#25ede7 42px,#27e5ee 46px,#3fc6f8 64px,#42c3f8 66px,#63a9fb 67px,#63a9fb 94px,#42c3f8 95px,#2be0f0 113px,#22ecec 118px,#36f3c5 126px,#42f4b5 128px,#8bf468 136px,#ccf136 143px,#f1e01b 149px,#fac412 156px,#fcbd10 161px)"></i><i style="height:2px;background:linear-gradient(90deg,#fac212 0,#f6ce16 7px,#f0e41c 12px,#c1f43e 19px,#80f470 26px,#39f4bf 34px,#24ede8 42px,#27e5ee 46px,#3ec6f8 64px,#41c4f8 66px,#61abfb 67px,#61abfb 94px,#41c4f8 95px,#2bdff0 113px,#24ede8 119px,#38f4c1 127px,#7ef472 135px,#c8f339 143px,#efe41d 149px,#f9c713 157px,#fac212 161px)"></i><i style="height:2px;background:linear-gradient(90deg,#f8c814 0,#f5d417 7px,#efe41c 11px,#bbf443 19px,#7bf475 26px,#37f4c1 34px,#24ede8 42px,#36d0f5 57px,#3fc6f8 65px,#40c5f8 66px,#5facfb 67px,#5facfb 94px,#40c5f8 95px,#2bdff0 113px,#23ede9 119px,#37f4c2 127px,#70f482 134px,#95f460 138px,#caf238 144px,#eee51d 150px,#f7cb15 158px,#f8c914 161px)"></i><i style="height:2px;background:linear-gradient(90deg,#f6d016 0,#f3db19 7px,#e9e721 11px,#bdf441 18px,#80f470 25px,#3bf4bd 33px,#25ede5 41px,#24e9ed 44px,#3bcaf7 62px,#3fc6f8 66px,#5daefb 67px,#5daefb 94px,#3fc6f8 95px,#2bdff0 113px,#23ecea 119px,#36f3c5 127px,#49f4ad 130px,#87f46b 137px,#caf237 145px,#f0e31c 152px,#f6d116 159px,#f6d016 161px)"></i><i style="height:2px;background:linear-gradient(90deg,#f4d718 0,#eee51d 8px,#c5f43b 16px,#82f46e 24px,#3ff4b8 32px,#35f3c6 34px,#23ecea 42px,#38cdf6 60px,#3ec7f8 66px,#5baffa 67px,#5baffa 94px,#3ec6f8 95px,#2bdff0 113px,#23eceb 119px,#35f3c7 127px,#45f4b1 130px,#89f469 138px,#caf238 146px,#f0e31c 154px,#f4d718 161px)"></i><i style="height:2px;background:linear-gradient(90deg,#f1e01b 0,#ece51f 6px,#caf238 14px,#7cf474 24px,#3bf4bd 32px,#22eceb 42px,#38cef6 60px,#3cc8f8 66px,#5ab1fa 67px,#5ab1fa 94px,#3dc7f8 95px,#2bdff0 113px,#24ede8 120px,#36f3c4 128px,#51f4a5 132px,#8bf468 139px,#c9f239 147px,#ebe61f 155px,#f1e01b 161px)"></i><i style="height:2px;background:linear-gradient(90deg,#ebe620 0,#e0ea28 7px,#c1f43e 14px,#85f46c 22px,#38f4c1 32px,#22ecec 42px,#38cef6 60px,#3cc9f8 66px,#58b2fa 67px,#58b2fa 94px,#3cc8f8 95px,#2bdff0 113px,#23ece9 120px,#35f3c7 128px,#44f4b3 131px,#84f46d 139px,#c0f43f 147px,#dfea28 154px,#ebe620 161px)"></i><i style="height:2px;background:linear-gradient(90deg,#e1ea27 0,#d6ed2f 7px,#bdf442 13px,#85f46c 21px,#39f4bf 31px,#23ecea 41px,#36d0f5 59px,#3bc9f8 66px,#56b4fa 67px,#56b4fa 94px,#3bc9f8 95px,#2cdff0 113px,#23eceb 120px,#38f4c0 130px,#83f46d 140px,#c7f33a 150px,#deea29 158px,#e1ea27 161px)"></i><i style="height:2px;background:linear-gradient(90deg,#d6ed2f 0,#ccf136 7px,#b1f44a 13px,#7cf474 21px,#37f4c3 31px,#22eceb 41px,#36d1f5 59px,#3acbf7 66px,#54b5fa 67px,#54b5fa 94px,#3acaf7 95px,#2cdff0 113px,#24ede9 121px,#3af4be 131px,#82f46e 141px,#c0f43f 151px,#d4ee31 158px,#d6ed2f 161px)"></i><i style="height:2px;background:linear-gradient(90deg,#cbf137 0,#c1f43e 7px,#9af45c 15px,#7af477 20px,#37f4c2 30px,#23ece9 40px,#35d2f5 58px,#38cef6 66px,#52b7fa 67px,#52b7fa 94px,#38cef6 95px,#2fdaf2 110px,#23ebec 120px,#34f3c7 130px,#41f4b6 133px,#86f46b 143px,#b4f448 151px,#c8f339 157px,#cbf137 161px)"></i><i style="height:2px;background:linear-gradient(90deg,#bff440 0,#b3f449 7px,#8ff464 15px,#70f481 20px,#3cf4bb 28px,#26ede5 38px,#24e9ed 42px,#33d4f4 57px,#30d9f2 62px,#27e5ee 66px,#50b8fa 67px,#50b8fa 94px,#27e6ee 95px,#33d4f4 102px,#2be0f0 114px,#24ede9 122px,#37f4c2 132px,#82f46e 144px,#abf44f 152px,#bef441 159px,#bff440 161px)"></i><i style="height:2px;background:linear-gradient(90deg,#b1f44b 0,#a6f453 7px,#84f46d 15px,#3cf4bc 27px,#23ede9 39px,#2fdbf2 54px,#2dddf1 58px,#25e8ed 60px,#27eee2 61px,#31f2ce 62px,#48f4ae 63px,#6cf486 64px,#8cf467 65px,#a1f457 66px,#4ebaf9 67px,#4ebaf9 94px,#a6f453 95px,#96f45f 96px,#7af477 97px,#36f3c4 99px,#22ecec 101px,#2edcf1 104px,#2ae1f0 114px,#23ecea 122px,#3bf4bd 134px,#83f46e 146px,#a5f453 154px,#b1f44b 161px)"></i><i style="height:2px;background:linear-gradient(90deg,#a2f456 0,#98f45d 7px,#7ef473 14px,#3bf4bc 26px,#28eee0 36px,#23eaed 43px,#23ebec 51px,#28eee0 55px,#2ff1d1 57px,#35f3c5 58px,#49f4ad 59px,#6cf487 60px,#9af45c 61px,#d0f033 62px,#f6d216 63px,#fc960a 64px,#fc5008 65px,#ef2710 66px,#e71414 67px,#e71414 68px,#ee2410 69px,#f9410a 70px,#fc950a 72px,#fcb00e 73px,#fbbf11 74px,#f9c713 76px,#fbc011 81px,#f8c814 86px,#fac412 87px,#fcba10 88px,#fca30c 89px,#fc8208 90px,#fc5408 91px,#f3310d 92px,#ea1a13 93px,#e71414 94px,#ec1f12 95px,#f83e0a 96px,#fc7e08 97px,#fbbf11 98px,#e2e926 99px,#adf44e 100px,#7bf476 101px,#53f4a2 102px,#38f4c0 103px,#2cf0d8 105px,#23eceb 109px,#24e9ed 117px,#25ede6 123px,#3af4be 135px,#7df474 147px,#9bf45c 155px,#a2f456 161px)"></i><i style="height:2px;background:linear-gradient(90deg,#94f460 0,#89f469 8px,#76f47b 13px,#3af4be 25px,#29efdd 35px,#25ede6 43px,#2aefdb 49px,#35f3c6 53px,#3bf4bd 54px,#56f49f 56px,#80f470 58px,#9df45a 59px,#c3f43d 60px,#eae620 61px,#fbbe11 62px,#fc7b08 63px,#f3310d 64px,#d80e1c 65px,#bb032b 66px,#a60138 67px,#9f013c 68px,#a30139 69px,#ca0823 72px,#d50c1e 74px,#c50625 81px,#d70d1c 87px,#d00a20 89px,#aa0235 92px,#a2013a 93px,#a40139 94px,#b4032f 95px,#ce0a21 96px,#ec1f11 97px,#fc5f08 98px,#fca90d 99px,#f2dc1a 100px,#cff034 101px,#a7f452 102px,#87f46a 103px,#5af49a 105px,#3df4ba 107px,#2ff1d1 110px,#27eee3 115px,#26ede5 122px,#31f2cd 132px,#3ef4b9 137px,#7af477 149px,#8ff464 156px,#94f460 161px)"></i><i style="height:2px;background:linear-gradient(90deg,#87f46b 0,#7cf475 8px,#54f4a1 18px,#36f3c4 25px,#27eee3 37px,#26ede4 44px,#2ff1d2 50px,#39f4bf 53px,#60f493 56px,#87f46a 58px,#a1f457 59px,#c1f43f 60px,#e0ea28 61px,#f6d116 62px,#fca60d 63px,#fc6d08 64px,#f6370c 65px,#e81514 66px,#d80e1c 67px,#cf0a20 68px,#cf0a21 70px,#d60d1d 73px,#bd042a 80px,#c60625 84px,#d80d1c 88px,#d00a20 93px,#d60d1d 94px,#e41216 95px,#f12c0e 96px,#fc5908 97px,#fc950a 98px,#f9c513 99px,#ebe620 100px,#caf238 101px,#8df466 103px,#64f48f 105px,#3bf4bd 108px,#2df0d6 112px,#26ede5 118px,#28eee0 126px,#36f3c4 136px,#58f49c 144px,#7ef473 154px,#87f46b 161px)"></i><i style="height:2px;background:linear-gradient(90deg,#79f478 0,#6ef484 8px,#4af4ac 18px,#37f4c3 23px,#27eee2 35px,#25ede6 43px,#2cf0d9 49px,#37f4c2 53px,#59f49b 56px,#8ff464 59px,#c3f43d 61px,#f2dd1a 63px,#fca30c 65px,#fc6608 67px,#fc4f08 68px,#f73a0b 70px,#e91514 75px,#d60d1d 79px,#d90e1c 83px,#e81414 86px,#f73b0b 91px,#fc4d08 93px,#fc6108 94px,#fcbb10 97px,#f4d618 98px,#e3e925 99px,#c9f238 100px,#95f460 102px,#5cf497 105px,#38f4c1 108px,#2aefdc 113px,#24ede7 120px,#29eedf 128px,#3cf4bb 140px,#6bf487 152px,#79f478 160px,#79f478 161px)"></i><i style="height:2px;background:linear-gradient(90deg,#6cf487 0,#62f492 8px,#39f4bf 20px,#26ede5 35px,#24ede8 43px,#2befdb 49px,#39f4bf 54px,#5df497 57px,#a3f455 61px,#cef135 63px,#f1e01b 65px,#fcaf0e 68px,#fc5008 74px,#f4330d 77px,#ef2710 80px,#f12c0e 83px,#fa4209 86px,#fc6d08 89px,#fcbd10 94px,#f2dc1a 96px,#e5e824 97px,#bef440 99px,#81f46f 102px,#52f4a3 105px,#3bf4bd 107px,#2befda 112px,#24ede9 119px,#26eee3 127px,#35f3c6 139px,#44f4b3 144px,#64f490 154px,#6bf487 161px)"></i><i style="height:2px;background:linear-gradient(90deg,#5ff495 0,#56f49f 8px,#35f3c5 20px,#24ede7 35px,#23ecea 43px,#2befda 50px,#3bf4bd 55px,#6bf487 59px,#bdf441 64px,#e9e621 67px,#f5d217 69px,#fcad0e 72px,#fc7508 77px,#fc6508 80px,#fc6c08 83px,#fc920a 87px,#fac412 91px,#ece61f 94px,#c1f43e 97px,#6ef484 102px,#3df4bb 106px,#2ef0d5 110px,#24ede7 116px,#23ecea 124px,#2ef1d3 136px,#3bf4bd 144px,#57f49d 154px,#5ef495 161px)"></i><i style="height:2px;background:linear-gradient(90deg,#52f4a3 0,#4af4ac 8px,#35f3c7 18px,#25ede7 33px,#22ecec 43px,#29efde 50px,#3af4be 56px,#73f47e 61px,#9cf45a 64px,#d3ef31 68px,#f1e11b 71px,#fcb40f 77px,#fcaa0d 80px,#fcae0e 83px,#f4d618 89px,#ebe620 91px,#bdf442 95px,#76f47b 100px,#3cf4bc 105px,#2cefd9 110px,#23eceb 117px,#24ede9 127px,#37f4c2 145px,#50f4a6 157px,#52f4a3 161px)"></i><i style="height:2px;background:linear-gradient(90deg,#46f4b0 0,#3bf4bc 10px,#24ede8 32px,#23ebec 44px,#29efde 51px,#38f4c0 57px,#76f47b 63px,#b1f44b 68px,#d7ed2e 72px,#f0e31c 76px,#f3d919 81px,#ede51e 86px,#c9f239 91px,#78f479 98px,#39f4be 104px,#2aefdd 110px,#22ebec 117px,#24ede9 129px,#3bf4bd 151px,#46f4b0 161px)"></i><i style="height:2px;background:linear-gradient(90deg,#3bf4bc 0,#32f2cd 15px,#22ecec 33px,#23ebec 45px,#29eede 52px,#37f3c3 58px,#60f494 63px,#87f46a 67px,#c2f43d 74px,#d3ee31 79px,#cff034 84px,#bdf441 88px,#80f470 95px,#3ef4ba 102px,#2ff1d1 106px,#23eceb 114px,#23eaed 126px,#2aefdc 138px,#39f4bf 156px,#3bf4bc 161px)"></i><i style="height:2px;background:linear-gradient(90deg,#35f3c5 0,#31f1ce 12px,#22eceb 30px,#24e9ed 45px,#25ede5 51px,#35f3c6 59px,#3ef4b9 61px,#7ef472 69px,#a3f455 75px,#b0f44b 80px,#a8f451 85px,#87f46b 91px,#38f4c0 101px,#27eee2 109px,#23eaed 115px,#24e9ed 127px,#27eee2 137px,#34f3c8 155px,#35f3c5 161px)"></i><i style="height:2px;background:linear-gradient(90deg,#32f2cc 0,#2cf0d8 15px,#23ebec 30px,#25e8ed 45px,#25ede6 52px,#38f4c0 62px,#78f479 72px,#89f469 76px,#90f464 81px,#82f46e 87px,#5af49a 94px,#39f4bf 99px,#25ede6 109px,#24e9ed 115px,#24eaed 130px,#2befda 145px,#32f2cc 161px)"></i><i style="height:2px;background:linear-gradient(90deg,#2ff1d3 0,#29efdd 15px,#23ebec 27px,#27e5ee 42px,#23ecea 52px,#38f4c1 64px,#69f489 74px,#75f47c 80px,#6df485 86px,#49f4ad 94px,#36f3c4 98px,#25ede7 108px,#26e6ee 116px,#24e9ed 131px,#26ede4 141px,#2ff1d3 159px,#2ff1d3 161px)"></i><i style="height:2px;background:linear-gradient(90deg,#2cf0d8 0,#25ede5 18px,#24e9ed 28px,#27e6ee 46px,#24ede9 54px,#37f3c3 66px,#55f4a0 74px,#5ff494 80px,#58f49c 86px,#35f3c6 96px,#23ecea 108px,#28e4ef 123px,#24ede8 141px,#2cf0d9 159px,#2cf0d8 161px)"></i><i style="height:2px;background:linear-gradient(90deg,#29efde 0,#23ebec 22px,#28e3ef 44px,#24ede8 56px,#3bf4bd 71px,#4bf4ab 78px,#48f4ae 85px,#35f3c5 93px,#24ede7 105px,#28e4ef 115px,#26e7ee 133px,#24ede7 145px,#29efde 161px)"></i><i style="height:2px;background:linear-gradient(90deg,#27eee3 0,#24e9ed 22px,#29e2ef 44px,#22ecec 56px,#37f4c3 74px,#3bf4bc 82px,#2ff1d1 94px,#23ebec 106px,#29e2ef 121px,#24ede9 148px,#27eee3 161px)"></i><i style="height:2px;background:linear-gradient(90deg,#24ede7 0,#26e7ee 22px,#2ae1f0 44px,#23ecea 59px,#32f2cd 74px,#33f2c9 84px,#26eee4 99px,#24eaed 105px,#2ae1f0 123px,#22eceb 150px,#24ede7 161px)"></i><i style="height:2px;background:linear-gradient(90deg,#22eceb 0,#2be0f0 41px,#23eaed 59px,#2ef1d3 77px,#2df0d5 87px,#23eaed 102px,#2be0f0 120px,#22eceb 161px)"></i><i style="height:2px;background:linear-gradient(90deg,#24eaed 0,#2bdff0 41px,#25e8ed 59px,#25ede7 67px,#2befdb 79px,#27eee2 91px,#24e9ed 101px,#2bdff0 119px,#24eaed 161px)"></i><i style="height:2px;background:linear-gradient(90deg,#25e8ed 0,#2cdef1 41px,#25e8ed 63px,#27eee2 81px,#23eaed 96px,#2cdef1 118px,#25e8ed 161px)"></i><i style="height:2px;background:linear-gradient(90deg,#27e6ee 0,#2cdef1 41px,#22eceb 74px,#24eaed 92px,#2cdef1 119px,#27e6ee 161px)"></i><i style="height:2px;background:linear-gradient(90deg,#28e4ef 0,#2cdef1 51px,#24eaed 84px,#2dddf1 117px,#28e4ef 161px)"></i><i style="height:2px;background:linear-gradient(90deg,#29e2ef 0,#2dddf1 51px,#26e6ee 84px,#2dddf1 125px,#29e2ef 161px)"></i><i style="height:2px;background:linear-gradient(90deg,#2ae1f0 0,#2dddf1 51px,#28e4ef 84px,#2ddcf1 125px,#2ae1f0 161px)"></i><i style="height:2px;background:linear-gradient(90deg,#2be0f0 0,#2edcf1 51px,#2be0f0 92px,#2dddf1 133px,#2be0f0 161px)"></i><i style="height:2px;background:linear-gradient(90deg,#2cdff0 0,#2dddf1 63px,#2edcf1 104px,#2cdff0 161px)"></i><i style="height:2px;background:linear-gradient(90deg,#2cdef1 0,#2ddcf1 63px,#2cdef1 161px)"></i><i style="height:2px;background:linear-gradient(90deg,#2dddf1 0,#2dddf1 161px)"></i><i style="height:2px;background:linear-gradient(90deg,#30d9f2 0,#30d9f2 161px)"></i><i style="height:2px;background:linear-gradient(90deg,#33d4f4 0,#33d4f4 161px)"></i><i style="height:2px;background:linear-gradient(90deg,#36d0f5 0,#36d0f5 161px)"></i><i style="height:2px;background:linear-gradient(90deg,#39ccf7 0,#39ccf7 161px)"></i><i style="height:2px;background:linear-gradient(90deg,#3cc8f8 0,#3cc8f8 161px)"></i><i style="height:2px;background:linear-gradient(90deg,#42c3f8 0,#42c3f8 161px)"></i><i style="height:2px;background:linear-gradient(90deg,#48bff9 0,#48bff9 161px)"></i><i style="height:2px;background:linear-gradient(90deg,#4dbaf9 0,#4dbaf9 161px)"></i><i style="height:2px;background:linear-gradient(90deg,#53b6fa 0,#53b6fa 161px)"></i><i style="height:2px;background:linear-gradient(90deg,#58b2fa 0,#58b2fa 161px)"></i><i style="height:2px;background:linear-gradient(90deg,#5eadfb 0,#5eadfb 161px)"></i><i style="height:2px;background:linear-gradient(90deg,#63a9fb 0,#63a9fb 161px)"></i><i style="height:2px;background:linear-gradient(90deg,#69a5fc 0,#69a5fc 161px)"></i><i style="height:2px;background:linear-gradient(90deg,#6da1fc 0,#6da1fc 161px)"></i><i style="height:2px;background:linear-gradient(90deg,#719ffc 0,#719ffc 161px)"></i><i style="height:2px;background:linear-gradient(90deg,#749dfc 0,#749dfc 161px)"></i><i style="height:2px;background:linear-gradient(90deg,#779cfc 0,#779cfc 161px)"></i><i style="height:2px;background:linear-gradient(90deg,#7a9afc 0,#7a9afc 161px)"></i><i style="height:2px;background:linear-gradient(90deg,#7d99fc 0,#7d99fc 161px)"></i><i style="height:2px;background:linear-gradient(90deg,#8097fc 0,#8097fc 161px)"></i><i style="height:2px;background:linear-gradient(90deg,#8395fc 0,#8395fc 161px)"></i><i style="height:2px;background:linear-gradient(90deg,#8694fc 0,#8694fc 161px)"></i><i style="height:2px;background:linear-gradient(90deg,#8992fc 0,#8992fc 161px)"></i><i style="height:2px;background:linear-gradient(90deg,#8c92fc 0,#8c92fc 161px)"></i><i style="height:2px;background:linear-gradient(90deg,#8e92fc 0,#8e92fc 161px)"></i><i style="height:2px;background:linear-gradient(90deg,#9091fb 0,#9091fb 161px)"></i><i style="height:2px;background:linear-gradient(90deg,#9191fb 0,#9191fb 161px)"></i><i style="height:2px;background:linear-gradient(90deg,#9391fb 0,#9391fb 161px)"></i><i style="height:2px;background:linear-gradient(90deg,#9491fb 0,#9491fb 161px)"></i><i style="height:2px;background:linear-gradient(90deg,#9691fb 0,#9691fb 161px)"></i><i style="height:2px;background:linear-gradient(90deg,#9791fb 0,#9791fb 161px)"></i><i style="height:2px;background:linear-gradient(90deg,#9991fb 0,#9991fb 161px)"></i><i style="height:2px;background:linear-gradient(90deg,#9a91fb 0,#9a91fb 161px)"></i><i style="height:2px;background:linear-gradient(90deg,#9c90fa 0,#9c90fa 161px)"></i><i style="height:2px;background:linear-gradient(90deg,#9d90fa 0,#9d90fa 161px)"></i><i style="height:2px;background:linear-gradient(90deg,#9f90fa 0,#9f90fa 161px)"></i><i style="height:2px;background:linear-gradient(90deg,#a090fa 0,#a090fa 161px)"></i><i style="height:2px;background:linear-gradient(90deg,#a292fa 0,#a292fa 161px)"></i><i style="height:2px;background:linear-gradient(90deg,#a393f9 0,#a393f9 161px)"></i><i style="height:2px;background:linear-gradient(90deg,#a595f9 0,#a595f9 161px)"></i><i style="height:2px;background:linear-gradient(90deg,#a595f9 0,#a595f9 161px)"></i><i style="height:2px;background:linear-gradient(90deg,#a696f9 0,#a696f9 161px)"></i><i style="height:2px;background:linear-gradient(90deg,#a797f9 0,#a797f9 161px)"></i><i style="height:2px;background:linear-gradient(90deg,#a797f9 0,#a797f9 161px)"></i><i style="height:2px;background:linear-gradient(90deg,#a898f9 0,#a898f9 161px)"></i><i style="height:2px;background:linear-gradient(90deg,#a999f8 0,#a999f8 161px)"></i><i style="height:2px;background:linear-gradient(90deg,#a999f8 0,#a999f8 161px)"></i><i style="height:2px;background:linear-gradient(90deg,#aa9af8 0,#aa9af8 161px)"></i><i style="height:2px;background:linear-gradient(90deg,#ab9bf8 0,#ab9bf8 161px)"></i><i style="height:2px;background:linear-gradient(90deg,#ab9bf8 0,#ab9bf8 161px)"></i><i style="height:2px;background:linear-gradient(90deg,#ac9cf8 0,#ac9cf8 161px)"></i><i style="height:2px;background:linear-gradient(90deg,#ad9df8 0,#ad9df8 161px)"></i><i style="height:2px;background:linear-gradient(90deg,#ad9df7 0,#ad9df7 161px)"></i><i style="height:2px;background:linear-gradient(90deg,#ae9ef7 0,#ae9ef7 161px)"></i><i style="height:2px;background:linear-gradient(90deg,#af9ff7 0,#af9ff7 161px)"></i><i style="height:2px;background:linear-gradient(90deg,#b0a0f7 0,#b0a0f7 161px)"></i><i style="height:2px;background:linear-gradient(90deg,#b0a0f7 0,#b0a0f7 161px)"></i><i style="height:2px;background:linear-gradient(90deg,#b1a1f7 0,#b1a1f7 161px)"></i><i style="height:2px;background:linear-gradient(90deg,#b2a2f7 0,#b2a2f7 161px)"></i><i style="height:2px;background:linear-gradient(90deg,#b2a2f7 0,#b2a2f7 161px)"></i><i style="height:2px;background:linear-gradient(90deg,#b3a3f6 0,#b3a3f6 161px)"></i><i style="height:2px;background:linear-gradient(90deg,#b4a4f6 0,#b4a4f6 161px)"></i><i style="height:2px;background:linear-gradient(90deg,#b5a5f6 0,#b5a5f6 161px)"></i><i style="height:2px;background:linear-gradient(90deg,#b6a6f6 0,#b6a6f6 161px)"></i><i style="height:2px;background:linear-gradient(90deg,#b7a7f6 0,#b7a7f6 161px)"></i><i style="height:2px;background:linear-gradient(90deg,#b8a8f6 0,#b8a8f6 161px)"></i><i style="height:2px;background:linear-gradient(90deg,#b9a9f5 0,#b9a9f5 161px)"></i><i style="height:2px;background:linear-gradient(90deg,#baaaf5 0,#baaaf5 161px)"></i><i style="height:2px;background:linear-gradient(90deg,#bbabf5 0,#bbabf5 161px)"></i><i style="height:2px;background:linear-gradient(90deg,#bcacf5 0,#bcacf5 161px)"></i><i style="height:2px;background:linear-gradient(90deg,#bdadf5 0,#bdadf5 161px)"></i><i style="height:2px;background:linear-gradient(90deg,#beaef4 0,#beaef4 161px)"></i><i style="height:2px;background:linear-gradient(90deg,#beaef4 0,#beaef4 161px)"></i><i style="height:2px;background:linear-gradient(90deg,#bfaff4 0,#bfaff4 161px)"></i><i style="height:2px;background:linear-gradient(90deg,#c0b0f4 0,#c0b0f4 161px)"></i><i style="height:2px;background:linear-gradient(90deg,#c1b2f4 0,#c1b2f4 161px)"></i><i style="height:2px;background:linear-gradient(90deg,#c2b3f4 0,#c2b3f4 161px)"></i><i style="height:2px;background:linear-gradient(90deg,#c3b4f4 0,#c3b4f4 161px)"></i><i style="height:2px;background:linear-gradient(90deg,#c4b5f4 0,#c4b5f4 161px)"></i><i style="height:2px;background:linear-gradient(90deg,#c5b6f4 0,#c5b6f4 161px)"></i><i style="height:2px;background:linear-gradient(90deg,#c6b7f4 0,#c6b7f4 161px)"></i><i style="height:2px;background:linear-gradient(90deg,#c7b8f4 0,#c7b8f4 161px)"></i><i style="height:2px;background:linear-gradient(90deg,#c7baf4 0,#c7baf4 161px)"></i><i style="height:1.7px;background:linear-gradient(90deg,#c8bbf4 0,#c8bbf4 161px)"></i></div>
<div class="hm" style="left:1567.6px;top:525px;width:161px"><i style="height:2px;background:linear-gradient(90deg,#e8e3f6 0,#e8e3f6 161px)"></i><i style="height:2px;background:linear-gradient(90deg,#e7e3f6 0,#e7e3f6 161px)"></i><i style="height:2px;background:linear-gradient(90deg,#e7e3f6 0,#e7e3f6 161px)"></i><i style="height:2px;background:linear-gradient(90deg,#e7e3f6 0,#e7e3f6 161px)"></i><i style="height:2px;background:linear-gradient(90deg,#e7e3f6 0,#e7e3f6 161px)"></i><i style="height:2px;background:linear-gradient(90deg,#e7e3f6 0,#e7e3f6 161px)"></i><i style="height:2px;background:linear-gradient(90deg,#e7e3f6 0,#e7e3f6 161px)"></i><i style="height:2px;background:linear-gradient(90deg,#e7e3f6 0,#e7e3f6 161px)"></i><i style="height:2px;background:linear-gradient(90deg,#e7e3f6 0,#e7e3f6 161px)"></i><i style="height:2px;background:linear-gradient(90deg,#e7e3f6 0,#e7e3f6 161px)"></i><i style="height:2px;background:linear-gradient(90deg,#e7e3f6 0,#e7e3f6 161px)"></i><i style="height:2px;background:linear-gradient(90deg,#e7e3f6 0,#e7e3f6 161px)"></i><i style="height:2px;background:linear-gradient(90deg,#e7e3f6 0,#e7e3f6 161px)"></i><i style="height:2px;background:linear-gradient(90deg,#e7e3f6 0,#e7e3f6 161px)"></i><i style="height:2px;background:linear-gradient(90deg,#e7e3f6 0,#e7e3f6 161px)"></i><i style="height:2px;background:linear-gradient(90deg,#e7e3f6 0,#e7e3f6 161px)"></i><i style="height:2px;background:linear-gradient(90deg,#e7e3f6 0,#e7e3f6 161px)"></i><i style="height:2px;background:linear-gradient(90deg,#e7e2f6 0,#e7e2f6 161px)"></i><i style="height:2px;background:linear-gradient(90deg,#e7e2f6 0,#e7e2f6 161px)"></i><i style="height:2px;background:linear-gradient(90deg,#e7e2f6 0,#e7e2f6 161px)"></i><i style="height:2px;background:linear-gradient(90deg,#e7e2f6 0,#e7e2f6 161px)"></i><i style="height:2px;background:linear-gradient(90deg,#e7e2f6 0,#e7e2f6 161px)"></i><i style="height:2px;background:linear-gradient(90deg,#e7e2f6 0,#e7e2f6 161px)"></i><i style="height:2px;background:linear-gradient(90deg,#e6e2f6 0,#e6e2f6 161px)"></i><i style="height:2px;background:linear-gradient(90deg,#e6e2f6 0,#e6e2f6 161px)"></i><i style="height:2px;background:linear-gradient(90deg,#e6e2f6 0,#e6e2f6 161px)"></i><i style="height:2px;background:linear-gradient(90deg,#e6e2f6 0,#e6e2f6 161px)"></i><i style="height:2px;background:linear-gradient(90deg,#e6e2f6 0,#e6e2f6 161px)"></i><i style="height:2px;background:linear-gradient(90deg,#e6e2f6 0,#e6e2f6 161px)"></i><i style="height:2px;background:linear-gradient(90deg,#e6e2f6 0,#e6e2f6 161px)"></i><i style="height:2px;background:linear-gradient(90deg,#e6e2f6 0,#e6e2f6 161px)"></i><i style="height:2px;background:linear-gradient(90deg,#e6e2f6 0,#e6e2f6 161px)"></i><i style="height:2px;background:linear-gradient(90deg,#e6e2f6 0,#e6e2f6 161px)"></i><i style="height:2px;background:linear-gradient(90deg,#e6e2f6 0,#e6e2f6 161px)"></i><i style="height:2px;background:linear-gradient(90deg,#e6e1f6 0,#e6e1f6 161px)"></i><i style="height:2px;background:linear-gradient(90deg,#e6e1f6 0,#e6e1f6 161px)"></i><i style="height:2px;background:linear-gradient(90deg,#e6e1f6 0,#e6e1f6 161px)"></i><i style="height:2px;background:linear-gradient(90deg,#e6e1f6 0,#e6e1f6 161px)"></i><i style="height:2px;background:linear-gradient(90deg,#e5e1f6 0,#e5e1f6 161px)"></i><i style="height:2px;background:linear-gradient(90deg,#e5e0f6 0,#e5e0f6 161px)"></i><i style="height:2px;background:linear-gradient(90deg,#e5e0f6 0,#e5e0f6 161px)"></i><i style="height:2px;background:linear-gradient(90deg,#e4dff6 0,#e4dff6 161px)"></i><i style="height:2px;background:linear-gradient(90deg,#e4dff6 0,#e4dff6 161px)"></i><i style="height:2px;background:linear-gradient(90deg,#e4def6 0,#e4def6 161px)"></i><i style="height:2px;background:linear-gradient(90deg,#e3def6 0,#e3def6 161px)"></i><i style="height:2px;background:linear-gradient(90deg,#e3ddf6 0,#e3ddf6 161px)"></i><i style="height:2px;background:linear-gradient(90deg,#e2ddf6 0,#e2ddf6 161px)"></i><i style="height:2px;background:linear-gradient(90deg,#e2dcf6 0,#e2dcf6 161px)"></i><i style="height:2px;background:linear-gradient(90deg,#e2dcf6 0,#e2dcf6 161px)"></i><i style="height:2px;background:linear-gradient(90deg,#e1dbf6 0,#e1dbf6 161px)"></i><i style="height:2px;background:linear-gradient(90deg,#e1dbf6 0,#e1dbf6 161px)"></i><i style="height:2px;background:linear-gradient(90deg,#e0daf6 0,#e0daf6 161px)"></i><i style="height:2px;background:linear-gradient(90deg,#e0daf5 0,#e0daf5 161px)"></i><i style="height:2px;background:linear-gradient(90deg,#e0d9f5 0,#e0d9f5 161px)"></i><i style="height:2px;background:linear-gradient(90deg,#dfd9f5 0,#dfd9f5 161px)"></i><i style="height:2px;background:linear-gradient(90deg,#dfd8f5 0,#dfd8f5 161px)"></i><i style="height:2px;background:linear-gradient(90deg,#ded8f5 0,#ded8f5 161px)"></i><i style="height:2px;background:linear-gradient(90deg,#ded7f5 0,#ded7f5 161px)"></i><i style="height:2px;background:linear-gradient(90deg,#ddd5f5 0,#ddd5f5 161px)"></i><i style="height:2px;background:linear-gradient(90deg,#dbd4f5 0,#dbd4f5 161px)"></i><i style="height:2px;background:linear-gradient(90deg,#dad2f5 0,#dad2f5 161px)"></i><i style="height:2px;background:linear-gradient(90deg,#d9d0f5 0,#d9d0f5 161px)"></i><i style="height:2px;background:linear-gradient(90deg,#d7cef5 0,#d7cef5 161px)"></i><i style="height:2px;background:linear-gradient(90deg,#d6cdf5 0,#d6cdf5 161px)"></i><i style="height:2px;background:linear-gradient(90deg,#d5cbf5 0,#d5cbf5 161px)"></i><i style="height:2px;background:linear-gradient(90deg,#d3c9f5 0,#d3c9f5 161px)"></i><i style="height:2px;background:linear-gradient(90deg,#d2c8f5 0,#d2c8f5 161px)"></i><i style="height:2px;background:linear-gradient(90deg,#d1c6f5 0,#d2c7f5 51px,#d1c6f5 161px)"></i><i style="height:2px;background:linear-gradient(90deg,#d0c5f5 0,#d3c8f5 41px,#d0c5f5 104px,#d3c8f5 145px,#d0c5f5 161px)"></i><i style="height:2px;background:linear-gradient(90deg,#cfc4f5 0,#d3c9f5 33px,#cec2f5 84px,#d4caf5 135px,#cfc4f5 161px)"></i><i style="height:2px;background:linear-gradient(90deg,#cdc2f5 0,#d3c9f5 33px,#ccbff5 84px,#d3c9f5 135px,#cec2f5 161px)"></i><i style="height:2px;background:linear-gradient(90deg,#cbbef5 0,#d2c8f5 33px,#c9bcf4 74px,#cfc3f5 115px,#d1c6f5 142px,#cbbef5 161px)"></i><i style="height:2px;background:linear-gradient(90deg,#c9bbf4 0,#d2c7f5 27px,#c6b8f4 78px,#cbbff5 111px,#d1c6f5 138px,#c9bbf4 161px)"></i><i style="height:2px;background:linear-gradient(90deg,#c6b8f4 0,#d1c6f5 27px,#c3b4f4 78px,#cabdf4 111px,#d1c6f5 133px,#c6b8f4 161px)"></i><i style="height:2px;background:linear-gradient(90deg,#c4b5f4 0,#d0c5f5 27px,#c6b8f4 54px,#c0b0f4 81px,#c6b8f4 108px,#d0c5f5 130px,#c9bbf4 152px,#c4b5f4 161px)"></i><i style="height:2px;background:linear-gradient(90deg,#c1b2f4 0,#cfc3f5 27px,#c6b8f4 49px,#bdadf5 76px,#c1b2f4 103px,#cfc3f5 130px,#c9bcf4 148px,#c1b2f4 161px)"></i><i style="height:2px;background:linear-gradient(90deg,#beaef4 0,#cdc1f5 27px,#c4b6f4 49px,#baaaf5 76px,#bfaff4 103px,#cdc1f5 130px,#c7b9f4 148px,#bfaff4 161px)"></i><i style="height:2px;background:linear-gradient(90deg,#bbabf5 0,#cbbff5 27px,#c5b6f4 45px,#b7a7f6 72px,#baaaf5 99px,#cbbff5 132px,#c3b4f4 150px,#bcacf5 161px)"></i><i style="height:2px;background:linear-gradient(90deg,#b8a8f5 0,#c9bbf4 27px,#c2b2f4 45px,#b4a4f6 72px,#b7a7f6 99px,#c9bbf4 132px,#bdadf5 154px,#b8a8f5 161px)"></i><i style="height:2px;background:linear-gradient(90deg,#b5a5f6 0,#c5b7f4 27px,#bcacf5 49px,#b0a0f7 76px,#b5a5f6 103px,#c5b7f4 130px,#bfaff4 148px,#b5a5f6 161px)"></i><i style="height:2px;background:linear-gradient(90deg,#b1a1f7 0,#c1b1f4 27px,#b4a4f6 54px,#ad9df8 81px,#b5a5f6 108px,#c1b1f4 130px,#b7a7f6 152px,#b1a1f7 161px)"></i><i style="height:2px;background:linear-gradient(90deg,#ac9cf8 0,#bcacf5 27px,#a999f8 78px,#af9ff7 105px,#bcacf5 132px,#ac9cf8 161px)"></i><i style="height:2px;background:linear-gradient(90deg,#a898f9 0,#b6a6f6 27px,#a595f9 78px,#ad9df7 111px,#b6a6f6 133px,#a898f9 161px)"></i><i style="height:2px;background:linear-gradient(90deg,#a393f9 0,#b0a0f7 27px,#a292fa 78px,#a999f8 111px,#af9ff7 138px,#a393f9 161px)"></i><i style="height:2px;background:linear-gradient(90deg,#9e90fa 0,#aa9af8 27px,#9f90fa 68px,#a393f9 109px,#aa9af8 136px,#9e90fa 161px)"></i><i style="height:2px;background:linear-gradient(90deg,#9991fb 0,#a494f9 33px,#9a91fb 84px,#a494f9 135px,#9991fb 161px)"></i><i style="height:2px;background:linear-gradient(90deg,#9591fb 0,#9e90fa 33px,#9791fb 84px,#9e90fa 135px,#9591fb 161px)"></i><i style="height:2px;background:linear-gradient(90deg,#9091fb 0,#9991fb 33px,#9491fb 96px,#9891fb 137px,#9091fb 161px)"></i><i style="height:2px;background:linear-gradient(90deg,#8b92fc 0,#9391fb 33px,#8f92fc 96px,#9391fb 137px,#8b92fc 161px)"></i><i style="height:2px;background:linear-gradient(90deg,#8495fc 0,#8e92fc 33px,#8c92fc 111px,#8c92fc 144px,#8495fc 161px)"></i><i style="height:2px;background:linear-gradient(90deg,#7e98fc 0,#8893fc 33px,#8893fc 130px,#7e98fc 161px)"></i><i style="height:2px;background:linear-gradient(90deg,#779cfc 0,#8296fc 33px,#8296fc 130px,#779cfc 161px)"></i><i style="height:2px;background:linear-gradient(90deg,#719ffc 0,#7d99fc 33px,#7d99fc 130px,#719ffc 161px)"></i><i style="height:2px;background:linear-gradient(90deg,#67a6fb 0,#779cfc 27px,#779cfc 124px,#729efc 146px,#67a6fb 161px)"></i><i style="height:2px;background:linear-gradient(90deg,#5caffb 0,#709ffc 22px,#729ffc 119px,#6fa0fc 141px,#5caffb 161px)"></i><i style="height:2px;background:linear-gradient(90deg,#779cfc 0,#8794fc 27px,#8793fc 124px,#8296fc 146px,#779cfc 161px)"></i><i style="height:2px;background:linear-gradient(90deg,#6fa0fc 0,#8197fc 27px,#8196fc 124px,#7b9afc 146px,#6fa0fc 161px)"></i><i style="height:2px;background:linear-gradient(90deg,#63a9fb 0,#799bfc 22px,#7c99fc 119px,#789bfc 141px,#63a9fb 161px)"></i><i style="height:2px;background:linear-gradient(90deg,#56b3fa 0,#63a9fb 10px,#729efc 20px,#759dfc 61px,#739efc 139px,#68a6fb 149px,#57b3fa 159px,#56b3fa 161px)"></i><i style="height:2px;background:linear-gradient(90deg,#49bef9 0,#57b3fa 10px,#6ca2fc 22px,#70a0fc 55px,#6ba3fc 88px,#70a0fc 129px,#6aa4fc 141px,#4abdf9 159px,#49bef9 161px)"></i><i style="height:2px;background:linear-gradient(90deg,#3cc8f8 0,#47c0f9 8px,#60acfb 20px,#68a6fb 38px,#63a9fb 65px,#5ab1fa 83px,#67a6fb 110px,#64a8fb 137px,#51b7fa 149px,#3dc7f8 159px,#3cc8f8 161px)"></i><i style="height:2px;background:linear-gradient(90deg,#35d2f5 0,#3fc5f8 10px,#59b1fa 22px,#5fadfb 44px,#59b1fa 62px,#46c0f9 80px,#55b5fa 95px,#5eadfb 113px,#5caffb 135px,#50b9fa 145px,#39ccf7 155px,#35d2f5 161px)"></i><i style="height:2px;background:linear-gradient(90deg,#2edcf1 0,#38cef6 10px,#4fb9fa 22px,#55b4fa 40px,#51b7fa 58px,#36d0f5 76px,#37cff6 86px,#52b7fa 104px,#55b5fa 131px,#49bdf9 143px,#32d6f3 155px,#2edcf1 161px)"></i><i style="height:2px;background:linear-gradient(90deg,#2ae1f0 0,#32d6f3 8px,#4abdf9 20px,#53b6fa 32px,#51b7fa 54px,#42c3f8 64px,#2bdff0 76px,#2ae1f0 84px,#3ec6f8 96px,#50b8fa 106px,#52b7fa 133px,#47c0f9 143px,#2fdaf2 155px,#2ae1f0 161px)"></i><i style="height:2px;background:linear-gradient(90deg,#26e6ee 0,#2fdbf2 8px,#47bff9 20px,#51b7fa 32px,#4fb9f9 54px,#3acbf7 64px,#22ecec 74px,#2aefdc 79px,#28eee0 84px,#23eaed 88px,#41c4f8 100px,#4fb9fa 108px,#4fb9fa 135px,#3ec6f8 145px,#29e2ef 157px,#26e6ee 161px)"></i><i style="height:2px;background:linear-gradient(90deg,#23ebec 0,#2bdff0 8px,#45c1f9 20px,#50b9fa 32px,#4cbcf9 54px,#39ccf7 62px,#23ecea 70px,#36f3c4 76px,#42f4b5 80px,#3ef4ba 83px,#28eee1 90px,#24eaed 92px,#3bc9f8 100px,#4cbbf9 108px,#50b9fa 130px,#47bff9 140px,#24e9ed 158px,#23ebec 161px)"></i><i style="height:2px;background:linear-gradient(90deg,#26ede5 0,#24e9ed 6px,#44c2f9 21px,#4ebaf9 33px,#4cbbf9 51px,#3cc8f8 59px,#27e5ee 66px,#23ebec 67px,#3bf4bd 72px,#64f48f 76px,#76f47b 79px,#77f47a 82px,#67f48c 85px,#36f3c4 90px,#23eceb 94px,#39ccf7 101px,#4bbcf9 109px,#4dbaf9 131px,#42c3f9 141px,#23ebec 156px,#26ede5 161px)"></i><i style="height:2px;background:linear-gradient(90deg,#2aefdc 0,#24ede9 6px,#3bcaf7 18px,#4abdf9 28px,#4bbcf9 50px,#3cc9f8 58px,#28e4ef 64px,#23ebec 65px,#35f3c6 68px,#80f470 72px,#aff44c 76px,#c5f43b 79px,#c6f33a 82px,#b2f44a 85px,#84f46d 89px,#60f493 91px,#37f4c1 93px,#23eceb 96px,#39cdf6 102px,#4abdf9 110px,#4bbcf9 132px,#3dc7f8 142px,#23eaed 154px,#2aefdc 161px)"></i><i style="height:2px;background:linear-gradient(90deg,#2ef1d3 0,#29efdd 5px,#24eaed 9px,#3bcaf7 19px,#49bef9 29px,#49bef9 51px,#39ccf7 58px,#26e7ee 63px,#25ede6 64px,#37f4c2 66px,#55f4a0 67px,#7bf476 68px,#c7f33a 70px,#e0ea28 71px,#f1e01b 72px,#fcb70f 76px,#fc990b 79px,#fc940a 81px,#fc9e0b 83px,#f6d016 88px,#f2dc1a 89px,#e7e723 90px,#cff034 91px,#87f46b 93px,#3ef4ba 95px,#30f1d1 96px,#24eaed 98px,#39cdf6 103px,#48bef9 110px,#49bef9 132px,#3bc9f8 142px,#24e9ed 152px,#25ede7 154px,#2ef0d4 160px,#2ef0d3 161px)"></i><i style="height:2px;background:linear-gradient(90deg,#33f2ca 0,#2ef0d5 5px,#23ebec 10px,#3bcaf7 20px,#48bff9 30px,#4abdf9 48px,#40c5f8 55px,#30d9f2 60px,#25e7ee 62px,#26ede4 63px,#2ff1d1 64px,#41f4b6 65px,#6bf487 66px,#9ff459 67px,#d6ee2f 68px,#f7ce15 69px,#fc990b 70px,#fc6108 71px,#f73c0b 72px,#f0290f 73px,#e81414 75px,#c50625 80px,#c80724 82px,#e61315 86px,#ee2510 88px,#f5350c 89px,#fc5208 90px,#fc8908 91px,#fbc011 92px,#e5e824 93px,#b0f44c 94px,#7af477 95px,#4cf4a9 96px,#33f2cb 97px,#29eedf 98px,#23eaed 99px,#36d0f5 103px,#47bff9 110px,#47bff9 132px,#39ccf7 142px,#23ecea 152px,#31f1cf 158px,#33f2ca 161px)"></i><i style="height:2px;background:linear-gradient(90deg,#38f4c0 0,#32f2cc 5px,#23ebec 11px,#37cef6 19px,#45c1f9 29px,#49bef9 51px,#3acaf7 58px,#2ae0f0 62px,#24eaed 63px,#2aefdd 64px,#36f3c4 65px,#5ff494 66px,#99f45d 67px,#d7ed2e 68px,#f9c613 69px,#fc8808 70px,#fc4708 71px,#f0290f 72px,#e91813 73px,#d40c1e 77px,#c00428 80px,#c30527 82px,#e41216 87px,#e81514 88px,#ed2211 89px,#f73c0b 90px,#fc7208 91px,#fcb50f 92px,#e8e722 93px,#acf44e 94px,#6ff482 95px,#3ef4b9 96px,#2df0d6 97px,#23ecea 98px,#37cff6 102px,#46c0f9 108px,#48bef9 123px,#43c2f9 135px,#32d6f3 145px,#23ece9 151px,#35f3c6 158px,#38f4c1 161px)"></i><i style="height:2px;background:linear-gradient(90deg,#45f4b2 0,#3af4be 4px,#23ebec 12px,#37cef6 20px,#44c2f9 30px,#4bbdf9 52px,#41c4f8 60px,#35d2f5 64px,#28e3ef 66px,#26ede4 67px,#33f2ca 68px,#74f47d 70px,#8df466 71px,#9291fb 72px,#9291fb 90px,#7df473 91px,#37f4c2 93px,#2aefdd 94px,#26e7ee 95px,#34d4f4 97px,#43c2f9 102px,#4bbdf9 112px,#42c3f8 134px,#32d6f3 144px,#23ede9 150px,#3df4ba 158px,#45f4b2 161px)"></i><i style="height:2px;background:linear-gradient(90deg,#52f4a3 0,#4cf4aa 3px,#35f3c5 7px,#23eaed 13px,#38cef6 21px,#44c2f9 33px,#4cbbf9 55px,#44c2f9 65px,#33d4f4 71px,#9191fb 72px,#9191fb 90px,#34d3f4 91px,#47c0f9 98px,#4cbbf9 110px,#42c3f8 132px,#35d2f5 142px,#23ecea 149px,#3ef4b9 156px,#51f4a4 160px,#52f4a3 161px)"></i><i style="height:2px;background:linear-gradient(90deg,#60f493 0,#59f49b 3px,#33f2cb 9px,#24ede9 13px,#36d0f5 21px,#42c3f9 33px,#4ebaf9 55px,#42c3f8 70px,#42c3f8 71px,#9091fb 72px,#9091fb 90px,#42c3f8 91px,#4ebaf9 109px,#3cc8f8 136px,#2edbf2 144px,#22eceb 148px,#3af4be 154px,#58f49d 158px,#60f494 161px)"></i><i style="height:2px;background:linear-gradient(90deg,#6ef484 0,#67f48c 3px,#48f4ae 7px,#36f3c3 9px,#23eceb 14px,#36d0f5 22px,#41c4f8 34px,#51b8fa 52px,#44c2f9 70px,#43c3f9 71px,#8f92fc 72px,#8f92fc 90px,#43c2f9 91px,#51b7fa 109px,#3bcaf7 136px,#2cdef1 144px,#22ebec 147px,#3bf4bd 153px,#5ff495 157px,#6df485 160px,#6ef484 161px)"></i><i style="height:2px;background:linear-gradient(90deg,#7cf474 0,#74f47d 3px,#54f4a1 7px,#36f3c4 10px,#22ebec 15px,#35d2f5 22px,#40c5f8 34px,#55b4fa 52px,#4dbbf9 62px,#43c3f9 70px,#42c3f8 71px,#8e92fc 72px,#8e92fc 90px,#43c3f9 91px,#55b4fa 106px,#4dbbf9 116px,#37cff6 138px,#27e5ee 145px,#24ede8 147px,#3bf4bd 152px,#64f48f 156px,#78f479 159px,#7cf474 161px)"></i><i style="height:2px;background:linear-gradient(90deg,#8af468 0,#82f46f 3px,#6bf488 6px,#3df4bb 10px,#24ede8 15px,#32d6f3 21px,#3cc8f8 31px,#4bbcf9 43px,#5caffa 53px,#52b6fa 61px,#41c4f8 71px,#8d92fc 72px,#8d92fc 90px,#42c3f8 91px,#5bb0fa 106px,#54b5fa 114px,#40c5f8 126px,#36d0f5 138px,#23ecea 146px,#39f4bf 151px,#71f481 156px,#80f470 158px,#8af468 161px)"></i><i style="height:2px;background:linear-gradient(90deg,#97f45e 0,#8ff465 3px,#81f46f 5px,#47f4b0 10px,#3af4be 11px,#22eceb 16px,#34d3f4 23px,#43c3f9 38px,#60acfb 50px,#62aafb 56px,#41c4f8 71px,#8c92fc 72px,#8c92fc 90px,#42c3f8 91px,#63a9fb 106px,#5daefb 113px,#40c5f8 125px,#36d0f5 137px,#26e6ee 144px,#23ebec 145px,#37f4c2 150px,#7ef472 156px,#92f462 159px,#97f45e 161px)"></i><i style="height:2px;background:linear-gradient(90deg,#a3f456 0,#9af45c 3px,#81f46f 6px,#36f3c4 12px,#24ede8 16px,#34d3f4 23px,#45c1f9 38px,#6ba3fc 50px,#6ea1fc 56px,#42c3f9 71px,#8b92fc 72px,#8b92fc 90px,#44c2f9 91px,#6fa0fc 106px,#69a4fc 112px,#44c2f9 124px,#32d5f4 139px,#23eceb 145px,#3cf4bb 150px,#7ef473 155px,#98f45e 158px,#a3f456 161px)"></i><i style="height:2px;background:linear-gradient(90deg,#aef44d 0,#a4f454 3px,#7ff471 7px,#39f4bf 12px,#23ebec 17px,#35d2f5 24px,#43c2f9 36px,#5fadfb 44px,#739efc 49px,#789bfc 55px,#69a4fc 61px,#49bef9 69px,#44c2f9 71px,#8992fc 72px,#8992fc 90px,#46c0f9 91px,#63a9fb 99px,#759dfc 104px,#779cfc 110px,#69a4fc 115px,#49bef9 123px,#3acbf7 133px,#2ddcf1 141px,#24ede8 145px,#37f4c2 149px,#7bf475 154px,#9bf45b 157px,#acf44e 160px,#aef44d 161px)"></i><i style="height:2px;background:linear-gradient(90deg,#b8f445 0,#aff44c 3px,#94f461 6px,#7af476 8px,#3ff4b8 12px,#30f1d0 14px,#22eceb 17px,#35d2f5 24px,#45c1f9 36px,#62aafb 43px,#799bfc 48px,#8396fc 54px,#769cfc 60px,#63a9fb 64px,#46c0f9 71px,#8893fc 72px,#8893fc 90px,#48bff9 91px,#67a6fb 98px,#7f98fc 104px,#8396fc 109px,#6fa0fc 116px,#4cbcf9 123px,#3bc9f8 131px,#32d6f3 139px,#23ebec 144px,#34f2c9 148px,#3bf4bd 149px,#84f46d 154px,#adf44e 158px,#b8f445 161px)"></i><i style="height:2px;background:linear-gradient(90deg,#c3f43d 0,#b9f445 3px,#9df45a 6px,#83f46e 8px,#37f4c2 13px,#23ede9 17px,#34d2f5 24px,#42c3f8 34px,#58b2fa 40px,#759dfc 45px,#8c92fc 51px,#8c92fc 56px,#729efc 63px,#4cbbf9 70px,#49bef9 71px,#8794fc 72px,#8794fc 90px,#4bbcf9 91px,#6aa4fc 97px,#8a92fc 104px,#8e92fc 109px,#7b9afc 115px,#5facfb 120px,#45c1f9 126px,#33d4f4 138px,#22eceb 144px,#36f3c5 148px,#50f4a5 150px,#7ef472 153px,#aff44c 157px,#c1f43e 160px,#c3f43d 161px)"></i><i style="height:2px;background:linear-gradient(90deg,#cbf137 0,#c3f43d 3px,#a5f453 6px,#7bf475 9px,#3bf4bd 13px,#25ede7 17px,#27e5ee 19px,#37cff6 26px,#43c2f9 34px,#5eaefb 40px,#7d99fc 45px,#9491fb 50px,#9991fb 55px,#8a92fc 60px,#67a6fb 66px,#4bbcf9 71px,#8594fc 72px,#8594fc 90px,#4ebaf9 91px,#7d99fc 99px,#9491fb 104px,#9991fb 109px,#8a92fc 114px,#67a6fb 120px,#4bbcf9 125px,#3acbf7 133px,#2cdff0 141px,#23ece9 144px,#37f4c1 148px,#86f46b 153px,#b8f445 157px,#caf238 160px,#cbf137 161px)"></i><i style="height:2px;background:linear-gradient(90deg,#d3ef31 0,#caf238 3px,#baf444 5px,#82f46e 9px,#40f4b7 13px,#30f1d1 15px,#23ebec 18px,#34d3f4 24px,#45c1f9 34px,#5daefb 39px,#7f97fc 44px,#9b90fa 49px,#a696f9 54px,#9891fb 59px,#8196fc 63px,#67a7fb 67px,#4ebaf9 71px,#8495fc 72px,#8495fc 90px,#51b7fa 91px,#7f97fc 98px,#9b90fa 103px,#a696f9 108px,#9891fb 113px,#8196fc 117px,#66a7fb 121px,#49bef9 126px,#3acbf7 133px,#2be0f0 141px,#24ede7 144px,#3bf4bd 148px,#7ef473 152px,#b6f447 156px,#cef035 159px,#d3ef31 161px)"></i><i style="height:2px;background:linear-gradient(90deg,#daec2c 0,#d1ef32 3px,#c2f43e 5px,#89f469 9px,#37f3c3 14px,#22ecec 18px,#34d4f4 24px,#40c5f8 32px,#54b5fa 37px,#8097fc 43px,#a191fa 48px,#b1a1f7 52px,#af9ff7 56px,#9d90fa 60px,#8296fc 64px,#65a8fb 68px,#51b7fa 71px,#8396fc 72px,#8396fc 90px,#55b4fa 91px,#8097fc 97px,#a191fa 102px,#b1a1f7 106px,#af9ff7 110px,#9d90fa 114px,#8296fc 118px,#65a8fb 122px,#48bff9 127px,#39cdf6 134px,#2ae0f0 141px,#23eaed 143px,#35f3c6 147px,#3ff4b8 148px,#84f46d 152px,#bef440 156px,#d5ee30 159px,#daec2c 161px)"></i><i style="height:2px;background:linear-gradient(90deg,#e1ea27 0,#d8ed2e 3px,#bdf441 6px,#7ef472 10px,#38f4c0 14px,#23ecea 18px,#35d1f5 25px,#44c1f9 33px,#5facfb 38px,#7f98fc 42px,#9d90fa 46px,#bbabf5 51px,#bfaff4 55px,#ad9df7 59px,#9f90fa 61px,#8296fc 65px,#54b5fa 71px,#8197fc 72px,#8197fc 90px,#59b2fa 91px,#7f98fc 96px,#9d90fa 100px,#bbabf5 105px,#bfaff4 109px,#ad9df7 113px,#9f90fa 115px,#8296fc 119px,#4ebaf9 126px,#3bc9f8 132px,#2dddf1 140px,#22ecec 143px,#36f3c4 147px,#67f48c 150px,#8af468 152px,#c5f33b 156px,#dbec2b 159px,#e1ea27 161px)"></i><i style="height:2px;background:linear-gradient(90deg,#e7e723 0,#deeb29 3px,#c4f43c 6px,#83f46e 10px,#3bf4bc 14px,#24ede9 18px,#35d2f5 25px,#42c3f8 32px,#5caffa 37px,#7d99fc 41px,#9e90fa 45px,#c3b4f4 50px,#ccc0f5 53px,#c9bbf4 56px,#b1a1f7 60px,#a090fa 62px,#7f98fc 66px,#57b3fa 71px,#8097fc 72px,#8097fc 90px,#5caffb 91px,#7d99fc 95px,#9e90fa 99px,#c3b4f4 104px,#ccc0f5 107px,#c9bbf4 110px,#b1a1f7 114px,#a090fa 116px,#7f98fc 120px,#5eadfb 124px,#43c2f9 129px,#2fdaf2 139px,#22eceb 143px,#37f4c1 147px,#7ef472 151px,#bff43f 155px,#dceb2b 158px,#e7e723 161px)"></i><i style="height:2px;background:linear-gradient(90deg,#ede51f 0,#e3e925 3px,#c9f239 6px,#88f46a 10px,#3ff4b9 14px,#2ff1d3 16px,#24ede7 18px,#2bdff0 21px,#3bc9f8 29px,#51b8fa 35px,#8296fc 41px,#9c90fa 44px,#ae9ef7 46px,#cec2f5 50px,#d8cff5 53px,#d4caf5 56px,#baaaf5 60px,#9e90fa 63px,#8495fc 66px,#5ab0fa 71px,#7f98fc 72px,#7f98fc 90px,#60acfb 91px,#8b92fc 96px,#9c90fa 98px,#ae9ef7 100px,#cec2f5 104px,#d8cff5 107px,#d4caf5 110px,#baaaf5 114px,#9e90fa 117px,#8495fc 120px,#53b6fa 126px,#3bc9f8 132px,#2cdef1 140px,#23ecea 143px,#39f4be 147px,#83f46e 151px,#c5f43b 155px,#e1e927 158px,#ece51f 161px)"></i><i style="height:2px;background:linear-gradient(90deg,#f0e31c 0,#e8e722 3px,#cdf136 6px,#9ef459 9px,#7af477 11px,#42f4b5 14px,#35f3c6 15px,#25ede6 18px,#27e5ee 20px,#38cdf6 27px,#48bff9 33px,#62aafb 37px,#8694fc 41px,#a191fa 44px,#d0c5f5 49px,#e0daf6 52px,#e1dbf6 55px,#d3c8f5 58px,#a494f9 63px,#9291fb 65px,#6fa0fc 69px,#5daefb 71px,#7d99fc 72px,#7d99fc 90px,#63aafb 91px,#8f92fc 96px,#a191fa 98px,#d0c5f5 103px,#e0daf6 106px,#e1dbf6 109px,#d2c8f5 112px,#a494f9 117px,#9291fb 119px,#6fa0fc 123px,#4ebaf9 127px,#3cc9f8 132px,#2cdef1 140px,#24ede9 143px,#3cf4bb 147px,#87f46b 151px,#c9f238 155px,#e6e823 158px,#f0e31c 161px)"></i><i style="height:2px;background:linear-gradient(90deg,#f2df1a 0,#ece51f 3px,#d1ef33 6px,#b4f448 8px,#7df473 11px,#44f4b3 14px,#36f3c4 15px,#23ebec 19px,#35d2f5 25px,#44c1f9 32px,#5caffa 36px,#779cfc 39px,#9291fb 42px,#9c90fa 43px,#b1a1f7 45px,#dfd9f5 50px,#ebe8f6 53px,#e6e2f6 56px,#d2c8f5 59px,#9f90fa 64px,#8396fc 67px,#5fadfb 71px,#7c99fc 72px,#7c99fc 90px,#65a8fb 91px,#8a92fc 95px,#9c90fa 97px,#b1a1f7 99px,#dfd9f5 104px,#ebe8f6 107px,#e6e2f6 110px,#d2c8f5 113px,#9f90fa 118px,#8296fc 121px,#50b9fa 127px,#3cc9f8 132px,#2cdff0 140px,#24ede8 143px,#34f3c8 146px,#3ff4b9 147px,#8af468 151px,#c0f43f 154px,#e2e926 157px,#f0e41c 159px,#f2df1a 161px)"></i><i style="height:2px;background:linear-gradient(90deg,#f3db19 0,#f0e41c 3px,#d4ee30 6px,#b8f445 8px,#80f470 11px,#37f4c3 15px,#23ebec 19px,#35d2f5 25px,#45c1f9 32px,#5daefb 36px,#8296fc 40px,#9f90fa 43px,#d5cbf5 48px,#ebe8f6 51px,#ebe8f6 56px,#e0daf5 58px,#ad9df7 63px,#a292fa 64px,#8595fc 67px,#61abfb 71px,#7b9afc 72px,#7b9afc 90px,#67a6fb 91px,#8c92fc 95px,#9f90fa 97px,#d5cbf5 102px,#ebe8f6 105px,#ebe8f6 110px,#e0daf5 112px,#ad9df8 117px,#a292fa 118px,#8595fc 121px,#51b8fa 127px,#3cc8f8 132px,#2bdff0 140px,#24ede7 143px,#35f3c6 146px,#41f4b6 147px,#7af477 150px,#c4f43c 154px,#e6e824 157px,#f1e01b 159px,#f3db19 161px)"></i><i style="height:2px;background:linear-gradient(90deg,#f4d818 0,#f1e21b 3px,#e2e926 5px,#bbf443 8px,#82f46e 11px,#37f4c1 15px,#22ebec 19px,#35d2f5 25px,#45c1f9 32px,#5eadfb 36px,#8395fc 40px,#a191fa 43px,#d8cff5 48px,#e9e5f6 50px,#ebe8f6 57px,#c7b8f4 61px,#a494f9 64px,#9091fb 66px,#6ba3fc 70px,#62abfb 71px,#799bfc 72px,#799bfc 90px,#68a5fb 91px,#8d92fc 95px,#a191fa 97px,#d8cff5 102px,#e9e5f6 104px,#ebe8f6 111px,#c7b8f4 115px,#a494f9 118px,#9091fb 120px,#6ba3fc 124px,#4bbcf9 128px,#3acbf7 133px,#2bdff0 140px,#24eaed 142px,#2ff1d1 145px,#35f3c5 146px,#55f4a0 148px,#7cf474 150px,#c6f33a 154px,#e8e722 157px,#f0e31c 158px,#f3d819 161px)"></i><i style="height:2px;background:linear-gradient(90deg,#f4d618 0,#f1e01b 3px,#e4e825 5px,#bdf442 8px,#84f46d 11px,#38f4c1 15px,#22ecec 19px,#35d2f5 25px,#45c1f9 32px,#5eadfb 36px,#8495fc 40px,#a292fa 43px,#d9d1f5 48px,#eae7f6 50px,#ebe8f6 57px,#d2c8f5 60px,#a595f9 64px,#9191fb 66px,#6ca2fc 70px,#62aafb 71px,#789bfc 72px,#789bfc 90px,#69a5fc 91px,#8e92fc 95px,#a292fa 97px,#d9d1f5 102px,#eae7f6 104px,#ebe8f6 111px,#d2c8f5 114px,#a595f9 118px,#9091fb 120px,#6ba3fc 124px,#4bbcf9 128px,#3acbf7 133px,#2be0f0 140px,#23eaed 142px,#30f1d1 145px,#36f3c4 146px,#56f49e 148px,#7ef472 150px,#c8f339 154px,#ebe620 157px,#f2dc1a 159px,#f4d618 161px)"></i><i style="height:2px;background:linear-gradient(90deg,#f5d517 0,#f2de1a 3px,#efe41d 4px,#cdf135 7px,#99f45d 10px,#71f480 12px,#38f4c0 15px,#22ecec 19px,#34d2f5 25px,#45c1f9 32px,#5eadfb 36px,#8395fc 40px,#a191fa 43px,#d8cff5 48px,#e9e5f6 50px,#ebe8f6 57px,#c7b8f4 61px,#a494f9 64px,#9091fb 66px,#6ba3fc 70px,#62abfb 71px,#779cfc 72px,#779cfc 90px,#68a5fb 91px,#8d92fc 95px,#a191fa 97px,#d8cff5 102px,#e9e5f6 104px,#ebe8f6 111px,#c7b8f4 115px,#a494f9 118px,#9091fb 120px,#6ba3fc 124px,#4bbcf9 128px,#3acbf7 133px,#2be0f0 140px,#23eaed 142px,#30f1d0 145px,#36f3c4 146px,#57f49d 148px,#7ff471 150px,#c9f238 154px,#ece51f 157px,#f4d718 160px,#f5d517 161px)"></i><i style="height:2px;background:linear-gradient(90deg,#f5d417 0,#f2dd1a 3px,#efe41c 4px,#cef035 7px,#99f45d 10px,#72f480 12px,#38f4c0 15px,#22ecec 19px,#34d2f5 25px,#45c1f9 32px,#5daefb 36px,#8296fc 40px,#9f90fa 43px,#d5cbf5 48px,#ebe8f6 51px,#ebe8f6 56px,#e0daf5 58px,#ad9df7 63px,#a292fa 64px,#8595fc 67px,#61abfb 71px,#759dfc 72px,#759dfc 90px,#67a6fb 91px,#8c92fc 95px,#9f90fa 97px,#d5cbf5 102px,#ebe8f6 105px,#ebe8f6 110px,#e0daf5 112px,#ad9df8 117px,#a292fa 118px,#8595fc 121px,#51b8fa 127px,#3cc9f8 132px,#2be0f0 140px,#23eaed 142px,#36f3c4 146px,#58f49d 148px,#80f470 150px,#caf238 154px,#ede51e 157px,#f4d618 160px,#f5d417 161px)"></i><i style="height:2px;background:linear-gradient(90deg,#f5d417 0,#f2dd1a 3px,#efe41c 4px,#cef035 7px,#99f45d 10px,#72f480 12px,#38f4c0 15px,#22ecec 19px,#34d3f4 25px,#44c2f9 32px,#5caffa 36px,#779cfc 39px,#9291fb 42px,#9c90fa 43px,#b1a1f7 45px,#dfd9f5 50px,#ebe8f6 53px,#e6e2f6 56px,#d2c8f5 59px,#9f90fa 64px,#8396fc 67px,#5fadfb 71px,#749efc 72px,#749efc 90px,#65a8fb 91px,#8a92fc 95px,#9c90fa 97px,#b1a1f7 99px,#dfd9f5 104px,#ebe8f6 107px,#e6e2f6 110px,#d2c7f5 113px,#9f90fa 118px,#8296fc 121px,#50b9fa 127px,#3bc9f8 132px,#2be0f0 140px,#23eaed 142px,#36f3c4 146px,#58f49d 148px,#80f470 150px,#caf238 154px,#ede51e 157px,#f4d618 160px,#f5d417 161px)"></i><i style="height:2px;background:linear-gradient(90deg,#f5d517 0,#f2de1a 3px,#efe41d 4px,#cdf135 7px,#99f45d 10px,#71f480 12px,#38f4c0 15px,#22ecec 19px,#34d3f4 25px,#44c2f9 32px,#5ab1fa 36px,#8694fc 41px,#a191fa 44px,#d0c5f5 49px,#e0daf6 52px,#e1dbf6 55px,#d3c8f5 58px,#a494f9 63px,#9291fb 65px,#6fa0fc 69px,#5daefb 71px,#729efc 72px,#729efc 90px,#63aafb 91px,#8f92fc 96px,#a191fa 98px,#d0c5f5 103px,#e0daf6 106px,#e1dbf6 109px,#d2c8f5 112px,#a494f9 117px,#9291fb 119px,#6fa0fc 123px,#4ebaf9 127px,#3bc9f8 132px,#2be0f0 140px,#23eaed 142px,#30f1d0 145px,#36f3c4 146px,#57f49d 148px,#7ff471 150px,#c9f238 154px,#ece51f 157px,#f4d718 160px,#f5d517 161px)"></i><i style="height:2px;background:linear-gradient(90deg,#f4d618 0,#f1e01b 3px,#e4e825 5px,#bdf442 8px,#84f46d 11px,#38f4c1 15px,#22ecec 19px,#34d3f4 25px,#43c3f9 32px,#57b3fa 36px,#8296fc 41px,#9c90fa 44px,#ae9ef7 46px,#cec2f5 50px,#d8cff5 53px,#d4caf5 56px,#baaaf5 60px,#9e90fa 63px,#8495fc 66px,#5ab0fa 71px,#719ffc 72px,#719ffc 90px,#60acfb 91px,#8b92fc 96px,#9c90fa 98px,#ae9ef7 100px,#cec2f5 104px,#d8cff5 107px,#d4caf5 110px,#baaaf5 114px,#9e90fa 117px,#8495fc 120px,#53b6fa 126px,#3dc7f8 131px,#2edbf2 139px,#23eaed 142px,#30f1d1 145px,#36f3c4 146px,#56f49e 148px,#7ef472 150px,#c8f339 154px,#ebe620 157px,#f2dc1a 159px,#f4d618 161px)"></i><i style="height:2px;background:linear-gradient(90deg,#f4d818 0,#f1e21b 3px,#e2e926 5px,#bbf443 8px,#82f46e 11px,#37f4c1 15px,#22ebec 19px,#34d2f5 25px,#42c3f8 32px,#5caffa 37px,#7d99fc 41px,#9e90fa 45px,#c3b4f4 50px,#ccc0f5 53px,#c9bbf4 56px,#b1a1f7 60px,#a090fa 62px,#7f98fc 66px,#57b3fa 71px,#70a0fc 72px,#70a0fc 90px,#5caffb 91px,#7d99fc 95px,#9e90fa 99px,#c3b4f4 104px,#ccc0f5 107px,#c9bbf4 110px,#b1a1f7 114px,#a090fa 116px,#7f98fc 120px,#67a7fb 123px,#4bbcf9 127px,#3acbf7 133px,#2bdff0 140px,#24eaed 142px,#2ff1d1 145px,#35f3c5 146px,#55f4a0 148px,#7cf474 150px,#c6f33a 154px,#e8e722 157px,#f0e31c 158px,#f3d819 161px)"></i><i style="height:2px;background:linear-gradient(90deg,#f3db19 0,#f0e41c 3px,#d4ee30 6px,#b8f445 8px,#80f470 11px,#37f4c3 15px,#23ebec 19px,#34d2f5 25px,#44c2f9 33px,#5facfb 38px,#7f98fc 42px,#9d90fa 46px,#bbabf5 51px,#bfaff4 55px,#ad9df7 59px,#9f90fa 61px,#8296fc 65px,#54b5fa 71px,#6ea1fc 72px,#6ea1fc 90px,#59b2fa 91px,#7f98fc 96px,#9d90fa 100px,#bbabf5 105px,#bfaff4 109px,#ad9df7 113px,#9f90fa 115px,#8196fc 119px,#4ebaf9 126px,#3bcaf7 132px,#2bdff0 140px,#25ede7 143px,#35f3c6 146px,#41f4b6 147px,#7af477 150px,#c4f43c 154px,#e6e824 157px,#f1e01b 159px,#f3db19 161px)"></i><i style="height:2px;background:linear-gradient(90deg,#f2df1a 0,#ece51f 3px,#d1ef33 6px,#b4f448 8px,#7df473 11px,#44f4b3 14px,#36f3c4 15px,#23ebec 19px,#35d2f5 25px,#43c3f9 33px,#5bb0fa 38px,#8097fc 43px,#a191fa 48px,#b1a1f7 52px,#af9ff7 56px,#9d90fa 60px,#8296fc 64px,#65a8fb 68px,#51b7fa 71px,#6ca2fc 72px,#6ca2fc 90px,#55b4fa 91px,#8097fc 97px,#a191fa 102px,#b1a1f7 106px,#af9ff7 110px,#9d90fa 114px,#8296fc 118px,#65a8fb 122px,#47bff9 127px,#38cdf6 134px,#28e4ef 141px,#24ede8 143px,#34f3c8 146px,#3ff4b9 147px,#8af468 151px,#c0f43f 154px,#e2e926 157px,#f0e41c 159px,#f2df1a 161px)"></i><i style="height:2px;background:linear-gradient(90deg,#f0e31c 0,#e8e722 3px,#cdf136 6px,#9ef459 9px,#7af477 11px,#42f4b5 14px,#35f3c6 15px,#25ede6 18px,#27e5ee 20px,#38cef6 27px,#45c1f9 34px,#5daefb 39px,#7f97fc 44px,#9b90fa 49px,#a696f9 54px,#9891fb 59px,#8196fc 63px,#67a7fb 67px,#4ebaf9 71px,#6aa4fc 72px,#6aa4fc 90px,#51b7fa 91px,#7f97fc 98px,#9b90fa 103px,#a696f9 108px,#9891fb 113px,#8196fc 117px,#66a7fb 121px,#49bef9 126px,#39ccf7 133px,#2cdef1 140px,#24ede9 143px,#3cf4bb 147px,#87f46b 151px,#c9f238 155px,#e6e823 158px,#f0e31c 161px)"></i><i style="height:2px;background:linear-gradient(90deg,#ede51f 0,#e3e925 3px,#c9f239 6px,#88f46a 10px,#3ff4b9 14px,#2ff1d3 16px,#24ede7 18px,#2bdff0 21px,#3acbf7 29px,#49bdf9 36px,#65a8fb 41px,#8893fc 47px,#9891fb 52px,#9591fb 57px,#7f98fc 62px,#67a6fb 66px,#4bbcf9 71px,#68a6fb 72px,#68a6fb 90px,#4ebaf9 91px,#7d99fc 99px,#9491fb 104px,#9991fb 109px,#8a92fc 114px,#67a6fb 120px,#4bbdf9 125px,#3acaf7 132px,#2cdef1 140px,#23ecea 143px,#39f4be 147px,#83f46e 151px,#c5f43b 155px,#e1e927 158px,#ece51f 161px)"></i><i style="height:2px;background:linear-gradient(90deg,#e7e723 0,#deeb29 3px,#c4f43c 6px,#83f46e 10px,#3bf4bc 14px,#24ede9 18px,#35d2f5 25px,#44c2f9 35px,#5daefb 41px,#7a9afc 46px,#8d92fc 52px,#8a92fc 57px,#6da2fc 64px,#4cbbf9 70px,#49bef9 71px,#66a7fb 72px,#66a7fb 90px,#4bbcf9 91px,#6aa4fc 97px,#8a92fc 104px,#8e92fc 109px,#7b9afc 115px,#5facfb 120px,#45c1f9 126px,#32d6f3 138px,#22eceb 143px,#37f4c1 147px,#7ef472 151px,#bff43f 155px,#dceb2b 158px,#e7e723 161px)"></i><i style="height:2px;background:linear-gradient(90deg,#e1ea27 0,#d8ed2e 3px,#bdf441 6px,#7ef472 10px,#38f4c0 14px,#23ecea 18px,#35d2f5 25px,#42c3f9 35px,#5caffb 42px,#759dfc 47px,#8396fc 53px,#7a9afc 59px,#69a5fc 63px,#49bef9 70px,#46c0f9 71px,#63a9fb 72px,#63a9fb 90px,#48bff9 91px,#67a6fb 98px,#7f98fc 104px,#8396fc 109px,#6fa0fc 116px,#4cbcf9 123px,#3bc9f8 131px,#30d9f2 139px,#22ecec 143px,#36f3c4 147px,#67f48c 150px,#8af468 152px,#c5f33b 156px,#dbec2b 159px,#e1ea27 161px)"></i><i style="height:2px;background:linear-gradient(90deg,#daec2c 0,#d1ef32 3px,#c2f43e 5px,#89f469 9px,#37f3c3 14px,#22ecec 18px,#34d4f4 24px,#43c3f9 36px,#5fadfb 44px,#739efc 49px,#789bfc 55px,#69a4fc 61px,#49bef9 69px,#44c2f9 71px,#61abfb 72px,#61abfb 90px,#46c0f9 91px,#63a9fb 99px,#759dfc 104px,#779cfc 110px,#69a4fc 115px,#49bef9 123px,#39ccf7 133px,#2ddcf1 140px,#23ebec 143px,#35f3c6 147px,#3ff4b8 148px,#84f46d 152px,#bef440 156px,#d5ee30 159px,#daec2c 161px)"></i><i style="height:2px;background:linear-gradient(90deg,#d3ef31 0,#caf238 3px,#baf444 5px,#82f46e 9px,#40f4b7 13px,#30f1d1 15px,#23ebec 18px,#34d3f4 24px,#47bff9 39px,#6da1fc 51px,#6ca2fc 57px,#46c0f9 69px,#42c3f9 71px,#5facfb 72px,#5facfb 90px,#44c2f9 91px,#6fa0fc 106px,#69a4fc 112px,#44c2f9 124px,#36d0f5 136px,#28e4ef 142px,#24ede7 144px,#3bf4bd 148px,#7ef473 152px,#b6f447 156px,#cef035 159px,#d3ef31 161px)"></i><i style="height:2px;background:linear-gradient(90deg,#cbf137 0,#c3f43d 3px,#a5f453 6px,#7bf475 9px,#3bf4bd 13px,#25ede7 17px,#27e5ee 19px,#37cff6 26px,#43c3f9 38px,#60acfb 50px,#62aafb 56px,#41c4f8 71px,#5daefb 72px,#5daefb 90px,#42c4f8 91px,#63a9fb 106px,#5daefb 113px,#40c5f8 125px,#35d2f5 137px,#23ece9 144px,#37f4c1 148px,#86f46b 153px,#b8f445 157px,#caf238 160px,#cbf137 161px)"></i><i style="height:2px;background:linear-gradient(90deg,#c3f43d 0,#b9f445 3px,#9df45a 6px,#83f46e 8px,#37f4c2 13px,#24ede9 17px,#34d3f4 24px,#48bff9 42px,#59b1fa 52px,#53b6fa 60px,#3fc6f8 70px,#3ec7f8 71px,#5bb0fa 72px,#5bb0fa 90px,#3fc6f8 91px,#59b1fa 106px,#53b6fa 114px,#3ec6f8 126px,#33d4f4 138px,#22eceb 144px,#36f3c5 148px,#50f4a5 150px,#7ef472 153px,#aff44c 157px,#c1f43e 160px,#c3f43d 161px)"></i><i style="height:2px;background:linear-gradient(90deg,#b8f445 0,#aff44c 3px,#94f461 6px,#7af476 8px,#3ff4b8 12px,#30f1d0 14px,#22eceb 17px,#35d2f5 24px,#4bbcf9 46px,#52b7fa 54px,#48bef9 62px,#34d3f4 70px,#33d5f4 71px,#59b1fa 72px,#59b1fa 90px,#33d4f4 91px,#4cbcf9 101px,#52b7fa 109px,#3dc7f8 127px,#35d2f5 137px,#23ebec 144px,#34f2c9 148px,#3bf4bd 149px,#84f46d 154px,#adf44e 158px,#b8f445 161px)"></i><i style="height:2px;background:linear-gradient(90deg,#aef44d 0,#a4f454 3px,#7ff471 7px,#39f4bf 12px,#23ebec 17px,#35d2f5 24px,#46c0f9 46px,#49bef9 54px,#3acbf7 61px,#2edbf2 64px,#24ede8 66px,#37f4c1 68px,#68f48a 70px,#79f478 71px,#57b3fa 72px,#57b3fa 90px,#6ef484 91px,#3ff4b9 93px,#27eee3 95px,#26e7ee 96px,#36d1f5 99px,#47bff9 106px,#47bff9 114px,#37cff6 136px,#27e4ef 143px,#24ede8 145px,#37f4c2 149px,#7bf475 154px,#9bf45b 157px,#acf44e 160px,#aef44d 161px)"></i><i style="height:2px;background:linear-gradient(90deg,#a3f456 0,#9af45c 3px,#81f46f 6px,#36f3c4 12px,#24ede8 16px,#34d3f4 23px,#3bc9f8 33px,#40c5f8 48px,#37cef6 55px,#26e7ee 60px,#24ede8 61px,#35f3c6 63px,#51f4a4 64px,#7af477 65px,#a9f451 66px,#d9ec2d 67px,#f6d016 68px,#fca00c 69px,#fc6908 70px,#f83e0a 71px,#ef2710 72px,#eb1b12 73px,#e91614 75px,#e91514 87px,#ea1913 88px,#ee2311 89px,#f5360c 90px,#fc5908 91px,#fc9009 92px,#fac312 93px,#e6e823 94px,#b8f445 95px,#87f46b 96px,#5cf498 97px,#39f4be 98px,#26eee3 100px,#24e9ed 101px,#37cff6 106px,#40c5f8 114px,#37cff6 136px,#28e3ef 143px,#23eceb 145px,#3cf4bb 150px,#7ef473 155px,#98f45e 158px,#a3f456 161px)"></i><i style="height:2px;background:linear-gradient(90deg,#97f45e 0,#8ff465 3px,#81f46f 5px,#47f4b0 10px,#3af4be 11px,#22eceb 16px,#34d3f4 23px,#3bc9f8 33px,#38cdf6 48px,#2ddcf1 54px,#22ecec 57px,#34f3c8 60px,#43f4b3 61px,#7cf474 63px,#c9f238 65px,#f0e41c 66px,#fcbb10 67px,#fc8208 68px,#f9400a 69px,#e81514 70px,#bf0429 72px,#a90236 74px,#99003f 81px,#a80237 87px,#ba032b 89px,#e11118 91px,#f4330d 92px,#fc6d08 93px,#fcab0d 94px,#f4d818 95px,#d4ee30 96px,#87f46b 98px,#4bf4ab 100px,#36f3c3 101px,#24ede9 104px,#34d3f4 110px,#3bc9f8 120px,#38cdf6 135px,#2cdef1 142px,#23ebec 145px,#37f4c2 150px,#7ef472 156px,#92f462 159px,#97f45e 161px)"></i><i style="height:2px;background:linear-gradient(90deg,#8cf467 0,#84f46d 3px,#6df485 6px,#36f3c4 11px,#23ebec 16px,#35d2f5 23px,#3bc9f8 33px,#39ccf7 45px,#2dddf1 53px,#22ecec 56px,#32f2cb 59px,#3cf4bb 60px,#6cf487 62px,#a9f451 64px,#ccf136 65px,#eee51d 66px,#fac412 67px,#fc960a 68px,#fc5f08 69px,#f4320d 70px,#e61315 71px,#c60725 73px,#ab0235 76px,#99003f 80px,#9e013c 83px,#b8032d 87px,#d00a20 89px,#e01118 90px,#ef2710 91px,#fc4e08 92px,#fc8808 93px,#fcb80f 94px,#f2dc1a 95px,#d6ed2f 96px,#b4f448 97px,#74f47d 99px,#42f4b4 101px,#34f3c7 102px,#23ede9 105px,#34d3f4 112px,#3bc9f8 124px,#37cef6 136px,#2ae0f0 143px,#24ede9 146px,#3bf4bc 151px,#74f47e 156px,#87f46a 159px,#8cf467 161px)"></i><i style="height:2px;background:linear-gradient(90deg,#81f46f 0,#79f478 3px,#59f49b 7px,#38f4c0 10px,#23ece9 15px,#35d2f5 23px,#3bc9f8 35px,#37cff6 47px,#29e2ef 54px,#22ecec 56px,#38f4c1 60px,#61f492 62px,#96f45f 64px,#d2ef32 66px,#efe41d 67px,#fca80d 69px,#fc5a08 71px,#f73c0b 72px,#e81414 74px,#c70725 78px,#c00428 81px,#cb0823 84px,#e41316 87px,#ed2011 88px,#fc4f08 90px,#fc9d0b 92px,#fbc011 93px,#f2dc1a 94px,#dbec2b 95px,#bef440 96px,#83f46e 98px,#3df4bb 101px,#28eee0 104px,#23ece9 105px,#34d3f4 112px,#3bc9f8 124px,#38cef6 136px,#28e3ef 144px,#22ecec 146px,#37f3c3 151px,#69f48a 156px,#7cf474 159px,#81f46f 161px)"></i><i style="height:2px;background:linear-gradient(90deg,#75f47c 0,#6ef484 3px,#50f4a6 7px,#35f3c6 10px,#22ecec 15px,#35d1f5 23px,#3bc9f8 35px,#36d0f5 47px,#2ae2ef 54px,#23ebec 56px,#35f3c6 60px,#41f4b6 61px,#81f46f 64px,#cef035 67px,#e5e824 68px,#f4d818 69px,#fca90d 71px,#fc5808 74px,#fa4209 75px,#ec1f12 78px,#e81414 80px,#e91613 82px,#f3300d 85px,#fc5008 87px,#fca10c 90px,#fcbc10 91px,#ede51e 93px,#bdf441 95px,#71f481 98px,#46f4b0 100px,#37f3c3 101px,#22eceb 105px,#34d4f4 112px,#3bc9f8 124px,#38cef6 136px,#2ae2ef 144px,#24ede8 147px,#38f4c0 152px,#66f48d 157px,#74f47d 160px,#75f47c 161px)"></i><i style="height:2px;background:linear-gradient(90deg,#6af489 0,#63f491 3px,#46f4b0 7px,#32f2cb 10px,#23ede9 14px,#34d3f4 22px,#3bc9f8 34px,#37cef6 46px,#2ae0f0 54px,#23ede9 57px,#37f4c3 61px,#6bf487 64px,#81f470 65px,#c4f43c 68px,#eae620 70px,#f8c814 72px,#fc7308 77px,#fc5e08 79px,#fc5808 81px,#fc6308 83px,#fc8e09 86px,#fac312 89px,#f0e41c 91px,#caf238 93px,#87f46b 96px,#39f4be 100px,#25ede7 104px,#27e6ee 106px,#36d0f5 114px,#3bc9f8 129px,#35d2f5 139px,#22eceb 147px,#3af4be 153px,#5bf499 157px,#68f48a 160px,#6af489 161px)"></i><i style="height:2px;background:linear-gradient(90deg,#5ef496 0,#58f49d 3px,#33f2ca 9px,#22ecec 14px,#35d2f5 22px,#3bc9f8 34px,#38cef6 46px,#2bdff0 54px,#23ebec 57px,#32f2cc 61px,#37f4c2 62px,#7af477 66px,#c6f33b 70px,#f0e31c 73px,#fcbb10 77px,#fcaa0d 80px,#fcb00e 83px,#f5d417 87px,#f1df1b 88px,#d9ec2d 90px,#a5f454 93px,#80f470 95px,#3af4bd 99px,#22eceb 104px,#34d3f4 112px,#3bc9f8 124px,#38cdf6 136px,#2cdff0 144px,#24ede8 148px,#3af4bd 154px,#56f49e 158px,#5ef496 161px)"></i><i style="height:2px;background:linear-gradient(90deg,#53f4a2 0,#48f4ae 4px,#33f2c9 8px,#23ecea 13px,#34d3f4 21px,#3bc9f8 33px,#36d0f5 48px,#28e4ef 56px,#22ecec 58px,#36f3c3 63px,#5ff495 66px,#7ff471 68px,#c9f239 73px,#ebe620 77px,#f2de1a 80px,#ede51e 84px,#ccf136 88px,#83f46d 93px,#38f4c0 98px,#23ecea 103px,#33d4f4 111px,#3bc9f8 123px,#37cff6 138px,#28e4ef 146px,#22ecec 148px,#39f4bf 155px,#4ff4a6 159px,#53f4a2 161px)"></i><i style="height:2px;background:linear-gradient(90deg,#48f4ae 0,#3ef4b9 4px,#24ede8 12px,#28e3ef 15px,#37cff6 23px,#3cc8f8 38px,#35d2f5 50px,#25e8ed 58px,#22ecec 59px,#3bf4bd 65px,#87f46b 71px,#b9f444 76px,#c8f339 79px,#c6f33b 83px,#b4f448 86px,#7ff471 91px,#3ef4b9 96px,#2ef0d5 99px,#23ecea 102px,#33d4f4 110px,#3cc9f8 122px,#38cdf6 137px,#2cdff0 145px,#23ece9 149px,#3cf4bb 157px,#48f4ae 161px)"></i><i style="height:2px;background:linear-gradient(90deg,#3ef4ba 0,#33f2cb 6px,#22ecec 12px,#37cff6 22px,#3ec7f8 34px,#37cff6 49px,#25e7ee 59px,#24ede7 61px,#3cf4bb 67px,#81f46f 74px,#98f45e 78px,#9cf45b 82px,#8bf468 86px,#73f47f 89px,#37f4c2 95px,#22eceb 101px,#36d1f5 111px,#3ec7f8 126px,#38cdf6 138px,#2be0f0 146px,#24ede8 150px,#36f3c4 157px,#3ef4ba 161px)"></i><i style="height:2px;background:linear-gradient(90deg,#36f3c3 0,#31f2cd 5px,#23eceb 11px,#36d0f5 21px,#40c5f8 33px,#39ccf7 48px,#2be0f0 58px,#23ecea 62px,#39f4bf 69px,#66f48d 75px,#75f47c 79px,#74f47e 83px,#5bf499 88px,#36f3c3 93px,#23ebec 100px,#36d0f5 110px,#40c5f8 125px,#3acbf7 137px,#2ae1f0 147px,#22ecec 150px,#34f3c8 158px,#36f3c3 161px)"></i><i style="height:2px;background:linear-gradient(90deg,#33f2cb 0,#2ef0d4 5px,#23eaed 11px,#37cff6 21px,#43c3f9 33px,#3ec6f8 45px,#2fdaf2 57px,#23ebec 63px,#36f3c4 71px,#51f4a5 77px,#56f49f 82px,#46f4b1 87px,#34f3c8 91px,#22ecec 98px,#38cef6 110px,#43c2f9 125px,#3bcaf7 137px,#2bdff0 147px,#22eceb 151px,#31f1cf 158px,#33f2cb 161px)"></i><i style="height:2px;background:linear-gradient(90deg,#2ef0d5 0,#28eee1 6px,#25e8ed 10px,#3bc9f8 22px,#49bdf9 34px,#43c2f9 46px,#2cdef1 61px,#22ecec 66px,#35f3c6 76px,#37f4c1 82px,#2ff1d2 89px,#23eaed 96px,#39cdf6 108px,#4abdf9 123px,#42c3f9 135px,#2fdbf2 147px,#23ecea 153px,#2df0d7 159px,#2ef0d5 161px)"></i><i style="height:2px;background:linear-gradient(90deg,#28eedf 0,#25e8ed 8px,#42c3f8 23px,#51b8fa 35px,#4cbcf9 45px,#2edcf1 63px,#23ecea 70px,#2df0d6 78px,#2cf0d9 85px,#24e9ed 93px,#43c3f9 111px,#51b8fa 123px,#48bef9 135px,#32d6f3 147px,#22eceb 155px,#28eedf 161px)"></i><i style="height:2px;background:linear-gradient(90deg,#24ede9 0,#27e5ee 7px,#4cbcf9 25px,#59b2fa 37px,#4cbcf9 49px,#31d7f3 64px,#23ecea 76px,#24ede8 84px,#26e6ee 90px,#43c3f9 108px,#57b3fa 120px,#55b4fa 130px,#39cdf6 145px,#23ebec 157px,#24ede9 161px)"></i><i style="height:2px;background:linear-gradient(90deg,#25e8ed 0,#2dddf1 8px,#46c0f9 20px,#5daefb 32px,#5eadfb 42px,#36d1f5 64px,#27e6ee 79px,#2bdff0 89px,#40c5f8 104px,#5eaefb 119px,#5eaefb 129px,#47c0f9 141px,#2dddf1 153px,#25e8ed 161px)"></i><i style="height:2px;background:linear-gradient(90deg,#29e2ef 0,#34d3f4 10px,#46c0f9 18px,#66a7fb 33px,#67a7fb 41px,#3bc9f8 63px,#2ddcf1 78px,#32d6f3 90px,#43c3f9 102px,#66a7fb 120px,#66a7fb 128px,#4fb9f9 140px,#36d0f5 150px,#2ae1f0 160px,#29e2ef 161px)"></i><i style="height:2px;background:linear-gradient(90deg,#2edcf1 0,#37cff6 10px,#6ca2fc 32px,#6fa0fc 40px,#52b7fa 55px,#3bcaf7 67px,#33d5f4 79px,#38cef6 91px,#4bbcf9 103px,#6fa0fc 121px,#6da2fc 129px,#49bef9 144px,#36d0f5 152px,#2edcf1 161px)"></i><i style="height:2px;background:linear-gradient(90deg,#32d6f3 0,#3bcaf7 10px,#6ba3fc 28px,#759dfc 38px,#69a5fc 48px,#3cc8f8 70px,#37cef6 82px,#41c4f8 94px,#6fa0fc 116px,#759dfc 126px,#69a4fc 134px,#3acbf7 152px,#32d6f3 161px)"></i><i style="height:2px;background:linear-gradient(90deg,#36d1f5 0,#3fc5f8 10px,#719ffc 28px,#7a9afc 38px,#70a0fc 48px,#49bef9 66px,#3cc9f8 78px,#41c4f8 90px,#62aafb 108px,#749dfc 116px,#7a9afc 126px,#6aa4fc 136px,#3acaf7 154px,#36d1f5 161px)"></i><i style="height:2px;background:linear-gradient(90deg,#3acbf7 0,#41c4f8 8px,#719ffc 26px,#7f98fc 36px,#779cfc 46px,#52b7fa 64px,#41c4f8 79px,#49bef9 91px,#63aafb 106px,#799bfc 116px,#7f98fc 126px,#6aa4fc 138px,#3cc8f8 156px,#3acbf7 161px)"></i><i style="height:2px;background:linear-gradient(90deg,#3ec6f8 0,#4bbcf9 10px,#739efc 25px,#8595fc 37px,#7a9afc 47px,#55b4fa 65px,#47c0f9 80px,#53b6fa 95px,#7f98fc 117px,#8595fc 125px,#729ffc 137px,#44c2f9 155px,#3ec6f8 161px)"></i><i style="height:2px;background:linear-gradient(90deg,#45c1f9 0,#51b7fa 10px,#779cfc 25px,#8992fc 35px,#8694fc 43px,#5ab1fa 65px,#4cbcf9 80px,#58b2fa 95px,#8495fc 117px,#8a92fc 125px,#759dfc 137px,#4abdf9 155px,#45c1f9 161px)"></i><i style="height:2px;background:linear-gradient(90deg,#4cbcf9 0,#57b3fa 10px,#7b9afc 25px,#8d92fc 35px,#8a92fc 43px,#5eadfb 65px,#50b9fa 80px,#5caffb 95px,#8893fc 117px,#8e92fc 125px,#7e98fc 135px,#54b6fa 153px,#4cbcf9 161px)"></i><i style="height:2px;background:linear-gradient(90deg,#52b7fa 0,#5caffb 10px,#8694fc 28px,#9291fb 36px,#8d92fc 44px,#60acfb 66px,#53b6fa 81px,#61abfb 96px,#8e92fc 118px,#9291fb 126px,#7f98fc 136px,#58b2fa 154px,#52b7fa 161px)"></i><i style="height:2px;background:linear-gradient(90deg,#58b2fa 0,#65a8fb 12px,#8e92fc 30px,#9691fb 38px,#8893fc 48px,#64a9fb 66px,#56b4fa 81px,#65a8fb 96px,#8a92fc 114px,#9691fb 124px,#8893fc 134px,#60acfb 152px,#58b2fa 161px)"></i><i style="height:2px;background:linear-gradient(90deg,#5eaefb 0,#6aa4fc 12px,#9191fb 30px,#9a91fb 38px,#8c92fc 48px,#6ca2fc 63px,#59b1fa 78px,#60acfb 90px,#7e98fc 108px,#9591fb 118px,#9991fb 126px,#8197fc 138px,#60acfb 156px,#5eaefb 161px)"></i><i style="height:2px;background:linear-gradient(90deg,#64a9fb 0,#6fa0fc 12px,#8794fc 24px,#9e90fa 36px,#9891fb 44px,#8097fc 54px,#5eadfb 76px,#5eadfb 86px,#8196fc 108px,#9c90fa 120px,#9b90fa 128px,#8595fc 138px,#69a4fc 153px,#64a9fb 161px)"></i><i style="height:2px;background:linear-gradient(90deg,#69a4fc 0,#769cfc 15px,#9191fb 27px,#a292fa 37px,#9991fb 45px,#7c99fc 57px,#62aafb 75px,#61abfb 85px,#8296fc 107px,#9e90fa 119px,#a090fa 127px,#8594fc 139px,#719ffc 151px,#69a4fc 161px)"></i><i style="height:2px;background:linear-gradient(90deg,#6fa0fc 0,#799bfc 15px,#9491fb 27px,#a393f9 34px,#a494f9 41px,#9391fb 49px,#789bfc 61px,#62aafb 79px,#6ba3fc 91px,#8396fc 106px,#a090fa 118px,#a696f9 125px,#9891fb 133px,#779cfc 148px,#6fa0fc 161px)"></i><i style="height:2px;background:linear-gradient(90deg,#739efc 0,#7c99fc 15px,#9f90fa 30px,#aa9af8 38px,#9d90fa 46px,#7a9afc 61px,#65a8fb 79px,#6ba3fc 89px,#8197fc 104px,#9f90fa 116px,#aa9af8 124px,#9d90fa 132px,#7b9afc 147px,#739efc 161px)"></i><i style="height:2px;background:linear-gradient(90deg,#769cfc 0,#7f97fc 15px,#9a91fb 27px,#a797f9 32px,#ad9df8 39px,#9e90fa 47px,#7b9afc 62px,#67a6fb 80px,#799bfc 98px,#9a91fb 113px,#a797f9 118px,#ad9df8 125px,#9e90fa 133px,#7d99fc 148px,#769cfc 161px)"></i><i style="height:2px;background:linear-gradient(90deg,#799bfc 0,#8296fc 15px,#9d90fa 27px,#af9ff7 35px,#ac9cf8 42px,#9e90fa 48px,#7c99fc 63px,#6aa4fc 81px,#7d99fc 99px,#9f90fa 114px,#b0a0f7 122px,#aa9af8 129px,#9e90fa 134px,#8396fc 146px,#799bfc 161px)"></i><i style="height:2px;background:linear-gradient(90deg,#7c99fc 0,#8594fc 15px,#9f90fa 27px,#b2a2f7 35px,#af9ff7 42px,#9d90fa 49px,#7d99fc 64px,#6ea1fc 79px,#789bfc 94px,#9491fb 109px,#a292fa 114px,#b3a3f6 122px,#ad9df7 129px,#9d90fa 135px,#8495fc 147px,#7c99fc 161px)"></i><i style="height:2px;background:linear-gradient(90deg,#8097fc 0,#8893fc 15px,#a292fa 27px,#b5a5f6 35px,#b2a2f7 42px,#9d90fa 50px,#7e98fc 65px,#70a0fc 80px,#7c99fc 95px,#9991fb 110px,#a595f9 114px,#b6a6f6 122px,#b0a0f7 129px,#9d90fa 136px,#8694fc 148px,#8097fc 161px)"></i><i style="height:2px;background:linear-gradient(90deg,#8396fc 0,#8b92fc 15px,#9f90fa 25px,#b7a7f6 35px,#b5a5f6 42px,#9f90fa 50px,#8097fc 65px,#729ffc 80px,#7e98fc 95px,#9b90fa 110px,#a797f9 114px,#b8a8f5 122px,#b3a3f7 129px,#9d90fa 137px,#8893fc 149px,#8396fc 161px)"></i><i style="height:2px;background:linear-gradient(90deg,#8694fc 0,#8d92fc 15px,#a191fa 25px,#b9a9f5 35px,#b7a7f6 42px,#a191fa 50px,#8396fc 65px,#749dfc 80px,#8197fc 95px,#9e90fa 110px,#b8a8f5 120px,#b9a9f5 127px,#9f90fa 137px,#8c92fc 147px,#8694fc 161px)"></i><i style="height:2px;background:linear-gradient(90deg,#8893fc 0,#8f92fc 15px,#a393f9 25px,#bcacf5 35px,#b9a9f5 42px,#9e90fa 52px,#7e98fc 70px,#769cfc 82px,#8b92fc 100px,#a090fa 110px,#baaaf5 120px,#bbabf5 127px,#a191fa 137px,#8e92fc 147px,#8893fc 161px)"></i><i style="height:2px;background:linear-gradient(90deg,#8b92fc 0,#9191fb 15px,#9f90fa 23px,#bdadf4 35px,#bbabf5 42px,#a090fa 52px,#8495fc 67px,#789bfc 79px,#8097fc 91px,#9f90fa 109px,#bdadf4 121px,#bbabf5 128px,#a090fa 138px,#8f92fc 148px,#8b92fc 161px)"></i><i style="height:2px;background:linear-gradient(90deg,#8d92fc 0,#9391fb 15px,#a191fa 23px,#bfaff4 35px,#bcacf5 42px,#a292fa 52px,#8794fc 67px,#7b9afc 79px,#8296fc 91px,#9991fb 106px,#a393f9 110px,#beaef4 120px,#beaef4 127px,#a090fa 139px,#9091fb 151px,#8d92fc 161px)"></i><i style="height:2px;background:linear-gradient(90deg,#9091fb 0,#9591fb 15px,#a393f9 23px,#c0b0f4 35px,#beaef4 42px,#9e90fa 54px,#8396fc 72px,#7e98fc 84px,#9b90fa 106px,#a595f9 110px,#bfaff4 120px,#c1b1f4 126px,#a494f9 138px,#9891fb 144px,#9091fb 161px)"></i><i style="height:2px;background:linear-gradient(90deg,#9291fb 0,#9791fb 15px,#a393fa 22px,#c0b0f4 34px,#c2b2f4 40px,#9e90fa 55px,#8097fc 77px,#8595fc 89px,#9f90fa 107px,#bfaff4 119px,#c2b2f4 126px,#9f90fa 141px,#9391fb 153px,#9291fb 161px)"></i><i style="height:2px;background:linear-gradient(90deg,#9491fb 0,#9991fb 15px,#a494f9 22px,#c1b1f4 34px,#c2b3f4 40px,#9f90fa 55px,#8296fc 77px,#8794fc 89px,#a191fa 107px,#bfaff4 119px,#c2b3f4 126px,#a090fa 141px,#9591fb 153px,#9491fb 161px)"></i><i style="height:2px;background:linear-gradient(90deg,#9591fb 0,#9a91fb 15px,#a393f9 21px,#c0b0f4 33px,#c3b4f4 40px,#a090fa 55px,#8495fc 77px,#8893fc 89px,#a292fa 107px,#c0b0f4 119px,#c3b4f4 126px,#a292fa 141px,#9691fb 153px,#9591fb 161px)"></i><i style="height:2px;background:linear-gradient(90deg,#9791fb 0,#9c90fa 15px,#a494f9 21px,#c1b1f4 33px,#c4b5f4 40px,#a292fa 55px,#8694fc 77px,#8a92fc 89px,#9d90fa 104px,#ad9df8 111px,#c4b5f4 121px,#c1b2f4 128px,#a090fa 143px,#9791fb 158px,#9791fb 161px)"></i><i style="height:2px;background:linear-gradient(90deg,#9991fb 0,#9d90fa 15px,#a898f9 22px,#c3b4f4 34px,#c4b5f4 41px,#a191fa 56px,#8793fc 78px,#8d92fc 90px,#a191fa 105px,#c3b4f4 120px,#c4b5f4 127px,#a393f9 142px,#9991fb 157px,#9991fb 161px)"></i><i style="height:2px;background:linear-gradient(90deg,#9a91fb 0,#a292fa 18px,#c6b8f4 36px,#c1b2f4 43px,#9f90fa 58px,#8a92fc 76px,#8c92fc 88px,#9e90fa 103px,#c5b7f4 121px,#c3b4f4 128px,#a393fa 143px,#9a91fb 158px,#9a91fb 161px)"></i><i style="height:2px;background:linear-gradient(90deg,#9c90fa 0,#a494f9 18px,#c7b9f4 36px,#c2b3f4 43px,#a090fa 58px,#8c92fc 76px,#8e92fc 88px,#a090fa 103px,#c6b8f4 121px,#c4b5f4 128px,#a494f9 143px,#9c90fa 155px,#9c90fa 161px)"></i><i style="height:2px;background:linear-gradient(90deg,#9d90fa 0,#a292fa 15px,#b7a7f6 27px,#c8baf4 37px,#c1b1f4 44px,#a090fa 59px,#8d92fc 77px,#9091fb 89px,#a393f9 104px,#c4b5f4 119px,#c7b9f4 126px,#a494f9 144px,#9d90fa 159px,#9d90fa 161px)"></i><i style="height:2px;background:linear-gradient(90deg,#9f90fa 0,#a393f9 15px,#b8a8f5 27px,#c8bbf4 37px,#c2b3f4 44px,#a292fa 59px,#8e92fc 77px,#9291fb 89px,#a090fa 101px,#c5b6f4 119px,#c8baf4 126px,#a696f9 144px,#9f90fa 161px)"></i><i style="height:2px;background:linear-gradient(90deg,#a191fa 0,#a898f8 18px,#c9bbf4 36px,#c5b6f4 43px,#a090fa 61px,#8f92fc 79px,#9991fb 94px,#a393f9 102px,#c7b9f4 120px,#c7baf4 127px,#a696f9 145px,#a191fa 161px)"></i><i style="height:2px;background:linear-gradient(90deg,#a292fa 0,#a999f8 18px,#c9bcf4 36px,#c5b7f4 43px,#a292fa 61px,#9191fb 79px,#9a91fb 94px,#a494f9 102px,#c8baf4 120px,#c8baf4 127px,#a898f9 145px,#a292fa 161px)"></i><i style="height:2px;background:linear-gradient(90deg,#a494f9 0,#ab9bf8 18px,#cabdf4 36px,#c6b8f4 43px,#a393f9 61px,#9291fb 79px,#9c90fa 94px,#a696f9 102px,#c8bbf4 120px,#c9bbf4 127px,#a999f8 145px,#a494f9 161px)"></i><i style="height:2px;background:linear-gradient(90deg,#a595f9 0,#ac9cf8 18px,#cbbef5 36px,#c7b9f4 43px,#a595f9 61px,#9b90fa 69px,#9491fb 81px,#a393f9 99px,#bfaff4 114px,#cbbef5 122px,#c7b9f4 129px,#ac9cf8 144px,#a595f9 161px)"></i><i style="height:2px;background:linear-gradient(90deg,#a797f9 0,#ae9ef7 18px,#ccbff5 36px,#c6b8f4 44px,#a999f8 59px,#9d90fa 69px,#9591fb 81px,#a191fa 96px,#b9a9f5 111px,#cbbef5 121px,#c9bcf4 128px,#ae9ef7 143px,#a797f9 161px)"></i><i style="height:2px;background:linear-gradient(90deg,#a999f8 0,#af9ff7 18px,#ccc0f5 36px,#c7b9f4 44px,#ab9bf8 59px,#9e90fa 69px,#9791fb 81px,#a393fa 96px,#baaaf5 111px,#ccbff5 121px,#cabdf4 128px,#b0a0f7 143px,#a999f8 161px)"></i><i style="height:2px;background:linear-gradient(90deg,#aa9af8 0,#b1a1f7 18px,#cdc1f5 36px,#c8baf4 44px,#ac9cf8 59px,#9e90fa 71px,#9991fb 83px,#a393f9 95px,#c0b0f4 113px,#ccc0f5 121px,#c9bcf4 129px,#b0a0f7 144px,#aa9af8 161px)"></i><i style="height:2px;background:linear-gradient(90deg,#ac9cf8 0,#b2a2f7 18px,#cec2f5 36px,#c9bbf4 44px,#ae9ef7 59px,#9f90fa 71px,#9a91fb 83px,#a292fa 93px,#bdadf5 111px,#cdc1f5 121px,#cabdf4 129px,#b1a1f7 144px,#ac9cf8 161px)"></i><i style="height:2px;background:linear-gradient(90deg,#ae9ef7 0,#b4a4f6 18px,#cec3f5 36px,#c9bcf4 44px,#af9ff7 59px,#9e90fa 74px,#9d90fa 86px,#aa9af8 98px,#c2b2f4 113px,#cfc3f5 123px,#c8baf4 131px,#b4a4f6 143px,#ae9ef7 161px)"></i><i style="height:2px;background:linear-gradient(90deg,#af9ff7 0,#b5a5f6 18px,#cfc4f5 36px,#cabdf4 44px,#b1a1f7 59px,#a090fa 74px,#9f90fa 86px,#b9a9f5 108px,#cec2f5 120px,#cdc1f5 128px,#b5a5f6 143px,#af9ff7 161px)"></i><i style="height:2px;background:linear-gradient(90deg,#b1a1f7 0,#b7a7f6 18px,#d0c5f5 36px,#cbbef5 44px,#b2a2f7 59px,#9f90fa 77px,#a393f9 89px,#c0b0f4 111px,#cfc4f5 121px,#cdc0f5 129px,#b6a6f6 144px,#b1a1f7 161px)"></i><i style="height:2px;background:linear-gradient(90deg,#b2a2f7 0,#b8a8f6 18px,#d1c6f5 36px,#ccc0f5 44px,#b4a4f6 59px,#a191fa 77px,#a595f9 89px,#c1b2f4 111px,#d0c5f5 121px,#cdc1f5 129px,#b7a7f6 144px,#b2a2f7 161px)"></i><i style="height:2px;background:linear-gradient(90deg,#b3a3f6 0,#b9a9f5 18px,#d1c6f5 36px,#ccc0f5 44px,#b4a4f6 59px,#a292fa 77px,#a595f9 89px,#c2b2f4 111px,#d0c5f5 121px,#cec2f5 129px,#b8a8f5 144px,#b3a3f6 161px)"></i><i style="height:2px;background:linear-gradient(90deg,#b4a4f6 0,#baaaf5 18px,#d1c7f5 36px,#cdc1f5 44px,#b5a5f6 59px,#a393f9 77px,#a696f9 89px,#c3b3f4 111px,#d1c6f5 121px,#cec3f5 129px,#b9a9f5 144px,#b4a4f6 161px)"></i><i style="height:2px;background:linear-gradient(90deg,#b5a5f6 0,#baaaf5 18px,#d2c7f5 36px,#cdc1f5 44px,#b6a6f6 59px,#a494f9 77px,#a797f9 89px,#c3b4f4 111px,#d1c6f5 121px,#cfc3f5 129px,#baaaf5 144px,#b5a5f6 161px)"></i><i style="height:2px;background:linear-gradient(90deg,#b6a6f6 0,#bbabf5 18px,#d2c8f5 36px,#cec2f5 44px,#b7a7f6 59px,#a595f9 77px,#a898f8 89px,#c4b5f4 111px,#d2c7f5 121px,#cfc4f5 129px,#bbabf5 144px,#b6a6f6 161px)"></i><i style="height:2px;background:linear-gradient(90deg,#b7a7f6 0,#bcacf5 18px,#d3c8f5 36px,#cec3f5 44px,#b8a8f6 59px,#a696f9 77px,#a999f8 89px,#c4b6f4 111px,#d2c7f5 121px,#d0c4f5 129px,#bbabf5 144px,#b7a7f6 161px)"></i><i style="height:2px;background:linear-gradient(90deg,#b8a8f6 0,#bdadf5 18px,#d3c9f5 36px,#cfc3f5 44px,#b9a9f5 59px,#a696f9 77px,#aa9af8 89px,#c5b7f4 111px,#d2c8f5 121px,#d0c5f5 129px,#bcacf5 144px,#b8a8f6 161px)"></i><i style="height:2px;background:linear-gradient(90deg,#b9a9f5 0,#beaef4 18px,#d3c9f5 36px,#cfc4f5 44px,#b9a9f5 59px,#a797f9 77px,#ab9bf8 89px,#c6b7f4 111px,#d4caf5 123px,#cbbff5 133px,#bcacf5 145px,#b9a9f5 161px)"></i><i style="height:2px;background:linear-gradient(90deg,#baaaf5 0,#bfaff4 18px,#d4caf5 36px,#d0c5f5 44px,#b7a7f6 62px,#a797f9 80px,#b5a5f6 98px,#c9bcf4 113px,#d4caf5 123px,#ccbff5 133px,#bdadf5 145px,#baaaf5 161px)"></i><i style="height:2px;background:linear-gradient(90deg,#bbabf5 0,#bfaff4 18px,#d4caf5 36px,#d0c5f5 44px,#b8a8f6 62px,#a898f8 80px,#b6a6f6 98px,#cabdf4 113px,#d4cbf5 123px,#ccc0f5 133px,#beaef4 145px,#bbabf5 161px)"></i><i style="height:2px;background:linear-gradient(90deg,#bbabf5 0,#c0b0f4 18px,#d5cbf5 36px,#d1c6f5 44px,#b9a9f5 62px,#a999f8 80px,#b7a7f6 98px,#cbbef4 113px,#d5cbf5 123px,#cdc1f5 133px,#bfaff4 145px,#bbabf5 161px)"></i><i style="height:2px;background:linear-gradient(90deg,#bcacf5 0,#c1b1f4 18px,#d5cbf5 36px,#cfc3f5 46px,#b7a7f6 64px,#aa9af8 79px,#b4a4f6 94px,#cabdf4 112px,#d5cbf5 122px,#cfc3f5 132px,#bfaff4 147px,#bcacf5 161px)"></i><i style="height:2px;background:linear-gradient(90deg,#bdadf5 0,#c2b2f4 18px,#d5ccf5 36px,#cfc4f5 46px,#b8a8f5 64px,#ab9bf8 79px,#b5a5f6 94px,#cabdf4 112px,#d5ccf5 122px,#cfc4f5 132px,#c0b0f4 147px,#bdadf5 161px)"></i><i style="height:2px;background:linear-gradient(90deg,#beaef4 0,#c3b3f4 18px,#d6ccf5 36px,#d0c4f5 46px,#b9a9f5 64px,#ac9cf8 79px,#b6a6f6 94px,#cbbef5 112px,#d6ccf5 122px,#d0c5f5 132px,#c0b1f4 147px,#beaef4 161px)"></i><i style="height:2px;background:linear-gradient(90deg,#bfaff4 0,#c3b4f4 18px,#d6cdf5 36px,#d0c5f5 46px,#baaaf5 64px,#ad9df8 79px,#b6a6f6 94px,#ccbff5 112px,#d6cdf5 122px,#d0c5f5 132px,#c1b2f4 147px,#bfaff4 161px)"></i><i style="height:2px;background:linear-gradient(90deg,#c0b0f4 0,#c4b5f4 18px,#d7cdf5 36px,#d1c6f5 46px,#bbabf5 64px,#ae9ef7 79px,#b7a7f6 94px,#d6cdf5 121px,#d2c7f5 131px,#c2b3f4 146px,#c0b0f4 161px)"></i><i style="height:2px;background:linear-gradient(90deg,#c1b1f4 0,#c5b6f4 18px,#d7cef5 36px,#d1c6f5 46px,#b8a8f6 68px,#af9ff7 83px,#c4b5f4 105px,#d6cdf5 120px,#d6ccf5 128px,#c3b4f4 146px,#c1b1f4 161px)"></i><i style="height:2px;background:linear-gradient(90deg,#c2b2f4 0,#c6b7f4 18px,#d7cff5 36px,#d2c7f5 46px,#b8a8f5 68px,#b0a0f7 83px,#c5b6f4 105px,#d6cdf5 120px,#d4caf5 130px,#c5b6f4 145px,#c2b2f4 161px)"></i><i style="height:2px;background:linear-gradient(90deg,#c3b3f4 0,#c6b8f4 18px,#d8cff5 36px,#d2c8f5 46px,#b9a9f5 68px,#b1a1f7 83px,#c5b7f4 105px,#d7cef5 120px,#d5cbf5 130px,#c4b5f4 148px,#c3b3f4 161px)"></i><i style="height:2px;background:linear-gradient(90deg,#c3b5f4 0,#c7b9f4 18px,#d8d0f5 36px,#d3c8f5 46px,#b5a5f6 73px,#b3a3f6 85px,#c8bbf4 107px,#d8d0f5 122px,#d3c9f5 132px,#c5b7f4 147px,#c3b5f4 161px)"></i><i style="height:2px;background:linear-gradient(90deg,#c4b6f4 0,#c8baf4 18px,#d9d0f5 36px,#d3c9f5 46px,#b6a6f6 73px,#b4a4f6 85px,#cfc4f5 112px,#d9d0f5 124px,#c7b9f4 146px,#c4b6f4 161px)"></i><i style="height:2px;background:linear-gradient(90deg,#c5b7f4 0,#c9bbf4 18px,#d9d1f5 36px,#d4caf5 46px,#b7a7f6 73px,#b5a5f6 85px,#d0c5f5 112px,#d9d1f5 124px,#c7baf4 146px,#c5b7f4 161px)"></i><i style="height:2px;background:linear-gradient(90deg,#c6b8f4 0,#cabcf4 18px,#d9d1f5 36px,#d4caf5 46px,#b8a8f6 73px,#b5a5f6 85px,#d0c5f5 112px,#dad1f5 124px,#c8bbf4 146px,#c6b8f4 161px)"></i><i style="height:2px;background:linear-gradient(90deg,#c7b9f4 0,#cabdf4 18px,#dad2f5 36px,#d5cbf5 46px,#b9a9f5 73px,#b6a6f6 85px,#d8cff5 118px,#d9d0f5 128px,#c9bcf4 146px,#c7b9f4 161px)"></i><i style="height:2px;background:linear-gradient(90deg,#c8baf4 0,#cbbef5 18px,#dad2f5 36px,#d3c9f5 48px,#b8a8f5 75px,#b9a9f5 87px,#d9d1f5 120px,#d7cff5 130px,#c9bcf4 148px,#c8baf4 161px)"></i><i style="height:2px;background:linear-gradient(90deg,#c9bbf4 0,#ccbff5 18px,#dbd3f5 36px,#d4caf5 48px,#b9a9f5 75px,#baaaf5 87px,#dad2f5 120px,#d8cff5 130px,#cabdf4 148px,#c9bbf4 161px)"></i><i style="height:2px;background:linear-gradient(90deg,#c9bcf4 0,#cdc0f5 18px,#dbd3f5 36px,#d4caf5 48px,#baaaf5 75px,#baaaf5 87px,#dad2f5 120px,#d8d0f5 130px,#cbbef4 148px,#c9bcf4 161px)"></i><i style="height:2px;background:linear-gradient(90deg,#cabdf4 0,#cdc1f5 18px,#dbd4f5 36px,#d5cbf5 48px,#bbabf5 75px,#bbabf5 87px,#dbd3f5 120px,#d9d0f5 130px,#cbbff5 148px,#cabdf4 161px)"></i><i style="height:2px;background:linear-gradient(90deg,#cbbef5 0,#d1c6f5 22px,#dcd4f5 37px,#d4caf5 49px,#bbabf5 76px,#bdadf5 88px,#dbd4f5 121px,#d6cdf5 133px,#cbbff5 151px,#cbbef5 161px)"></i><i style="height:2px;background:linear-gradient(90deg,#cbbff5 0,#d1c6f5 22px,#dcd5f5 37px,#d1c7f5 52px,#bdadf5 74px,#bcacf5 86px,#dbd3f5 119px,#dad2f5 129px,#cdc1f5 147px,#cbbff5 161px)"></i><i style="height:2px;background:linear-gradient(90deg,#ccc0f5 0,#d2c7f5 22px,#ddd5f5 37px,#d2c7f5 52px,#bbabf5 79px,#c1b1f4 91px,#dad2f5 118px,#dbd4f5 128px,#cec2f5 146px,#ccc0f5 161px)"></i><i style="height:2px;background:linear-gradient(90deg,#cdc1f5 0,#d2c8f5 22px,#ddd6f5 37px,#d3c8f5 52px,#bcacf5 79px,#c2b2f4 91px,#dbd3f5 118px,#dcd4f5 128px,#cec2f5 150px,#cdc1f5 161px)"></i><i style="height:2px;background:linear-gradient(90deg,#cec2f5 0,#d3c9f5 22px,#ddd6f5 37px,#d3c9f5 52px,#bcacf5 79px,#c2b3f4 91px,#dbd3f5 118px,#dcd4f5 128px,#cec3f5 150px,#cec2f5 161px)"></i><i style="height:2px;background:linear-gradient(90deg,#cec3f5 0,#d3c9f5 22px,#ded6f5 37px,#d4caf5 52px,#bdadf5 79px,#c3b4f4 91px,#dbd4f5 118px,#dbd3f5 130px,#cfc4f5 148px,#cec3f5 161px)"></i><i style="height:2px;background:linear-gradient(90deg,#cfc4f5 0,#d4caf5 22px,#ded7f5 37px,#d2c7f5 55px,#bfaff4 77px,#c2b3f4 89px,#ded7f5 122px,#d6ccf5 137px,#cfc4f5 155px,#cfc4f5 161px)"></i><i style="height:2px;background:linear-gradient(90deg,#d0c4f5 0,#d5cbf5 22px,#ded7f5 37px,#d2c8f5 55px,#bfaff4 77px,#c3b3f4 89px,#ded7f5 122px,#d6cdf5 137px,#d0c5f5 155px,#d0c4f5 161px)"></i><i style="height:2px;background:linear-gradient(90deg,#d0c5f5 0,#d5ccf5 22px,#dfd8f5 37px,#d3c8f5 55px,#c0b0f4 77px,#c3b4f4 89px,#ded8f5 122px,#d1c6f5 149px,#d0c5f5 161px)"></i><i style="height:2px;background:linear-gradient(90deg,#d1c6f5 0,#d6ccf5 22px,#dfd8f5 37px,#d3c9f5 55px,#c1b1f4 77px,#c4b5f4 89px,#dfd8f5 122px,#d2c7f5 149px,#d1c6f5 161px)"></i><i style="height:2px;background:linear-gradient(90deg,#d2c7f5 0,#d6cdf5 22px,#dfd9f5 37px,#d4caf5 55px,#c1b2f4 77px,#c5b6f4 89px,#dfd8f5 122px,#d3c8f5 149px,#d2c7f5 161px)"></i><i style="height:2px;background:linear-gradient(90deg,#d3c8f5 0,#d7cef5 22px,#e0d9f5 37px,#d1c7f5 59px,#c2b3f4 77px,#c5b7f4 89px,#dfd9f5 122px,#d3c9f5 149px,#d3c8f5 161px)"></i><i style="height:2px;background:linear-gradient(90deg,#d3c9f5 0,#d7cff5 22px,#e0d9f5 37px,#d2c8f5 59px,#c3b4f4 77px,#c6b8f4 89px,#e0d9f5 122px,#d3c9f5 155px,#d3c9f5 161px)"></i><i style="height:2px;background:linear-gradient(90deg,#d4caf5 0,#d8cff5 22px,#e0daf5 40px,#c3b4f4 81px,#e0daf5 122px,#d4caf5 155px,#d4caf5 161px)"></i><i style="height:2px;background:linear-gradient(90deg,#d5cbf5 0,#d9d0f5 22px,#e0daf5 40px,#c3b4f4 81px,#e0daf6 122px,#d5cbf5 155px,#d5cbf5 161px)"></i><i style="height:2px;background:linear-gradient(90deg,#d5ccf5 0,#d9d1f5 22px,#e1daf6 40px,#c4b5f4 81px,#e1dbf6 122px,#d5ccf5 155px,#d5ccf5 161px)"></i><i style="height:2px;background:linear-gradient(90deg,#d6cdf5 0,#dad2f5 22px,#e1dbf6 40px,#c5b6f4 81px,#e1dbf6 122px,#d6cdf5 155px,#d6cdf5 161px)"></i><i style="height:2px;background:linear-gradient(90deg,#d7cef5 0,#dad2f5 22px,#e1dbf6 40px,#c6b7f4 81px,#e1dbf6 122px,#d7cef5 155px,#d7cef5 161px)"></i><i style="height:2px;background:linear-gradient(90deg,#d7cff5 0,#dbd3f5 22px,#e2dcf6 40px,#c6b8f4 81px,#e2dcf6 122px,#d8cff5 155px,#d7cff5 161px)"></i><i style="height:2px;background:linear-gradient(90deg,#d8cff5 0,#dcd4f5 22px,#e2dcf6 40px,#c7b9f4 81px,#e2dcf6 122px,#d8d0f5 155px,#d8cff5 161px)"></i><i style="height:2px;background:linear-gradient(90deg,#d9d0f5 0,#dfd8f5 27px,#e2dcf6 42px,#cabdf4 75px,#cabdf4 87px,#e2dcf6 120px,#ddd5f5 138px,#d9d0f5 161px)"></i><i style="height:1.7px;background:linear-gradient(90deg,#dad1f5 0,#dfd9f5 27px,#e2dcf6 42px,#cabdf4 75px,#cbbef5 87px,#e2ddf6 120px,#dad1f5 161px)"></i></div>
<div class="cb" style="left:1040.3px;top:15px;width:26.9px;height:401.5px;background:linear-gradient(180deg,#ffffff 0.00%,#a64598 16.67%,#dd6165 33.33%,#f49b42 50.00%,#3e9030 66.67%,#5593d0 83.33%,#000000 100.00%)"></div>
<div class="cb" style="left:450.3px;top:560px;width:26.9px;height:401.3px;background:linear-gradient(180deg,#ffffff 0.00%,#a64598 16.67%,#dd6165 33.33%,#f49b42 50.00%,#3e9030 66.67%,#5593d0 83.33%,#000000 100.00%)"></div>
<div class="cb" style="left:1674px;top:1101.5px;width:22.8px;height:178.7px;background:linear-gradient(180deg,#ffffff 0.00%,#a64598 16.67%,#dd6165 33.33%,#f49b42 50.00%,#3e9030 66.67%,#5593d0 83.33%,#000000 100.00%)"></div>
<div class="cb" style="left:1674px;top:1328.2px;width:22.8px;height:177.7px;background:linear-gradient(180deg,#999999 0.00%,#de6165 16.67%,#de6165 33.33%,#000000 50.00%,#5595d0 66.67%,#5595d0 83.33%,#999999 100.00%)"></div>
<div class="cb" style="left:1674px;top:1555.1px;width:22.8px;height:177.7px;background:linear-gradient(180deg,#999999 0.00%,#de6165 16.67%,#de6165 33.33%,#000000 50.00%,#5595d0 66.67%,#5595d0 83.33%,#999999 100.00%)"></div>
<div class="cb" style="left:1195.2px;top:874px;width:26.2px;height:174.4px;background:linear-gradient(180deg,#700058 0.00%,#980040 5.00%,#c00428 11.00%,#e81414 18.00%,#fc4808 24.00%,#fc8808 29.00%,#fcbc10 34.00%,#f0e41c 39.00%,#c4f43c 44.00%,#80f470 50.00%,#38f4c0 56.00%,#22ecec 61.00%,#3cc8f8 67.00%,#6fa0fc 73.00%,#8a92fc 78.00%,#a090fa 83.00%,#c0b0f4 90.00%,#ebe8f6 100.00%)"></div>
<svg width="1786" height="1809" viewBox="0 0 1786 1809" font-family="Liberation Sans, sans-serif" font-size="21.7" fill="#000">
<text x="2.00" y="32.00" font-weight="bold" font-size="39">(a)</text>
<text x="34.50" y="76.50" font-size="29.5">air</text>
<path d="M84.00 64.80L283.20 64.80" stroke="#222" stroke-width="1.2" />
<text x="34.50" y="159.50" font-size="29.5">SiO<tspan font-size="20" dy="7">2</tspan></text>
<path d="M113.20 147.80L264.00 147.80" stroke="#222" stroke-width="1.2" />
<text x="34.50" y="242.00" font-size="29.5">Si</text>
<rect x="280.8" y="180.7" width="30.2" height="123.3" fill="#ae5aab"/>
<path d="M77.90 230.80L293.90 230.80" stroke="#222" stroke-width="1.2" />
<path d="M295.60 124.00L295.60 173.30" stroke="#000" stroke-width="1.3" />
<path d="M295.60 180.50L292.35 171.50L298.85 171.50Z" fill="#000"/>
<path d="M295.60 116.80L298.85 125.80L292.35 125.80Z" fill="#000"/>
<text x="312.00" y="163.00" font-style="italic" font-size="35">d</text>
<path d="M311.00 180.70L360.00 180.70" stroke="#222" stroke-width="1.1" stroke-dasharray="4.2 3"/>
<path d="M311.00 304.00L360.00 304.00" stroke="#222" stroke-width="1.1" stroke-dasharray="4.2 3"/>
<path d="M336.90 188.20L336.90 296.60" stroke="#000" stroke-width="1.3" />
<path d="M336.90 303.80L333.65 294.80L340.15 294.80Z" fill="#000"/>
<path d="M336.90 181.00L340.15 190.00L333.65 190.00Z" fill="#000"/>
<text x="355.00" y="256.00" font-style="italic" font-size="35">h</text>
<path d="M280.80 304.00L280.80 344.50" stroke="#222" stroke-width="1.1" stroke-dasharray="4.2 3"/>
<path d="M311.00 304.00L311.00 344.50" stroke="#222" stroke-width="1.1" stroke-dasharray="4.2 3"/>
<path d="M287.40 337.00L304.40 337.00" stroke="#000" stroke-width="1.3" />
<path d="M310.80 337.00L302.80 340.00L302.80 334.00Z" fill="#000"/>
<path d="M281.00 337.00L289.00 334.00L289.00 340.00Z" fill="#000"/>
<text x="284.50" y="379.60" font-style="italic" font-size="35">w</text>
<path d="M20.80 414.80L20.80 358.00" stroke="#000" stroke-width="1.5" />
<path d="M20.80 349.00L26.55 362.00L15.05 362.00Z" fill="#000"/>
<path d="M20.80 414.80L68.00 414.80" stroke="#000" stroke-width="1.5" />
<path d="M78.50 414.80L65.50 420.55L65.50 409.05Z" fill="#000"/>
<text x="15.00" y="340.50" font-family="Liberation Serif, serif" font-style="italic" font-size="31">z</text>
<text x="85.00" y="422.50" font-family="Liberation Serif, serif" font-style="italic" font-size="31">x</text>
<path d="M179.70 412.50L412.60 412.50" stroke="#000" stroke-width="1.3" />
<path d="M419.80 412.50L410.80 416.00L410.80 409.00Z" fill="#000"/>
<path d="M172.50 412.50L181.50 409.00L181.50 416.00Z" fill="#000"/>
<text x="301.20" y="452.00" text-anchor="middle" font-family="Liberation Serif, serif" font-size="36">Λ</text>
<text x="535.00" y="32.00" font-weight="bold" font-size="39">(b)</text>
<rect x="685.80" y="15.00" width="321.20" height="401.50" fill="none" stroke="#000" stroke-width="1.9"/>
<path d="M684.90 416.50L678.30 416.50" stroke="#000" stroke-width="1.9" />
<text x="670.50" y="424.10" text-anchor="end">0</text>
<path d="M684.90 366.31L678.30 366.31" stroke="#000" stroke-width="1.9" />
<text x="670.50" y="373.91" text-anchor="end">250</text>
<path d="M684.90 316.12L678.30 316.12" stroke="#000" stroke-width="1.9" />
<text x="670.50" y="323.73" text-anchor="end">500</text>
<path d="M684.90 265.94L678.30 265.94" stroke="#000" stroke-width="1.9" />
<text x="670.50" y="273.54" text-anchor="end">750</text>
<path d="M684.90 215.75L678.30 215.75" stroke="#000" stroke-width="1.9" />
<text x="670.50" y="223.35" text-anchor="end">1000</text>
<path d="M684.90 165.56L678.30 165.56" stroke="#000" stroke-width="1.9" />
<text x="670.50" y="173.16" text-anchor="end">1250</text>
<path d="M684.90 115.38L678.30 115.38" stroke="#000" stroke-width="1.9" />
<text x="670.50" y="122.97" text-anchor="end">1500</text>
<path d="M684.90 65.19L678.30 65.19" stroke="#000" stroke-width="1.9" />
<text x="670.50" y="72.79" text-anchor="end">1750</text>
<path d="M684.90 15.00L678.30 15.00" stroke="#000" stroke-width="1.9" />
<text x="670.50" y="22.60" text-anchor="end">2000</text>
<path d="M685.80 417.40L685.80 424.00" stroke="#000" stroke-width="1.9" />
<text x="685.80" y="447.00" text-anchor="middle">0.0</text>
<path d="M766.10 417.40L766.10 424.00" stroke="#000" stroke-width="1.9" />
<text x="766.10" y="447.00" text-anchor="middle">0.1</text>
<path d="M846.40 417.40L846.40 424.00" stroke="#000" stroke-width="1.9" />
<text x="846.40" y="447.00" text-anchor="middle">0.2</text>
<path d="M926.70 417.40L926.70 424.00" stroke="#000" stroke-width="1.9" />
<text x="926.70" y="447.00" text-anchor="middle">0.3</text>
<path d="M1007.00 417.40L1007.00 424.00" stroke="#000" stroke-width="1.9" />
<text x="1007.00" y="447.00" text-anchor="middle">0.4</text>
<text x="846.50" y="484.00" text-anchor="middle" font-family="Liberation Serif, serif" font-size="27.5"><tspan font-style="italic">k</tspan><tspan font-style="italic" font-size="19.8" dy="5">x</tspan><tspan dy="-5"> (π/Λ)</tspan></text>
<text text-anchor="middle" transform="translate(604.50 214.50) rotate(-90)">Distance to the interface, <tspan font-style="italic">d</tspan> (nm)</text>
<rect x="1040.30" y="15.00" width="26.90" height="401.50" fill="none" stroke="#000" stroke-width="1.6"/>
<path d="M1068.10 416.50L1074.70 416.50" stroke="#000" stroke-width="1.9" />
<text x="1083.50" y="424.10">3</text>
<path d="M1068.10 349.58L1074.70 349.58" stroke="#000" stroke-width="1.9" />
<text x="1083.50" y="357.18">4</text>
<path d="M1068.10 282.67L1074.70 282.67" stroke="#000" stroke-width="1.9" />
<text x="1083.50" y="290.27">5</text>
<path d="M1068.10 215.75L1074.70 215.75" stroke="#000" stroke-width="1.9" />
<text x="1083.50" y="223.35">6</text>
<path d="M1068.10 148.83L1074.70 148.83" stroke="#000" stroke-width="1.9" />
<text x="1083.50" y="156.43">7</text>
<path d="M1068.10 81.92L1074.70 81.92" stroke="#000" stroke-width="1.9" />
<text x="1083.50" y="89.52">8</text>
<path d="M1068.10 15.00L1074.70 15.00" stroke="#000" stroke-width="1.9" />
<text x="1083.50" y="22.60">9</text>
<text transform="translate(1125.50 215.00) rotate(-90)" text-anchor="middle">log(<tspan font-family="Liberation Serif, serif" font-style="italic" font-size="23">Q</tspan>)</text>
<text x="1175.00" y="32.00" font-weight="bold" font-size="39">(c)</text>
<clipPath id="cc"><rect x="1272.90" y="15.00" width="321.00" height="401.50"/></clipPath>
<polyline clip-path="url(#cc)" points="1273.3,153.4 1273.9,201.0 1274.6,224.8 1275.9,252.8 1277.2,270.5 1278.4,283.5 1280.4,298.1 1282.9,312.4 1285.5,323.4 1288.7,334.2 1292.6,344.5 1297.1,354.0 1299.6,358.0 1302.2,361.6 1307.4,367.6 1310.6,370.7 1313.8,373.5 1317.0,376.0 1320.8,378.6 1324.7,380.9 1328.6,382.9 1333.1,384.9 1337.5,386.6 1346.5,389.4 1356.8,391.6 1367.7,393.0 1380.0,393.7 1392.2,393.6 1405.7,392.9 1417.9,391.6 1430.7,389.8 1444.2,387.4 1458.3,384.4 1470.5,381.5 1484.4,378.0 1535.4,363.8 1547.0,360.9 1557.3,358.7 1569.5,356.7 1581.7,355.4 1593.9,356.4" fill="none" stroke="#55a846" stroke-width="2" stroke-linejoin="round"/>
<polyline clip-path="url(#cc)" points="1273.3,135.0 1273.9,182.5 1274.6,206.3 1275.9,234.3 1277.2,252.0 1278.4,264.9 1280.4,279.5 1282.9,293.7 1285.5,304.6 1288.7,315.4 1292.6,325.5 1297.1,334.9 1299.6,339.0 1302.2,342.6 1307.4,348.8 1313.1,354.4 1316.3,357.1 1320.2,359.9 1327.3,364.1 1334.3,367.5 1342.7,370.6 1351.0,372.9 1360.0,374.6 1369.7,375.8 1380.0,376.4 1390.2,376.5 1403.1,375.7 1416.6,374.2 1430.1,371.9 1444.2,368.7 1457.1,365.2 1470.5,360.9 1483.1,356.5 1507.5,347.4 1517.3,344.0 1527.6,341.2 1532.2,340.3 1536.7,339.7 1542.5,339.2 1548.3,339.3 1554.7,340.0 1561.1,341.3 1567.6,343.0 1575.3,345.6 1583.6,348.9 1593.9,353.2" fill="none" stroke="#2e86c8" stroke-width="2" stroke-linejoin="round"/>
<polyline clip-path="url(#cc)" points="1273.3,122.8 1273.9,170.3 1274.6,194.1 1275.9,222.1 1277.2,239.7 1278.4,252.6 1280.4,267.1 1282.3,278.1 1284.9,289.6 1288.1,300.8 1291.9,311.3 1296.4,320.9 1298.4,324.2 1300.9,328.0 1306.1,334.5 1311.9,340.3 1317.6,345.0 1321.5,347.6 1325.3,349.9 1329.2,351.9 1333.7,353.9 1338.2,355.6 1343.3,357.3 1348.5,358.6 1353.6,359.7 1364.5,361.3 1376.7,362.1 1388.9,362.0 1401.8,361.0 1412.1,359.6 1422.4,357.6 1432.6,355.1 1442.3,352.2 1453.2,348.4 1464.1,343.9 1474.2,339.3 1494.5,329.4 1503.5,325.6 1508.7,323.9 1513.6,322.7 1518.2,322.1 1522.6,322.0 1527.4,322.5 1532.2,323.5 1537.4,325.3 1543.1,327.8 1552.8,333.0 1579.1,348.7 1593.9,356.6" fill="none" stroke="#b65cb4" stroke-width="2" stroke-linejoin="round"/>
<polyline clip-path="url(#cc)" points="1273.3,120.9 1273.9,168.4 1274.6,192.2 1275.9,220.2 1277.2,237.8 1278.4,250.7 1280.4,265.1 1282.3,276.2 1284.9,287.7 1288.1,298.8 1291.9,309.3 1295.8,317.6 1297.1,320.0 1299.6,324.0 1304.1,329.9 1309.3,335.4 1315.1,340.3 1319.6,343.5 1324.1,346.1 1329.2,348.7 1334.3,350.7 1339.5,352.4 1345.3,353.9 1351.0,355.0 1357.5,355.9 1363.9,356.3 1370.3,356.4 1376.7,356.2 1383.8,355.6 1390.2,354.8 1397.3,353.5 1404.4,351.9 1411.4,350.0 1423.0,346.1 1428.8,343.8 1434.6,341.2 1440.3,338.3 1445.5,335.5 1450.6,332.4 1455.8,329.0 1465.4,321.9 1474.7,313.8 1482.8,305.7 1496.3,291.0 1501.1,286.5 1503.9,284.3 1506.5,282.9 1508.9,282.1 1511.3,281.9 1513.7,282.6 1516.2,284.0 1518.9,286.1 1521.8,289.0 1526.6,294.6 1538.6,310.2 1545.7,318.9 1553.4,327.6 1561.8,336.1 1569.5,343.3 1577.2,349.8 1585.5,356.3 1593.9,362.3" fill="none" stroke="#d3504f" stroke-width="2" stroke-linejoin="round"/>
<polyline clip-path="url(#cc)" points="1273.3,116.2 1273.9,163.7 1274.6,187.5 1275.9,215.5 1277.2,233.1 1278.4,246.0 1280.4,260.5 1282.3,271.5 1284.9,283.1 1288.1,294.3 1291.9,304.8 1296.4,314.5 1300.3,320.8 1305.4,327.6 1311.2,333.8 1317.0,338.9 1322.8,343.0 1328.6,346.4 1335.0,349.5 1341.4,352.0 1348.5,354.0 1355.5,355.4 1362.6,356.2 1369.7,356.5 1376.7,356.2 1384.5,355.2 1392.2,353.7 1399.9,351.7 1407.6,349.0 1415.3,345.9 1423.0,342.2 1430.7,338.0 1437.1,334.0 1442.9,329.9 1448.7,325.3 1453.8,320.7 1459.0,315.5 1463.5,310.3 1468.0,304.5 1471.8,298.8 1474.9,293.7 1477.7,288.5 1480.6,282.7 1483.1,276.9 1485.8,270.0 1488.4,262.2 1496.6,235.3 1497.6,232.9 1498.4,231.4 1499.3,230.5 1500.0,230.3 1500.7,230.6 1501.5,231.6 1503.4,235.8 1512.1,266.0 1515.2,275.2 1518.6,284.0 1522.1,291.9 1525.8,299.2 1529.7,306.1 1534.1,313.0 1539.3,319.9 1545.1,326.8 1551.5,333.6 1557.9,339.6 1565.6,346.1 1574.6,353.1 1584.3,359.9 1593.9,366.2" fill="none" stroke="#f0872b" stroke-width="2" stroke-linejoin="round"/>
<polyline clip-path="url(#cc)" points="1273.3,112.7 1273.9,160.2 1274.6,184.0 1275.9,211.9 1277.2,229.5 1278.4,242.3 1279.7,252.4 1281.7,264.3 1283.6,273.7 1285.5,281.4 1288.1,290.0 1290.6,297.0 1293.9,304.4 1297.1,310.6 1300.9,316.4 1305.4,321.9 1309.9,326.4 1315.1,330.5 1320.8,334.3 1326.6,337.2 1333.1,339.8 1339.5,341.7 1347.2,343.3 1355.5,344.3 1364.5,344.9 1374.2,344.9 1383.8,344.3 1392.8,343.3 1401.8,341.6 1410.2,339.5 1416.6,337.5 1422.4,335.2 1428.1,332.5 1433.9,329.4 1439.1,326.1 1444.2,322.3 1449.3,317.9 1453.8,313.4 1458.3,308.2 1462.2,303.1 1466.0,297.2 1469.3,291.5 1472.5,284.9 1475.0,278.8 1477.6,271.8 1479.9,264.5 1481.8,257.1 1483.5,249.5 1485.1,241.4 1486.5,232.6 1488.7,213.9 1490.5,192.2 1491.7,167.7 1492.5,138.8 1493.1,102.8 1493.5,48.2 1493.7,48.3 1494.1,102.9 1494.6,139.1 1495.6,170.9 1497.0,197.8 1499.0,220.4 1500.3,231.0 1501.7,240.6 1503.3,249.9 1505.1,258.3 1507.2,266.9 1509.4,274.7 1512.1,282.7 1515.2,290.7 1518.6,298.2 1522.2,305.4 1526.4,312.5 1530.9,319.3 1535.4,325.4 1540.6,331.6 1546.4,337.9 1552.1,343.5 1558.6,349.1 1565.0,354.1 1571.4,358.6 1578.5,363.0 1586.2,367.2 1593.9,371.0" fill="none" stroke="#d5a843" stroke-width="2" stroke-linejoin="round"/>
<rect x="1272.90" y="15.00" width="321.00" height="401.50" fill="none" stroke="#000" stroke-width="1.9"/>
<path d="M1272.00 388.00L1265.40 388.00" stroke="#000" stroke-width="1.9" />
<text x="1257.00" y="395.60" text-anchor="end">3</text>
<path d="M1272.00 330.63L1265.40 330.63" stroke="#000" stroke-width="1.9" />
<text x="1257.00" y="338.23" text-anchor="end">4</text>
<path d="M1272.00 273.26L1265.40 273.26" stroke="#000" stroke-width="1.9" />
<text x="1257.00" y="280.86" text-anchor="end">5</text>
<path d="M1272.00 215.89L1265.40 215.89" stroke="#000" stroke-width="1.9" />
<text x="1257.00" y="223.49" text-anchor="end">6</text>
<path d="M1272.00 158.52L1265.40 158.52" stroke="#000" stroke-width="1.9" />
<text x="1257.00" y="166.12" text-anchor="end">7</text>
<path d="M1272.00 101.15L1265.40 101.15" stroke="#000" stroke-width="1.9" />
<text x="1257.00" y="108.75" text-anchor="end">8</text>
<path d="M1272.00 43.78L1265.40 43.78" stroke="#000" stroke-width="1.9" />
<text x="1257.00" y="51.38" text-anchor="end">9</text>
<path d="M1272.90 417.40L1272.90 424.00" stroke="#000" stroke-width="1.9" />
<text x="1272.90" y="447.00" text-anchor="middle">0.0</text>
<path d="M1353.15 417.40L1353.15 424.00" stroke="#000" stroke-width="1.9" />
<text x="1353.15" y="447.00" text-anchor="middle">0.1</text>
<path d="M1433.40 417.40L1433.40 424.00" stroke="#000" stroke-width="1.9" />
<text x="1433.40" y="447.00" text-anchor="middle">0.2</text>
<path d="M1513.65 417.40L1513.65 424.00" stroke="#000" stroke-width="1.9" />
<text x="1513.65" y="447.00" text-anchor="middle">0.3</text>
<path d="M1593.90 417.40L1593.90 424.00" stroke="#000" stroke-width="1.9" />
<text x="1593.90" y="447.00" text-anchor="middle">0.4</text>
<text x="1433.50" y="484.00" text-anchor="middle" font-family="Liberation Serif, serif" font-size="27.5"><tspan font-style="italic">k</tspan><tspan font-style="italic" font-size="19.8" dy="5">x</tspan><tspan dy="-5"> (π/Λ)</tspan></text>
<text transform="translate(1227.00 215.50) rotate(-90)" text-anchor="middle">log(<tspan font-family="Liberation Serif, serif" font-style="italic" font-size="23">Q</tspan>)</text>
<text x="1632.50" y="52.00">Distance to the</text>
<text x="1632.50" y="74.50">interface, <tspan font-style="italic">d</tspan></text>
<path d="M1631.00 99.20L1676.00 99.20" stroke="#d5a843" stroke-width="2" />
<text x="1693.00" y="106.80">2000 nm</text>
<path d="M1631.00 130.20L1676.00 130.20" stroke="#f0872b" stroke-width="2" />
<text x="1693.00" y="137.80">600 nm</text>
<path d="M1631.00 161.20L1676.00 161.20" stroke="#d3504f" stroke-width="2" />
<text x="1693.00" y="168.80">400 nm</text>
<path d="M1631.00 192.20L1676.00 192.20" stroke="#b65cb4" stroke-width="2" />
<text x="1693.00" y="199.80">200 nm</text>
<path d="M1631.00 223.20L1676.00 223.20" stroke="#2e86c8" stroke-width="2" />
<text x="1693.00" y="230.80">100 nm</text>
<path d="M1631.00 254.20L1676.00 254.20" stroke="#55a846" stroke-width="2" />
<text x="1693.00" y="261.80">0</text>
<text x="2.00" y="535.00" font-weight="bold" font-size="39">(d)</text>
<rect x="97.00" y="560.00" width="321.00" height="401.30" fill="none" stroke="#000" stroke-width="1.9"/>
<path d="M96.10 961.30L89.50 961.30" stroke="#000" stroke-width="1.9" />
<text x="81.00" y="968.90" text-anchor="end">80</text>
<path d="M96.10 881.04L89.50 881.04" stroke="#000" stroke-width="1.9" />
<text x="81.00" y="888.64" text-anchor="end">100</text>
<path d="M96.10 800.78L89.50 800.78" stroke="#000" stroke-width="1.9" />
<text x="81.00" y="808.38" text-anchor="end">120</text>
<path d="M96.10 720.52L89.50 720.52" stroke="#000" stroke-width="1.9" />
<text x="81.00" y="728.12" text-anchor="end">140</text>
<path d="M96.10 640.26L89.50 640.26" stroke="#000" stroke-width="1.9" />
<text x="81.00" y="647.86" text-anchor="end">160</text>
<path d="M96.10 560.00L89.50 560.00" stroke="#000" stroke-width="1.9" />
<text x="81.00" y="567.60" text-anchor="end">180</text>
<path d="M97.00 962.20L97.00 968.80" stroke="#000" stroke-width="1.9" />
<text x="97.00" y="992.30" text-anchor="middle">0.0</text>
<path d="M177.25 962.20L177.25 968.80" stroke="#000" stroke-width="1.9" />
<text x="177.25" y="992.30" text-anchor="middle">0.1</text>
<path d="M257.50 962.20L257.50 968.80" stroke="#000" stroke-width="1.9" />
<text x="257.50" y="992.30" text-anchor="middle">0.2</text>
<path d="M337.75 962.20L337.75 968.80" stroke="#000" stroke-width="1.9" />
<text x="337.75" y="992.30" text-anchor="middle">0.3</text>
<path d="M418.00 962.20L418.00 968.80" stroke="#000" stroke-width="1.9" />
<text x="418.00" y="992.30" text-anchor="middle">0.4</text>
<text x="257.50" y="1029.30" text-anchor="middle" font-family="Liberation Serif, serif" font-size="27.5"><tspan font-style="italic">k</tspan><tspan font-style="italic" font-size="19.8" dy="5">x</tspan><tspan dy="-5"> (π/Λ)</tspan></text>
<text text-anchor="middle" transform="translate(25.50 760.00) rotate(-90)">Grating bar width, <tspan font-style="italic">w</tspan> (nm)</text>
<rect x="450.30" y="560.00" width="26.90" height="401.30" fill="none" stroke="#000" stroke-width="1.6"/>
<path d="M478.10 961.30L484.70 961.30" stroke="#000" stroke-width="1.9" />
<text x="492.50" y="968.90">3</text>
<path d="M478.10 894.42L484.70 894.42" stroke="#000" stroke-width="1.9" />
<text x="492.50" y="902.02">4</text>
<path d="M478.10 827.53L484.70 827.53" stroke="#000" stroke-width="1.9" />
<text x="492.50" y="835.13">5</text>
<path d="M478.10 760.65L484.70 760.65" stroke="#000" stroke-width="1.9" />
<text x="492.50" y="768.25">6</text>
<path d="M478.10 693.77L484.70 693.77" stroke="#000" stroke-width="1.9" />
<text x="492.50" y="701.37">7</text>
<path d="M478.10 626.88L484.70 626.88" stroke="#000" stroke-width="1.9" />
<text x="492.50" y="634.48">8</text>
<path d="M478.10 560.00L484.70 560.00" stroke="#000" stroke-width="1.9" />
<text x="492.50" y="567.60">9</text>
<text transform="translate(535.50 760.50) rotate(-90)" text-anchor="middle">log(<tspan font-family="Liberation Serif, serif" font-style="italic" font-size="23">Q</tspan>)</text>
<text x="581.50" y="534.30" font-weight="bold" font-size="39">(e)</text>
<clipPath id="ce"><rect x="685.80" y="560.00" width="321.40" height="401.30"/></clipPath>
<polyline clip-path="url(#ce)" points="685.8,759.1 767.1,817.2 873.5,893.7 880.7,898.7 892.0,906.0 898.4,909.8 903.3,912.3 912.1,916.2 921.8,919.8 930.6,922.7 940.3,925.3 943.5,925.8 946.7,925.9 954.0,925.5 958.0,925.0 962.0,923.6 966.9,921.4 970.1,919.2 974.1,915.8 977.3,912.6 979.8,909.8 991.8,893.0 995.1,889.9 995.9,889.4 996.7,889.2 997.5,889.4 999.1,890.6 1000.7,892.5 1001.5,894.0 1003.9,900.7 1007.1,913.8" fill="none" stroke="#d5a843" stroke-width="2" stroke-linejoin="round"/>
<polyline clip-path="url(#ce)" points="685.8,732.3 711.6,751.3 739.0,771.0 796.9,812.0 840.4,842.1 860.6,855.7 880.7,870.3 893.6,878.6 903.3,883.9 915.3,889.6 920.2,891.5 925.0,893.1 929.8,894.4 934.7,895.5 941.1,896.5 945.9,896.8 949.2,896.6 952.4,896.1 956.4,895.3 958.0,894.8 961.2,893.2 966.9,889.8 973.3,884.7 978.2,881.6 979.8,880.9 980.6,880.8 981.4,880.8 983.0,881.6 984.6,882.8 985.4,883.9 987.0,886.7 991.0,895.0 995.9,907.1 998.3,912.4 1003.1,921.8 1007.1,928.6" fill="none" stroke="#f0872b" stroke-width="2" stroke-linejoin="round"/>
<polyline clip-path="url(#ce)" points="685.8,701.1 706.7,717.7 727.7,733.7 749.4,749.7 772.8,766.2 794.5,781.1 817.9,796.5 841.2,811.6 861.4,823.7 877.5,834.7 883.9,838.8 892.8,844.0 901.6,849.0 923.4,860.0 929.0,862.0 933.9,863.3 945.1,864.8 953.2,866.4 957.2,867.7 960.4,869.7 964.5,872.9 968.5,876.7 971.7,880.5 975.7,885.8 979.8,891.6 996.7,919.1 1001.5,926.1 1007.1,933.5" fill="none" stroke="#d3504f" stroke-width="2" stroke-linejoin="round"/>
<polyline clip-path="url(#ce)" points="685.8,678.8 710.0,697.4 734.9,716.0 761.5,735.3 788.9,754.7 813.9,772.0 840.4,790.1 871.0,810.0 916.1,839.8 921.0,843.2 925.8,846.8 930.6,850.8 936.3,855.8 946.7,866.1 950.8,870.5 956.4,877.2 968.5,892.0 980.6,907.2 985.4,912.9 991.0,918.9 996.7,924.4 1002.3,929.6 1007.1,933.6" fill="none" stroke="#b65cb4" stroke-width="2" stroke-linejoin="round"/>
<polyline clip-path="url(#ce)" points="685.8,686.0 709.2,703.9 733.3,722.0 758.3,740.2 784.1,758.4 812.2,777.9 841.2,797.5 876.7,819.9 896.0,832.8 916.1,846.7 939.5,863.5 943.5,866.7 947.5,870.3 955.6,878.4 968.5,892.8 987.0,915.2 997.5,926.6 1007.1,936.4" fill="none" stroke="#2e86c8" stroke-width="2" stroke-linejoin="round"/>
<polyline clip-path="url(#ce)" points="685.8,692.2 709.2,710.3 732.5,727.9 756.7,745.6 781.6,763.4 810.6,783.6 841.2,804.3 874.3,825.2 886.3,833.2 904.9,846.1 925.8,861.3 944.3,875.4 961.2,889.1 970.9,897.5 1007.1,930.0" fill="none" stroke="#55a846" stroke-width="2" stroke-linejoin="round"/>
<path clip-path="url(#ce)" d="M685.8 559.8L1007.1 936.9" stroke="#000" stroke-width="2.2" stroke-dasharray="8 4.2" fill="none"/>
<path clip-path="url(#ce)" d="M685.8 759.1L1007.1 991.1" stroke="#000" stroke-width="2" stroke-dasharray="2 3.6" fill="none"/>
<rect x="685.80" y="560.00" width="321.40" height="401.30" fill="none" stroke="#000" stroke-width="1.9"/>
<path d="M684.90 938.80L678.30 938.80" stroke="#000" stroke-width="1.9" />
<text x="670.50" y="946.40" text-anchor="end">3</text>
<path d="M684.90 894.21L678.30 894.21" stroke="#000" stroke-width="1.9" />
<text x="670.50" y="901.81" text-anchor="end">4</text>
<path d="M684.90 849.62L678.30 849.62" stroke="#000" stroke-width="1.9" />
<text x="670.50" y="857.22" text-anchor="end">5</text>
<path d="M684.90 805.03L678.30 805.03" stroke="#000" stroke-width="1.9" />
<text x="670.50" y="812.63" text-anchor="end">6</text>
<path d="M684.90 760.44L678.30 760.44" stroke="#000" stroke-width="1.9" />
<text x="670.50" y="768.04" text-anchor="end">7</text>
<path d="M684.90 715.85L678.30 715.85" stroke="#000" stroke-width="1.9" />
<text x="670.50" y="723.45" text-anchor="end">8</text>
<path d="M684.90 671.26L678.30 671.26" stroke="#000" stroke-width="1.9" />
<text x="670.50" y="678.86" text-anchor="end">9</text>
<path d="M684.90 626.67L678.30 626.67" stroke="#000" stroke-width="1.9" />
<text x="670.50" y="634.27" text-anchor="end">10</text>
<path d="M684.90 582.08L678.30 582.08" stroke="#000" stroke-width="1.9" />
<text x="670.50" y="589.68" text-anchor="end">11</text>
<path d="M685.80 962.20L685.80 968.80" stroke="#000" stroke-width="1.9" />
<text x="685.80" y="991.80" text-anchor="middle">0.001</text>
<path d="M809.30 962.20L809.30 968.80" stroke="#000" stroke-width="1.9" />
<text x="809.30" y="991.80" text-anchor="middle">0.01</text>
<path d="M932.80 962.20L932.80 968.80" stroke="#000" stroke-width="1.9" />
<text x="932.80" y="991.80" text-anchor="middle">0.1</text>
<path d="M722.98 962.20L722.98 966.20" stroke="#000" stroke-width="1.5" />
<path d="M744.72 962.20L744.72 966.20" stroke="#000" stroke-width="1.5" />
<path d="M760.15 962.20L760.15 966.20" stroke="#000" stroke-width="1.5" />
<path d="M772.12 962.20L772.12 966.20" stroke="#000" stroke-width="1.5" />
<path d="M781.90 962.20L781.90 966.20" stroke="#000" stroke-width="1.5" />
<path d="M790.17 962.20L790.17 966.20" stroke="#000" stroke-width="1.5" />
<path d="M797.33 962.20L797.33 966.20" stroke="#000" stroke-width="1.5" />
<path d="M803.65 962.20L803.65 966.20" stroke="#000" stroke-width="1.5" />
<path d="M846.48 962.20L846.48 966.20" stroke="#000" stroke-width="1.5" />
<path d="M868.22 962.20L868.22 966.20" stroke="#000" stroke-width="1.5" />
<path d="M883.65 962.20L883.65 966.20" stroke="#000" stroke-width="1.5" />
<path d="M895.62 962.20L895.62 966.20" stroke="#000" stroke-width="1.5" />
<path d="M905.40 962.20L905.40 966.20" stroke="#000" stroke-width="1.5" />
<path d="M913.67 962.20L913.67 966.20" stroke="#000" stroke-width="1.5" />
<path d="M920.83 962.20L920.83 966.20" stroke="#000" stroke-width="1.5" />
<path d="M927.15 962.20L927.15 966.20" stroke="#000" stroke-width="1.5" />
<path d="M969.98 962.20L969.98 966.20" stroke="#000" stroke-width="1.5" />
<path d="M991.72 962.20L991.72 966.20" stroke="#000" stroke-width="1.5" />
<path d="M1007.15 962.20L1007.15 966.20" stroke="#000" stroke-width="1.5" />
<text x="1007.15" y="991.80" text-anchor="middle">0.4</text>
<text x="847.50" y="1029.30" text-anchor="middle" font-family="Liberation Serif, serif" font-size="27.5"><tspan font-style="italic">k</tspan><tspan font-style="italic" font-size="19.8" dy="5">x</tspan><tspan dy="-5"> (π/Λ)</tspan></text>
<text transform="translate(631.00 761.50) rotate(-90)" text-anchor="middle">log(<tspan font-family="Liberation Serif, serif" font-style="italic" font-size="23">Q</tspan>)</text>
<text x="772.50" y="641.00" font-family="Liberation Serif, 'DejaVu Serif', serif" font-size="27"><tspan font-style="italic">Q</tspan><tspan font-size="34" dx="4" dy="1.5">∝</tspan><tspan font-style="italic" dx="5" dy="-1.5">k</tspan><tspan font-style="italic" font-size="19" dy="6">x</tspan><tspan font-family="Liberation Sans, sans-serif" font-size="15.5" dy="-21" dx="-3">−3.25</tspan></text>
<text x="772.50" y="921.30" font-family="Liberation Serif, 'DejaVu Serif', serif" font-size="27"><tspan font-style="italic">Q</tspan><tspan font-size="34" dx="4" dy="1.5">∝</tspan><tspan font-style="italic" dx="5" dy="-1.5">k</tspan><tspan font-style="italic" font-size="19" dy="6">x</tspan><tspan font-family="Liberation Sans, sans-serif" font-size="15.5" dy="-21" dx="-3">−2</tspan></text>
<text x="1041.30" y="619.50">Grating bar width, <tspan font-style="italic">w</tspan></text>
<path d="M1044.00 643.60L1089.00 643.60" stroke="#d5a843" stroke-width="2" />
<text x="1106.00" y="651.20">180 nm</text>
<path d="M1044.00 674.80L1089.00 674.80" stroke="#f0872b" stroke-width="2" />
<text x="1106.00" y="682.40">160 nm</text>
<path d="M1044.00 706.00L1089.00 706.00" stroke="#d3504f" stroke-width="2" />
<text x="1106.00" y="713.60">140 nm</text>
<path d="M1044.00 737.20L1089.00 737.20" stroke="#b65cb4" stroke-width="2" />
<text x="1106.00" y="744.80">120 nm</text>
<path d="M1044.00 768.40L1089.00 768.40" stroke="#2e86c8" stroke-width="2" />
<text x="1106.00" y="776.00">100 nm</text>
<path d="M1044.00 799.60L1089.00 799.60" stroke="#55a846" stroke-width="2" />
<text x="1106.00" y="807.20">80 nm</text>
<text x="1244.00" y="534.00" font-weight="bold" font-size="39">(f)</text>
<text x="1511.50" y="534.00" font-weight="bold" font-size="39">(g)</text>
<rect x="1195.20" y="874.00" width="26.20" height="174.40" fill="none" stroke="#000" stroke-width="1.6"/>
<text x="1233" y="883.5" font-size="23">|<tspan font-family="Liberation Serif, serif" font-weight="bold" font-size="25">E</tspan>|<tspan font-size="17" dy="6">max</tspan></text>
<text x="1233.50" y="1054.50" font-size="23">0</text>
<text transform="translate(1268 961.5) rotate(-90)" text-anchor="middle" font-size="25">|<tspan font-family="Liberation Serif, serif" font-weight="bold" font-size="27">E</tspan>|</text>
<path d="M1312.7 659.0l0.0 1.0M1327.3 659.0l0.1 1.0M1342.0 659.0l0.1 1.0M1356.7 659.0l0.1 1.0M1371.4 659.0l0.1 1.0M1386.1 659.0l0.0 1.0M1401.1 659.1l-0.6 0.8M1415.6 659.9l-0.2 -1.0M1430.2 659.9l-0.1 -1.0M1444.9 659.9l-0.1 -1.0M1459.5 659.9l-0.0 -1.0M1312.7 674.8l0.0 1.3M1327.3 674.8l0.1 1.3M1342.0 674.9l0.2 1.3M1356.6 674.8l0.2 1.3M1371.4 674.8l0.1 1.3M1386.1 674.8l0.0 1.3M1401.1 674.9l-0.7 1.2M1415.6 676.1l-0.3 -1.3M1430.2 676.2l-0.2 -1.3M1444.9 676.2l-0.1 -1.3M1459.5 676.2l-0.0 -1.3M1312.7 690.1l0.1 3.0M1327.2 690.1l0.3 3.0M1341.8 690.1l0.6 3.0M1356.4 690.1l0.6 3.0M1371.2 690.0l0.4 3.0M1386.1 690.0l0.0 3.1M1401.5 690.2l-1.5 2.7M1416.0 693.0l-1.0 -2.9M1430.4 693.1l-0.5 -3.1M1445.0 693.1l-0.3 -3.1M1459.5 693.1l-0.1 -3.1M1312.6 704.7L1312.8 708.9M1312.8 710.5L1312.3 708.9L1313.2 708.9ZM1327.0 704.7L1327.6 708.9M1327.8 710.5L1327.1 709.0L1328.1 708.8ZM1341.3 704.7L1342.4 708.9M1342.8 710.5L1341.9 709.0L1342.9 708.8ZM1355.9 704.7L1357.1 709.0M1357.6 710.5L1356.6 709.1L1357.6 708.8ZM1370.9 704.5L1371.7 709.0M1372.0 710.7L1371.2 709.1L1372.2 708.9ZM1386.1 704.5L1386.1 709.0M1386.1 710.7L1385.6 709.0L1386.6 709.0ZM1402.4 704.9L1400.0 708.8M1399.2 710.3L1399.6 708.6L1400.5 709.1ZM1416.9 710.4L1414.8 706.3M1414.0 704.8L1415.3 706.1L1414.3 706.5ZM1430.8 710.7L1429.8 706.2M1429.5 704.5L1430.4 706.1L1429.3 706.3ZM1445.2 710.8L1444.7 706.1M1444.5 704.4L1445.2 706.1L1444.1 706.2ZM1459.6 710.8L1459.5 706.1M1459.4 704.4L1460.0 706.1L1458.9 706.1ZM1312.6 720.7L1312.8 725.0M1312.8 726.6L1312.3 725.0L1313.3 725.0ZM1326.9 720.8L1327.6 725.0M1327.9 726.5L1327.1 725.0L1328.1 724.9ZM1341.1 720.7L1342.5 725.0M1343.0 726.6L1342.0 725.1L1343.0 724.8ZM1355.4 720.7L1357.3 725.0M1358.1 726.6L1356.8 725.2L1357.8 724.8ZM1370.5 720.4L1371.9 725.1M1372.4 726.9L1371.3 725.3L1372.4 725.0ZM1386.1 720.3L1386.1 725.2M1386.1 727.0L1385.6 725.2L1386.7 725.2ZM1402.8 721.0L1399.8 724.9M1398.7 726.3L1399.4 724.5L1400.3 725.2ZM1417.5 726.4L1414.5 722.4M1413.4 720.9L1415.0 722.0L1414.1 722.7ZM1431.0 727.1L1429.7 722.1M1429.3 720.2L1430.3 721.9L1429.2 722.2ZM1445.2 727.3L1444.6 722.0M1444.4 720.0L1445.2 721.9L1444.0 722.1ZM1459.6 727.4L1459.4 721.9M1459.4 719.9L1460.0 721.9L1458.8 722.0ZM1312.6 736.7L1312.8 741.1M1312.8 742.7L1312.3 741.1L1313.3 741.0ZM1326.9 736.8L1327.6 741.0M1327.9 742.6L1327.1 741.1L1328.1 740.9ZM1340.8 736.7L1342.6 741.1M1343.3 742.7L1342.1 741.3L1343.1 740.9ZM1354.3 736.7L1357.9 741.1M1359.2 742.7L1357.4 741.5L1358.3 740.7ZM1368.0 734.0L1373.0 742.3M1374.8 745.4L1372.1 742.8L1373.9 741.8ZM1386.0 734.1L1386.1 742.3M1386.2 745.3L1385.3 742.3L1387.0 742.3ZM1406.0 735.4L1398.4 741.7M1395.5 744.0L1397.7 740.9L1399.0 742.5ZM1418.2 743.0L1414.2 738.2M1412.8 736.4L1414.7 737.7L1413.7 738.6ZM1431.2 743.8L1429.7 737.8M1429.1 735.6L1430.3 737.7L1429.0 738.0ZM1445.3 744.2L1444.6 737.6M1444.4 735.2L1445.3 737.6L1443.9 737.7ZM1459.6 744.5L1459.4 737.5M1459.4 734.9L1460.2 737.5L1458.7 737.5ZM1312.6 753.3L1312.7 756.9M1312.8 758.2L1312.3 756.9L1313.2 756.9ZM1327.1 753.4L1327.5 756.8M1327.7 758.1L1327.1 756.9L1327.9 756.8ZM1341.0 753.1L1342.5 757.0M1343.1 758.4L1342.1 757.1L1343.0 756.8ZM1354.0 753.7L1358.0 756.7M1359.5 757.8L1357.7 757.1L1358.4 756.2ZM1368.1 757.2L1373.0 755.1M1374.8 754.3L1373.2 755.6L1372.7 754.5ZM1386.1 753.5L1386.1 756.8M1386.1 758.0L1385.7 756.8L1386.5 756.8ZM1402.5 759.0L1400.0 754.3M1399.1 752.5L1400.5 754.0L1399.5 754.5ZM1416.9 759.4L1414.8 754.1M1414.0 752.1L1415.4 753.8L1414.2 754.3ZM1430.9 760.2L1429.8 753.7M1429.4 751.3L1430.5 753.6L1429.1 753.8ZM1445.2 761.0L1444.6 753.3M1444.4 750.5L1445.5 753.3L1443.8 753.4ZM1459.6 761.7L1459.4 753.0M1459.4 749.8L1460.4 753.0L1458.5 753.0ZM1312.7 770.2l0.0 3.2M1327.3 770.2l0.2 3.2M1341.6 769.5L1342.3 772.9M1342.5 774.1L1341.8 773.0L1342.7 772.8ZM1355.1 769.0L1357.5 773.1M1358.3 774.6L1357.0 773.3L1357.9 772.8ZM1368.0 771.3L1373.0 772.0M1374.8 772.3L1372.9 772.6L1373.1 771.5ZM1386.1 769.6L1386.1 772.8M1386.1 774.0L1385.7 772.8L1386.5 772.8ZM1401.4 775.2L1400.5 770.2M1400.2 768.4L1401.1 770.1L1399.9 770.3ZM1416.0 775.7L1415.2 770.0M1415.0 767.9L1415.9 769.9L1414.6 770.1ZM1430.5 776.5L1430.0 769.6M1429.8 767.1L1430.7 769.6L1429.3 769.7ZM1445.0 777.9L1444.7 769.0M1444.6 765.7L1445.7 769.0L1443.8 769.0ZM1459.6 779.2L1459.5 768.4M1459.4 764.4L1460.6 768.4L1458.4 768.4ZM1312.7 787.0l-0.0 1.6M1327.4 786.9l-0.0 2.0M1342.1 785.8L1342.0 788.8M1342.0 789.9L1341.7 788.8L1342.4 788.8ZM1357.0 784.8L1356.6 789.2M1356.5 790.9L1356.1 789.2L1357.1 789.3ZM1372.0 784.5L1371.2 789.4M1370.9 791.2L1370.6 789.3L1371.7 789.5ZM1386.1 785.6L1386.1 788.9M1386.1 790.1L1385.7 788.9L1386.5 788.9ZM1400.7 791.2L1400.8 786.3M1400.9 784.5L1401.4 786.3L1400.3 786.3ZM1415.4 791.7L1415.5 786.1M1415.5 784.0L1416.1 786.1L1414.9 786.0ZM1430.1 792.8L1430.2 785.6M1430.2 782.9L1430.9 785.6L1429.4 785.6ZM1444.8 794.5L1444.8 784.8M1444.9 781.2L1445.9 784.8L1443.8 784.8ZM1459.5 796.3L1459.5 783.8M1459.5 779.4L1460.7 783.8L1458.3 783.8ZM1312.7 803.3l-0.0 1.2M1327.4 803.1l-0.1 1.6M1342.5 802.0L1341.9 804.8M1341.6 805.8L1341.5 804.7L1342.2 804.8ZM1358.3 801.3L1356.0 805.1M1355.1 806.5L1355.6 804.8L1356.4 805.3ZM1374.6 802.8L1369.9 804.4M1368.2 805.0L1369.8 803.9L1370.1 804.9ZM1386.1 801.7L1386.1 804.9M1386.1 806.1L1385.7 804.9L1386.5 804.9ZM1400.0 807.2L1401.2 802.4M1401.6 800.6L1401.7 802.5L1400.6 802.2ZM1414.8 807.7L1415.8 802.1M1416.1 800.1L1416.4 802.2L1415.2 802.0ZM1429.7 808.8L1430.4 801.7M1430.6 799.0L1431.1 801.7L1429.6 801.6ZM1444.5 810.5L1445.0 800.9M1445.1 797.3L1446.0 800.9L1444.0 800.8ZM1459.4 812.3L1459.6 799.9M1459.6 795.5L1460.8 800.0L1458.4 799.9ZM1312.7 819.0l-0.1 2.0M1327.5 818.8l-0.3 2.2M1342.7 818.0L1341.8 820.9M1341.4 821.9L1341.4 820.7L1342.1 821.0ZM1359.0 817.8L1355.7 821.0M1354.5 822.1L1355.4 820.6L1356.1 821.3ZM1374.9 820.7L1369.8 819.6M1367.9 819.2L1370.0 819.0L1369.7 820.2ZM1386.1 817.7L1386.1 821.0M1386.1 822.2L1385.7 821.0L1386.5 821.0ZM1398.8 822.9L1401.7 818.6M1402.7 817.0L1402.2 818.9L1401.2 818.3ZM1413.8 823.5L1416.2 818.3M1417.1 816.4L1416.8 818.6L1415.7 818.0ZM1429.3 824.5L1430.5 817.9M1431.0 815.4L1431.3 818.0L1429.8 817.7ZM1444.3 825.8L1445.1 817.2M1445.3 814.1L1445.9 817.3L1444.2 817.2ZM1459.3 827.1L1459.6 816.7M1459.7 812.8L1460.7 816.7L1458.5 816.6ZM1312.8 834.3l-0.1 3.4M1327.6 834.3l-0.5 3.4M1342.8 833.6L1341.7 837.1M1341.3 838.4L1341.3 837.0L1342.1 837.2ZM1358.8 832.5L1355.8 837.6M1354.7 839.5L1355.2 837.3L1356.4 837.9ZM1374.8 828.6L1369.8 839.4M1368.0 843.4L1368.8 838.9L1370.9 839.9ZM1386.2 827.3L1386.0 840.3M1386.0 844.7L1384.8 840.3L1387.2 840.4ZM1395.0 830.0L1403.5 838.8M1406.6 842.0L1402.6 839.7L1404.4 838.0ZM1412.3 839.7L1416.9 834.3M1418.7 832.3L1417.5 834.8L1416.4 833.8ZM1429.1 840.3L1430.6 834.0M1431.2 831.7L1431.3 834.2L1430.0 833.8ZM1444.3 841.0L1445.1 833.7M1445.4 831.0L1445.8 833.8L1444.3 833.6ZM1459.3 841.7L1459.6 833.4M1459.7 830.3L1460.5 833.4L1458.7 833.4ZM1312.8 849.7L1312.7 853.1M1312.6 854.4L1312.2 853.1L1313.1 853.1ZM1327.7 849.7L1327.3 853.1M1327.1 854.4L1326.8 853.1L1327.7 853.2ZM1342.7 849.2L1341.8 853.4M1341.4 854.9L1341.3 853.2L1342.2 853.5ZM1357.9 848.4L1356.2 853.7M1355.6 855.7L1355.6 853.6L1356.8 853.9ZM1372.5 847.1L1370.9 854.3M1370.4 857.0L1370.2 854.2L1371.7 854.5ZM1386.1 846.4L1386.1 854.6M1386.1 857.7L1385.2 854.6L1386.9 854.6ZM1398.4 847.6L1401.9 854.1M1403.2 856.5L1401.2 854.5L1402.6 853.7ZM1412.9 855.6L1416.6 850.4M1418.0 848.5L1417.2 850.8L1416.1 850.0ZM1429.2 856.1L1430.6 850.2M1431.1 848.0L1431.2 850.3L1429.9 850.0ZM1444.4 856.4L1445.0 850.0M1445.3 847.7L1445.7 850.1L1444.3 850.0ZM1459.3 856.7L1459.6 849.9M1459.7 847.4L1460.3 849.9L1458.8 849.9ZM1312.8 865.2L1312.7 869.4M1312.6 871.0L1312.2 869.4L1313.2 869.5ZM1327.7 865.2L1327.3 869.4M1327.1 871.0L1326.8 869.4L1327.8 869.5ZM1342.6 864.9L1341.8 869.6M1341.6 871.3L1341.3 869.5L1342.4 869.7ZM1357.4 864.4L1356.4 869.8M1356.1 871.8L1355.8 869.7L1357.0 869.9ZM1371.9 863.9L1371.2 870.0M1370.9 872.3L1370.5 869.9L1371.9 870.1ZM1386.1 863.8L1386.1 870.1M1386.1 872.4L1385.4 870.1L1386.8 870.1ZM1399.4 864.1L1401.4 869.9M1402.2 872.1L1400.8 870.1L1402.0 869.7ZM1413.7 871.8L1416.3 866.4M1417.2 864.4L1416.8 866.7L1415.7 866.1ZM1429.4 872.0L1430.5 866.3M1430.9 864.2L1431.1 866.4L1429.8 866.2ZM1444.4 872.2L1445.0 866.2M1445.2 864.0L1445.6 866.3L1444.3 866.2ZM1459.4 872.3L1459.6 866.2M1459.6 863.9L1460.2 866.2L1458.9 866.2ZM1312.8 881.0L1312.7 885.6M1312.6 887.3L1312.1 885.6L1313.2 885.6ZM1327.6 880.9L1327.3 885.6M1327.2 887.4L1326.7 885.6L1327.8 885.7ZM1342.4 880.8L1341.9 885.7M1341.7 887.5L1341.3 885.6L1342.4 885.8ZM1357.2 880.6L1356.5 885.8M1356.3 887.7L1356.0 885.7L1357.1 885.9ZM1371.7 880.4L1371.3 885.9M1371.1 887.9L1370.7 885.8L1371.9 885.9ZM1386.1 880.4L1386.1 885.9M1386.1 887.9L1385.5 885.9L1386.7 885.9ZM1399.9 880.5L1401.2 885.8M1401.6 887.8L1400.6 886.0L1401.8 885.7ZM1414.3 887.7L1416.0 882.5M1416.6 880.6L1416.6 882.7L1415.4 882.3ZM1429.6 887.9L1430.4 882.4M1430.7 880.4L1431.0 882.5L1429.8 882.4ZM1444.5 887.9L1445.0 882.4M1445.1 880.4L1445.6 882.5L1444.3 882.4ZM1459.4 887.9L1459.6 882.4M1459.6 880.4L1460.2 882.4L1458.9 882.4ZM1312.8 897.4L1312.7 901.5M1312.6 903.0L1312.2 901.5L1313.1 901.5ZM1327.5 897.4L1327.3 901.5M1327.2 903.0L1326.8 901.5L1327.8 901.5ZM1342.3 897.3L1342.0 901.5M1341.8 903.1L1341.5 901.5L1342.4 901.6ZM1357.0 897.2L1356.6 901.6M1356.5 903.2L1356.1 901.5L1357.1 901.6ZM1371.6 897.2L1371.3 901.6M1371.3 903.2L1370.8 901.6L1371.9 901.6ZM1386.1 897.2L1386.1 901.6M1386.1 903.2L1385.6 901.6L1386.6 901.6ZM1400.3 897.2L1401.0 901.6M1401.2 903.2L1400.5 901.6L1401.5 901.5ZM1414.7 903.1L1415.8 898.9M1416.2 897.3L1416.3 899.0L1415.3 898.7ZM1429.8 903.2L1430.3 898.8M1430.5 897.2L1430.8 898.9L1429.8 898.8ZM1444.6 903.2L1444.9 898.8M1445.0 897.2L1445.4 898.8L1444.4 898.8ZM1459.4 903.2L1459.5 898.8M1459.6 897.2L1460.0 898.8L1459.0 898.8ZM1312.8 913.9L1312.7 917.3M1312.6 918.6L1312.3 917.3L1313.1 917.3ZM1327.5 913.9L1327.3 917.3M1327.3 918.6L1326.9 917.3L1327.7 917.3ZM1342.2 913.9L1342.0 917.3M1341.9 918.6L1341.6 917.3L1342.4 917.4ZM1356.9 913.9L1356.7 917.3M1356.6 918.6L1356.3 917.3L1357.1 917.4ZM1371.5 913.9L1371.4 917.3M1371.3 918.6L1371.0 917.3L1371.8 917.4ZM1386.1 913.9L1386.1 917.3M1386.1 918.6L1385.7 917.3L1386.5 917.3ZM1400.5 913.9L1400.9 917.3M1401.0 918.6L1400.5 917.4L1401.3 917.3ZM1414.8 918.5L1415.7 915.2M1416.1 914.0L1416.2 915.3L1415.3 915.1ZM1429.9 918.6L1430.3 915.2M1430.4 913.9L1430.7 915.2L1429.8 915.1ZM1444.7 918.6L1444.9 915.2M1445.0 913.9L1445.3 915.2L1444.5 915.1ZM1459.4 918.6L1459.5 915.2M1459.6 913.9L1460.0 915.2L1459.1 915.1ZM1312.7 930.5L1312.7 933.1M1312.7 934.1L1312.3 933.1L1313.0 933.1ZM1327.5 930.5L1327.3 933.1M1327.3 934.1L1327.0 933.1L1327.7 933.1ZM1342.2 930.5L1342.0 933.1M1342.0 934.1L1341.7 933.1L1342.4 933.2ZM1356.8 930.5L1356.7 933.1M1356.6 934.1L1356.4 933.1L1357.0 933.2ZM1371.5 930.5L1371.4 933.1M1371.4 934.1L1371.0 933.1L1371.7 933.2ZM1386.1 930.5L1386.1 933.1M1386.1 934.1L1385.8 933.1L1386.4 933.1ZM1400.7 930.5L1400.8 933.1M1400.9 934.1L1400.5 933.2L1401.2 933.1ZM1414.7 934.0L1415.8 931.5M1416.2 930.6L1416.1 931.7L1415.5 931.4ZM1429.9 934.1L1430.2 931.5M1430.4 930.5L1430.6 931.5L1429.9 931.4ZM1444.7 934.1L1444.9 931.5M1445.0 930.5L1445.2 931.5L1444.5 931.4ZM1459.4 934.1L1459.5 931.5M1459.6 930.5L1459.9 931.5L1459.2 931.4ZM1312.7 946.9l-0.1 3.0M1327.4 946.9l-0.1 3.0M1342.1 946.9l-0.1 3.0M1356.8 946.9l-0.1 3.0M1371.5 946.8l-0.1 3.0M1386.1 946.8l-0.0 3.0M1400.7 946.9l0.1 3.0M1414.5 947.2l1.9 2.3M1429.8 949.8l0.6 -2.9M1444.7 949.8l0.3 -3.0M1459.4 949.8l0.2 -3.0M1312.7 963.2l-0.1 2.5M1327.4 963.2l-0.1 2.5M1342.1 963.2l-0.1 2.5M1356.8 963.2l-0.1 2.5M1371.4 963.2l-0.1 2.5M1386.1 963.2l-0.0 2.5M1400.7 963.2l0.1 2.5M1415.3 963.2l0.3 2.4M1429.1 963.8l2.1 1.2M1444.3 965.5l1.0 -2.3M1459.2 965.6l0.6 -2.4M1312.7 979.4l-0.1 2.2M1327.4 979.4l-0.1 2.2M1342.1 979.4l-0.1 2.2M1356.8 979.4l-0.1 2.2M1371.4 979.4l-0.0 2.2M1386.1 979.4l-0.0 2.2M1400.8 979.4l0.1 2.2M1415.4 979.4l0.1 2.2M1430.0 979.4l0.3 2.2M1444.6 979.4l0.4 2.1M1459.2 979.4l0.6 2.1M1312.7 995.6l-0.1 1.9M1327.4 995.6l-0.1 1.9M1342.1 995.6l-0.1 1.9M1356.8 995.5l-0.1 1.9M1371.4 995.5l-0.0 1.9M1386.1 995.5l-0.0 1.9M1400.8 995.5l0.0 1.9M1415.4 995.6l0.1 1.9M1430.1 995.6l0.1 1.9M1444.7 995.6l0.2 1.9M1459.4 995.6l0.2 1.9M1312.7 1011.8l-0.1 1.6M1327.4 1011.8l-0.1 1.6M1342.1 1011.8l-0.1 1.6M1356.8 1011.8l-0.0 1.6M1371.4 1011.8l-0.0 1.6M1386.1 1011.8l-0.0 1.6M1400.8 1011.8l0.0 1.6M1415.4 1011.8l0.1 1.6M1430.1 1011.8l0.1 1.6M1444.8 1011.8l0.1 1.6M1459.4 1011.8l0.1 1.5M1312.7 1028.0l-0.1 1.2M1327.4 1028.0l-0.1 1.2M1342.1 1028.0l-0.1 1.2M1356.8 1028.0l-0.0 1.2M1371.4 1028.0l-0.0 1.2M1386.1 1028.0l-0.0 1.2M1400.8 1028.0l0.0 1.2M1415.4 1028.0l0.0 1.2M1430.1 1028.0l0.1 1.2M1444.8 1028.0l0.1 1.2M1459.5 1028.0l0.1 1.2M1312.7 1044.2l-0.1 1.0M1327.4 1044.2l-0.1 1.0M1342.1 1044.2l-0.0 1.0M1356.8 1044.2l-0.0 1.0M1371.4 1044.2l-0.0 1.0M1386.1 1044.2l-0.0 1.0M1400.8 1044.2l0.0 1.0M1415.4 1044.2l0.0 1.0M1430.1 1044.2l0.0 1.0M1444.8 1044.2l0.1 1.0M1459.5 1044.2l0.1 1.0" stroke="#000" stroke-width="0.7" fill="#000" stroke-opacity="0.9" stroke-linejoin="miter"/>
<path d="M1574.9 659.9l0.0 -1.0M1618.5 659.7l0.8 -0.6M1633.1 659.5l1.0 -0.1M1648.3 659.0l-0.0 1.0M1663.5 659.5l-1.0 -0.1M1678.1 659.7l-0.8 -0.6M1721.7 659.9l-0.0 -1.0M1574.9 676.0l0.1 -1.0M1589.4 676.0l0.3 -1.0M1603.9 675.8l0.7 -0.7M1618.4 675.6l1.0 -0.2M1633.1 675.1l0.9 0.8M1648.3 674.9l-0.0 1.3M1663.5 675.1l-0.9 0.8M1678.1 675.6l-1.0 -0.2M1692.7 675.8l-0.7 -0.7M1707.2 676.0l-0.3 -1.0M1721.7 676.0l-0.1 -1.0M1574.8 692.7l0.1 -2.4M1589.3 692.5l0.6 -1.8M1603.5 692.1l1.6 -1.2M1617.8 691.5l2.3 0.0M1632.8 690.5l1.6 2.0M1648.3 690.2l-0.0 2.7M1663.8 690.6l-1.6 2.0M1678.8 691.5l-2.3 0.0M1693.1 692.1l-1.6 -1.2M1707.3 692.5l-0.6 -1.8M1721.8 692.7l-0.1 -2.4M1574.8 710.0L1575.0 706.5M1575.0 705.2L1575.4 706.5L1574.5 706.5ZM1588.8 709.7L1589.9 706.7M1590.3 705.5L1590.3 706.8L1589.5 706.5ZM1602.5 708.8L1605.1 707.0M1606.0 706.4L1605.3 707.4L1604.9 706.7ZM1616.8 707.5L1619.9 707.7M1621.1 707.7L1619.9 708.1L1620.0 707.3ZM1632.3 705.8L1634.2 708.4M1634.9 709.4L1633.9 708.7L1634.5 708.2ZM1648.3 705.4L1648.3 708.6M1648.3 709.8L1647.9 708.6L1648.7 708.6ZM1664.3 705.8L1662.4 708.4M1661.6 709.4L1662.0 708.2L1662.7 708.6ZM1679.8 707.5L1676.7 707.7M1675.5 707.7L1676.6 707.3L1676.7 708.1ZM1694.1 708.8L1691.5 707.0M1690.6 706.4L1691.7 706.7L1691.3 707.4ZM1707.8 709.7L1706.7 706.6M1706.3 705.5L1707.1 706.5L1706.3 706.8ZM1721.8 710.0L1721.6 706.5M1721.6 705.2L1722.1 706.5L1721.2 706.5ZM1574.7 726.8L1575.0 722.2M1575.1 720.5L1575.5 722.3L1574.5 722.2ZM1588.7 726.2L1590.0 722.5M1590.4 721.1L1590.4 722.6L1589.5 722.3ZM1602.2 725.3L1605.2 722.9M1606.3 722.0L1605.5 723.3L1604.9 722.5ZM1616.3 723.8L1620.1 723.6M1621.6 723.5L1620.2 724.0L1620.1 723.1ZM1631.8 721.7L1634.5 724.5M1635.4 725.6L1634.1 724.9L1634.8 724.2ZM1648.3 720.9L1648.3 724.9M1648.3 726.4L1647.8 724.9L1648.8 724.9ZM1664.8 721.7L1662.1 724.5M1661.2 725.6L1661.8 724.2L1662.5 724.9ZM1680.3 723.8L1676.5 723.6M1675.0 723.5L1676.5 723.1L1676.4 724.0ZM1694.4 725.3L1691.4 722.9M1690.3 722.0L1691.7 722.5L1691.1 723.3ZM1707.9 726.2L1706.6 722.5M1706.2 721.1L1707.1 722.3L1706.2 722.6ZM1721.9 726.8L1721.6 722.2M1721.5 720.5L1722.1 722.2L1721.1 722.3ZM1574.7 744.0L1575.0 737.7M1575.1 735.4L1575.7 737.8L1574.3 737.7ZM1588.7 743.0L1590.0 738.2M1590.5 736.4L1590.5 738.3L1589.5 738.1ZM1602.2 742.1L1605.2 738.6M1606.4 737.3L1605.6 738.9L1604.8 738.2ZM1615.9 740.9L1620.3 739.1M1622.0 738.5L1620.5 739.6L1620.1 738.6ZM1629.5 737.8L1635.5 740.6M1637.7 741.6L1635.2 741.2L1635.8 739.9ZM1648.3 732.8L1648.3 742.9M1648.3 746.6L1647.3 742.9L1649.3 742.9ZM1667.1 737.9L1661.1 740.5M1658.9 741.5L1660.8 739.9L1661.4 741.2ZM1680.7 740.9L1676.3 739.1M1674.6 738.5L1676.5 738.6L1676.1 739.6ZM1694.4 742.1L1691.4 738.6M1690.2 737.3L1691.8 738.2L1691.0 738.9ZM1707.9 743.0L1706.6 738.2M1706.1 736.4L1707.2 738.1L1706.1 738.3ZM1721.9 744.0L1721.6 737.7M1721.5 735.4L1722.3 737.7L1720.9 737.7ZM1574.7 761.2L1575.0 753.3M1575.1 750.3L1575.8 753.3L1574.2 753.2ZM1588.9 759.4L1589.9 754.1M1590.2 752.1L1590.5 754.2L1589.3 754.0ZM1602.8 758.8L1604.9 754.3M1605.7 752.7L1605.4 754.6L1604.4 754.1ZM1617.1 758.2L1619.8 754.6M1620.8 753.3L1620.2 754.9L1619.4 754.3ZM1631.5 758.3L1634.6 754.6M1635.7 753.2L1635.0 754.9L1634.2 754.2ZM1648.3 752.0L1648.3 757.5M1648.3 759.5L1647.7 757.5L1648.9 757.5ZM1665.1 758.3L1662.0 754.6M1660.9 753.2L1662.4 754.2L1661.6 754.9ZM1679.5 758.2L1676.8 754.6M1675.8 753.3L1677.2 754.3L1676.4 754.9ZM1693.8 758.8L1691.7 754.3M1690.9 752.7L1692.2 754.1L1691.2 754.6ZM1707.7 759.4L1706.7 754.1M1706.4 752.1L1707.3 754.0L1706.1 754.2ZM1721.9 761.2L1721.6 753.2M1721.5 750.3L1722.5 753.2L1720.8 753.3ZM1574.8 778.2L1574.9 768.8M1575.0 765.4L1575.9 768.9L1574.0 768.8ZM1589.3 775.7L1589.7 770.0M1589.9 767.9L1590.3 770.1L1589.1 770.0ZM1603.7 774.9L1604.5 770.4M1604.8 768.7L1605.1 770.5L1604.0 770.3ZM1618.6 773.1l0.6 -2.6M1633.0 774.4L1633.9 770.6M1634.2 769.2L1634.4 770.7L1633.5 770.5ZM1648.3 768.1L1648.3 773.5M1648.3 775.5L1647.7 773.5L1648.9 773.5ZM1663.6 774.4L1662.7 770.6M1662.4 769.2L1663.1 770.5L1662.3 770.7ZM1678.0 773.1l-0.6 -2.6M1692.9 774.9L1692.1 770.4M1691.8 768.7L1692.6 770.3L1691.5 770.5ZM1707.3 775.7L1706.9 770.0M1706.7 767.9L1707.5 770.0L1706.3 770.0ZM1721.8 778.3L1721.7 768.8M1721.6 765.3L1722.6 768.8L1720.7 768.8ZM1574.9 794.9L1574.9 784.6M1574.9 780.8L1575.9 784.6L1573.8 784.6ZM1589.7 791.8L1589.5 786.0M1589.5 783.9L1590.2 786.0L1588.9 786.0ZM1604.4 790.7L1604.2 786.5M1604.1 785.0L1604.7 786.5L1603.7 786.6ZM1633.7 789.7L1633.6 787.0M1633.6 786.0L1633.9 787.0L1633.2 787.0ZM1648.3 784.1L1648.3 789.6M1648.3 791.6L1647.7 789.6L1648.9 789.6ZM1662.9 789.7L1663.0 787.0M1663.0 786.0L1663.4 787.0L1662.7 787.0ZM1692.2 790.7L1692.4 786.5M1692.5 785.0L1692.9 786.6L1691.9 786.5ZM1706.9 791.9L1707.1 786.0M1707.1 783.8L1707.7 786.0L1706.4 786.0ZM1721.7 794.9L1721.7 784.6M1721.7 780.8L1722.8 784.6L1720.7 784.6ZM1575.1 810.9L1574.8 800.7M1574.7 796.9L1575.9 800.6L1573.8 800.7ZM1590.1 807.9L1589.4 802.1M1589.1 799.9L1590.0 802.0L1588.7 802.2ZM1605.1 806.9L1603.9 802.5M1603.4 800.9L1604.4 802.4L1603.4 802.7ZM1619.2 804.5l-0.4 -1.2M1634.3 806.2L1633.3 802.8M1632.9 801.6L1633.7 802.7L1632.9 803.0ZM1648.3 800.2L1648.3 805.6M1648.3 807.6L1647.7 805.6L1648.9 805.6ZM1662.3 806.2L1663.3 802.9M1663.7 801.6L1663.7 803.0L1662.9 802.7ZM1677.4 804.5l0.4 -1.3M1691.5 806.9L1692.7 802.5M1693.2 800.9L1693.2 802.7L1692.2 802.4ZM1706.5 807.9L1707.2 802.1M1707.5 799.9L1707.9 802.2L1706.6 802.0ZM1721.5 810.9L1721.8 800.7M1721.9 796.9L1722.8 800.7L1720.7 800.6ZM1575.2 826.3L1574.8 817.0M1574.6 813.6L1575.7 817.0L1573.8 817.1ZM1590.5 823.7L1589.2 818.2M1588.7 816.2L1589.8 818.1L1588.6 818.3ZM1606.1 822.8L1603.4 818.6M1602.4 817.1L1603.9 818.3L1602.9 818.9ZM1621.0 821.9L1618.0 819.0M1616.9 818.0L1618.3 818.7L1617.7 819.4ZM1636.0 822.2L1632.5 818.9M1631.2 817.7L1632.9 818.5L1632.2 819.3ZM1648.3 816.2L1648.3 821.7M1648.3 823.7L1647.7 821.7L1648.9 821.7ZM1660.6 822.2L1664.1 818.9M1665.4 817.7L1664.4 819.3L1663.7 818.5ZM1675.6 821.9L1678.6 819.0M1679.7 818.0L1678.9 819.4L1678.3 818.7ZM1690.5 822.8L1693.2 818.6M1694.2 817.1L1693.7 818.9L1692.7 818.3ZM1706.1 823.8L1707.4 818.2M1707.9 816.1L1708.0 818.3L1706.8 818.1ZM1721.4 826.3L1721.8 817.0M1722.0 813.6L1722.8 817.1L1720.9 817.0ZM1575.2 841.4L1574.7 833.5M1574.6 830.6L1575.6 833.5L1573.9 833.6ZM1590.8 839.6L1589.0 834.4M1588.3 832.4L1589.6 834.2L1588.4 834.6ZM1607.1 838.1L1603.0 835.0M1601.4 833.9L1603.3 834.6L1602.6 835.5ZM1622.8 836.6L1617.2 835.7M1615.1 835.4L1617.3 835.1L1617.1 836.3ZM1639.3 832.2L1631.0 837.7M1628.0 839.8L1630.4 836.9L1631.6 838.6ZM1648.3 827.3L1648.3 840.3M1648.3 844.7L1647.1 840.4L1649.5 840.3ZM1657.3 832.3L1665.6 837.7M1668.6 839.7L1665.0 838.5L1666.1 836.9ZM1673.8 836.6L1679.4 835.7M1681.5 835.4L1679.5 836.3L1679.3 835.1ZM1689.5 838.1L1693.6 835.0M1695.1 833.9L1694.0 835.5L1693.3 834.6ZM1705.8 839.6L1707.6 834.4M1708.2 832.4L1708.2 834.6L1707.0 834.2ZM1721.4 841.4L1721.9 833.5M1722.0 830.6L1722.7 833.6L1721.0 833.5ZM1575.2 856.5L1574.7 850.0M1574.6 847.6L1575.4 849.9L1574.0 850.1ZM1591.0 855.3L1588.9 850.6M1588.1 848.8L1589.4 850.3L1588.4 850.8ZM1607.4 853.1L1602.8 851.6M1601.2 851.0L1603.0 851.1L1602.7 852.1ZM1622.3 851.0L1617.4 852.5M1615.6 853.1L1617.2 852.0L1617.5 853.1ZM1636.0 848.4L1632.5 853.7M1631.2 855.7L1631.9 853.3L1633.1 854.1ZM1648.3 846.9L1648.3 854.4M1648.3 857.2L1647.5 854.4L1649.1 854.4ZM1660.5 848.4L1664.1 853.7M1665.4 855.7L1663.5 854.1L1664.7 853.3ZM1674.3 851.0L1679.2 852.5M1681.0 853.1L1679.1 853.1L1679.4 852.0ZM1689.2 853.1L1693.8 851.6M1695.4 851.0L1693.9 852.1L1693.6 851.1ZM1705.6 855.3L1707.7 850.6M1708.4 848.8L1708.2 850.8L1707.1 850.3ZM1721.4 856.5L1721.9 850.0M1722.0 847.6L1722.6 850.0L1721.2 849.9ZM1575.2 871.5L1574.8 866.5M1574.6 864.7L1575.3 866.5L1574.2 866.6ZM1590.9 870.6L1589.0 867.0M1588.2 865.6L1589.4 866.7L1588.5 867.2ZM1606.5 868.0L1603.2 868.1M1602.0 868.2L1603.2 867.7L1603.2 868.5ZM1621.1 866.5L1617.9 868.8M1616.7 869.7L1617.7 868.4L1618.2 869.2ZM1634.9 865.2L1633.0 869.4M1632.3 871.0L1632.5 869.2L1633.5 869.7ZM1648.3 864.7L1648.3 869.7M1648.3 871.5L1647.7 869.7L1648.9 869.7ZM1661.7 865.2L1663.6 869.4M1664.3 871.0L1663.1 869.7L1664.1 869.2ZM1675.5 866.6L1678.7 868.8M1679.9 869.6L1678.4 869.2L1678.9 868.4ZM1690.1 868.1L1693.4 868.1M1694.6 868.1L1693.4 868.5L1693.4 867.7ZM1705.7 870.6L1707.6 867.0M1708.3 865.6L1708.1 867.2L1707.2 866.7ZM1721.4 871.5L1721.8 866.5M1722.0 864.7L1722.4 866.6L1721.3 866.5ZM1575.2 886.8L1574.8 882.9M1574.6 881.5L1575.2 882.9L1574.3 883.0ZM1590.9 885.9L1589.0 883.4M1588.3 882.4L1589.3 883.1L1588.7 883.6ZM1605.5 883.6l-2.4 1.1M1620.2 882.6L1618.4 884.9M1617.7 885.7L1618.1 884.6L1618.6 885.1ZM1634.4 881.6L1633.2 885.3M1632.8 886.7L1632.8 885.2L1633.7 885.5ZM1648.3 881.2L1648.3 885.5M1648.3 887.1L1647.8 885.5L1648.8 885.5ZM1662.2 881.6L1663.4 885.3M1663.8 886.7L1662.9 885.5L1663.8 885.2ZM1676.4 882.6L1678.2 884.9M1678.9 885.7L1678.0 885.1L1678.5 884.6ZM1691.1 883.6l2.4 1.1M1705.7 885.9L1707.6 883.4M1708.3 882.4L1707.9 883.6L1707.3 883.1ZM1721.4 886.8L1721.8 882.9M1722.0 881.5L1722.3 883.0L1721.4 882.9ZM1575.2 902.3L1574.8 899.3M1574.6 898.1L1575.1 899.2L1574.4 899.3ZM1591.0 900.8l-2.9 -1.2M1604.7 899.7l-0.9 1.1M1619.6 898.9l-1.3 2.6M1634.1 898.0L1633.4 901.2M1633.1 902.4L1633.0 901.1L1633.8 901.3ZM1648.3 897.7L1648.3 901.4M1648.3 902.7L1647.9 901.4L1648.7 901.4ZM1662.5 898.0L1663.2 901.2M1663.5 902.4L1662.8 901.3L1663.6 901.1ZM1677.0 898.9l1.3 2.6M1691.9 899.7l0.9 1.1M1705.6 900.8l2.9 -1.3M1721.4 902.3L1721.8 899.3M1722.0 898.1L1722.2 899.3L1721.5 899.2ZM1575.4 917.8l-1.0 -3.1M1590.4 915.3l-1.6 1.8M1604.4 915.8l-0.4 0.9M1619.2 915.2l-0.6 2.1M1633.9 914.5L1633.5 917.1M1633.4 918.0L1633.2 917.0L1633.8 917.1ZM1648.3 914.1L1648.3 917.2M1648.3 918.4L1647.9 917.2L1648.7 917.2ZM1662.7 914.5l0.5 3.6M1677.4 915.2l0.6 2.1M1692.2 915.8l0.4 0.9M1706.2 915.3l1.6 1.8M1721.2 917.8l1.0 -3.1M1575.4 931.1l-1.0 2.3M1589.8 931.4l-0.5 1.8M1604.4 931.8l-0.2 1.0M1619.1 931.4l-0.3 1.7M1633.8 930.8l-0.3 2.9M1648.3 930.5l0.0 3.5M1662.8 930.9l0.3 2.9M1677.5 931.5l0.3 1.7M1692.2 931.8l0.2 1.0M1706.8 931.4l0.5 1.8M1721.2 931.1l1.0 2.3M1575.0 947.4l-0.3 1.9M1589.7 947.7l-0.2 1.4M1604.3 947.9l-0.1 1.0M1619.0 947.7l-0.1 1.3M1633.7 947.2l-0.1 2.3M1648.3 946.9l0.0 2.8M1662.9 947.2l0.1 2.2M1677.6 947.7l0.1 1.2M1692.3 947.9l0.1 1.0M1706.9 947.7l0.2 1.4M1721.6 947.4l0.3 1.9M1575.0 963.7l-0.1 1.5M1589.6 963.9l-0.1 1.1M1619.0 963.9l-0.1 1.0M1633.7 963.5l-0.1 1.9M1648.3 963.2l0.0 2.4M1662.9 963.5l0.1 1.9M1677.6 963.9l0.1 1.0M1707.0 963.9l0.1 1.1M1721.6 963.7l0.1 1.5M1574.9 979.9l-0.1 1.2M1589.6 980.0l-0.1 1.0M1619.0 980.0l-0.1 1.0M1633.6 979.7l-0.0 1.5M1648.3 979.4l0.0 2.1M1663.0 979.7l0.0 1.5M1677.6 980.0l0.1 1.0M1707.0 980.0l0.1 1.0M1721.7 979.9l0.1 1.2M1574.9 996.0l-0.1 1.0M1589.6 996.0l-0.1 1.0M1619.0 996.0l-0.0 1.0M1633.6 995.9l-0.0 1.2M1648.3 995.7l0.0 1.7M1663.0 995.9l0.0 1.2M1677.6 996.0l0.0 1.0M1707.0 996.0l0.1 1.0M1721.7 996.0l0.1 1.0M1574.9 1012.1l-0.1 1.0M1589.6 1012.1l-0.1 1.0M1633.6 1012.1l-0.0 1.0M1648.3 1011.9l0.0 1.4M1663.0 1012.1l0.0 1.0M1707.0 1012.1l0.1 1.0M1721.7 1012.1l0.1 1.0M1574.9 1028.1l-0.1 1.0M1633.6 1028.1l-0.0 1.0M1648.3 1028.0l0.0 1.1M1663.0 1028.1l0.0 1.0M1721.7 1028.1l0.1 1.0M1633.6 1044.2l-0.0 1.0M1648.3 1044.2l0.0 1.0M1663.0 1044.2l0.0 1.0" stroke="#000" stroke-width="0.7" fill="#000" stroke-opacity="0.9" stroke-linejoin="miter"/>
<text x="2.00" y="1089.00" font-weight="bold" font-size="39">(h)</text>
<text x="822.50" y="1089.00" font-weight="bold" font-size="39">(i)</text>
<rect x="96.30" y="1101.50" width="711.70" height="178.70" fill="none" stroke="#000" stroke-width="1.9"/>
<path d="M96.30 1281.10L96.30 1287.70" stroke="#000" stroke-width="1.9" />
<text x="96.30" y="1310.90" text-anchor="middle">−0.6</text>
<path d="M214.92 1281.10L214.92 1287.70" stroke="#000" stroke-width="1.9" />
<text x="214.92" y="1310.90" text-anchor="middle">−0.4</text>
<path d="M333.53 1281.10L333.53 1287.70" stroke="#000" stroke-width="1.9" />
<text x="333.53" y="1310.90" text-anchor="middle">−0.2</text>
<path d="M452.15 1281.10L452.15 1287.70" stroke="#000" stroke-width="1.9" />
<text x="452.15" y="1310.90" text-anchor="middle">0.0</text>
<path d="M570.77 1281.10L570.77 1287.70" stroke="#000" stroke-width="1.9" />
<text x="570.77" y="1310.90" text-anchor="middle">0.2</text>
<path d="M689.38 1281.10L689.38 1287.70" stroke="#000" stroke-width="1.9" />
<text x="689.38" y="1310.90" text-anchor="middle">0.4</text>
<path d="M808.00 1281.10L808.00 1287.70" stroke="#000" stroke-width="1.9" />
<text x="808.00" y="1310.90" text-anchor="middle">0.6</text>
<path d="M95.40 1250.42L88.80 1250.42" stroke="#000" stroke-width="1.9" />
<text x="81.00" y="1258.02" text-anchor="end">−0.1</text>
<path d="M95.40 1190.85L88.80 1190.85" stroke="#000" stroke-width="1.9" />
<text x="81.00" y="1198.45" text-anchor="end">0.0</text>
<path d="M95.40 1131.28L88.80 1131.28" stroke="#000" stroke-width="1.9" />
<text x="81.00" y="1138.88" text-anchor="end">0.1</text>
<text transform="translate(29.80 1190.85) rotate(-90)" text-anchor="middle" font-family="Liberation Serif, serif" font-size="27.5"><tspan font-style="italic">k</tspan><tspan font-style="italic" font-size="19.8" dy="5">y</tspan><tspan dy="-5"> (π/Λ)</tspan></text>
<path d="M108.6 1492.5l10.9 -8.7M127.0 1493.1l9.8 -10.0M145.8 1493.9l7.8 -11.6M165.3 1494.8l4.4 -13.3M185.0 1495.1l0.6 -14.0M202.9 1481.1l0.4 14.0M219.6 1481.2l2.4 13.8M236.3 1481.5l4.7 13.2M253.4 1481.8l6.1 12.6M271.0 1481.9l6.4 12.4M288.7 1482.0l6.7 12.3M306.4 1482.0l6.8 12.2M324.1 1482.0l6.9 12.2M342.0 1482.0l6.9 12.2M359.8 1482.0l6.8 12.2M377.9 1481.8l6.2 12.6M396.3 1481.6l4.9 13.1M415.6 1481.2l2.0 13.9M434.1 1481.1l0.5 14.0M452.1 1495.1l0.0 -14.0M469.7 1495.1l0.5 -14.0M486.8 1495.1l2.0 -13.9M503.1 1494.7l4.9 -13.1M520.2 1494.4l6.2 -12.6M537.7 1494.2l6.8 -12.2M555.5 1494.2l6.9 -12.2M573.2 1494.2l6.9 -12.2M591.1 1494.2l6.8 -12.2M608.9 1494.3l6.7 -12.3M626.9 1494.3l6.4 -12.4M644.8 1494.4l6.1 -12.6M663.3 1494.7l4.7 -13.2M682.2 1495.0l2.4 -13.8M701.0 1495.1l0.4 -14.0M718.8 1481.1l0.6 14.0M734.6 1481.5l4.4 13.3M750.7 1482.3l7.8 11.6M767.5 1483.1l9.8 10.0M784.7 1483.8l10.9 8.7M107.6 1473.0l13.0 -5.2M125.5 1473.3l12.7 -5.9M143.6 1473.8l12.2 -6.9M162.2 1474.9l10.6 -9.2M182.3 1476.7l5.8 -12.7M202.2 1463.4l1.8 13.9M218.7 1463.7l4.4 13.3M235.4 1464.1l6.4 12.4M252.7 1464.5l7.6 11.8M270.3 1464.6l7.9 11.6M287.9 1464.7l8.2 11.3M305.6 1464.8l8.5 11.1M323.2 1464.9l8.9 10.8M340.8 1465.1l9.2 10.5M358.4 1465.3l9.6 10.2M376.2 1465.2l9.5 10.2M394.3 1464.9l8.9 10.8M414.4 1463.7l4.4 13.3M434.1 1463.4l0.6 14.0M452.1 1477.4l0.0 -14.0M469.6 1477.4l0.6 -14.0M485.6 1477.0l4.4 -13.3M501.1 1475.8l8.9 -10.8M518.6 1475.5l9.5 -10.2M536.3 1475.4l9.6 -10.2M554.3 1475.6l9.2 -10.5M572.3 1475.8l8.9 -10.8M590.2 1475.9l8.5 -11.1M608.2 1476.0l8.2 -11.3M626.1 1476.1l7.9 -11.6M644.1 1476.3l7.6 -11.8M662.4 1476.6l6.4 -12.4M681.3 1477.0l4.4 -13.3M700.4 1477.3l1.8 -13.9M716.1 1464.0l5.8 12.7M731.5 1465.8l10.6 9.2M748.5 1466.9l12.2 6.9M766.1 1467.4l12.7 5.9M783.7 1467.7l13.0 5.2M107.1 1453.3l13.9 -1.4M124.9 1453.3l13.9 -1.4M142.7 1453.2l13.9 -1.3M160.5 1452.9l14.0 -0.7M178.3 1452.9l14.0 -0.6M197.0 1449.1l12.1 7.0M217.0 1446.8l7.7 11.7M234.4 1447.0l8.5 11.1M251.8 1447.3l9.3 10.5M269.5 1447.5l9.5 10.2M287.1 1447.6l9.9 9.9M304.6 1447.9l10.4 9.3M322.1 1448.3l11.1 8.5M339.5 1448.8l11.8 7.5M356.9 1449.5l12.6 6.2M374.6 1449.8l12.8 5.6M392.3 1449.9l12.9 5.5M410.5 1449.1l12.1 7.0M433.4 1445.7l1.9 13.9M452.1 1459.6l0.0 -14.0M469.0 1459.5l1.9 -13.9M481.7 1456.1l12.1 -7.0M499.1 1455.3l12.9 -5.5M516.9 1455.4l12.8 -5.6M534.8 1455.7l12.6 -6.2M553.0 1456.4l11.8 -7.5M571.1 1456.9l11.1 -8.5M589.3 1457.3l10.4 -9.3M607.3 1457.5l9.9 -9.9M625.3 1457.7l9.5 -10.2M643.2 1457.8l9.3 -10.5M661.4 1458.1l8.5 -11.1M679.6 1458.4l7.7 -11.7M695.2 1456.1l12.1 -7.0M712.0 1452.3l14.0 0.6M729.8 1452.2l14.0 0.7M747.7 1452.0l13.9 1.3M765.5 1451.9l13.9 1.4M783.2 1451.9l13.9 1.4M107.1 1434.9l14.0 -0.2M124.9 1434.9l14.0 -0.2M142.7 1434.9l14.0 -0.2M160.5 1434.9l14.0 -0.2M178.3 1434.9l14.0 -0.1M196.1 1434.7l14.0 0.3M214.6 1431.7l12.6 6.1M233.2 1430.5l11.0 8.7M250.9 1430.5l11.1 8.6M268.6 1430.7l11.3 8.3M286.2 1431.0l11.7 7.7M303.5 1431.9l12.7 5.9M320.8 1433.2l13.6 3.3M338.5 1433.9l13.9 1.8M356.2 1434.5l14.0 0.7M374.0 1434.5l14.0 0.7M391.8 1434.4l14.0 0.9M409.6 1433.8l13.9 2.0M428.2 1431.6l12.4 6.5M452.1 1441.8l0.0 -14.0M463.7 1438.1l12.4 -6.5M480.8 1435.8l13.9 -2.0M498.5 1435.3l14.0 -0.9M516.3 1435.2l14.0 -0.7M534.1 1435.2l14.0 -0.7M552.0 1435.7l13.9 -1.8M569.9 1436.5l13.6 -3.3M588.1 1437.8l12.7 -5.9M606.4 1438.7l11.7 -7.7M624.4 1438.9l11.3 -8.3M642.3 1439.1l11.1 -8.6M660.2 1439.2l11.0 -8.7M677.2 1437.9l12.6 -6.1M694.2 1435.0l14.0 -0.3M712.0 1434.7l14.0 0.1M729.8 1434.7l14.0 0.2M747.6 1434.7l14.0 0.2M765.4 1434.7l14.0 0.2M783.2 1434.7l14.0 0.2M107.1 1417.1l14.0 -0.0M124.9 1417.1l14.0 -0.0M142.7 1417.1l14.0 -0.0M160.5 1417.1l14.0 -0.0M178.3 1417.1l14.0 -0.0M196.1 1417.1l14.0 -0.0M213.8 1417.1l14.0 -0.0M231.6 1417.1l14.0 -0.0M249.4 1417.1l14.0 -0.0M267.2 1417.1l14.0 -0.0M285.0 1417.1l14.0 -0.0M302.8 1417.1l14.0 -0.0M320.6 1417.1l14.0 -0.0M338.4 1417.1l14.0 -0.0M356.2 1417.1l14.0 -0.0M374.0 1417.1l14.0 -0.0M391.8 1417.1l14.0 -0.0M409.6 1417.1l14.0 -0.0M427.4 1417.1l14.0 -0.0M462.9 1417.1l14.0 -0.0M480.7 1417.1l14.0 -0.0M498.5 1417.1l14.0 -0.0M516.3 1417.1l14.0 -0.0M534.1 1417.1l14.0 -0.0M551.9 1417.1l14.0 -0.0M569.7 1417.1l14.0 -0.0M587.5 1417.1l14.0 -0.0M605.3 1417.1l14.0 -0.0M623.1 1417.1l14.0 -0.0M640.9 1417.1l14.0 -0.0M658.7 1417.1l14.0 -0.0M676.5 1417.1l14.0 -0.0M694.2 1417.1l14.0 -0.0M712.0 1417.1l14.0 -0.0M729.8 1417.1l14.0 -0.0M747.6 1417.1l14.0 -0.0M765.4 1417.1l14.0 -0.0M783.2 1417.1l14.0 -0.0M107.1 1399.2l14.0 0.2M124.9 1399.2l14.0 0.2M142.7 1399.2l14.0 0.2M160.5 1399.2l14.0 0.2M178.3 1399.2l14.0 0.1M196.1 1399.4l14.0 -0.3M214.6 1402.4l12.6 -6.1M233.2 1403.6l11.0 -8.7M250.9 1403.6l11.1 -8.6M268.6 1403.4l11.3 -8.3M286.2 1403.1l11.7 -7.7M303.5 1402.2l12.7 -5.9M320.8 1400.9l13.6 -3.3M338.5 1400.2l13.9 -1.8M356.2 1399.6l14.0 -0.7M374.0 1399.6l14.0 -0.7M391.8 1399.7l14.0 -0.9M409.6 1400.3l13.9 -2.0M428.2 1402.5l12.4 -6.5M452.1 1406.3l0.0 -14.0M463.7 1396.0l12.4 6.5M480.8 1398.3l13.9 2.0M498.5 1398.8l14.0 0.9M516.3 1398.9l14.0 0.7M534.1 1398.9l14.0 0.7M552.0 1398.4l13.9 1.8M569.9 1397.6l13.6 3.3M588.1 1396.3l12.7 5.9M606.4 1395.4l11.7 7.7M624.4 1395.2l11.3 8.3M642.3 1395.0l11.1 8.6M660.2 1394.9l11.0 8.7M677.2 1396.2l12.6 6.1M694.2 1399.1l14.0 0.3M712.0 1399.4l14.0 -0.1M729.8 1399.4l14.0 -0.2M747.6 1399.4l14.0 -0.2M765.4 1399.4l14.0 -0.2M783.2 1399.4l14.0 -0.2M107.1 1380.8l13.9 1.4M124.9 1380.8l13.9 1.4M142.7 1380.9l13.9 1.3M160.5 1381.2l14.0 0.7M178.3 1381.2l14.0 0.6M197.0 1385.0l12.1 -7.0M217.0 1387.3l7.7 -11.7M234.4 1387.1l8.5 -11.1M251.8 1386.8l9.3 -10.5M269.5 1386.6l9.5 -10.2M287.1 1386.5l9.9 -9.9M304.6 1386.2l10.4 -9.3M322.1 1385.8l11.1 -8.5M339.5 1385.3l11.8 -7.5M356.9 1384.6l12.6 -6.2M374.6 1384.3l12.8 -5.6M392.3 1384.2l12.9 -5.5M410.5 1385.0l12.1 -7.0M433.4 1388.4l1.9 -13.9M452.1 1388.5l0.0 -14.0M469.0 1374.6l1.9 13.9M481.7 1378.0l12.1 7.0M499.1 1378.8l12.9 5.5M516.9 1378.7l12.8 5.6M534.8 1378.4l12.6 6.2M553.0 1377.7l11.8 7.5M571.1 1377.2l11.1 8.5M589.3 1376.8l10.4 9.3M607.3 1376.6l9.9 9.9M625.3 1376.4l9.5 10.2M643.2 1376.3l9.3 10.5M661.4 1376.0l8.5 11.1M679.6 1375.7l7.7 11.7M695.2 1378.0l12.1 7.0M712.0 1381.8l14.0 -0.6M729.8 1381.9l14.0 -0.7M747.7 1382.1l13.9 -1.3M765.5 1382.2l13.9 -1.4M783.2 1382.2l13.9 -1.4M107.6 1361.1l13.0 5.2M125.5 1360.8l12.7 5.9M143.6 1360.3l12.2 6.9M162.2 1359.2l10.6 9.2M182.3 1357.4l5.8 12.7M202.2 1370.7l1.8 -13.9M218.7 1370.4l4.4 -13.3M235.4 1370.0l6.4 -12.4M252.7 1369.6l7.6 -11.8M270.3 1369.5l7.9 -11.6M287.9 1369.4l8.2 -11.3M305.6 1369.3l8.5 -11.1M323.2 1369.2l8.9 -10.8M340.8 1369.0l9.2 -10.5M358.4 1368.8l9.6 -10.2M376.2 1368.9l9.5 -10.2M394.3 1369.2l8.9 -10.8M414.4 1370.4l4.4 -13.3M434.1 1370.7l0.6 -14.0M452.1 1370.7l0.0 -14.0M469.6 1356.7l0.6 14.0M485.6 1357.1l4.4 13.3M501.1 1358.3l8.9 10.8M518.6 1358.6l9.5 10.2M536.3 1358.7l9.6 10.2M554.3 1358.5l9.2 10.5M572.3 1358.3l8.9 10.8M590.2 1358.2l8.5 11.1M608.2 1358.1l8.2 11.3M626.1 1358.0l7.9 11.6M644.1 1357.8l7.6 11.8M662.4 1357.5l6.4 12.4M681.3 1357.1l4.4 13.3M700.4 1356.8l1.8 13.9M716.1 1370.1l5.8 -12.7M731.5 1368.3l10.6 -9.2M748.5 1367.2l12.2 -6.9M766.1 1366.7l12.7 -5.9M783.7 1366.4l13.0 -5.2M108.6 1341.6l10.9 8.7M127.0 1341.0l9.8 10.0M145.8 1340.2l7.8 11.6M165.3 1339.3l4.4 13.3M185.0 1339.0l0.6 14.0M202.9 1353.0l0.4 -14.0M219.6 1352.9l2.4 -13.8M236.3 1352.6l4.7 -13.2M253.4 1352.3l6.1 -12.6M271.0 1352.2l6.4 -12.4M288.7 1352.1l6.7 -12.3M306.4 1352.1l6.8 -12.2M324.1 1352.1l6.9 -12.2M342.0 1352.1l6.9 -12.2M359.8 1352.1l6.8 -12.2M377.9 1352.3l6.2 -12.6M396.3 1352.5l4.9 -13.1M415.6 1352.9l2.0 -13.9M434.1 1353.0l0.5 -14.0M452.1 1353.0l0.0 -14.0M469.7 1339.0l0.5 14.0M486.8 1339.0l2.0 13.9M503.1 1339.4l4.9 13.1M520.2 1339.7l6.2 12.6M537.7 1339.9l6.8 12.2M555.5 1339.9l6.9 12.2M573.2 1339.9l6.9 12.2M591.1 1339.9l6.8 12.2M608.9 1339.8l6.7 12.3M626.9 1339.8l6.4 12.4M644.8 1339.7l6.1 12.6M663.3 1339.4l4.7 13.2M682.2 1339.1l2.4 13.8M701.0 1339.0l0.4 14.0M718.8 1353.0l0.6 -14.0M734.6 1352.6l4.4 -13.3M750.7 1351.8l7.8 -11.6M767.5 1351.0l9.8 -10.0M784.7 1350.3l10.9 -8.7" stroke="#fff" stroke-width="2" fill="none"/>
<rect x="96.30" y="1328.20" width="711.70" height="177.70" fill="none" stroke="#000" stroke-width="1.9"/>
<path d="M96.30 1506.80L96.30 1513.40" stroke="#000" stroke-width="1.9" />
<text x="96.30" y="1536.60" text-anchor="middle">−0.6</text>
<path d="M214.92 1506.80L214.92 1513.40" stroke="#000" stroke-width="1.9" />
<text x="214.92" y="1536.60" text-anchor="middle">−0.4</text>
<path d="M333.53 1506.80L333.53 1513.40" stroke="#000" stroke-width="1.9" />
<text x="333.53" y="1536.60" text-anchor="middle">−0.2</text>
<path d="M452.15 1506.80L452.15 1513.40" stroke="#000" stroke-width="1.9" />
<text x="452.15" y="1536.60" text-anchor="middle">0.0</text>
<path d="M570.77 1506.80L570.77 1513.40" stroke="#000" stroke-width="1.9" />
<text x="570.77" y="1536.60" text-anchor="middle">0.2</text>
<path d="M689.38 1506.80L689.38 1513.40" stroke="#000" stroke-width="1.9" />
<text x="689.38" y="1536.60" text-anchor="middle">0.4</text>
<path d="M808.00 1506.80L808.00 1513.40" stroke="#000" stroke-width="1.9" />
<text x="808.00" y="1536.60" text-anchor="middle">0.6</text>
<path d="M95.40 1476.28L88.80 1476.28" stroke="#000" stroke-width="1.9" />
<text x="81.00" y="1483.88" text-anchor="end">−0.1</text>
<path d="M95.40 1417.05L88.80 1417.05" stroke="#000" stroke-width="1.9" />
<text x="81.00" y="1424.65" text-anchor="end">0.0</text>
<path d="M95.40 1357.82L88.80 1357.82" stroke="#000" stroke-width="1.9" />
<text x="81.00" y="1365.42" text-anchor="end">0.1</text>
<text transform="translate(29.80 1417.05) rotate(-90)" text-anchor="middle" font-family="Liberation Serif, serif" font-size="27.5"><tspan font-style="italic">k</tspan><tspan font-style="italic" font-size="19.8" dy="5">y</tspan><tspan dy="-5"> (π/Λ)</tspan></text>
<path d="M108.7 1719.5l10.8 -8.9M126.7 1719.7l10.4 -9.3M144.7 1719.9l10.0 -9.8M162.7 1720.1l9.6 -10.2M180.7 1720.4l9.1 -10.7M198.8 1720.6l8.5 -11.1M216.9 1720.8l7.9 -11.6M235.0 1721.0l7.2 -12.0M253.2 1721.2l6.6 -12.4M271.3 1721.4l5.8 -12.7M289.5 1721.6l5.1 -13.1M307.7 1721.7l4.3 -13.3M325.9 1721.8l3.4 -13.6M344.1 1721.9l2.5 -13.8M362.3 1722.0l1.8 -13.9M380.4 1722.0l1.2 -13.9M398.4 1722.0l0.7 -14.0M416.4 1722.0l0.3 -14.0M434.3 1722.0l0.1 -14.0M452.1 1722.0l0.0 -14.0M469.9 1708.0l0.1 14.0M487.6 1708.0l0.3 14.0M505.2 1708.0l0.7 14.0M522.7 1708.1l1.2 13.9M540.2 1708.1l1.8 13.9M557.6 1708.1l2.5 13.8M575.0 1708.2l3.4 13.6M592.4 1708.4l4.3 13.3M609.8 1708.5l5.1 13.1M627.2 1708.7l5.8 12.7M644.6 1708.8l6.6 12.4M662.0 1709.0l7.2 12.0M679.5 1709.2l7.9 11.6M697.0 1709.5l8.5 11.1M714.5 1709.7l9.1 10.7M732.0 1709.9l9.6 10.2M749.6 1710.2l10.0 9.8M767.2 1710.4l10.4 9.3M784.8 1710.6l10.8 8.9M108.3 1701.2l11.6 -7.8M126.2 1701.4l11.3 -8.2M144.2 1701.6l11.0 -8.7M162.2 1701.8l10.6 -9.1M180.2 1702.1l10.2 -9.6M198.2 1702.3l9.7 -10.1M216.3 1702.6l9.1 -10.6M234.3 1702.8l8.6 -11.1M252.4 1703.0l8.0 -11.5M270.5 1703.2l7.5 -11.8M288.5 1703.3l6.9 -12.2M306.6 1703.5l6.4 -12.4M324.7 1703.6l5.9 -12.7M342.7 1703.7l5.5 -12.9M360.6 1703.8l5.1 -13.0M378.9 1704.0l4.1 -13.4M397.6 1704.2l2.4 -13.8M416.1 1704.2l1.0 -14.0M434.2 1704.3l0.3 -14.0M452.1 1704.3l0.0 -14.0M469.8 1690.3l0.3 14.0M487.2 1690.3l1.0 14.0M504.3 1690.4l2.4 13.8M521.3 1690.6l4.1 13.4M538.5 1690.8l5.1 13.0M556.2 1690.8l5.5 12.9M573.8 1690.9l5.9 12.7M591.3 1691.0l6.4 12.4M608.8 1691.2l6.9 12.2M626.3 1691.3l7.5 11.8M643.9 1691.5l8.0 11.5M661.4 1691.7l8.6 11.1M678.9 1692.0l9.1 10.6M696.4 1692.2l9.7 10.1M714.0 1692.4l10.2 9.6M731.5 1692.7l10.6 9.1M749.1 1692.9l11.0 8.7M766.7 1693.1l11.3 8.2M784.4 1693.4l11.6 7.8M107.5 1681.9l13.1 -4.9M125.6 1682.6l12.6 -6.2M143.7 1683.1l12.0 -7.2M161.6 1683.4l11.7 -7.7M179.6 1683.6l11.3 -8.3M197.6 1683.9l10.9 -8.8M215.6 1684.2l10.4 -9.3M233.6 1684.4l10.0 -9.8M251.6 1684.6l9.6 -10.2M269.6 1684.7l9.3 -10.4M287.4 1684.8l9.2 -10.6M305.2 1684.7l9.3 -10.5M322.7 1684.4l9.9 -9.9M339.6 1683.4l11.7 -7.7M356.2 1679.9l14.0 -0.7M374.0 1680.3l13.9 -1.5M393.6 1684.2l10.3 -9.5M414.0 1686.0l5.1 -13.0M433.6 1686.5l1.5 -13.9M452.1 1686.5l0.0 -14.0M469.2 1672.5l1.5 13.9M485.2 1673.0l5.1 13.0M500.4 1674.8l10.3 9.5M516.4 1678.7l13.9 1.5M534.1 1679.1l14.0 0.7M553.1 1675.6l11.7 7.7M571.7 1674.5l9.9 9.9M589.8 1674.3l9.3 10.5M607.7 1674.2l9.2 10.6M625.4 1674.3l9.3 10.4M643.1 1674.4l9.6 10.2M660.6 1674.6l10.0 9.8M678.2 1674.8l10.4 9.3M695.8 1675.1l10.9 8.8M713.4 1675.4l11.3 8.3M731.0 1675.6l11.7 7.7M748.6 1675.9l12.0 7.2M766.1 1676.4l12.6 6.2M783.6 1677.1l13.1 4.9M107.1 1662.0l14.0 -0.5M124.9 1662.1l14.0 -0.8M142.7 1662.7l13.9 -1.9M160.7 1663.4l13.6 -3.3M178.7 1664.2l13.1 -5.0M197.0 1665.3l12.1 -7.1M215.0 1665.5l11.7 -7.6M232.9 1665.7l11.5 -8.0M250.8 1665.9l11.2 -8.4M268.6 1665.9l11.2 -8.4M286.2 1665.7l11.5 -7.9M303.1 1663.9l13.3 -4.3M320.6 1661.9l14.0 -0.4M338.4 1661.8l14.0 -0.2M356.2 1661.8l14.0 -0.2M374.0 1661.8l14.0 -0.2M391.8 1661.8l14.0 -0.2M409.6 1661.9l14.0 -0.4M429.8 1667.0l9.1 -10.6M452.1 1668.7l0.0 -14.0M465.4 1656.4l9.1 10.6M480.7 1661.5l14.0 0.4M498.5 1661.6l14.0 0.2M516.3 1661.6l14.0 0.2M534.1 1661.6l14.0 0.2M551.9 1661.6l14.0 0.2M569.7 1661.5l14.0 0.4M587.8 1659.6l13.3 4.3M606.5 1657.8l11.5 7.9M624.5 1657.5l11.2 8.4M642.3 1657.5l11.2 8.4M659.9 1657.7l11.5 8.0M677.6 1657.9l11.7 7.6M695.2 1658.2l12.1 7.1M712.5 1659.2l13.1 5.0M730.0 1660.1l13.6 3.3M747.7 1660.8l13.9 1.9M765.4 1661.3l14.0 0.8M783.2 1661.4l14.0 0.5M107.1 1643.9l14.0 -0.0M124.9 1643.9l14.0 -0.0M142.7 1643.9l14.0 -0.0M160.5 1643.9l14.0 -0.0M178.3 1643.9l14.0 -0.0M196.1 1643.9l14.0 -0.0M213.8 1643.9l14.0 -0.0M231.6 1643.9l14.0 -0.0M249.4 1643.9l14.0 -0.0M267.2 1643.9l14.0 -0.0M285.0 1643.9l14.0 -0.0M302.8 1643.9l14.0 -0.0M320.6 1643.9l14.0 -0.0M338.4 1643.9l14.0 -0.0M356.2 1643.9l14.0 -0.0M374.0 1643.9l14.0 -0.0M391.8 1643.9l14.0 -0.0M409.6 1643.9l14.0 -0.0M427.4 1643.9l14.0 -0.0M462.9 1643.9l14.0 -0.0M480.7 1643.9l14.0 -0.0M498.5 1643.9l14.0 -0.0M516.3 1643.9l14.0 -0.0M534.1 1643.9l14.0 -0.0M551.9 1643.9l14.0 -0.0M569.7 1643.9l14.0 -0.0M587.5 1643.9l14.0 -0.0M605.3 1643.9l14.0 -0.0M623.1 1643.9l14.0 -0.0M640.9 1643.9l14.0 -0.0M658.7 1643.9l14.0 -0.0M676.5 1643.9l14.0 -0.0M694.2 1643.9l14.0 -0.0M712.0 1643.9l14.0 -0.0M729.8 1643.9l14.0 -0.0M747.6 1643.9l14.0 -0.0M765.4 1643.9l14.0 -0.0M783.2 1643.9l14.0 -0.0M107.1 1625.9l14.0 0.5M124.9 1625.8l14.0 0.8M142.7 1625.2l13.9 1.9M160.7 1624.5l13.6 3.3M178.7 1623.7l13.1 5.0M197.0 1622.6l12.1 7.1M215.0 1622.4l11.7 7.6M232.9 1622.2l11.5 8.0M250.8 1622.0l11.2 8.4M268.6 1622.0l11.2 8.4M286.2 1622.2l11.5 7.9M303.1 1624.0l13.3 4.3M320.6 1626.0l14.0 0.4M338.4 1626.1l14.0 0.2M356.2 1626.1l14.0 0.2M374.0 1626.1l14.0 0.2M391.8 1626.1l14.0 0.2M409.6 1626.0l14.0 0.4M429.8 1620.9l9.1 10.6M452.1 1633.2l0.0 -14.0M465.4 1631.5l9.1 -10.6M480.7 1626.4l14.0 -0.4M498.5 1626.3l14.0 -0.2M516.3 1626.3l14.0 -0.2M534.1 1626.3l14.0 -0.2M551.9 1626.3l14.0 -0.2M569.7 1626.4l14.0 -0.4M587.8 1628.3l13.3 -4.3M606.5 1630.1l11.5 -7.9M624.5 1630.4l11.2 -8.4M642.3 1630.4l11.2 -8.4M659.9 1630.2l11.5 -8.0M677.6 1630.0l11.7 -7.6M695.2 1629.7l12.1 -7.1M712.5 1628.7l13.1 -5.0M730.0 1627.8l13.6 -3.3M747.7 1627.1l13.9 -1.9M765.4 1626.6l14.0 -0.8M783.2 1626.5l14.0 -0.5M107.5 1606.0l13.1 4.9M125.6 1605.3l12.6 6.2M143.7 1604.8l12.0 7.2M161.6 1604.5l11.7 7.7M179.6 1604.3l11.3 8.3M197.6 1604.0l10.9 8.8M215.6 1603.7l10.4 9.3M233.6 1603.5l10.0 9.8M251.6 1603.3l9.6 10.2M269.6 1603.2l9.3 10.4M287.4 1603.1l9.2 10.6M305.2 1603.2l9.3 10.5M322.7 1603.5l9.9 9.9M339.6 1604.5l11.7 7.7M356.2 1608.0l14.0 0.7M374.0 1607.6l13.9 1.5M393.6 1603.7l10.3 9.5M414.0 1601.9l5.1 13.0M433.6 1601.4l1.5 13.9M452.1 1615.4l0.0 -14.0M469.2 1615.4l1.5 -13.9M485.2 1614.9l5.1 -13.0M500.4 1613.1l10.3 -9.5M516.4 1609.2l13.9 -1.5M534.1 1608.8l14.0 -0.7M553.1 1612.3l11.7 -7.7M571.7 1613.4l9.9 -9.9M589.8 1613.6l9.3 -10.5M607.7 1613.7l9.2 -10.6M625.4 1613.6l9.3 -10.4M643.1 1613.5l9.6 -10.2M660.6 1613.3l10.0 -9.8M678.2 1613.1l10.4 -9.3M695.8 1612.8l10.9 -8.8M713.4 1612.5l11.3 -8.3M731.0 1612.3l11.7 -7.7M748.6 1612.0l12.0 -7.2M766.1 1611.5l12.6 -6.2M783.6 1610.8l13.1 -4.9M108.3 1586.7l11.6 7.8M126.2 1586.5l11.3 8.2M144.2 1586.3l11.0 8.7M162.2 1586.1l10.6 9.1M180.2 1585.8l10.2 9.6M198.2 1585.6l9.7 10.1M216.3 1585.3l9.1 10.6M234.3 1585.1l8.6 11.1M252.4 1584.9l8.0 11.5M270.5 1584.7l7.5 11.8M288.5 1584.6l6.9 12.2M306.6 1584.4l6.4 12.4M324.7 1584.3l5.9 12.7M342.7 1584.2l5.5 12.9M360.6 1584.1l5.1 13.0M378.9 1583.9l4.1 13.4M397.6 1583.7l2.4 13.8M416.1 1583.7l1.0 14.0M434.2 1583.6l0.3 14.0M452.1 1597.6l0.0 -14.0M469.8 1597.6l0.3 -14.0M487.2 1597.6l1.0 -14.0M504.3 1597.5l2.4 -13.8M521.3 1597.3l4.1 -13.4M538.5 1597.1l5.1 -13.0M556.2 1597.1l5.5 -12.9M573.8 1597.0l5.9 -12.7M591.3 1596.9l6.4 -12.4M608.8 1596.7l6.9 -12.2M626.3 1596.6l7.5 -11.8M643.9 1596.4l8.0 -11.5M661.4 1596.2l8.6 -11.1M678.9 1595.9l9.1 -10.6M696.4 1595.7l9.7 -10.1M714.0 1595.5l10.2 -9.6M731.5 1595.2l10.6 -9.1M749.1 1595.0l11.0 -8.7M766.7 1594.8l11.3 -8.2M784.4 1594.5l11.6 -7.8M108.7 1568.4l10.8 8.9M126.7 1568.2l10.4 9.3M144.7 1568.0l10.0 9.8M162.7 1567.8l9.6 10.2M180.7 1567.5l9.1 10.7M198.8 1567.3l8.5 11.1M216.9 1567.1l7.9 11.6M235.0 1566.9l7.2 12.0M253.2 1566.7l6.6 12.4M271.3 1566.5l5.8 12.7M289.5 1566.3l5.1 13.1M307.7 1566.2l4.3 13.3M325.9 1566.1l3.4 13.6M344.1 1566.0l2.5 13.8M362.3 1565.9l1.8 13.9M380.4 1565.9l1.2 13.9M398.4 1565.9l0.7 14.0M416.4 1565.9l0.3 14.0M434.3 1565.9l0.1 14.0M452.1 1579.9l0.0 -14.0M469.9 1579.9l0.1 -14.0M487.6 1579.9l0.3 -14.0M505.2 1579.9l0.7 -14.0M522.7 1579.8l1.2 -13.9M540.2 1579.8l1.8 -13.9M557.6 1579.8l2.5 -13.8M575.0 1579.7l3.4 -13.6M592.4 1579.5l4.3 -13.3M609.8 1579.4l5.1 -13.1M627.2 1579.2l5.8 -12.7M644.6 1579.1l6.6 -12.4M662.0 1578.9l7.2 -12.0M679.5 1578.7l7.9 -11.6M697.0 1578.4l8.5 -11.1M714.5 1578.2l9.1 -10.7M732.0 1578.0l9.6 -10.2M749.6 1577.7l10.0 -9.8M767.2 1577.5l10.4 -9.3M784.8 1577.3l10.8 -8.9" stroke="#fff" stroke-width="2" fill="none"/>
<rect x="96.30" y="1555.10" width="711.70" height="177.70" fill="none" stroke="#000" stroke-width="1.9"/>
<path d="M96.30 1733.70L96.30 1740.30" stroke="#000" stroke-width="1.9" />
<text x="96.30" y="1763.50" text-anchor="middle">−0.6</text>
<path d="M214.92 1733.70L214.92 1740.30" stroke="#000" stroke-width="1.9" />
<text x="214.92" y="1763.50" text-anchor="middle">−0.4</text>
<path d="M333.53 1733.70L333.53 1740.30" stroke="#000" stroke-width="1.9" />
<text x="333.53" y="1763.50" text-anchor="middle">−0.2</text>
<path d="M452.15 1733.70L452.15 1740.30" stroke="#000" stroke-width="1.9" />
<text x="452.15" y="1763.50" text-anchor="middle">0.0</text>
<path d="M570.77 1733.70L570.77 1740.30" stroke="#000" stroke-width="1.9" />
<text x="570.77" y="1763.50" text-anchor="middle">0.2</text>
<path d="M689.38 1733.70L689.38 1740.30" stroke="#000" stroke-width="1.9" />
<text x="689.38" y="1763.50" text-anchor="middle">0.4</text>
<path d="M808.00 1733.70L808.00 1740.30" stroke="#000" stroke-width="1.9" />
<text x="808.00" y="1763.50" text-anchor="middle">0.6</text>
<path d="M95.40 1703.18L88.80 1703.18" stroke="#000" stroke-width="1.9" />
<text x="81.00" y="1710.78" text-anchor="end">−0.1</text>
<path d="M95.40 1643.95L88.80 1643.95" stroke="#000" stroke-width="1.9" />
<text x="81.00" y="1651.55" text-anchor="end">0.0</text>
<path d="M95.40 1584.72L88.80 1584.72" stroke="#000" stroke-width="1.9" />
<text x="81.00" y="1592.32" text-anchor="end">0.1</text>
<text transform="translate(29.80 1643.95) rotate(-90)" text-anchor="middle" font-family="Liberation Serif, serif" font-size="27.5"><tspan font-style="italic">k</tspan><tspan font-style="italic" font-size="19.8" dy="5">y</tspan><tspan dy="-5"> (π/Λ)</tspan></text>
<text x="452.15" y="1801.10" text-anchor="middle" font-family="Liberation Serif, serif" font-size="27.5"><tspan font-style="italic">k</tspan><tspan font-style="italic" font-size="19.8" dy="5">x</tspan><tspan dy="-5"> (π/Λ)</tspan></text>
<rect x="923.80" y="1101.50" width="712.00" height="178.70" fill="none" stroke="#000" stroke-width="1.9"/>
<path d="M923.80 1281.10L923.80 1287.70" stroke="#000" stroke-width="1.9" />
<text x="923.80" y="1310.90" text-anchor="middle">−0.6</text>
<path d="M1042.47 1281.10L1042.47 1287.70" stroke="#000" stroke-width="1.9" />
<text x="1042.47" y="1310.90" text-anchor="middle">−0.4</text>
<path d="M1161.13 1281.10L1161.13 1287.70" stroke="#000" stroke-width="1.9" />
<text x="1161.13" y="1310.90" text-anchor="middle">−0.2</text>
<path d="M1279.80 1281.10L1279.80 1287.70" stroke="#000" stroke-width="1.9" />
<text x="1279.80" y="1310.90" text-anchor="middle">0.0</text>
<path d="M1398.47 1281.10L1398.47 1287.70" stroke="#000" stroke-width="1.9" />
<text x="1398.47" y="1310.90" text-anchor="middle">0.2</text>
<path d="M1517.13 1281.10L1517.13 1287.70" stroke="#000" stroke-width="1.9" />
<text x="1517.13" y="1310.90" text-anchor="middle">0.4</text>
<path d="M1635.80 1281.10L1635.80 1287.70" stroke="#000" stroke-width="1.9" />
<text x="1635.80" y="1310.90" text-anchor="middle">0.6</text>
<path d="M922.90 1250.42L916.30 1250.42" stroke="#000" stroke-width="1.9" />
<text x="908.50" y="1258.02" text-anchor="end">−0.1</text>
<path d="M922.90 1190.85L916.30 1190.85" stroke="#000" stroke-width="1.9" />
<text x="908.50" y="1198.45" text-anchor="end">0.0</text>
<path d="M922.90 1131.28L916.30 1131.28" stroke="#000" stroke-width="1.9" />
<text x="908.50" y="1138.88" text-anchor="end">0.1</text>
<text transform="translate(857.30 1190.85) rotate(-90)" text-anchor="middle" font-family="Liberation Serif, serif" font-size="27.5"><tspan font-style="italic">k</tspan><tspan font-style="italic" font-size="19.8" dy="5">y</tspan><tspan dy="-5"> (π/Λ)</tspan></text>
<path d="M935.6 1491.7l12.0 -7.2M953.5 1491.9l11.8 -7.5M971.4 1492.1l11.5 -8.0M989.4 1492.4l11.1 -8.5M1007.5 1492.7l10.7 -9.1M1025.5 1493.0l10.1 -9.7M1043.7 1493.3l9.4 -10.4M1062.0 1493.7l8.4 -11.2M1080.5 1494.2l7.0 -12.1M1099.2 1494.6l5.2 -13.0M1118.2 1495.0l2.8 -13.7M1136.8 1495.1l1.3 -13.9M1155.1 1495.1l0.2 -14.0M1173.0 1481.1l0.0 14.0M1190.8 1481.1l0.0 14.0M1208.6 1481.1l0.0 14.0M1226.4 1481.1l0.0 14.0M1244.2 1481.1l0.0 14.0M1262.0 1481.1l0.0 14.0M1279.8 1495.1l0.0 -14.0M1297.6 1495.1l0.0 -14.0M1315.4 1495.1l0.0 -14.0M1333.2 1495.1l0.0 -14.0M1351.0 1495.1l0.0 -14.0M1368.8 1495.1l0.0 -14.0M1386.6 1495.1l0.0 -14.0M1404.3 1481.1l0.2 14.0M1421.6 1481.2l1.3 13.9M1438.6 1481.3l2.8 13.7M1455.2 1481.6l5.2 13.0M1472.1 1482.1l7.0 12.1M1489.2 1482.5l8.4 11.2M1506.5 1483.0l9.4 10.4M1523.9 1483.3l10.1 9.7M1541.5 1483.6l10.7 9.1M1559.0 1483.9l11.1 8.5M1576.6 1484.1l11.5 8.0M1594.3 1484.4l11.8 7.5M1612.0 1484.5l12.0 7.2M935.1 1472.9l13.1 -5.0M952.9 1473.1l12.9 -5.4M970.8 1473.3l12.7 -5.9M988.8 1473.6l12.5 -6.4M1006.7 1473.9l12.1 -7.0M1024.7 1474.1l11.8 -7.5M1042.7 1474.5l11.3 -8.2M1060.9 1474.9l10.6 -9.2M1079.3 1475.5l9.5 -10.3M1097.9 1476.2l7.8 -11.6M1117.1 1476.9l5.0 -13.1M1136.1 1477.2l2.6 -13.8M1154.9 1477.4l0.6 -14.0M1173.0 1463.4l0.0 14.0M1190.8 1463.4l0.0 14.0M1208.6 1463.4l0.1 14.0M1226.4 1463.4l0.0 14.0M1244.2 1463.4l0.0 14.0M1262.0 1463.4l0.0 14.0M1279.8 1477.4l0.0 -14.0M1297.6 1477.4l0.0 -14.0M1315.4 1477.4l0.0 -14.0M1333.2 1477.4l0.0 -14.0M1351.0 1477.4l0.1 -14.0M1368.8 1477.4l0.0 -14.0M1386.6 1477.4l0.0 -14.0M1404.1 1463.4l0.6 14.0M1420.9 1463.5l2.6 13.8M1437.5 1463.8l5.0 13.1M1453.9 1464.5l7.8 11.6M1470.9 1465.2l9.5 10.3M1488.1 1465.8l10.6 9.2M1505.5 1466.3l11.3 8.2M1523.1 1466.6l11.8 7.5M1540.7 1466.9l12.1 7.0M1558.4 1467.2l12.5 6.4M1576.0 1467.4l12.7 5.9M1593.7 1467.6l12.9 5.4M1611.5 1467.9l13.1 5.0M934.7 1453.6l13.8 -2.0M952.5 1453.8l13.8 -2.4M970.3 1454.0l13.7 -2.8M988.2 1454.2l13.6 -3.2M1006.0 1454.4l13.5 -3.7M1023.9 1454.7l13.3 -4.2M1041.8 1455.0l13.1 -4.9M1059.8 1455.4l12.8 -5.7M1077.9 1455.9l12.3 -6.7M1096.1 1456.6l11.5 -8.0M1114.8 1457.7l9.6 -10.2M1134.0 1458.7l6.8 -12.2M1153.8 1459.4l2.8 -13.7M1173.0 1445.6l0.1 14.0M1190.6 1445.6l0.4 14.0M1208.4 1445.6l0.4 14.0M1226.3 1445.6l0.2 14.0M1244.2 1445.6l0.0 14.0M1262.0 1445.6l0.0 14.0M1279.8 1459.6l0.0 -14.0M1297.6 1459.6l0.0 -14.0M1315.4 1459.6l0.0 -14.0M1333.1 1459.6l0.2 -14.0M1350.8 1459.6l0.4 -14.0M1368.6 1459.6l0.4 -14.0M1386.6 1459.6l0.1 -14.0M1403.0 1445.7l2.8 13.7M1418.8 1446.5l6.8 12.2M1435.2 1447.5l9.6 10.2M1452.1 1448.6l11.5 8.0M1469.5 1449.2l12.3 6.7M1487.0 1449.7l12.8 5.7M1504.6 1450.2l13.1 4.9M1522.3 1450.5l13.3 4.2M1540.0 1450.7l13.5 3.7M1557.8 1451.0l13.6 3.2M1575.5 1451.2l13.7 2.8M1593.3 1451.4l13.8 2.4M1611.1 1451.6l13.8 2.0M934.6 1435.0l14.0 -0.3M952.4 1435.0l14.0 -0.3M970.2 1435.0l14.0 -0.4M988.0 1435.0l14.0 -0.5M1005.8 1435.1l14.0 -0.5M1023.6 1435.1l14.0 -0.6M1041.4 1435.3l14.0 -0.9M1059.2 1435.5l13.9 -1.3M1077.1 1435.8l13.9 -1.9M1094.9 1436.1l13.8 -2.5M1112.8 1436.5l13.6 -3.3M1130.7 1436.8l13.4 -4.0M1148.6 1437.2l13.1 -4.9M1168.8 1429.2l8.4 11.2M1188.7 1428.2l4.3 13.3M1207.2 1428.0l2.9 13.7M1225.4 1427.9l1.9 13.9M1243.8 1427.8l0.9 14.0M1261.9 1427.8l0.1 14.0M1279.8 1441.8l0.0 -14.0M1297.5 1441.8l0.1 -14.0M1315.0 1441.8l0.9 -14.0M1332.2 1441.8l1.9 -13.9M1349.6 1441.7l2.9 -13.7M1366.7 1441.5l4.3 -13.3M1382.4 1440.4l8.4 -11.2M1397.8 1432.4l13.1 4.9M1415.5 1432.8l13.4 4.0M1433.2 1433.2l13.6 3.3M1450.9 1433.6l13.8 2.5M1468.7 1433.9l13.9 1.9M1486.4 1434.2l13.9 1.3M1504.2 1434.4l14.0 0.9M1522.0 1434.5l14.0 0.6M1539.8 1434.6l14.0 0.5M1557.6 1434.6l14.0 0.5M1575.4 1434.6l14.0 0.4M1593.2 1434.6l14.0 0.3M1611.0 1434.7l14.0 0.3M934.6 1417.1l14.0 -0.0M952.4 1417.1l14.0 -0.0M970.2 1417.1l14.0 -0.0M988.0 1417.1l14.0 -0.0M1005.8 1417.1l14.0 -0.0M1023.6 1417.1l14.0 -0.0M1041.4 1417.1l14.0 -0.0M1059.2 1417.1l14.0 -0.0M1077.0 1417.1l14.0 -0.0M1094.8 1417.1l14.0 -0.0M1112.6 1417.1l14.0 -0.0M1130.4 1417.1l14.0 -0.0M1148.2 1417.1l14.0 -0.0M1166.0 1417.1l14.0 -0.0M1183.8 1417.1l14.0 -0.0M1201.6 1417.1l14.0 -0.0M1219.4 1417.1l14.0 -0.0M1237.2 1417.1l14.0 -0.0M1255.0 1417.1l14.0 -0.0M1290.6 1417.1l14.0 -0.0M1308.4 1417.1l14.0 -0.0M1326.2 1417.1l14.0 -0.0M1344.0 1417.1l14.0 -0.0M1361.8 1417.1l14.0 -0.0M1379.6 1417.1l14.0 -0.0M1397.4 1417.1l14.0 -0.0M1415.2 1417.1l14.0 -0.0M1433.0 1417.1l14.0 -0.0M1450.8 1417.1l14.0 -0.0M1468.6 1417.1l14.0 -0.0M1486.4 1417.1l14.0 -0.0M1504.2 1417.1l14.0 -0.0M1522.0 1417.1l14.0 -0.0M1539.8 1417.1l14.0 -0.0M1557.6 1417.1l14.0 -0.0M1575.4 1417.1l14.0 -0.0M1593.2 1417.1l14.0 -0.0M1611.0 1417.1l14.0 -0.0M934.6 1399.1l14.0 0.3M952.4 1399.1l14.0 0.3M970.2 1399.1l14.0 0.4M988.0 1399.1l14.0 0.5M1005.8 1399.0l14.0 0.5M1023.6 1399.0l14.0 0.6M1041.4 1398.8l14.0 0.9M1059.2 1398.6l13.9 1.3M1077.1 1398.3l13.9 1.9M1094.9 1398.0l13.8 2.5M1112.8 1397.6l13.6 3.3M1130.7 1397.3l13.4 4.0M1148.6 1396.9l13.1 4.9M1168.8 1404.9l8.4 -11.2M1188.7 1405.9l4.3 -13.3M1207.2 1406.1l2.9 -13.7M1225.4 1406.2l1.9 -13.9M1243.8 1406.3l0.9 -14.0M1261.9 1406.3l0.1 -14.0M1279.8 1406.3l0.0 -14.0M1297.5 1392.3l0.1 14.0M1315.0 1392.3l0.9 14.0M1332.2 1392.3l1.9 13.9M1349.6 1392.4l2.9 13.7M1366.7 1392.6l4.3 13.3M1382.4 1393.7l8.4 11.2M1397.8 1401.7l13.1 -4.9M1415.5 1401.3l13.4 -4.0M1433.2 1400.9l13.6 -3.3M1450.9 1400.5l13.8 -2.5M1468.7 1400.2l13.9 -1.9M1486.4 1399.9l13.9 -1.3M1504.2 1399.7l14.0 -0.9M1522.0 1399.6l14.0 -0.6M1539.8 1399.5l14.0 -0.5M1557.6 1399.5l14.0 -0.5M1575.4 1399.5l14.0 -0.4M1593.2 1399.5l14.0 -0.3M1611.0 1399.4l14.0 -0.3M934.7 1380.5l13.8 2.0M952.5 1380.3l13.8 2.4M970.3 1380.1l13.7 2.8M988.2 1379.9l13.6 3.2M1006.0 1379.7l13.5 3.7M1023.9 1379.4l13.3 4.2M1041.8 1379.1l13.1 4.9M1059.8 1378.7l12.8 5.7M1077.9 1378.2l12.3 6.7M1096.1 1377.5l11.5 8.0M1114.8 1376.4l9.6 10.2M1134.0 1375.4l6.8 12.2M1153.8 1374.7l2.8 13.7M1173.0 1388.5l0.1 -14.0M1190.6 1388.5l0.4 -14.0M1208.4 1388.5l0.4 -14.0M1226.3 1388.5l0.2 -14.0M1244.2 1388.5l0.0 -14.0M1262.0 1388.5l0.0 -14.0M1279.8 1388.5l0.0 -14.0M1297.6 1374.5l0.0 14.0M1315.4 1374.5l0.0 14.0M1333.1 1374.5l0.2 14.0M1350.8 1374.5l0.4 14.0M1368.6 1374.5l0.4 14.0M1386.6 1374.5l0.1 14.0M1403.0 1388.4l2.8 -13.7M1418.8 1387.6l6.8 -12.2M1435.2 1386.6l9.6 -10.2M1452.1 1385.5l11.5 -8.0M1469.5 1384.9l12.3 -6.7M1487.0 1384.4l12.8 -5.7M1504.6 1383.9l13.1 -4.9M1522.3 1383.6l13.3 -4.2M1540.0 1383.4l13.5 -3.7M1557.8 1383.1l13.6 -3.2M1575.5 1382.9l13.7 -2.8M1593.3 1382.7l13.8 -2.4M1611.1 1382.5l13.8 -2.0M935.1 1361.2l13.1 5.0M952.9 1361.0l12.9 5.4M970.8 1360.8l12.7 5.9M988.8 1360.5l12.5 6.4M1006.7 1360.2l12.1 7.0M1024.7 1360.0l11.8 7.5M1042.7 1359.6l11.3 8.2M1060.9 1359.2l10.6 9.2M1079.3 1358.6l9.5 10.3M1097.9 1357.9l7.8 11.6M1117.1 1357.2l5.0 13.1M1136.1 1356.9l2.6 13.8M1154.9 1356.7l0.6 14.0M1173.0 1370.7l0.0 -14.0M1190.8 1370.7l0.0 -14.0M1208.6 1370.7l0.1 -14.0M1226.4 1370.7l0.0 -14.0M1244.2 1370.7l0.0 -14.0M1262.0 1370.7l0.0 -14.0M1279.8 1370.7l0.0 -14.0M1297.6 1356.7l0.0 14.0M1315.4 1356.7l0.0 14.0M1333.2 1356.7l0.0 14.0M1351.0 1356.7l0.1 14.0M1368.8 1356.7l0.0 14.0M1386.6 1356.7l0.0 14.0M1404.1 1370.7l0.6 -14.0M1420.9 1370.6l2.6 -13.8M1437.5 1370.3l5.0 -13.1M1453.9 1369.6l7.8 -11.6M1470.9 1368.9l9.5 -10.3M1488.1 1368.3l10.6 -9.2M1505.5 1367.8l11.3 -8.2M1523.1 1367.5l11.8 -7.5M1540.7 1367.2l12.1 -7.0M1558.4 1366.9l12.5 -6.4M1576.0 1366.7l12.7 -5.9M1593.7 1366.5l12.9 -5.4M1611.5 1366.2l13.1 -5.0M935.6 1342.4l12.0 7.2M953.5 1342.2l11.8 7.5M971.4 1342.0l11.5 8.0M989.4 1341.7l11.1 8.5M1007.5 1341.4l10.7 9.1M1025.5 1341.1l10.1 9.7M1043.7 1340.8l9.4 10.4M1062.0 1340.4l8.4 11.2M1080.5 1339.9l7.0 12.1M1099.2 1339.5l5.2 13.0M1118.2 1339.1l2.8 13.7M1136.8 1339.0l1.3 13.9M1155.1 1339.0l0.2 14.0M1173.0 1353.0l0.0 -14.0M1190.8 1353.0l0.0 -14.0M1208.6 1353.0l0.0 -14.0M1226.4 1353.0l0.0 -14.0M1244.2 1353.0l0.0 -14.0M1262.0 1353.0l0.0 -14.0M1279.8 1353.0l0.0 -14.0M1297.6 1339.0l0.0 14.0M1315.4 1339.0l0.0 14.0M1333.2 1339.0l0.0 14.0M1351.0 1339.0l0.0 14.0M1368.8 1339.0l0.0 14.0M1386.6 1339.0l0.0 14.0M1404.3 1353.0l0.2 -14.0M1421.6 1352.9l1.3 -13.9M1438.6 1352.8l2.8 -13.7M1455.2 1352.5l5.2 -13.0M1472.1 1352.0l7.0 -12.1M1489.2 1351.6l8.4 -11.2M1506.5 1351.1l9.4 -10.4M1523.9 1350.8l10.1 -9.7M1541.5 1350.5l10.7 -9.1M1559.0 1350.2l11.1 -8.5M1576.6 1350.0l11.5 -8.0M1594.3 1349.7l11.8 -7.5M1612.0 1349.6l12.0 -7.2" stroke="#fff" stroke-width="2" fill="none"/>
<rect x="923.80" y="1328.20" width="712.00" height="177.70" fill="none" stroke="#000" stroke-width="1.9"/>
<path d="M923.80 1506.80L923.80 1513.40" stroke="#000" stroke-width="1.9" />
<text x="923.80" y="1536.60" text-anchor="middle">−0.6</text>
<path d="M1042.47 1506.80L1042.47 1513.40" stroke="#000" stroke-width="1.9" />
<text x="1042.47" y="1536.60" text-anchor="middle">−0.4</text>
<path d="M1161.13 1506.80L1161.13 1513.40" stroke="#000" stroke-width="1.9" />
<text x="1161.13" y="1536.60" text-anchor="middle">−0.2</text>
<path d="M1279.80 1506.80L1279.80 1513.40" stroke="#000" stroke-width="1.9" />
<text x="1279.80" y="1536.60" text-anchor="middle">0.0</text>
<path d="M1398.47 1506.80L1398.47 1513.40" stroke="#000" stroke-width="1.9" />
<text x="1398.47" y="1536.60" text-anchor="middle">0.2</text>
<path d="M1517.13 1506.80L1517.13 1513.40" stroke="#000" stroke-width="1.9" />
<text x="1517.13" y="1536.60" text-anchor="middle">0.4</text>
<path d="M1635.80 1506.80L1635.80 1513.40" stroke="#000" stroke-width="1.9" />
<text x="1635.80" y="1536.60" text-anchor="middle">0.6</text>
<path d="M922.90 1476.28L916.30 1476.28" stroke="#000" stroke-width="1.9" />
<text x="908.50" y="1483.88" text-anchor="end">−0.1</text>
<path d="M922.90 1417.05L916.30 1417.05" stroke="#000" stroke-width="1.9" />
<text x="908.50" y="1424.65" text-anchor="end">0.0</text>
<path d="M922.90 1357.82L916.30 1357.82" stroke="#000" stroke-width="1.9" />
<text x="908.50" y="1365.42" text-anchor="end">0.1</text>
<text transform="translate(857.30 1417.05) rotate(-90)" text-anchor="middle" font-family="Liberation Serif, serif" font-size="27.5"><tspan font-style="italic">k</tspan><tspan font-style="italic" font-size="19.8" dy="5">y</tspan><tspan dy="-5"> (π/Λ)</tspan></text>
<path d="M935.6 1718.6l12.0 -7.2M953.5 1718.8l11.8 -7.5M971.4 1718.9l11.6 -7.8M989.3 1719.1l11.4 -8.1M1007.2 1719.2l11.2 -8.4M1025.2 1719.5l10.8 -8.9M1043.2 1719.8l10.3 -9.5M1061.3 1720.0l9.8 -10.0M1079.4 1720.3l9.2 -10.6M1097.6 1720.6l8.4 -11.2M1115.8 1720.9l7.7 -11.7M1134.0 1721.1l6.9 -12.2M1152.2 1721.4l6.0 -12.7M1170.5 1721.6l5.0 -13.1M1188.7 1721.7l4.1 -13.4M1207.1 1721.9l3.1 -13.7M1225.4 1722.0l2.0 -13.9M1243.6 1722.0l1.2 -14.0M1261.8 1722.0l0.5 -14.0M1279.8 1722.0l0.0 -14.0M1297.4 1708.0l0.5 14.0M1314.8 1708.1l1.2 14.0M1332.2 1708.1l2.0 13.9M1349.5 1708.2l3.1 13.7M1366.7 1708.3l4.1 13.4M1384.1 1708.5l5.0 13.1M1401.4 1708.7l6.0 12.7M1418.8 1708.9l6.9 12.2M1436.2 1709.2l7.7 11.7M1453.6 1709.4l8.4 11.2M1471.0 1709.7l9.2 10.6M1488.5 1710.0l9.8 10.0M1506.0 1710.3l10.3 9.5M1523.6 1710.6l10.8 8.9M1541.2 1710.8l11.2 8.4M1558.9 1711.0l11.4 8.1M1576.6 1711.1l11.6 7.8M1594.3 1711.3l11.8 7.5M1612.0 1711.4l12.0 7.2M935.3 1700.2l12.7 -6.0M953.2 1700.5l12.4 -6.5M971.1 1700.8l12.1 -7.0M989.0 1700.9l12.0 -7.2M1006.9 1701.0l11.8 -7.5M1024.8 1701.2l11.5 -7.9M1042.8 1701.5l11.2 -8.4M1060.8 1701.7l10.8 -8.9M1078.8 1702.0l10.3 -9.4M1096.9 1702.3l9.8 -10.0M1115.0 1702.6l9.1 -10.6M1133.2 1702.9l8.4 -11.2M1151.5 1703.2l7.5 -11.8M1169.8 1703.5l6.5 -12.4M1188.1 1703.7l5.4 -12.9M1206.5 1703.9l4.2 -13.3M1225.0 1704.1l2.8 -13.7M1243.5 1704.2l1.5 -13.9M1261.8 1704.3l0.5 -14.0M1279.8 1704.3l0.0 -14.0M1297.4 1690.3l0.5 14.0M1314.7 1690.3l1.5 13.9M1331.8 1690.4l2.8 13.7M1348.9 1690.6l4.2 13.3M1366.1 1690.8l5.4 12.9M1383.4 1691.1l6.5 12.4M1400.7 1691.3l7.5 11.8M1418.0 1691.6l8.4 11.2M1435.4 1691.9l9.1 10.6M1452.9 1692.2l9.8 10.0M1470.4 1692.5l10.3 9.4M1488.0 1692.8l10.8 8.9M1505.6 1693.1l11.2 8.4M1523.2 1693.3l11.5 7.9M1540.9 1693.5l11.8 7.5M1558.6 1693.6l12.0 7.2M1576.3 1693.8l12.1 7.0M1594.0 1694.0l12.4 6.5M1611.7 1694.3l12.7 6.0M934.8 1681.0l13.7 -3.0M952.6 1681.2l13.6 -3.4M970.5 1681.4l13.5 -3.9M988.3 1681.7l13.3 -4.4M1006.2 1681.9l13.1 -4.9M1024.2 1682.3l12.8 -5.6M1042.2 1682.7l12.5 -6.4M1060.2 1683.1l12.0 -7.1M1078.1 1683.3l11.7 -7.6M1096.1 1683.6l11.3 -8.2M1114.2 1683.9l10.9 -8.8M1132.3 1684.2l10.3 -9.5M1150.4 1684.6l9.6 -10.2M1168.7 1685.0l8.6 -11.0M1187.0 1685.4l7.6 -11.7M1205.4 1685.7l6.3 -12.5M1224.1 1686.1l4.5 -13.2M1243.0 1686.4l2.5 -13.8M1261.7 1686.5l0.6 -14.0M1279.8 1686.5l0.0 -14.0M1297.3 1672.5l0.6 14.0M1314.2 1672.6l2.5 13.8M1330.9 1672.9l4.5 13.2M1347.8 1673.2l6.3 12.5M1365.0 1673.6l7.6 11.7M1382.3 1674.0l8.6 11.0M1399.6 1674.4l9.6 10.2M1417.1 1674.7l10.3 9.5M1434.6 1675.1l10.9 8.8M1452.1 1675.4l11.3 8.2M1469.7 1675.7l11.7 7.6M1487.4 1675.9l12.0 7.1M1505.0 1676.3l12.5 6.4M1522.6 1676.7l12.8 5.6M1540.2 1677.0l13.1 4.9M1557.9 1677.3l13.3 4.4M1575.7 1677.6l13.5 3.9M1593.4 1677.8l13.6 3.4M1611.2 1678.0l13.7 3.0M934.6 1662.0l14.0 -0.5M952.4 1662.0l14.0 -0.5M970.2 1662.0l14.0 -0.6M988.0 1662.1l14.0 -0.8M1005.8 1662.3l14.0 -1.1M1023.6 1662.5l13.9 -1.5M1041.5 1662.7l13.9 -2.0M1059.3 1663.0l13.8 -2.6M1077.2 1663.3l13.6 -3.2M1095.1 1663.7l13.4 -3.9M1113.0 1664.2l13.1 -4.9M1131.1 1664.7l12.7 -5.9M1149.2 1665.3l12.0 -7.2M1167.3 1665.8l11.4 -8.1M1185.4 1666.2l10.8 -8.9M1203.7 1666.7l9.8 -10.0M1222.2 1667.3l8.3 -11.3M1241.2 1668.1l5.9 -12.7M1261.0 1668.7l1.9 -13.9M1279.8 1668.7l0.0 -14.0M1296.6 1654.8l1.9 13.9M1312.4 1655.4l5.9 12.7M1329.0 1656.1l8.3 11.3M1346.1 1656.7l9.8 10.0M1363.4 1657.3l10.8 8.9M1380.9 1657.7l11.4 8.1M1398.4 1658.1l12.0 7.2M1415.9 1658.7l12.7 5.9M1433.4 1659.3l13.1 4.9M1451.1 1659.7l13.4 3.9M1468.8 1660.1l13.6 3.2M1486.5 1660.4l13.8 2.6M1504.3 1660.7l13.9 2.0M1522.0 1661.0l13.9 1.5M1539.8 1661.2l14.0 1.1M1557.6 1661.3l14.0 0.8M1575.4 1661.4l14.0 0.6M1593.2 1661.4l14.0 0.5M1611.0 1661.5l14.0 0.5M934.6 1643.9l14.0 -0.0M952.4 1643.9l14.0 -0.0M970.2 1643.9l14.0 -0.0M988.0 1643.9l14.0 -0.0M1005.8 1643.9l14.0 -0.0M1023.6 1643.9l14.0 -0.0M1041.4 1643.9l14.0 -0.0M1059.2 1643.9l14.0 -0.0M1077.0 1643.9l14.0 -0.0M1094.8 1643.9l14.0 -0.0M1112.6 1643.9l14.0 -0.0M1130.4 1643.9l14.0 -0.0M1148.2 1643.9l14.0 -0.0M1166.0 1643.9l14.0 -0.0M1183.8 1643.9l14.0 -0.0M1201.6 1643.9l14.0 -0.0M1219.4 1643.9l14.0 -0.0M1237.2 1643.9l14.0 -0.0M1255.0 1643.9l14.0 -0.0M1290.6 1643.9l14.0 -0.0M1308.4 1643.9l14.0 -0.0M1326.2 1643.9l14.0 -0.0M1344.0 1643.9l14.0 -0.0M1361.8 1643.9l14.0 -0.0M1379.6 1643.9l14.0 -0.0M1397.4 1643.9l14.0 -0.0M1415.2 1643.9l14.0 -0.0M1433.0 1643.9l14.0 -0.0M1450.8 1643.9l14.0 -0.0M1468.6 1643.9l14.0 -0.0M1486.4 1643.9l14.0 -0.0M1504.2 1643.9l14.0 -0.0M1522.0 1643.9l14.0 -0.0M1539.8 1643.9l14.0 -0.0M1557.6 1643.9l14.0 -0.0M1575.4 1643.9l14.0 -0.0M1593.2 1643.9l14.0 -0.0M1611.0 1643.9l14.0 -0.0M934.6 1625.9l14.0 0.5M952.4 1625.9l14.0 0.5M970.2 1625.9l14.0 0.6M988.0 1625.8l14.0 0.8M1005.8 1625.6l14.0 1.1M1023.6 1625.4l13.9 1.5M1041.5 1625.2l13.9 2.0M1059.3 1624.9l13.8 2.6M1077.2 1624.6l13.6 3.2M1095.1 1624.2l13.4 3.9M1113.0 1623.7l13.1 4.9M1131.1 1623.2l12.7 5.9M1149.2 1622.6l12.0 7.2M1167.3 1622.1l11.4 8.1M1185.4 1621.7l10.8 8.9M1203.7 1621.2l9.8 10.0M1222.2 1620.6l8.3 11.3M1241.2 1619.8l5.9 12.7M1261.0 1619.2l1.9 13.9M1279.8 1633.2l0.0 -14.0M1296.6 1633.1l1.9 -13.9M1312.4 1632.5l5.9 -12.7M1329.0 1631.8l8.3 -11.3M1346.1 1631.2l9.8 -10.0M1363.4 1630.6l10.8 -8.9M1380.9 1630.2l11.4 -8.1M1398.4 1629.8l12.0 -7.2M1415.9 1629.2l12.7 -5.9M1433.4 1628.6l13.1 -4.9M1451.1 1628.2l13.4 -3.9M1468.8 1627.8l13.6 -3.2M1486.5 1627.5l13.8 -2.6M1504.3 1627.2l13.9 -2.0M1522.0 1626.9l13.9 -1.5M1539.8 1626.7l14.0 -1.1M1557.6 1626.6l14.0 -0.8M1575.4 1626.5l14.0 -0.6M1593.2 1626.5l14.0 -0.5M1611.0 1626.4l14.0 -0.5M934.8 1606.9l13.7 3.0M952.6 1606.7l13.6 3.4M970.5 1606.5l13.5 3.9M988.3 1606.2l13.3 4.4M1006.2 1606.0l13.1 4.9M1024.2 1605.6l12.8 5.6M1042.2 1605.2l12.5 6.4M1060.2 1604.8l12.0 7.1M1078.1 1604.6l11.7 7.6M1096.1 1604.3l11.3 8.2M1114.2 1604.0l10.9 8.8M1132.3 1603.7l10.3 9.5M1150.4 1603.3l9.6 10.2M1168.7 1602.9l8.6 11.0M1187.0 1602.5l7.6 11.7M1205.4 1602.2l6.3 12.5M1224.1 1601.8l4.5 13.2M1243.0 1601.5l2.5 13.8M1261.7 1601.4l0.6 14.0M1279.8 1615.4l0.0 -14.0M1297.3 1615.4l0.6 -14.0M1314.2 1615.3l2.5 -13.8M1330.9 1615.0l4.5 -13.2M1347.8 1614.7l6.3 -12.5M1365.0 1614.3l7.6 -11.7M1382.3 1613.9l8.6 -11.0M1399.6 1613.5l9.6 -10.2M1417.1 1613.2l10.3 -9.5M1434.6 1612.8l10.9 -8.8M1452.1 1612.5l11.3 -8.2M1469.7 1612.2l11.7 -7.6M1487.4 1612.0l12.0 -7.1M1505.0 1611.6l12.5 -6.4M1522.6 1611.2l12.8 -5.6M1540.2 1610.9l13.1 -4.9M1557.9 1610.6l13.3 -4.4M1575.7 1610.3l13.5 -3.9M1593.4 1610.1l13.6 -3.4M1611.2 1609.9l13.7 -3.0M935.3 1587.7l12.7 6.0M953.2 1587.4l12.4 6.5M971.1 1587.1l12.1 7.0M989.0 1587.0l12.0 7.2M1006.9 1586.9l11.8 7.5M1024.8 1586.7l11.5 7.9M1042.8 1586.4l11.2 8.4M1060.8 1586.2l10.8 8.9M1078.8 1585.9l10.3 9.4M1096.9 1585.6l9.8 10.0M1115.0 1585.3l9.1 10.6M1133.2 1585.0l8.4 11.2M1151.5 1584.7l7.5 11.8M1169.8 1584.4l6.5 12.4M1188.1 1584.2l5.4 12.9M1206.5 1584.0l4.2 13.3M1225.0 1583.8l2.8 13.7M1243.5 1583.7l1.5 13.9M1261.8 1583.6l0.5 14.0M1279.8 1597.6l0.0 -14.0M1297.4 1597.6l0.5 -14.0M1314.7 1597.6l1.5 -13.9M1331.8 1597.5l2.8 -13.7M1348.9 1597.3l4.2 -13.3M1366.1 1597.1l5.4 -12.9M1383.4 1596.8l6.5 -12.4M1400.7 1596.6l7.5 -11.8M1418.0 1596.3l8.4 -11.2M1435.4 1596.0l9.1 -10.6M1452.9 1595.7l9.8 -10.0M1470.4 1595.4l10.3 -9.4M1488.0 1595.1l10.8 -8.9M1505.6 1594.8l11.2 -8.4M1523.2 1594.6l11.5 -7.9M1540.9 1594.4l11.8 -7.5M1558.6 1594.3l12.0 -7.2M1576.3 1594.1l12.1 -7.0M1594.0 1593.9l12.4 -6.5M1611.7 1593.6l12.7 -6.0M935.6 1569.3l12.0 7.2M953.5 1569.1l11.8 7.5M971.4 1569.0l11.6 7.8M989.3 1568.8l11.4 8.1M1007.2 1568.7l11.2 8.4M1025.2 1568.4l10.8 8.9M1043.2 1568.1l10.3 9.5M1061.3 1567.9l9.8 10.0M1079.4 1567.6l9.2 10.6M1097.6 1567.3l8.4 11.2M1115.8 1567.0l7.7 11.7M1134.0 1566.8l6.9 12.2M1152.2 1566.5l6.0 12.7M1170.5 1566.3l5.0 13.1M1188.7 1566.2l4.1 13.4M1207.1 1566.0l3.1 13.7M1225.4 1565.9l2.0 13.9M1243.6 1565.9l1.2 14.0M1261.8 1565.9l0.5 14.0M1279.8 1579.9l0.0 -14.0M1297.4 1579.9l0.5 -14.0M1314.8 1579.8l1.2 -14.0M1332.2 1579.8l2.0 -13.9M1349.5 1579.7l3.1 -13.7M1366.7 1579.6l4.1 -13.4M1384.1 1579.4l5.0 -13.1M1401.4 1579.2l6.0 -12.7M1418.8 1579.0l6.9 -12.2M1436.2 1578.7l7.7 -11.7M1453.6 1578.5l8.4 -11.2M1471.0 1578.2l9.2 -10.6M1488.5 1577.9l9.8 -10.0M1506.0 1577.6l10.3 -9.5M1523.6 1577.3l10.8 -8.9M1541.2 1577.1l11.2 -8.4M1558.9 1576.9l11.4 -8.1M1576.6 1576.8l11.6 -7.8M1594.3 1576.6l11.8 -7.5M1612.0 1576.5l12.0 -7.2" stroke="#fff" stroke-width="2" fill="none"/>
<rect x="923.80" y="1555.10" width="712.00" height="177.70" fill="none" stroke="#000" stroke-width="1.9"/>
<path d="M923.80 1733.70L923.80 1740.30" stroke="#000" stroke-width="1.9" />
<text x="923.80" y="1763.50" text-anchor="middle">−0.6</text>
<path d="M1042.47 1733.70L1042.47 1740.30" stroke="#000" stroke-width="1.9" />
<text x="1042.47" y="1763.50" text-anchor="middle">−0.4</text>
<path d="M1161.13 1733.70L1161.13 1740.30" stroke="#000" stroke-width="1.9" />
<text x="1161.13" y="1763.50" text-anchor="middle">−0.2</text>
<path d="M1279.80 1733.70L1279.80 1740.30" stroke="#000" stroke-width="1.9" />
<text x="1279.80" y="1763.50" text-anchor="middle">0.0</text>
<path d="M1398.47 1733.70L1398.47 1740.30" stroke="#000" stroke-width="1.9" />
<text x="1398.47" y="1763.50" text-anchor="middle">0.2</text>
<path d="M1517.13 1733.70L1517.13 1740.30" stroke="#000" stroke-width="1.9" />
<text x="1517.13" y="1763.50" text-anchor="middle">0.4</text>
<path d="M1635.80 1733.70L1635.80 1740.30" stroke="#000" stroke-width="1.9" />
<text x="1635.80" y="1763.50" text-anchor="middle">0.6</text>
<path d="M922.90 1703.18L916.30 1703.18" stroke="#000" stroke-width="1.9" />
<text x="908.50" y="1710.78" text-anchor="end">−0.1</text>
<path d="M922.90 1643.95L916.30 1643.95" stroke="#000" stroke-width="1.9" />
<text x="908.50" y="1651.55" text-anchor="end">0.0</text>
<path d="M922.90 1584.72L916.30 1584.72" stroke="#000" stroke-width="1.9" />
<text x="908.50" y="1592.32" text-anchor="end">0.1</text>
<text transform="translate(857.30 1643.95) rotate(-90)" text-anchor="middle" font-family="Liberation Serif, serif" font-size="27.5"><tspan font-style="italic">k</tspan><tspan font-style="italic" font-size="19.8" dy="5">y</tspan><tspan dy="-5"> (π/Λ)</tspan></text>
<text x="1279.80" y="1801.10" text-anchor="middle" font-family="Liberation Serif, serif" font-size="27.5"><tspan font-style="italic">k</tspan><tspan font-style="italic" font-size="19.8" dy="5">x</tspan><tspan dy="-5"> (π/Λ)</tspan></text>
<rect x="1674.00" y="1101.50" width="22.80" height="178.70" fill="none" stroke="#000" stroke-width="1.6"/>
<path d="M1697.70 1250.42L1704.30 1250.42" stroke="#000" stroke-width="1.9" />
<text x="1713.00" y="1258.02">4</text>
<path d="M1697.70 1190.85L1704.30 1190.85" stroke="#000" stroke-width="1.9" />
<text x="1713.00" y="1198.45">6</text>
<path d="M1697.70 1131.28L1704.30 1131.28" stroke="#000" stroke-width="1.9" />
<text x="1713.00" y="1138.88">8</text>
<text transform="translate(1752.00 1190.85) rotate(-90)" text-anchor="middle">log(<tspan font-family="Liberation Serif, serif" font-style="italic" font-size="23">Q</tspan>)</text>
<rect x="1674.00" y="1328.20" width="22.80" height="177.70" fill="none" stroke="#000" stroke-width="1.6"/>
<path d="M1697.70 1505.90L1704.30 1505.90" stroke="#000" stroke-width="1.9" />
<text x="1713.00" y="1513.50">−90</text>
<path d="M1697.70 1461.48L1704.30 1461.48" stroke="#000" stroke-width="1.9" />
<text x="1713.00" y="1469.08">−45</text>
<path d="M1697.70 1417.05L1704.30 1417.05" stroke="#000" stroke-width="1.9" />
<text x="1713.00" y="1424.65">0</text>
<path d="M1697.70 1372.62L1704.30 1372.62" stroke="#000" stroke-width="1.9" />
<text x="1713.00" y="1380.22">45</text>
<path d="M1697.70 1328.20L1704.30 1328.20" stroke="#000" stroke-width="1.9" />
<text x="1713.00" y="1335.80">90</text>
<text transform="translate(1777.5 1417.05) rotate(-90)" text-anchor="middle"><tspan font-family="Liberation Serif, serif" font-style="italic" font-size="23">ψ</tspan> (degree)</text>
<rect x="1674.00" y="1555.10" width="22.80" height="177.70" fill="none" stroke="#000" stroke-width="1.6"/>
<path d="M1697.70 1732.80L1704.30 1732.80" stroke="#000" stroke-width="1.9" />
<text x="1713.00" y="1740.40">−90</text>
<path d="M1697.70 1688.38L1704.30 1688.38" stroke="#000" stroke-width="1.9" />
<text x="1713.00" y="1695.97">−45</text>
<path d="M1697.70 1643.95L1704.30 1643.95" stroke="#000" stroke-width="1.9" />
<text x="1713.00" y="1651.55">0</text>
<path d="M1697.70 1599.52L1704.30 1599.52" stroke="#000" stroke-width="1.9" />
<text x="1713.00" y="1607.12">45</text>
<path d="M1697.70 1555.10L1704.30 1555.10" stroke="#000" stroke-width="1.9" />
<text x="1713.00" y="1562.70">90</text>
<text transform="translate(1777.5 1643.95) rotate(-90)" text-anchor="middle"><tspan font-family="Liberation Serif, serif" font-style="italic" font-size="23">ψ</tspan> (degree)</text>
<path d="M240.1 1370.1L207.6 1369.2" stroke="#2b2b2b" stroke-opacity="0.9" stroke-width="4"/>
<path d="M194.65 1368.85L209.82 1362.75L209.47 1375.74Z" fill="#2b2b2b"/>
<circle cx="267.1" cy="1368.9" r="28.2" fill="#0a0a0a" fill-opacity="0.78" stroke="#222" stroke-width="1.2"/>
<text x="267.1" y="1377.3" text-anchor="middle" fill="#fff" font-size="24">+1/2</text>
<path d="M240.1 1466.5L207.6 1465.6" stroke="#2b2b2b" stroke-opacity="0.9" stroke-width="4"/>
<path d="M194.65 1465.25L209.82 1459.15L209.47 1472.14Z" fill="#2b2b2b"/>
<circle cx="267.1" cy="1465.3" r="28.2" fill="#0a0a0a" fill-opacity="0.78" stroke="#222" stroke-width="1.2"/>
<text x="267.1" y="1473.7" text-anchor="middle" fill="#fff" font-size="24">+1/2</text>
<path d="M664.1 1370.1L696.7 1369.2" stroke="#2b2b2b" stroke-opacity="0.9" stroke-width="4"/>
<path d="M709.65 1368.85L694.83 1375.74L694.48 1362.75Z" fill="#2b2b2b"/>
<circle cx="637.1" cy="1368.9" r="28.2" fill="#0a0a0a" fill-opacity="0.78" stroke="#222" stroke-width="1.2"/>
<text x="637.1" y="1377.3" text-anchor="middle" fill="#fff" font-size="24">+1/2</text>
<path d="M664.1 1466.5L696.7 1465.6" stroke="#2b2b2b" stroke-opacity="0.9" stroke-width="4"/>
<path d="M709.65 1465.25L694.83 1472.14L694.48 1459.15Z" fill="#2b2b2b"/>
<circle cx="637.1" cy="1465.3" r="28.2" fill="#0a0a0a" fill-opacity="0.78" stroke="#222" stroke-width="1.2"/>
<text x="637.1" y="1473.7" text-anchor="middle" fill="#fff" font-size="24">+1/2</text>
<path d="M451.8 1375.1L451.8 1396.6" stroke="#2b2b2b" stroke-opacity="0.9" stroke-width="4"/>
<path d="M451.80 1409.55L445.30 1394.55L458.30 1394.55Z" fill="#2b2b2b"/>
<circle cx="451.8" cy="1355.8" r="18.8" fill="#0a0a0a" fill-opacity="0.78" stroke="#222" stroke-width="1.2"/>
<text x="451.8" y="1363.5" text-anchor="middle" fill="#fff" font-size="22">−1</text>
<path d="M451.8 1601.9L451.8 1623.4" stroke="#2b2b2b" stroke-opacity="0.9" stroke-width="4"/>
<path d="M451.80 1636.45L445.30 1621.45L458.30 1621.45Z" fill="#2b2b2b"/>
<circle cx="451.8" cy="1582.6" r="18.8" fill="#0a0a0a" fill-opacity="0.78" stroke="#222" stroke-width="1.2"/>
<text x="451.8" y="1590.3" text-anchor="middle" fill="#fff" font-size="22">+1</text>
</svg>
</div></body></html>
